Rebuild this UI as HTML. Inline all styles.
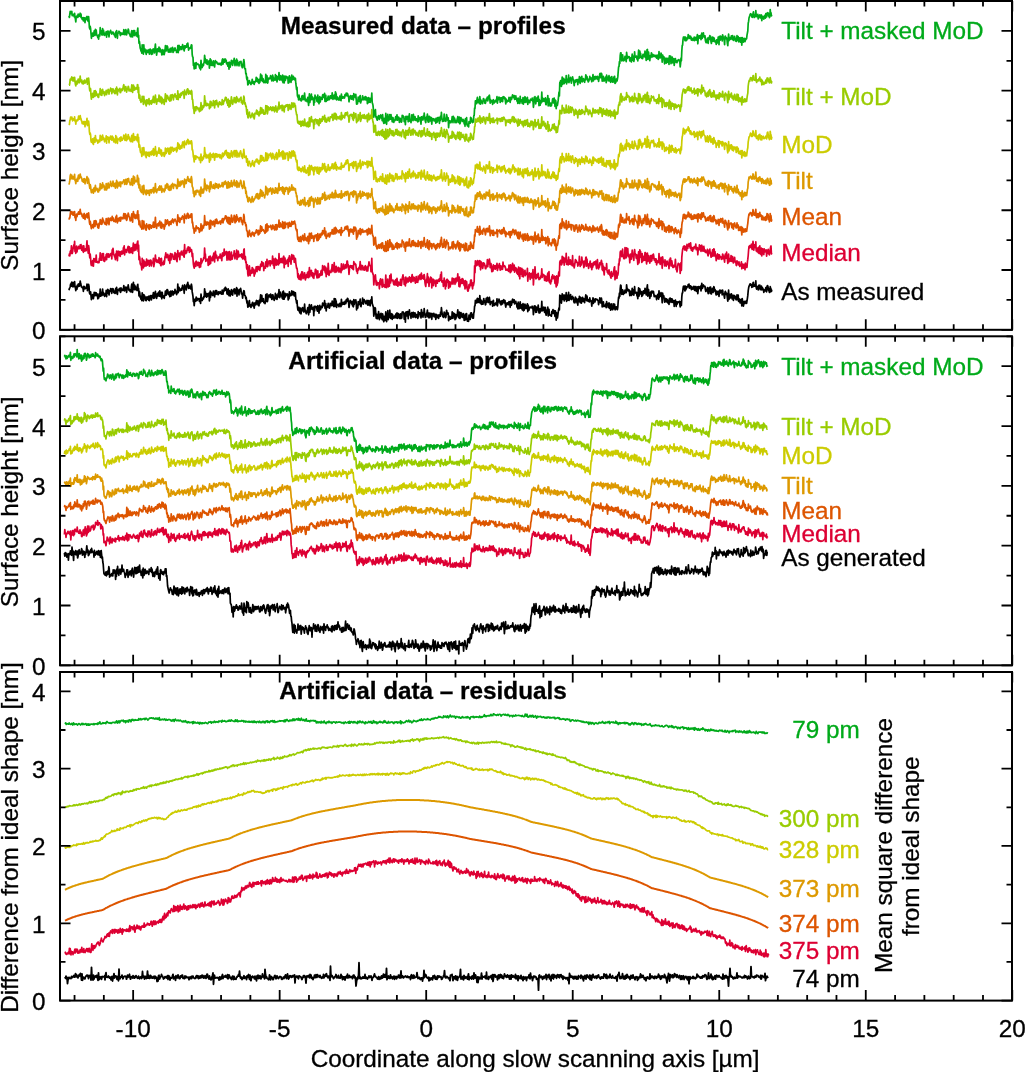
<!DOCTYPE html><html><head><meta charset="utf-8"><style>html,body{margin:0;padding:0;background:#fff;width:1025px;height:1072px;overflow:hidden}</style></head><body><svg width="1025" height="1072" viewBox="0 0 1025 1072" style="display:block;will-change:transform">
<rect width="1025" height="1072" fill="#fff"/>
<path d="M69 290.3l0.4 -1.8 0.4 -0.7 0.4 -1.1 0.4 -2.7 0.4 2.1 0.4 -3.1 0.4 -0.9 0.4 4.4 0.4 -1.4 0.4 1.8 0.4 -4.4 0.4 2.5 0.4 1 0.4 -4.5 0.4 5.5 0.4 0.9 0.4 2.7 0.4 -4 0.4 0.1 0.4 2.4 0.4 -4.1 0.4 2 0.4 -2.8 0.4 -0.3 0.4 2.2 0.4 0 0.4 -2 0.4 -3.1 0.4 2.3 0.4 1.5 0.4 2.1 0.4 -0.4 0.4 1.1 0.4 0.3 0.4 0.2 0.4 3.2 0.4 -4.9 0.4 0.9 0.4 -0.6 0.4 2.2 0.4 -0.9 0.4 0.2 0.4 -0.2 0.4 -0.7 0.4 -3.1 0.4 6.4 0.4 -4.8 0.4 3.5 0.4 -4.9 0.4 1.7 0.4 6.5 0.4 1.4 0.4 -1.8 0.4 -0.4 0.4 3.8 0.4 4 0.4 -2 0.4 0.4 0.4 -3.3 0.4 2.3 0.4 1.7 0.4 -2.8 0.4 -3.5 0.4 1.3 0.4 2 0.4 -3.1 0.4 2.9 0.4 -2.6 0.4 2.7 0.4 -0.2 0.4 -1.4 0.4 4.8 0.4 -2.3 0.4 1.5 0.4 -2.4 0.4 -2.1 0.4 2.8 0.4 -7.3 0.4 7.1 0.4 -1.7 0.4 -1.9 0.4 3.2 0.4 -2.5 0.4 -4.1 0.4 5.9 0.4 -2.7 0.4 2.5 0.4 0 0.4 1.6 0.4 -1.9 0.4 -1.2 0.4 2.2 0.4 -5.1 0.4 6.2 0.4 -5.3 0.4 1.8 0.4 -3.7 0.4 0.6 0.4 0.7 0.4 4.3 0.4 -2.6 0.4 -1.8 0.4 0.4 0.4 -2.3 0.4 2.4 0.4 -0.2 0.4 2.4 0.4 -4.6 0.4 1.8 0.4 -1.1 0.4 -0.4 0.4 3.6 0.4 -1.6 0.4 1.9 0.4 0.4 0.4 -0.9 0.4 -4.1 0.4 4.5 0.4 -5.4 0.4 3 0.4 3.9 0.4 -4.2 0.4 0 0.4 0.2 0.4 -1 0.4 -0.8 0.4 -0.1 0.4 3.4 0.4 0.6 0.4 -4.6 0.4 2.8 0.4 -0.5 0.4 0.2 0.4 -1.3 0.4 1.5 0.4 -1.4 0.4 -3.4 0.4 1.9 0.4 3.3 0.4 -1.5 0.4 -0.7 0.4 -1.7 0.4 2 0.4 3.4 0.4 -2.8 0.4 -2.4 0.4 1.6 0.4 -3.9 0.4 2.4 0.4 3.2 0.4 -1.3 0.4 1.1 0.4 1.1 0.4 -0.8 0.4 1.3 0.4 -5.6 0.4 -2.3 0.4 4.1 0.4 4.2 0.4 -4.9 0.4 -5.1 0.4 4.5 0.4 2.6 0.4 -4.4 0.4 4.9 0.4 -3.6 0.4 2.7 0.4 -1 0.4 1 0.4 1.5 0.4 -5 0.4 -1.1 0.4 6.2 0.4 -2.3 0.4 7.6 0.4 -4.5 0.4 1.6 0.4 4.3 0.4 0 0.4 1.9 0.4 -3.2 0.4 4.6 0.4 -7.8 0.4 3.8 0.4 -0.7 0.4 5 0.4 -6.4 0.4 1.8 0.4 -0.3 0.4 0.8 0.4 3.3 0.4 -0.8 0.4 1.4 0.4 -3.6 0.4 -0.1 0.4 2.2 0.4 -1.3 0.4 -1.4 0.4 3.7 0.4 -4 0.4 4.4 0.4 -3.9 0.4 0.1 0.4 -1.2 0.4 2.3 0.4 2 0.4 -3.6 0.4 -0.9 0.4 2.2 0.4 -1.8 0.4 -3.2 0.4 5.9 0.4 -3 0.4 2.5 0.4 -4.5 0.4 -2.2 0.4 4.4 0.4 -0.4 0.4 3.1 0.4 -2.4 0.4 -2.3 0.4 2.4 0.4 -3.2 0.4 1.6 0.4 -2.6 0.4 4.3 0.4 -5.4 0.4 4.7 0.4 1.1 0.4 -0.4 0.4 -3.9 0.4 6.5 0.4 -6.4 0.4 3 0.4 1.8 0.4 -1 0.4 -0.2 0.4 2.4 0.4 -2.6 0.4 -0.7 0.4 -3.9 0.4 0 0.4 4 0.4 -3.3 0.4 -2.3 0.4 0 0.4 0.7 0.4 4.2 0.4 -1.3 0.4 1.6 0.4 -2.6 0.4 4.5 0.4 -4.4 0.4 -1.1 0.4 4.9 0.4 -3.2 0.4 -1 0.4 -0.9 0.4 0.2 0.4 3.9 0.4 -0.7 0.4 -2.5 0.4 0.3 0.4 1.3 0.4 -4.1 0.4 2.6 0.4 -1 0.4 0.6 0.4 3 0.4 -1.4 0.4 -0.4 0.4 -8.7 0.4 8.6 0.4 -2.9 0.4 -2.5 0.4 1.2 0.4 2.2 0.4 0 0.4 -1.3 0.4 0 0.4 -0.9 0.4 1.7 0.4 -2.3 0.4 -2.5 0.4 2.5 0.4 0.6 0.4 0.2 0.4 4.6 0.4 -8.5 0.4 2.7 0.4 -1.4 0.4 0.3 0.4 3.6 0.4 -2.1 0.4 -3.4 0.4 -0.5 0.4 -1.6 0.4 3.3 0.4 2.8 0.4 -3.1 0.4 2 0.4 0.6 0.4 -1.1 0.4 1.9 0.4 -3.3 0.4 -1.3 0.4 2.1 0.4 5.6 0.4 2.1 0.4 2.6 0.4 5 0.4 -1.7 0.4 5.7 0.4 -4 0.4 -2.5 0.4 0.6 0.4 1.5 0.4 -4.2 0.4 1.1 0.4 2.4 0.4 -0.6 0.4 -1.2 0.4 0.4 0.4 -0.4 0.4 0 0.4 2.6 0.4 -0.8 0.4 -2.1 0.4 5 0.4 -9.2 0.4 3.9 0.4 0.8 0.4 1.6 0.4 -1.9 0.4 -0.8 0.4 1.1 0.4 -2.5 0.4 0.6 0.4 -8.1 0.4 3.6 0.4 -0.5 0.4 4.4 0.4 0.3 0.4 0.4 0.4 -3.5 0.4 2.9 0.4 -2.7 0.4 1.7 0.4 0.6 0.4 -2.9 0.4 7.8 0.4 -3.7 0.4 -6.2 0.4 6.2 0.4 -5.2 0.4 1.6 0.4 -0.6 0.4 1.2 0.4 1.2 0.4 -1.2 0.4 -3.2 0.4 3 0.4 1.1 0.4 1.6 0.4 -3.1 0.4 -3.2 0.4 1.4 0.4 2.2 0.4 -3.4 0.4 1.5 0.4 1.6 0.4 -1 0.4 1.9 0.4 -2.8 0.4 0.3 0.4 0.1 0.4 1.2 0.4 -1.9 0.4 1.7 0.4 0.3 0.4 0.1 0.4 0.5 0.4 -4 0.4 0.9 0.4 3 0.4 -3 0.4 0.4 0.4 -2.6 0.4 1.6 0.4 -2.6 0.4 -0.6 0.4 2.8 0.4 -1.7 0.4 1.6 0.4 4 0.4 -3.1 0.4 3.6 0.4 -5.6 0.4 3.9 0.4 2.8 0.4 -5.1 0.4 1.5 0.4 3.9 0.4 -1.4 0.4 -0.1 0.4 -4.7 0.4 1.7 0.4 2.4 0.4 1.3 0.4 -3 0.4 -2.2 0.4 0.4 0.4 -1.4 0.4 1 0.4 4 0.4 -2.5 0.4 -2.4 0.4 4.2 0.4 -5.7 0.4 8.6 0.4 -7.2 0.4 1.5 0.4 1.7 0.4 -0.5 0.4 3.3 0.4 -5.4 0.4 1.8 0.4 -1.6 0.4 -1.3 0.4 1.9 0.4 3.7 0.4 -0.6 0.4 0.4 0.4 4.3 0.4 -3.9 0.4 -2 0.4 -1.5 0.4 0.2 0.4 4.3 0.4 0.2 0.4 0.8 0.4 2.5 0.4 -1.4 0.4 3.4 0.4 2.4 0.4 -2.1 0.4 6.1 0.4 -1.1 0.4 -1.7 0.4 2 0.4 -5.7 0.4 4.9 0.4 -0.5 0.4 1.2 0.4 1.2 0.4 -3 0.4 -0.3 0.4 -0.8 0.4 -0.9 0.4 3.5 0.4 0.4 0.4 -2.9 0.4 4.7 0.4 -3.4 0.4 -1.8 0.4 0.6 0.4 1.3 0.4 -3.6 0.4 -0.8 0.4 3.6 0.4 -2.4 0.4 -0.6 0.4 4.1 0.4 -3.8 0.4 4.5 0.4 -5.8 0.4 3.3 0.4 -3.8 0.4 -4.6 0.4 7 0.4 -2.1 0.4 -4.4 0.4 4.9 0.4 0.8 0.4 -1.9 0.4 -0.6 0.4 4.1 0.4 -0.1 0.4 -0.7 0.4 1.7 0.4 -1.4 0.4 -7.5 0.4 3.2 0.4 3.3 0.4 -7.4 0.4 7.8 0.4 -2.1 0.4 -3 0.4 0.2 0.4 -1.8 0.4 1.2 0.4 0.3 0.4 0.9 0.4 -3.3 0.4 3.5 0.4 -2.5 0.4 4.4 0.4 -1.1 0.4 -3.5 0.4 0.2 0.4 3.8 0.4 -1.5 0.4 3 0.4 -2 0.4 -1 0.4 -4 0.4 2 0.4 3.5 0.4 -3.8 0.4 4.4 0.4 -2.1 0.4 -0.5 0.4 -3.5 0.4 3.7 0.4 -7.4 0.4 7.1 0.4 0.8 0.4 -5.3 0.4 1.6 0.4 2.2 0.4 -0.5 0.4 -0.3 0.4 3 0.4 -6.3 0.4 7.3 0.4 -8.1 0.4 3.8 0.4 4.2 0.4 -5.5 0.4 -0.3 0.4 3.7 0.4 -2.8 0.4 1.3 0.4 0 0.4 -1.7 0.4 1 0.4 -0.4 0.4 5.6 0.4 -4.2 0.4 2.8 0.4 -6.7 0.4 4.2 0.4 -2 0.4 0.2 0.4 1.2 0.4 -2.2 0.4 -2.4 0.4 2.4 0.4 1.5 0.4 -0.4 0.4 -2.7 0.4 2.6 0.4 1.6 0.4 -3.5 0.4 1.6 0.4 -1.2 0.4 6.5 0.4 0.8 0.4 3 0.4 -2.5 0.4 5.6 0.4 3.3 0.4 0.8 0.4 0.3 0.4 -3.3 0.4 3.2 0.4 2.3 0.4 -1.9 0.4 -2.7 0.4 5.7 0.4 -2.8 0.4 -2.1 0.4 0.3 0.4 -1.8 0.4 3.3 0.4 -0.1 0.4 1.3 0.4 -3 0.4 -4.8 0.4 5.8 0.4 1.9 0.4 -0.8 0.4 2.6 0.4 -1.9 0.4 0.8 0.4 -2.9 0.4 -2 0.4 2.1 0.4 5 0.4 -6.9 0.4 -3.4 0.4 8 0.4 -3.2 0.4 -3.1 0.4 0 0.4 -1.3 0.4 4.2 0.4 0.3 0.4 -1.9 0.4 2.2 0.4 -2.1 0.4 8 0.4 -9.3 0.4 4.7 0.4 -4.5 0.4 0.4 0.4 -0.5 0.4 1 0.4 -0.6 0.4 3.1 0.4 1.2 0.4 -5.5 0.4 4.5 0.4 -1.4 0.4 4.5 0.4 -5.7 0.4 -2.1 0.4 4.5 0.4 -0.3 0.4 -2.6 0.4 -0.5 0.4 1.1 0.4 0 0.4 -4.5 0.4 0.1 0.4 2.4 0.4 -0.1 0.4 0 0.4 -4.8 0.4 7.6 0.4 -2.4 0.4 -2.4 0.4 7.4 0.4 -4.8 0.4 1.3 0.4 -0.1 0.4 -1.6 0.4 -2.3 0.4 3.4 0.4 -0.3 0.4 1.7 0.4 -1.2 0.4 -3.6 0.4 0.5 0.4 0.5 0.4 1.2 0.4 -1.6 0.4 -3 0.4 1.5 0.4 3.2 0.4 -0.1 0.4 0.9 0.4 -7.9 0.4 5.5 0.4 2.2 0.4 -7.5 0.4 2.1 0.4 0.1 0.4 6.4 0.4 -3 0.4 -0.1 0.4 0.9 0.4 -0.9 0.4 1.5 0.4 0.9 0.4 -1.7 0.4 -1.6 0.4 1.9 0.4 0.4 0.4 0.8 0.4 -7.1 0.4 4.3 0.4 0.9 0.4 -0.7 0.4 -1 0.4 -0.6 0.4 1.9 0.4 0.1 0.4 -0.3 0.4 -2.6 0.4 -0.1 0.4 2.3 0.4 -3.8 0.4 2 0.4 -0.8 0.4 -2.6 0.4 0.1 0.4 1.9 0.4 1.8 0.4 5.3 0.4 -2.3 0.4 -2.9 0.4 -2 0.4 0.7 0.4 1.2 0.4 0.7 0.4 1.1 0.4 -2.7 0.4 4.5 0.4 -2.4 0.4 3.4 0.4 -7.2 0.4 4.9 0.4 -1.8 0.4 -2.4 0.4 1.1 0.4 -1.5 0.4 2.8 0.4 7.2 0.4 -3 0.4 1.4 0.4 -0.4 0.4 -6.3 0.4 3.2 0.4 -1.4 0.4 0.7 0.4 -2.7 0.4 -2.3 0.4 6.9 0.4 0.7 0.4 -3.6 0.4 -0.3 0.4 0.7 0.4 -5.4 0.4 5.4 0.4 0.5 0.4 -2.2 0.4 -2.1 0.4 1.7 0.4 0.3 0.4 -0.5 0.4 2.5 0.4 -1.1 0.4 0.4 0.4 -2.7 0.4 4 0.4 0.8 0.4 -0.1 0.4 -4.5 0.4 0.4 0.4 4.1 0.4 -2.7 0.4 3.5 0.4 -5.7 0.4 2.4 0.4 0.3 0.4 -6 0.4 6.3 0.4 1.8 0.4 1 0.4 1.4 0.4 8.9 0.4 -2.9 0.4 0.4 0.4 -6 0.4 0.6 0.4 5.2 0.4 4.8 0.4 -4.2 0.4 3.2 0.4 1.4 0.4 -1.5 0.4 -1.8 0.4 -3.8 0.4 5.2 0.4 2.8 0.4 -3 0.4 -2.5 0.4 0.2 0.4 -1 0.4 4.8 0.4 -3.8 0.4 5.4 0.4 -5.8 0.4 2.1 0.4 3.8 0.4 1.9 0.4 -5.3 0.4 0.5 0.4 3.5 0.4 -2.3 0.4 -6.3 0.4 5.4 0.4 4.5 0.4 -7.9 0.4 4.8 0.4 -8 0.4 9 0.4 -5.6 0.4 3 0.4 0.4 0.4 -7.3 0.4 5 0.4 3.4 0.4 -3.9 0.4 0 0.4 -0.9 0.4 5.7 0.4 -4.8 0.4 1.9 0.4 1 0.4 0.6 0.4 -1.7 0.4 -0.4 0.4 1.7 0.4 -1.2 0.4 -2.5 0.4 3.8 0.4 -1.4 0.4 -3.6 0.4 5.5 0.4 -1.6 0.4 0 0.4 -3 0.4 1.7 0.4 3 0.4 0 0.4 -3.2 0.4 -1.3 0.4 4.6 0.4 -1.5 0.4 0.9 0.4 -5.9 0.4 0.8 0.4 -0.9 0.4 0.7 0.4 0.1 0.4 6.4 0.4 -5.2 0.4 2.2 0.4 6 0.4 -9.9 0.4 -0.2 0.4 4 0.4 -1.3 0.4 -3.1 0.4 -0.1 0.4 7.1 0.4 -4.2 0.4 -1 0.4 -3.5 0.4 4.9 0.4 -1.3 0.4 0.2 0.4 4.6 0.4 -4.8 0.4 -0.9 0.4 0.2 0.4 2 0.4 2.6 0.4 -5.1 0.4 1.2 0.4 0.3 0.4 3.2 0.4 -4.2 0.4 3.6 0.4 1.1 0.4 -3 0.4 0.1 0.4 2.2 0.4 -0.9 0.4 2.5 0.4 -6.8 0.4 5.3 0.4 -3.4 0.4 -0.7 0.4 0.1 0.4 0.7 0.4 1 0.4 3.3 0.4 -8.3 0.4 1.9 0.4 5 0.4 -2.2 0.4 2.9 0.4 -4.5 0.4 1.6 0.4 -5.7 0.4 4.7 0.4 2.3 0.4 1.9 0.4 -0.2 0.4 -2.4 0.4 -1.9 0.4 0.2 0.4 -3.2 0.4 6.8 0.4 -0.5 0.4 -3.2 0.4 4.9 0.4 -5 0.4 4.5 0.4 -2.3 0.4 -1.9 0.4 3.2 0.4 -2.8 0.4 5.6 0.4 -5.6 0.4 1.1 0.4 0.2 0.4 0.9 0.4 -2.5 0.4 3.5 0.4 -1 0.4 -1.3 0.4 -0.3 0.4 5.2 0.4 -5.1 0.4 0.8 0.4 2.4 0.4 -0.1 0.4 -2.5 0.4 1.5 0.4 1.9 0.4 -3.5 0.4 1.5 0.4 -1.3 0.4 1.2 0.4 -4.3 0.4 2.4 0.4 -6.7 0.4 3.3 0.4 2.8 0.4 2.5 0.4 -1.8 0.4 2.9 0.4 -1.7 0.4 -3.5 0.4 2.6 0.4 -1.7 0.4 4.6 0.4 -0.4 0.4 -2.1 0.4 -4.9 0.4 1.4 0.4 1.2 0.4 1.5 0.4 -1.3 0.4 7.5 0.4 -1 0.4 -1.3 0.4 -2 0.4 1.5 0.4 1.4 0.4 -0.7 0.4 -1.4 0.4 1.2 0.4 -6.4 0.4 3.8 0.4 2.6 0.4 -5.3 0.4 0.2 0.4 1 0.4 -0.4 0.4 5.8 0.4 -5 0.4 4.1 0.4 -1.7 0.4 -2.3 0.4 0.5 0.4 -1.9 0.4 -3.4 0.4 7.1 0.4 -1.1 0.4 2 0.4 -5.8 0.4 6.3 0.4 -1.4 0.4 0.6 0.4 -5.1 0.4 3.4 0.4 -0.4 0.4 0.7 0.4 1.3 0.4 -3.9 0.4 0.2 0.4 2.5 0.4 4 0.4 -4.2 0.4 4 0.4 -5.9 0.4 2.3 0.4 2.6 0.4 -5.4 0.4 5.5 0.4 1.9 0.4 -2.5 0.4 2.1 0.4 0.6 0.4 -6.1 0.4 2 0.4 0 0.4 2.2 0.4 -6.2 0.4 0.4 0.4 -0.8 0.4 1.8 0.4 2.9 0.4 0.6 0.4 -3.8 0.4 3.9 0.4 -5.3 0.4 -1.2 0.4 -5.7 0.4 0 0.4 -5.6 0.4 0.9 0.4 -0.6 0.4 2.3 0.4 -3.6 0.4 -1 0.4 3.9 0.4 0 0.4 -0.8 0.4 -3 0.4 4.2 0.4 -7.1 0.4 4.4 0.4 3.2 0.4 -3.1 0.4 4.2 0.4 -3.1 0.4 1.3 0.4 1.7 0.4 -0.1 0.4 -3 0.4 -2.6 0.4 3.6 0.4 -1.4 0.4 2.1 0.4 2.1 0.4 -0.6 0.4 -6 0.4 3.8 0.4 -1.5 0.4 -3.3 0.4 4.2 0.4 1 0.4 -0.3 0.4 -4.1 0.4 -0.8 0.4 3 0.4 4.4 0.4 -2.7 0.4 1 0.4 -1.5 0.4 0.8 0.4 -0.6 0.4 4.4 0.4 -4.3 0.4 -1.5 0.4 5.1 0.4 -1 0.4 1 0.4 -1.5 0.4 -0.8 0.4 0.2 0.4 1.3 0.4 -1.4 0.4 -4.4 0.4 7.1 0.4 -2.8 0.4 -1.8 0.4 0.6 0.4 -2.8 0.4 1.5 0.4 0.8 0.4 2.2 0.4 -1.9 0.4 3.2 0.4 -3.9 0.4 3.5 0.4 -4 0.4 3.2 0.4 -1.9 0.4 -0.7 0.4 -1.4 0.4 1.3 0.4 2 0.4 -2.4 0.4 4.5 0.4 2 0.4 -3.9 0.4 1.8 0.4 -1 0.4 -1.1 0.4 1.4 0.4 -0.6 0.4 1 0.4 -3.2 0.4 1.9 0.4 -0.9 0.4 4.8 0.4 -5.9 0.4 3.6 0.4 0.2 0.4 -1.6 0.4 -3.1 0.4 -1.3 0.4 0.4 0.4 2.6 0.4 0.1 0.4 -2.5 0.4 4.1 0.4 -0.6 0.4 -0.4 0.4 -1.5 0.4 2.3 0.4 0 0.4 3.5 0.4 -3.1 0.4 4.7 0.4 -6.7 0.4 2.7 0.4 3.8 0.4 -0.1 0.4 0 0.4 -6.7 0.4 3.4 0.4 1.9 0.4 1 0.4 -3.2 0.4 4.9 0.4 -2.3 0.4 -4 0.4 7.3 0.4 -3.5 0.4 2.9 0.4 -5.7 0.4 -0.3 0.4 4.3 0.4 -0.4 0.4 -2.4 0.4 2.8 0.4 -2.9 0.4 -1.8 0.4 7.8 0.4 -6.5 0.4 2.8 0.4 2.3 0.4 -2.6 0.4 0.4 0.4 -0.9 0.4 0 0.4 0.5 0.4 -0.3 0.4 0.5 0.4 -1.6 0.4 2.4 0.4 -1 0.4 7 0.4 -3.4 0.4 -5.2 0.4 3.3 0.4 -3.4 0.4 2.7 0.4 3.7 0.4 -5.3 0.4 5.1 0.4 -4.5 0.4 2.4 0.4 -0.3 0.4 -4.7 0.4 3.8 0.4 4.1 0.4 -4 0.4 4 0.4 -0.9 0.4 -3.5 0.4 2.5 0.4 -1.7 0.4 -8 0.4 9.5 0.4 -0.1 0.4 -2.8 0.4 0.3 0.4 -1.2 0.4 3.1 0.4 2.2 0.4 -3.7 0.4 -1.1 0.4 6.3 0.4 1.4 0.4 -4.9 0.4 2.3 0.4 -0.3 0.4 -5.1 0.4 8.8 0.4 -1.5 0.4 -5.2 0.4 5.6 0.4 -0.2 0.4 0.7 0.4 -0.2 0.4 -0.3 0.4 1.3 0.4 -4.7 0.4 1.8 0.4 -2.5 0.4 -1.2 0.4 3.7 0.4 -0.7 0.4 -2.1 0.4 3.2 0.4 2.7 0.4 -5.5 0.4 1.8 0.4 7.5 0.4 -7.3 0.4 5.1 0.4 0 0.4 -2.5 0.4 -3 0.4 -2.9 0.4 -1.7 0.4 2.1 0.4 -14.9 0.4 2.1 0.4 -1.3 0.4 4 0.4 3.3 0.4 -3.6 0.4 -5.8 0.4 5.6 0.4 -0.9 0.4 -3.3 0.4 1 0.4 4.7 0.4 -5.8 0.4 1.8 0.4 1.7 0.4 0.8 0.4 -6.7 0.4 8.7 0.4 -6.3 0.4 2.4 0.4 2.7 0.4 -1.9 0.4 -6 0.4 8.2 0.4 -1.1 0.4 -1.8 0.4 -0.6 0.4 -2.5 0.4 4.4 0.4 0.7 0.4 -2.5 0.4 0.4 0.4 -1.1 0.4 2.4 0.4 -0.9 0.4 3.8 0.4 0.9 0.4 -0.9 0.4 1.1 0.4 -5.7 0.4 4.4 0.4 -3.2 0.4 0.4 0.4 4.2 0.4 -3.1 0.4 5.3 0.4 -4.9 0.4 -1.6 0.4 2.7 0.4 -5 0.4 3.9 0.4 2.5 0.4 -5.3 0.4 0.8 0.4 4.9 0.4 -4.6 0.4 2.9 0.4 -4 0.4 4 0.4 -2.9 0.4 3 0.4 -1 0.4 2.2 0.4 -4.2 0.4 -0.7 0.4 -2.9 0.4 2.4 0.4 3.3 0.4 -4.4 0.4 4.4 0.4 -1.3 0.4 2 0.4 0.1 0.4 -1.7 0.4 2.2 0.4 -4.1 0.4 2.7 0.4 0.3 0.4 -0.1 0.4 1.7 0.4 3.7 0.4 -5.1 0.4 -0.1 0.4 -3 0.4 5.5 0.4 -4.5 0.4 1 0.4 0.5 0.4 1.6 0.4 -2.9 0.4 -0.3 0.4 0.7 0.4 -0.2 0.4 0.6 0.4 -0.3 0.4 0.9 0.4 0.3 0.4 3.8 0.4 -2.5 0.4 -0.3 0.4 -4 0.4 0.7 0.4 4.5 0.4 -1.6 0.4 -3.3 0.4 2.7 0.4 6.2 0.4 -3.7 0.4 3.2 0.4 -4.7 0.4 4.7 0.4 0 0.4 -1 0.4 -0.4 0.4 1.2 0.4 -2.4 0.4 3.8 0.4 -6 0.4 2 0.4 1 0.4 -0.9 0.4 3.6 0.4 -0.9 0.4 -3.7 0.4 5.4 0.4 -0.8 0.4 -3.2 0.4 6 0.4 -1.2 0.4 -3.1 0.4 -2.1 0.4 4.8 0.4 1.1 0.4 -0.6 0.4 -0.8 0.4 -4.4 0.4 0.2 0.4 0.1 0.4 5.4 0.4 0.1 0.4 -1.2 0.4 -1.7 0.4 0.2 0.4 1 0.4 1.6 0.4 -2.6 0.4 -5.6 0.4 -4.2 0.4 0.9 0.4 -4.9 0.4 3.3 0.4 -7.6 0.4 -3.7 0.4 0.4 0.4 5.2 0.4 3.5 0.4 -4.4 0.4 0 0.4 1 0.4 3.6 0.4 -1.8 0.4 0 0.4 0.4 0.4 -3.1 0.4 0.7 0.4 0.7 0.4 1.3 0.4 -7.9 0.4 3.3 0.4 2.3 0.4 -1.3 0.4 1.9 0.4 0 0.4 -1.2 0.4 2.1 0.4 3.7 0.4 -4.4 0.4 2.7 0.4 1.3 0.4 0.2 0.4 -3.4 0.4 -3.6 0.4 6.1 0.4 -1.7 0.4 -2.7 0.4 5.1 0.4 -3.7 0.4 -4.8 0.4 5.1 0.4 1.1 0.4 0 0.4 0.4 0.4 -1 0.4 3.5 0.4 -0.9 0.4 3.7 0.4 -5.7 0.4 -5 0.4 8.3 0.4 -2.6 0.4 -4.8 0.4 2.3 0.4 0.4 0.4 2.6 0.4 -2.5 0.4 4.9 0.4 -3.6 0.4 2.5 0.4 -3.6 0.4 -0.9 0.4 2.7 0.4 -0.3 0.4 -0.3 0.4 -4.7 0.4 1.6 0.4 1.7 0.4 3.4 0.4 -1.9 0.4 -5.5 0.4 -2.7 0.4 11.3 0.4 -2.7 0.4 -3.8 0.4 5.2 0.4 -0.7 0.4 4.2 0.4 -4.5 0.4 -1.9 0.4 4.3 0.4 -5 0.4 -0.1 0.4 1.7 0.4 -1.5 0.4 0.3 0.4 -0.4 0.4 2.5 0.4 2.9 0.4 -0.4 0.4 -0.8 0.4 0.8 0.4 0.6 0.4 -0.4 0.4 3.1 0.4 -4.3 0.4 2.7 0.4 -3.6 0.4 3.4 0.4 1.3 0.4 -8.3 0.4 6.5 0.4 -3.9 0.4 2.6 0.4 0.1 0.4 -3.5 0.4 1.8 0.4 2.4 0.4 6 0.4 -9.6 0.4 3.1 0.4 -0.8 0.4 0.4 0.4 3.1 0.4 3.1 0.4 -3 0.4 -0.6 0.4 0.4 0.4 2.9 0.4 -3 0.4 0.8 0.4 0 0.4 3.2 0.4 -2 0.4 -0.3 0.4 3.9 0.4 -5.9 0.4 2.5 0.4 -3 0.4 1.1 0.4 3.3 0.4 -3.5 0.4 0 0.4 0.2 0.4 3.1 0.4 0.2 0.4 -1.7 0.4 -0.1 0.4 5.8 0.4 -5.2 0.4 0.4 0.4 -1.5 0.4 2 0.4 4.4 0.4 -4.6 0.4 2.3 0.4 -1.4 0.4 -1 0.4 0.5 0.4 0 0.4 0 0.4 -1 0.4 2.9 0.4 2.6 0.4 -1.4 0.4 -3.8 0.4 3.8 0.4 -8.5 0.4 -3.7 0.4 -0.4 0.4 -3.8 0.4 -2.6 0.4 1.6 0.4 -2 0.4 3.6 0.4 1.4 0.4 -4.8 0.4 3.5 0.4 -1.2 0.4 -0.4 0.4 -1.4 0.4 0.1 0.4 0 0.4 -2.3 0.4 0.6 0.4 -1 0.4 4 0.4 -2.3 0.4 2 0.4 -1.9 0.4 1 0.4 2.7 0.4 -2.7 0.4 1.6 0.4 -0.2 0.4 0.8 0.4 -1.6 0.4 -1.2 0.4 1 0.4 3.2 0.4 -4 0.4 1.4 0.4 -1.3 0.4 4.7 0.4 -1.8 0.4 -1.7 0.4 -0.8 0.4 6.7 0.4 -3.8 0.4 -3.4 0.4 0.4 0.4 0.4 0.4 1.1 0.4 -1.2 0.4 -1.2 0.4 5 0.4 -4.4 0.4 -3.2 0.4 5 0.4 -0.5 0.4 -2.4 0.4 -0.5 0.4 1.3 0.4 0.1 0.4 -0.2 0.4 0.1 0.4 3.5 0.4 1.7 0.4 -1.8 0.4 0.9 0.4 -0.7 0.4 -2.3 0.4 4 0.4 2.1 0.4 -5.5 0.4 0.4 0.4 1 0.4 -2.3 0.4 6.1 0.4 -6.3 0.4 5.7 0.4 1.2 0.4 -5 0.4 0.4 0.4 -1.1 0.4 4.2 0.4 -1.1 0.4 -4.9 0.4 1 0.4 3.3 0.4 -1.3 0.4 1.7 0.4 2.6 0.4 1.1 0.4 -3.9 0.4 2.4 0.4 -0.1 0.4 1.2 0.4 -3.1 0.4 1.1 0.4 3.9 0.4 -5.4 0.4 -0.9 0.4 2.9 0.4 -2.4 0.4 -0.2 0.4 0.3 0.4 0.8 0.4 3.3 0.4 -4.7 0.4 2.6 0.4 1.2 0.4 0.1 0.4 2.3 0.4 1.9 0.4 -5.8 0.4 -1.1 0.4 2.1 0.4 1 0.4 -1.2 0.4 1.8 0.4 3.6 0.4 2.6 0.4 -6.9 0.4 -4.1 0.4 9.1 0.4 -4.3 0.4 -0.7 0.4 3.7 0.4 -2.4 0.4 -0.1 0.4 -1.7 0.4 4 0.4 1.2 0.4 -3.7 0.4 1.4 0.4 3.7 0.4 -5 0.4 1.3 0.4 -1 0.4 0.8 0.4 2.3 0.4 -2 0.4 3.1 0.4 -0.8 0.4 -4.3 0.4 3.4 0.4 1.6 0.4 -4.8 0.4 6.5 0.4 -2.8 0.4 0.8 0.4 2.3 0.4 1.1 0.4 -0.2 0.4 -3.3 0.4 1.4 0.4 5.2 0.4 -7.4 0.4 2.3 0.4 1.6 0.4 3.6 0.4 -2.2 0.4 -2.5 0.4 0.2 0.4 1.9 0.4 -1.3 0.4 -0.6 0.4 -0.7 0.4 2.5 0.4 -2.6 0.4 -2.5 0.4 -2.9 0.4 -4.7 0.4 -2.7 0.4 -1.9 0.4 -0.2 0.4 -1.7 0.4 0.9 0.4 -1.1 0.4 0.8 0.4 -0.1 0.4 2.7 0.4 -0.6 0.4 0 0.4 -4 0.4 -0.5 0.4 4.1 0.4 -0.7 0.4 -0.4 0.4 0.8 0.4 0 0.4 -5.3 0.4 6.7 0.4 1.6 0.4 -1.3 0.4 -1.1 0.4 -0.2 0.4 3.3 0.4 -4.4 0.4 1.3 0.4 1.5 0.4 -3.2 0.4 4.6 0.4 -0.5 0.4 0.1 0.4 -3.2 0.4 4 0.4 -2.7 0.4 0.9 0.4 1.5 0.4 -0.5 0.4 3.3 0.4 -2.7 0.4 1.2 0.4 -0.5 0.4 0.4 0.4 -3.4 0.4 2.2 0.4 2.1 0.4 -5.2 0.4 -1 0.4 0.3 0.4 1.9 0.4 2.9 0.4 -1.8 0.4 3.6 0.4 0 0.4 -5.8 0.4 1.6 0.4 0.6 0.4 2.6 0.4 -1.9" fill="none" stroke="#000000" stroke-width="1.7" stroke-linejoin="round"/>
<path d="M69 256.4l0.4 -2.6 0.4 2.2 0.4 -4.2 0.4 -1.1 0.4 2.7 0.4 -7.5 0.4 3.7 0.4 3.9 0.4 -1.5 0.4 -2.8 0.4 -2.1 0.4 -2.3 0.4 3.2 0.4 -6.6 0.4 10.1 0.4 -1.1 0.4 2.9 0.4 -4.7 0.4 -2.5 0.4 5.8 0.4 -4.3 0.4 1.2 0.4 0.1 0.4 -2.5 0.4 0.7 0.4 1.4 0.4 0.1 0.4 -3.8 0.4 0.5 0.4 -0.7 0.4 4 0.4 1.6 0.4 -0.6 0.4 1.2 0.4 -4.9 0.4 6.4 0.4 -6.5 0.4 5.3 0.4 -1 0.4 0.5 0.4 -1.8 0.4 2 0.4 -0.2 0.4 -4.7 0.4 -5 0.4 8.9 0.4 -0.9 0.4 4.3 0.4 -7.5 0.4 2.6 0.4 5.9 0.4 3.6 0.4 -3.6 0.4 3.8 0.4 6 0.4 1.5 0.4 0 0.4 -1.2 0.4 -3.8 0.4 5.4 0.4 0.2 0.4 -7.5 0.4 1.5 0.4 1.6 0.4 -1.2 0.4 -2.2 0.4 3.8 0.4 -7 0.4 7.1 0.4 -0.4 0.4 -0.1 0.4 0.8 0.4 -0.9 0.4 1 0.4 0 0.4 -4.2 0.4 1.5 0.4 -7.1 0.4 5.7 0.4 1.7 0.4 -0.6 0.4 0.6 0.4 -6.7 0.4 0.9 0.4 2.7 0.4 -3.5 0.4 7.4 0.4 -1.4 0.4 1.9 0.4 -3.4 0.4 -1.1 0.4 2.7 0.4 -5.2 0.4 5.1 0.4 -5.9 0.4 2.3 0.4 0.8 0.4 -0.9 0.4 -2 0.4 3.4 0.4 -1.5 0.4 0 0.4 -0.4 0.4 -1.6 0.4 0.1 0.4 -0.8 0.4 5.8 0.4 -9 0.4 4.3 0.4 -5.8 0.4 3.6 0.4 3 0.4 -0.2 0.4 2 0.4 0.4 0.4 2.5 0.4 -5.8 0.4 4.3 0.4 -7.1 0.4 2.2 0.4 7.4 0.4 -7.4 0.4 -2.1 0.4 0.5 0.4 3.8 0.4 -4 0.4 1.7 0.4 3.3 0.4 -3.1 0.4 -1.8 0.4 2.6 0.4 -3 0.4 2.8 0.4 -1.6 0.4 1 0.4 -5.6 0.4 -0.4 0.4 -1.5 0.4 9 0.4 -3.3 0.4 -2 0.4 -0.1 0.4 0.6 0.4 2.2 0.4 -1.7 0.4 -1.7 0.4 -1.3 0.4 -1.3 0.4 3 0.4 3.4 0.4 -5.9 0.4 6 0.4 -2.2 0.4 -2.2 0.4 4.1 0.4 -1.9 0.4 -2.7 0.4 1 0.4 4.5 0.4 -6.5 0.4 -3.7 0.4 6 0.4 1.5 0.4 -3.7 0.4 -2.5 0.4 3.7 0.4 2 0.4 -5.9 0.4 2.1 0.4 2.3 0.4 -6.7 0.4 -0.9 0.4 10.3 0.4 -6.2 0.4 14.5 0.4 -3.3 0.4 1.5 0.4 5.7 0.4 1.2 0.4 -0.9 0.4 2 0.4 4 0.4 -11.6 0.4 6.4 0.4 -2.5 0.4 5.7 0.4 -7.8 0.4 6.4 0.4 -4.9 0.4 1.2 0.4 3.2 0.4 -0.4 0.4 0.2 0.4 -6.7 0.4 3.8 0.4 2.2 0.4 -0.8 0.4 -4 0.4 3 0.4 -2.4 0.4 5.3 0.4 -3.9 0.4 -2.3 0.4 2.5 0.4 -2.2 0.4 5.7 0.4 -2.6 0.4 -0.5 0.4 -0.8 0.4 0.4 0.4 -4.2 0.4 8.3 0.4 -2.4 0.4 -2.1 0.4 -1.3 0.4 -5.7 0.4 4.9 0.4 -0.5 0.4 2.2 0.4 0.7 0.4 -1 0.4 0 0.4 -1.8 0.4 2.9 0.4 -4.8 0.4 5.4 0.4 -4.3 0.4 0.2 0.4 5.9 0.4 0.8 0.4 -7.4 0.4 5.6 0.4 -0.8 0.4 -0.3 0.4 2 0.4 -1.4 0.4 -2.2 0.4 2.9 0.4 -2.9 0.4 -4.4 0.4 -0.9 0.4 -3.1 0.4 3.4 0.4 1.4 0.4 -2 0.4 -1.1 0.4 -0.1 0.4 3.4 0.4 2.7 0.4 -3.8 0.4 -0.7 0.4 7.3 0.4 -8.5 0.4 -1.2 0.4 6.4 0.4 -4.9 0.4 -1 0.4 2.3 0.4 -2.1 0.4 2.7 0.4 2.1 0.4 -1 0.4 -2.1 0.4 3.5 0.4 -7 0.4 6.1 0.4 -3.5 0.4 -1.1 0.4 6.4 0.4 1.2 0.4 -4.4 0.4 -6.7 0.4 6.1 0.4 -1.5 0.4 -0.1 0.4 -1.9 0.4 6.6 0.4 -6.3 0.4 0.8 0.4 -1.7 0.4 -1.3 0.4 3.8 0.4 -1.3 0.4 -0.5 0.4 1.8 0.4 -4.3 0.4 6.1 0.4 0.2 0.4 -12.4 0.4 8.1 0.4 -2.2 0.4 3.1 0.4 -1.8 0.4 0.9 0.4 -2.2 0.4 -2.3 0.4 2 0.4 -3.4 0.4 2.8 0.4 -0.4 0.4 3.1 0.4 -4.9 0.4 1.8 0.4 2.1 0.4 -0.2 0.4 -1.6 0.4 2 0.4 5.1 0.4 -3.2 0.4 5.6 0.4 5.1 0.4 2.5 0.4 1.5 0.4 -4.7 0.4 2.1 0.4 -3.4 0.4 4.4 0.4 -5.4 0.4 0.7 0.4 0.6 0.4 2.4 0.4 0.7 0.4 -0.7 0.4 -2.5 0.4 0.6 0.4 4.6 0.4 -0.7 0.4 -4.3 0.4 4.5 0.4 -8.4 0.4 5 0.4 -2.1 0.4 0.4 0.4 -1.6 0.4 -0.1 0.4 -1 0.4 -1.7 0.4 0.6 0.4 -10.1 0.4 6.6 0.4 -0.4 0.4 7.2 0.4 -0.6 0.4 -1.5 0.4 -0.1 0.4 0.8 0.4 -0.3 0.4 5.8 0.4 -6 0.4 -2.8 0.4 7.7 0.4 -0.4 0.4 -8 0.4 7.4 0.4 -4.3 0.4 1 0.4 -1.4 0.4 -1.5 0.4 3.5 0.4 -4.6 0.4 -0.4 0.4 -2.5 0.4 5.8 0.4 3 0.4 -8.2 0.4 -2.4 0.4 4.8 0.4 1.8 0.4 -2.7 0.4 2.5 0.4 -0.5 0.4 3.3 0.4 -3.3 0.4 0.2 0.4 -0.8 0.4 0 0.4 1.3 0.4 -3.8 0.4 2.9 0.4 0.9 0.4 -0.6 0.4 3.2 0.4 -6.9 0.4 -0.7 0.4 3.4 0.4 -1 0.4 0 0.4 -6.3 0.4 6.3 0.4 -2.9 0.4 0.4 0.4 0.9 0.4 -2.3 0.4 0.3 0.4 8.4 0.4 -5.6 0.4 3.8 0.4 -6.4 0.4 4.1 0.4 3.8 0.4 -8.4 0.4 4.6 0.4 1.9 0.4 2 0.4 -1.9 0.4 -5.9 0.4 6.4 0.4 0.5 0.4 -2 0.4 -1.4 0.4 -0.9 0.4 0.6 0.4 -4.6 0.4 4 0.4 4 0.4 -4.8 0.4 0.3 0.4 1.9 0.4 -6.2 0.4 9.4 0.4 -5.6 0.4 3.8 0.4 -6.5 0.4 2.3 0.4 3.3 0.4 -1.6 0.4 0.8 0.4 -1 0.4 -0.3 0.4 1.2 0.4 1.3 0.4 -3.2 0.4 2.9 0.4 2.1 0.4 -3.9 0.4 3.4 0.4 -8.8 0.4 -0.6 0.4 10.7 0.4 0 0.4 -3 0.4 6.1 0.4 -1 0.4 6.2 0.4 1.3 0.4 -4.5 0.4 9.3 0.4 1.9 0.4 -1.1 0.4 -6.5 0.4 -2.5 0.4 6.1 0.4 3.7 0.4 -2.4 0.4 -1.3 0.4 -2 0.4 3.1 0.4 -5.5 0.4 0.5 0.4 4.5 0.4 0.4 0.4 -3.7 0.4 6.8 0.4 -5.8 0.4 3.5 0.4 -3.3 0.4 -0.1 0.4 -3.6 0.4 0 0.4 4.9 0.4 -5.1 0.4 0.1 0.4 2.9 0.4 -3.1 0.4 2.7 0.4 -1.9 0.4 3 0.4 -2.7 0.4 -3.1 0.4 -0.7 0.4 2.5 0.4 -4.7 0.4 4.2 0.4 0 0.4 -2.9 0.4 0.2 0.4 7.6 0.4 -4.3 0.4 0.6 0.4 1.1 0.4 0 0.4 -6.2 0.4 2.5 0.4 1.7 0.4 -6.8 0.4 7.4 0.4 -0.6 0.4 -2.5 0.4 -0.4 0.4 -2.3 0.4 0 0.4 2.2 0.4 2.7 0.4 -4.9 0.4 2.7 0.4 -1.9 0.4 1.9 0.4 -0.2 0.4 -7.4 0.4 5.3 0.4 4.1 0.4 -6.2 0.4 9.1 0.4 -3.7 0.4 -0.3 0.4 -5.9 0.4 2.3 0.4 4.5 0.4 -5.5 0.4 2.1 0.4 -1.5 0.4 4.4 0.4 -3.1 0.4 3.2 0.4 -11.1 0.4 9.5 0.4 -1.2 0.4 -3.5 0.4 2.6 0.4 1.4 0.4 -1.9 0.4 -2.3 0.4 4.1 0.4 -3.8 0.4 4.2 0.4 -5.9 0.4 -0.7 0.4 11.6 0.4 -7.5 0.4 -2.1 0.4 5.1 0.4 0.7 0.4 -2.6 0.4 -0.5 0.4 2.3 0.4 -3.6 0.4 1 0.4 5.8 0.4 -8.6 0.4 3.9 0.4 -5.8 0.4 4.4 0.4 -1.6 0.4 2.5 0.4 2.9 0.4 -7.4 0.4 -2.1 0.4 4.8 0.4 -1.5 0.4 0.6 0.4 -3.1 0.4 0.6 0.4 6.3 0.4 -4.4 0.4 2.3 0.4 -1.6 0.4 4.5 0.4 2.8 0.4 2.5 0.4 -0.2 0.4 3 0.4 6.1 0.4 -3.6 0.4 5.3 0.4 -3.2 0.4 0.7 0.4 2.9 0.4 -3 0.4 -2 0.4 5.6 0.4 -5 0.4 -3.1 0.4 4.1 0.4 -3.8 0.4 6.4 0.4 -2.2 0.4 1.2 0.4 -1.7 0.4 -3.1 0.4 5.2 0.4 1.9 0.4 -4.4 0.4 -0.5 0.4 2.7 0.4 -0.2 0.4 -4.6 0.4 0.1 0.4 -1.3 0.4 5.9 0.4 -3.6 0.4 -6.4 0.4 9 0.4 -4.2 0.4 -1.7 0.4 0.3 0.4 -0.6 0.4 5.5 0.4 -0.7 0.4 -2.4 0.4 4.8 0.4 -4.3 0.4 5 0.4 -4.3 0.4 1 0.4 -2.1 0.4 -3.6 0.4 0.2 0.4 1.4 0.4 4 0.4 2.9 0.4 -1.9 0.4 -5 0.4 6.7 0.4 -2.9 0.4 2.7 0.4 -1.6 0.4 -1.9 0.4 1.7 0.4 -1 0.4 -3.4 0.4 -0.8 0.4 4.7 0.4 -0.3 0.4 -9.2 0.4 1.3 0.4 0.7 0.4 2.3 0.4 -0.2 0.4 -3.6 0.4 5.1 0.4 1.7 0.4 -5.5 0.4 9.2 0.4 -5.3 0.4 -2.3 0.4 5.2 0.4 -2.8 0.4 -8.1 0.4 6.3 0.4 5.8 0.4 -2.2 0.4 -2 0.4 0.6 0.4 -0.6 0.4 1.2 0.4 -3 0.4 -0.6 0.4 -4.3 0.4 1.7 0.4 5.4 0.4 -5.1 0.4 1.8 0.4 -5.6 0.4 5.4 0.4 4.4 0.4 -4.9 0.4 0.4 0.4 -1.7 0.4 5.6 0.4 -0.9 0.4 -0.6 0.4 -2 0.4 -1 0.4 1.6 0.4 3.2 0.4 -4.2 0.4 0.8 0.4 2.4 0.4 -2.5 0.4 3.9 0.4 -8.8 0.4 6.7 0.4 -1.8 0.4 0.6 0.4 -0.2 0.4 -5.1 0.4 4.9 0.4 0.1 0.4 -1 0.4 0.4 0.4 -3.7 0.4 1.1 0.4 1.9 0.4 0.1 0.4 -6.8 0.4 0.1 0.4 3.5 0.4 0 0.4 3.2 0.4 6.6 0.4 -4.5 0.4 -3.8 0.4 1.2 0.4 -1.7 0.4 0.7 0.4 -0.4 0.4 2.3 0.4 -2.3 0.4 3 0.4 -2.6 0.4 3.3 0.4 -7.9 0.4 2.6 0.4 -1.1 0.4 0.2 0.4 1.4 0.4 -0.4 0.4 3.8 0.4 3 0.4 -2.7 0.4 4.8 0.4 -4 0.4 0.8 0.4 -0.1 0.4 -2.7 0.4 0.8 0.4 -1.5 0.4 -5.1 0.4 8.1 0.4 0.2 0.4 -1.7 0.4 -2.8 0.4 3.2 0.4 -2.6 0.4 4.1 0.4 -1.6 0.4 -1 0.4 -0.2 0.4 3 0.4 -4 0.4 -0.5 0.4 3.3 0.4 -1.9 0.4 3.9 0.4 -3.8 0.4 0.3 0.4 3.4 0.4 -5 0.4 -0.9 0.4 -3.2 0.4 2.9 0.4 0.7 0.4 0.7 0.4 0.2 0.4 5.3 0.4 -4.9 0.4 -8.3 0.4 13.2 0.4 1.1 0.4 1.5 0.4 0.9 0.4 9.9 0.4 -4.3 0.4 -1.1 0.4 -2.6 0.4 -2.2 0.4 5.2 0.4 4.8 0.4 -3.7 0.4 4.2 0.4 -1.5 0.4 -0.8 0.4 0.6 0.4 -0.7 0.4 1.2 0.4 4.7 0.4 -6.8 0.4 -2 0.4 -1.2 0.4 1.6 0.4 4.6 0.4 -3.4 0.4 5.5 0.4 -7.8 0.4 4.3 0.4 2.8 0.4 -0.2 0.4 -1.4 0.4 0.3 0.4 2.3 0.4 -4.5 0.4 -7.8 0.4 8.7 0.4 3.8 0.4 -6.9 0.4 1.7 0.4 -3.4 0.4 7.8 0.4 -4.4 0.4 1 0.4 2.7 0.4 -10.5 0.4 4.5 0.4 2.8 0.4 -8.8 0.4 6.6 0.4 -0.9 0.4 0.9 0.4 -0.3 0.4 -0.3 0.4 2.9 0.4 1.6 0.4 -2.8 0.4 3.2 0.4 -4.2 0.4 -0.3 0.4 -0.8 0.4 5.4 0.4 -3.3 0.4 -3.4 0.4 4.1 0.4 3.7 0.4 -1.4 0.4 -2.6 0.4 0.4 0.4 1.9 0.4 0.5 0.4 -0.9 0.4 -4.7 0.4 5.8 0.4 0.1 0.4 -3.2 0.4 -3.6 0.4 -1.9 0.4 -1.7 0.4 4.3 0.4 -1.8 0.4 7 0.4 -4 0.4 0.7 0.4 4.9 0.4 -9 0.4 1.7 0.4 4.1 0.4 -1.3 0.4 -2.3 0.4 -1.2 0.4 4 0.4 -1.2 0.4 -1.5 0.4 -2.5 0.4 4 0.4 0.1 0.4 -3 0.4 4.5 0.4 -2.4 0.4 -3.4 0.4 -2.1 0.4 4.5 0.4 2.4 0.4 -3.4 0.4 -0.8 0.4 0.2 0.4 1.7 0.4 2 0.4 2.1 0.4 -3.4 0.4 -3.2 0.4 5.6 0.4 -1.7 0.4 1.3 0.4 0.5 0.4 -6.1 0.4 3.8 0.4 -1.6 0.4 0.5 0.4 -3.8 0.4 -0.4 0.4 2.7 0.4 2.1 0.4 -6.3 0.4 5.1 0.4 -2.2 0.4 2.3 0.4 -0.8 0.4 -2.2 0.4 3.7 0.4 -4.5 0.4 2.7 0.4 5.3 0.4 2.6 0.4 1.2 0.4 -5 0.4 -1.8 0.4 -1.1 0.4 -4.8 0.4 8.9 0.4 -5.7 0.4 1.8 0.4 7.7 0.4 -5.7 0.4 0.3 0.4 -1.2 0.4 -2.8 0.4 5.7 0.4 -4.8 0.4 10 0.4 -7.9 0.4 0.3 0.4 -1.1 0.4 6.4 0.4 -6.1 0.4 3.5 0.4 -0.3 0.4 -1.6 0.4 2.2 0.4 3.1 0.4 -6.3 0.4 1.3 0.4 1 0.4 0.8 0.4 -3.2 0.4 0.2 0.4 1 0.4 -2.1 0.4 2.2 0.4 -1.3 0.4 -1.7 0.4 -3.6 0.4 5.4 0.4 -8.1 0.4 9.8 0.4 0.4 0.4 -1.2 0.4 -0.1 0.4 5.5 0.4 -4 0.4 -4.3 0.4 7.1 0.4 -4.3 0.4 8 0.4 -6.4 0.4 3.8 0.4 -6.6 0.4 -0.4 0.4 0 0.4 2.8 0.4 -1.6 0.4 7.7 0.4 -1 0.4 -2.5 0.4 -3.2 0.4 5.3 0.4 -2.9 0.4 -1.3 0.4 1.3 0.4 -0.7 0.4 -5.2 0.4 5.4 0.4 0.7 0.4 -5.6 0.4 3.8 0.4 -2.1 0.4 -0.8 0.4 4.9 0.4 -5.9 0.4 4.3 0.4 -1.7 0.4 -2.8 0.4 2.7 0.4 -1.9 0.4 -5.1 0.4 7.3 0.4 -0.9 0.4 6.2 0.4 -9.5 0.4 9.8 0.4 -2.3 0.4 -1.7 0.4 -3.2 0.4 3.7 0.4 -2.3 0.4 -2.3 0.4 4.6 0.4 -4.1 0.4 2.7 0.4 1.7 0.4 2.1 0.4 -4.7 0.4 8 0.4 -8.3 0.4 2.6 0.4 4.4 0.4 -6.1 0.4 4.5 0.4 3.5 0.4 1.5 0.4 -0.1 0.4 -2.6 0.4 -3.8 0.4 3.3 0.4 -3.7 0.4 1.6 0.4 -5.3 0.4 -0.6 0.4 0.3 0.4 5.3 0.4 0.9 0.4 2.4 0.4 -5.9 0.4 2.8 0.4 -2.1 0.4 -2.5 0.4 -15.3 0.4 6.9 0.4 -11.8 0.4 4.2 0.4 -1.9 0.4 2.5 0.4 -3.2 0.4 -1.9 0.4 4.3 0.4 -2.4 0.4 -1.2 0.4 -0.2 0.4 5 0.4 -5.6 0.4 4.4 0.4 4.9 0.4 -8.1 0.4 3.4 0.4 -2.2 0.4 2.4 0.4 3.2 0.4 -1.8 0.4 -3.9 0.4 1.9 0.4 -1.4 0.4 1.3 0.4 1.3 0.4 2.7 0.4 0.1 0.4 -1.8 0.4 -1.2 0.4 -0.4 0.4 -5.8 0.4 7.3 0.4 -5 0.4 2 0.4 -2.3 0.4 -2.5 0.4 2.9 0.4 5.7 0.4 -2.4 0.4 -1.6 0.4 2.9 0.4 5.1 0.4 -5.1 0.4 4.8 0.4 -0.4 0.4 -6.1 0.4 4.3 0.4 -1.7 0.4 -1.5 0.4 1.3 0.4 1.9 0.4 -3.6 0.4 2.7 0.4 -0.4 0.4 -4.5 0.4 7.2 0.4 -1.9 0.4 -3 0.4 1.7 0.4 -0.7 0.4 -3.1 0.4 3.7 0.4 2.9 0.4 -4.3 0.4 3.9 0.4 -2.6 0.4 1.9 0.4 -3.1 0.4 3.4 0.4 -7.2 0.4 4 0.4 -0.6 0.4 1 0.4 -0.5 0.4 0.3 0.4 1.1 0.4 2.7 0.4 -0.4 0.4 0 0.4 0.3 0.4 -0.8 0.4 0.5 0.4 1 0.4 0.6 0.4 -6.3 0.4 4.7 0.4 -1.9 0.4 4.8 0.4 -7.7 0.4 7.1 0.4 -4.2 0.4 2.9 0.4 -4.4 0.4 -2.9 0.4 2.7 0.4 2.6 0.4 1.6 0.4 -5.1 0.4 6.9 0.4 -2.9 0.4 -1.7 0.4 0.4 0.4 0.5 0.4 3.2 0.4 1.8 0.4 -4 0.4 5 0.4 -2.4 0.4 -4.9 0.4 9 0.4 -4.3 0.4 7 0.4 -10.9 0.4 5.4 0.4 -2.8 0.4 3.6 0.4 -5.8 0.4 8.1 0.4 -1.1 0.4 -5.6 0.4 7.1 0.4 -3 0.4 0.3 0.4 -2 0.4 -1.8 0.4 5.4 0.4 -2.7 0.4 0.9 0.4 -0.7 0.4 0.8 0.4 -5.6 0.4 12.8 0.4 -4.7 0.4 -0.1 0.4 -0.5 0.4 -3.1 0.4 3.4 0.4 3.3 0.4 -4.9 0.4 -0.8 0.4 -0.3 0.4 4.3 0.4 -3.6 0.4 0.8 0.4 -5.4 0.4 15.3 0.4 -6.4 0.4 -2.2 0.4 -0.1 0.4 -9.3 0.4 7.3 0.4 4.6 0.4 -4.3 0.4 4 0.4 -3 0.4 -1.1 0.4 2.7 0.4 -3.8 0.4 3.9 0.4 2.4 0.4 -2 0.4 1.5 0.4 -0.9 0.4 -0.1 0.4 -2.5 0.4 -0.5 0.4 -6.2 0.4 8.4 0.4 -2.2 0.4 -0.7 0.4 1.2 0.4 -0.9 0.4 1.9 0.4 3.8 0.4 -4.5 0.4 0.3 0.4 2.5 0.4 2.4 0.4 -4.6 0.4 4.2 0.4 -5 0.4 -2.7 0.4 7.6 0.4 -2.4 0.4 -6.7 0.4 10.6 0.4 -2.3 0.4 3.2 0.4 0.8 0.4 -3.2 0.4 0.8 0.4 -4.6 0.4 -0.2 0.4 -1.7 0.4 3.7 0.4 -1 0.4 -0.4 0.4 -1.2 0.4 3.4 0.4 3.9 0.4 -6.5 0.4 3.6 0.4 6.5 0.4 -11.1 0.4 9.7 0.4 -1.8 0.4 -1.1 0.4 -5 0.4 -4.6 0.4 -1.3 0.4 4.2 0.4 -14 0.4 -0.6 0.4 -1 0.4 1.6 0.4 3 0.4 -0.6 0.4 -8 0.4 6.4 0.4 -3.4 0.4 -1.9 0.4 0.5 0.4 7.2 0.4 -6.8 0.4 2.4 0.4 1.3 0.4 0 0.4 -8.7 0.4 11.2 0.4 -4.4 0.4 0.9 0.4 2.6 0.4 1.4 0.4 -7.9 0.4 6.5 0.4 0.5 0.4 -3.2 0.4 -1 0.4 0.1 0.4 4.6 0.4 -1.4 0.4 -0.8 0.4 3.3 0.4 -10 0.4 10.2 0.4 -2.1 0.4 0.5 0.4 3.5 0.4 -2.2 0.4 -2.9 0.4 -3 0.4 2.7 0.4 -2 0.4 1.6 0.4 0.4 0.4 0 0.4 3.7 0.4 -1.2 0.4 -2 0.4 0.4 0.4 -6.9 0.4 7 0.4 3.1 0.4 -3 0.4 -1.7 0.4 3.1 0.4 -7.9 0.4 4.1 0.4 1.6 0.4 -1.5 0.4 1.8 0.4 4.6 0.4 -6.5 0.4 5.3 0.4 -4.5 0.4 0.1 0.4 -4.7 0.4 -0.1 0.4 8.9 0.4 -6.9 0.4 6 0.4 -1.7 0.4 1.2 0.4 3.7 0.4 -2.1 0.4 -2.2 0.4 -0.9 0.4 -2 0.4 3.5 0.4 2.6 0.4 -3.5 0.4 5.9 0.4 -5.6 0.4 3.2 0.4 -4.2 0.4 2.6 0.4 -2.7 0.4 -1.1 0.4 1.7 0.4 0.9 0.4 -0.5 0.4 -2.9 0.4 5.4 0.4 2.1 0.4 -2 0.4 -7 0.4 4.7 0.4 1.4 0.4 3.3 0.4 -4 0.4 2.1 0.4 -4.3 0.4 2.2 0.4 -1 0.4 -1.8 0.4 -1.9 0.4 2.2 0.4 7.3 0.4 -6.1 0.4 7 0.4 -4.5 0.4 5 0.4 3.8 0.4 -7.4 0.4 1.1 0.4 0.4 0.4 -1.1 0.4 1.6 0.4 -6 0.4 6.3 0.4 2.4 0.4 -1.2 0.4 2.9 0.4 -2.3 0.4 -1.8 0.4 2.7 0.4 2.5 0.4 -1.7 0.4 3.5 0.4 1.2 0.4 -6.6 0.4 2 0.4 2.3 0.4 0.6 0.4 -2.4 0.4 0.5 0.4 -3.9 0.4 -2.7 0.4 -1.1 0.4 13 0.4 -5.5 0.4 3.7 0.4 -6.8 0.4 6.2 0.4 0.9 0.4 -5.2 0.4 2 0.4 -2.3 0.4 -9 0.4 1.5 0.4 -6.4 0.4 2.1 0.4 -8.8 0.4 -1.2 0.4 0 0.4 1.9 0.4 3.8 0.4 -1.9 0.4 -5.6 0.4 6.9 0.4 -1.3 0.4 3.9 0.4 -0.8 0.4 0.8 0.4 -11.1 0.4 5.7 0.4 0.1 0.4 4.4 0.4 -10 0.4 3.9 0.4 3.5 0.4 -6.5 0.4 8 0.4 -2.5 0.4 1.7 0.4 0.9 0.4 6 0.4 -6.3 0.4 -2.4 0.4 5.2 0.4 -0.2 0.4 -3.7 0.4 -5.2 0.4 6.3 0.4 -2 0.4 1.4 0.4 4.5 0.4 -7.9 0.4 -2.9 0.4 3.3 0.4 1.6 0.4 0 0.4 3.6 0.4 -3.5 0.4 4.1 0.4 0.8 0.4 4.9 0.4 -6.4 0.4 -6.2 0.4 11.2 0.4 -6.3 0.4 -6.8 0.4 1.3 0.4 0.4 0.4 5.9 0.4 -1.5 0.4 6.5 0.4 -8.8 0.4 7.7 0.4 -4.9 0.4 -0.2 0.4 2.5 0.4 1.5 0.4 -2.2 0.4 -5.6 0.4 0.3 0.4 7.7 0.4 -0.1 0.4 3.6 0.4 -10.5 0.4 -0.4 0.4 8.2 0.4 -1.8 0.4 -3.8 0.4 2.8 0.4 2.2 0.4 2.4 0.4 -2.9 0.4 -4.7 0.4 5.9 0.4 -4.4 0.4 3.8 0.4 -5.7 0.4 3.2 0.4 -2.9 0.4 -1.3 0.4 2.4 0.4 3.6 0.4 -0.8 0.4 -0.4 0.4 3.3 0.4 -3.3 0.4 0.1 0.4 5.8 0.4 -4.1 0.4 1.9 0.4 -1.2 0.4 1.1 0.4 -1.2 0.4 -7.7 0.4 9.2 0.4 -1.9 0.4 3.5 0.4 -2.6 0.4 -4.4 0.4 4.3 0.4 0.3 0.4 6.3 0.4 -11.4 0.4 2.9 0.4 2.6 0.4 0.2 0.4 -0.9 0.4 4.3 0.4 -6.1 0.4 3.2 0.4 0.7 0.4 2.4 0.4 -4.2 0.4 -0.9 0.4 0.4 0.4 3.2 0.4 0 0.4 -1.7 0.4 5.6 0.4 -8.7 0.4 3.2 0.4 -4.8 0.4 -0.2 0.4 7.8 0.4 -0.5 0.4 -4.5 0.4 3 0.4 2.8 0.4 0.8 0.4 -0.1 0.4 -2 0.4 1.5 0.4 -1.1 0.4 -1 0.4 -5.4 0.4 6.2 0.4 4 0.4 -0.5 0.4 2.8 0.4 -2.4 0.4 -4.3 0.4 -1.9 0.4 0.3 0.4 0.4 0.4 0.1 0.4 2.2 0.4 7.2 0.4 -5.5 0.4 -5.4 0.4 7.7 0.4 -13 0.4 -4.3 0.4 -3.5 0.4 -1.1 0.4 -1.7 0.4 -0.4 0.4 -0.5 0.4 4.1 0.4 -0.5 0.4 0.5 0.4 -3.5 0.4 3.3 0.4 1.1 0.4 -6.4 0.4 3.6 0.4 0.4 0.4 -3.4 0.4 1.3 0.4 -2.8 0.4 1.7 0.4 0.8 0.4 2.2 0.4 -5.4 0.4 5.3 0.4 2.3 0.4 -2.7 0.4 0 0.4 3.4 0.4 -3.1 0.4 0.6 0.4 0.2 0.4 -2.2 0.4 0.8 0.4 -0.3 0.4 0.8 0.4 -3.7 0.4 5.4 0.4 0.1 0.4 -2.1 0.4 -0.1 0.4 7.3 0.4 -5.2 0.4 -0.7 0.4 1 0.4 -5.1 0.4 4.4 0.4 -3.7 0.4 2.6 0.4 3.4 0.4 -4.9 0.4 -1.4 0.4 3 0.4 1.8 0.4 1.1 0.4 -4.1 0.4 -0.7 0.4 2.5 0.4 2.7 0.4 -1.7 0.4 2.7 0.4 0 0.4 -1.3 0.4 1.5 0.4 -0.7 0.4 -2.6 0.4 5.6 0.4 0.8 0.4 -4.6 0.4 -0.1 0.4 -1.1 0.4 -0.9 0.4 4.8 0.4 -1.8 0.4 5.1 0.4 -0.3 0.4 -1.7 0.4 1 0.4 -6.3 0.4 4.7 0.4 1.3 0.4 -7.1 0.4 0.5 0.4 6.5 0.4 -4.2 0.4 5 0.4 -1.5 0.4 5.5 0.4 -4 0.4 0.6 0.4 -3.4 0.4 4.8 0.4 -4.1 0.4 2.1 0.4 2.5 0.4 -4.2 0.4 2.6 0.4 -0.2 0.4 -0.6 0.4 0.4 0.4 2.2 0.4 -1 0.4 0.5 0.4 -4.8 0.4 0.8 0.4 3.8 0.4 -2.1 0.4 2.9 0.4 2.7 0.4 -6.5 0.4 -1.6 0.4 1.7 0.4 2.4 0.4 -5.9 0.4 5.9 0.4 1 0.4 4.4 0.4 -3.5 0.4 -6 0.4 7.9 0.4 -3.2 0.4 1.1 0.4 -1.5 0.4 2.9 0.4 -5.5 0.4 0.4 0.4 5.3 0.4 -0.1 0.4 -4.8 0.4 4.9 0.4 1.6 0.4 -4 0.4 1.3 0.4 -3 0.4 3.8 0.4 1.4 0.4 -1 0.4 3.7 0.4 0.3 0.4 -4.7 0.4 1.2 0.4 1.1 0.4 -0.8 0.4 2.5 0.4 -3 0.4 3.1 0.4 1.6 0.4 -1.2 0.4 -0.3 0.4 -1.3 0.4 -1.9 0.4 7 0.4 -4.9 0.4 0.5 0.4 1.3 0.4 2.4 0.4 -3.8 0.4 0 0.4 0.7 0.4 4.8 0.4 -6.6 0.4 1.7 0.4 0 0.4 2.6 0.4 -0.3 0.4 -5.2 0.4 -2.8 0.4 -3.7 0.4 -5.5 0.4 -3.6 0.4 1.5 0.4 -2.2 0.4 1.8 0.4 -1.8 0.4 0 0.4 -1.5 0.4 3.8 0.4 1.4 0.4 -3.6 0.4 -4.4 0.4 4.3 0.4 4.4 0.4 -5.2 0.4 1.8 0.4 -0.2 0.4 1 0.4 -5.6 0.4 9 0.4 -1.9 0.4 2.7 0.4 -3.5 0.4 1.1 0.4 3.3 0.4 -5.3 0.4 6.2 0.4 -5.5 0.4 -2.1 0.4 7.9 0.4 -1.5 0.4 2.2 0.4 -6.3 0.4 7.7 0.4 -5.2 0.4 -1.9 0.4 1.6 0.4 3.4 0.4 0.7 0.4 -5.6 0.4 2.8 0.4 0.2 0.4 -0.6 0.4 -1.2 0.4 -0.2 0.4 6.2 0.4 -3.7 0.4 -2 0.4 0.9 0.4 -1.9 0.4 4.6 0.4 -3 0.4 4 0.4 -3.3 0.4 -2.1 0.4 -2.6 0.4 -1 0.4 7.9 0.4 -1" fill="none" stroke="#dd0033" stroke-width="1.7" stroke-linejoin="round"/>
<path d="M69 219.6l0.4 -1.7 0.4 0.1 0.4 -3.2 0.4 -3.2 0.4 2.4 0.4 -1 0.4 -1.4 0.4 2.6 0.4 -0.9 0.4 1.8 0.4 -2.9 0.4 3 0.4 -0.2 0.4 -3.4 0.4 6.2 0.4 -1.9 0.4 4.6 0.4 -4.6 0.4 -1.8 0.4 2.5 0.4 -1.9 0.4 -0.2 0.4 -1.7 0.4 -0.9 0.4 2.3 0.4 0 0.4 -2 0.4 -2.8 0.4 3.7 0.4 0.9 0.4 -0.7 0.4 0.7 0.4 2.6 0.4 -1 0.4 1.2 0.4 1.4 0.4 -3.8 0.4 -0.9 0.4 1.1 0.4 4.9 0.4 -4.3 0.4 2 0.4 -2 0.4 -0.5 0.4 -1.1 0.4 4.2 0.4 -2.6 0.4 2.2 0.4 -4.5 0.4 4.2 0.4 4.9 0.4 2.4 0.4 -3.1 0.4 1.8 0.4 3.5 0.4 2 0.4 -1.8 0.4 0.2 0.4 -2.4 0.4 2.6 0.4 0.6 0.4 -3.7 0.4 -3.2 0.4 0.9 0.4 4.6 0.4 -5.8 0.4 4 0.4 -3.4 0.4 3.2 0.4 -0.2 0.4 0.6 0.4 2.8 0.4 -3.6 0.4 4.2 0.4 -1.8 0.4 -3.5 0.4 1.3 0.4 -4.7 0.4 3.2 0.4 1.2 0.4 -3.6 0.4 4.1 0.4 -1.5 0.4 -4.9 0.4 3.6 0.4 -1.5 0.4 1.8 0.4 0.4 0.4 1.6 0.4 -1 0.4 0.6 0.4 0.8 0.4 -5.7 0.4 6.4 0.4 -5.3 0.4 3.4 0.4 -3.8 0.4 -1.3 0.4 1 0.4 5.7 0.4 -4.1 0.4 -0.8 0.4 -1.7 0.4 0 0.4 2.3 0.4 -0.9 0.4 1 0.4 -4.1 0.4 3.4 0.4 -1.6 0.4 -0.1 0.4 3.2 0.4 -1.2 0.4 1.1 0.4 -0.6 0.4 1.4 0.4 -5.2 0.4 4.5 0.4 -6 0.4 3.9 0.4 3.8 0.4 -3.8 0.4 -0.6 0.4 2.3 0.4 -2.7 0.4 2.3 0.4 -2.8 0.4 3.5 0.4 -0.2 0.4 -3.8 0.4 1.4 0.4 -0.3 0.4 0.4 0.4 -1.1 0.4 1.2 0.4 -2.4 0.4 -2.8 0.4 0.2 0.4 4.1 0.4 0.8 0.4 -4.8 0.4 0.8 0.4 1.5 0.4 4.2 0.4 -1 0.4 -3.7 0.4 -0.5 0.4 -2 0.4 1.1 0.4 2.5 0.4 0 0.4 2 0.4 2 0.4 -0.7 0.4 0.3 0.4 -4.1 0.4 -2.5 0.4 4.2 0.4 4.1 0.4 -6.5 0.4 -4 0.4 4.2 0.4 1.2 0.4 -2.7 0.4 4.2 0.4 -3.4 0.4 3.2 0.4 -3 0.4 -0.4 0.4 3.1 0.4 -5.7 0.4 -1.5 0.4 8.8 0.4 -5 0.4 10 0.4 -3.6 0.4 0.1 0.4 4.7 0.4 1.2 0.4 -0.3 0.4 -0.3 0.4 2.8 0.4 -8.7 0.4 4 0.4 1.3 0.4 3 0.4 -7.8 0.4 4.8 0.4 -1.1 0.4 1 0.4 3.4 0.4 -0.7 0.4 1.8 0.4 -6.3 0.4 1.6 0.4 1.4 0.4 -0.9 0.4 -0.1 0.4 2.7 0.4 -4.1 0.4 4.9 0.4 -3.7 0.4 -0.9 0.4 0.8 0.4 1.3 0.4 1.3 0.4 -2.7 0.4 0.2 0.4 1.2 0.4 -1.2 0.4 -3.5 0.4 5.2 0.4 -3.1 0.4 2.9 0.4 -4.3 0.4 -5.5 0.4 7.3 0.4 1 0.4 2.6 0.4 -3.8 0.4 -0.4 0.4 1.5 0.4 -2 0.4 2.2 0.4 -3.1 0.4 1.3 0.4 -2.8 0.4 2.7 0.4 3.6 0.4 0.3 0.4 -5.5 0.4 5.9 0.4 -4.4 0.4 2.6 0.4 0.1 0.4 -1.9 0.4 0.8 0.4 3.7 0.4 -2.4 0.4 -0.3 0.4 -6.6 0.4 2.1 0.4 2.6 0.4 -1.4 0.4 -2.5 0.4 -0.8 0.4 1.1 0.4 3.1 0.4 0.4 0.4 1.2 0.4 -3.8 0.4 2.4 0.4 -2.3 0.4 -0.5 0.4 2.9 0.4 -3.3 0.4 -0.6 0.4 -0.3 0.4 -1.1 0.4 3.3 0.4 0.6 0.4 -2.8 0.4 0 0.4 0.8 0.4 -1.8 0.4 1.2 0.4 0.8 0.4 -0.1 0.4 2.5 0.4 1.8 0.4 -3.9 0.4 -6.6 0.4 6.5 0.4 -1.3 0.4 -2.3 0.4 1.4 0.4 3.3 0.4 -2.6 0.4 -0.3 0.4 -1.4 0.4 0.7 0.4 0.5 0.4 -2.7 0.4 -0.6 0.4 1 0.4 -0.2 0.4 0.7 0.4 5.5 0.4 -9 0.4 4.4 0.4 -2.6 0.4 0.5 0.4 2 0.4 0.3 0.4 -3.7 0.4 -1.4 0.4 -0.2 0.4 1.3 0.4 3.5 0.4 -3 0.4 2.4 0.4 0 0.4 -0.5 0.4 0.3 0.4 -3.2 0.4 -0.1 0.4 -0.2 0.4 9.2 0.4 -1 0.4 3.8 0.4 2.8 0.4 -0.1 0.4 4.6 0.4 -3 0.4 -2.1 0.4 0 0.4 3 0.4 -5.1 0.4 1.6 0.4 0.7 0.4 -0.6 0.4 0 0.4 1.3 0.4 -0.9 0.4 1.5 0.4 3 0.4 -3 0.4 -0.9 0.4 2.4 0.4 -7.2 0.4 4.9 0.4 2 0.4 -1.3 0.4 -1 0.4 -3 0.4 2.6 0.4 -2.4 0.4 -0.1 0.4 -9.8 0.4 6.9 0.4 -1.4 0.4 3.6 0.4 0.3 0.4 -0.5 0.4 -2.5 0.4 2.3 0.4 -2.3 0.4 2.4 0.4 -0.6 0.4 -1.3 0.4 6.6 0.4 -2.2 0.4 -6.7 0.4 7.8 0.4 -7.5 0.4 2.5 0.4 -0.5 0.4 -0.6 0.4 3 0.4 -0.9 0.4 -3.1 0.4 2.2 0.4 0.7 0.4 2.6 0.4 -3.9 0.4 -2.9 0.4 1.9 0.4 1.9 0.4 -4.3 0.4 1 0.4 2.8 0.4 0.6 0.4 -0.1 0.4 -0.1 0.4 -1.5 0.4 -0.1 0.4 0 0.4 -0.8 0.4 3.2 0.4 -2.4 0.4 0.7 0.4 -1.9 0.4 -1.5 0.4 -0.5 0.4 4.2 0.4 -2.1 0.4 -0.4 0.4 -2 0.4 0.7 0.4 -0.8 0.4 -2.4 0.4 0.8 0.4 -0.5 0.4 3 0.4 2.5 0.4 -3.9 0.4 5.3 0.4 -5.6 0.4 5 0.4 1.5 0.4 -6.2 0.4 1.8 0.4 4.9 0.4 -1.8 0.4 -1.1 0.4 -6.3 0.4 2.5 0.4 3.4 0.4 1.1 0.4 -1.4 0.4 -2.8 0.4 0.3 0.4 -3 0.4 1.6 0.4 5.9 0.4 -4.2 0.4 -2.3 0.4 5.3 0.4 -6.8 0.4 5.4 0.4 -3.3 0.4 2 0.4 1 0.4 -0.4 0.4 2.4 0.4 -2.8 0.4 -1.3 0.4 1.6 0.4 -1.9 0.4 0 0.4 4.3 0.4 0 0.4 0.3 0.4 2.6 0.4 -4.7 0.4 -0.5 0.4 -5.1 0.4 2 0.4 6.4 0.4 -0.3 0.4 0 0.4 3.4 0.4 -1.2 0.4 5.5 0.4 0.8 0.4 0.2 0.4 5.2 0.4 0.3 0.4 -3.3 0.4 0.2 0.4 -3.3 0.4 4.5 0.4 0.4 0.4 0.7 0.4 0.6 0.4 -3.1 0.4 0.5 0.4 -1.4 0.4 -0.3 0.4 2.7 0.4 0.1 0.4 -2 0.4 3.1 0.4 -2.3 0.4 -0.6 0.4 -1 0.4 1 0.4 -2.8 0.4 -0.6 0.4 2.3 0.4 -1.2 0.4 1.2 0.4 2.8 0.4 -4.6 0.4 4.1 0.4 -2 0.4 0.9 0.4 -3.2 0.4 -4.2 0.4 5.5 0.4 -0.2 0.4 -4.4 0.4 3.1 0.4 0.3 0.4 0 0.4 -0.5 0.4 1.4 0.4 -0.2 0.4 1.3 0.4 1.1 0.4 -2.2 0.4 -6.3 0.4 3.5 0.4 3.5 0.4 -7.9 0.4 6.9 0.4 -0.2 0.4 -4.8 0.4 1.3 0.4 0.1 0.4 -0.4 0.4 -0.5 0.4 0.5 0.4 -1.4 0.4 1.4 0.4 2 0.4 0.7 0.4 -2.2 0.4 -2.2 0.4 0.2 0.4 3 0.4 -1.7 0.4 1.9 0.4 1.4 0.4 -1.8 0.4 -3.2 0.4 -0.1 0.4 5.2 0.4 -5.4 0.4 4.9 0.4 -3.5 0.4 1.1 0.4 -2.2 0.4 1.6 0.4 -6.4 0.4 5.8 0.4 1.3 0.4 -4.3 0.4 2.2 0.4 1.3 0.4 -0.4 0.4 -2 0.4 3.5 0.4 -5.8 0.4 6.8 0.4 -5.8 0.4 1.7 0.4 4.1 0.4 -4.2 0.4 -2.3 0.4 5.7 0.4 -3.2 0.4 -0.3 0.4 -0.2 0.4 -0.8 0.4 0.9 0.4 -1 0.4 4.8 0.4 -3.1 0.4 1.7 0.4 -4.2 0.4 3.8 0.4 -2.6 0.4 0.6 0.4 2.2 0.4 -2.6 0.4 -2.3 0.4 3.1 0.4 -0.6 0.4 0.2 0.4 -2.3 0.4 1.3 0.4 0.6 0.4 -2.5 0.4 2.4 0.4 0.6 0.4 4.4 0.4 0.5 0.4 1.6 0.4 -1.1 0.4 6.6 0.4 3.1 0.4 -1 0.4 2.8 0.4 -3.8 0.4 4 0.4 -1.4 0.4 0.7 0.4 -3.9 0.4 5 0.4 -1.3 0.4 -1.9 0.4 0.5 0.4 -3.7 0.4 4 0.4 0.1 0.4 1.2 0.4 -3.3 0.4 -3.5 0.4 4.1 0.4 1.9 0.4 -1.9 0.4 1.8 0.4 -0.2 0.4 1.4 0.4 -3.2 0.4 -1.3 0.4 2.4 0.4 4.9 0.4 -5.8 0.4 -4.5 0.4 7.5 0.4 -4.3 0.4 -2.9 0.4 0.7 0.4 -1.3 0.4 5.3 0.4 -2 0.4 -0.4 0.4 1.5 0.4 -1.5 0.4 5.5 0.4 -5.1 0.4 1.7 0.4 -2.7 0.4 -0.1 0.4 0.7 0.4 -1.2 0.4 2.7 0.4 3.1 0.4 -0.4 0.4 -6.6 0.4 6.9 0.4 -3.9 0.4 2.6 0.4 -3.2 0.4 -1.8 0.4 3.3 0.4 -0.5 0.4 -2.2 0.4 -1.6 0.4 1.7 0.4 -0.2 0.4 -4.1 0.4 0.5 0.4 1 0.4 1.6 0.4 -1.8 0.4 -4 0.4 7.9 0.4 -3.2 0.4 -1.2 0.4 7 0.4 -1.3 0.4 -1.4 0.4 0.5 0.4 -0.6 0.4 -2.3 0.4 1.6 0.4 0.8 0.4 1.3 0.4 -0.8 0.4 -3.5 0.4 1.9 0.4 -1.8 0.4 0.8 0.4 -0.9 0.4 -3.1 0.4 0.4 0.4 4.2 0.4 -0.4 0.4 -1.1 0.4 -4.7 0.4 3.5 0.4 2.5 0.4 -6.7 0.4 2.4 0.4 -1.4 0.4 4.6 0.4 -2.3 0.4 -0.4 0.4 1 0.4 -0.5 0.4 1.1 0.4 0.8 0.4 -0.3 0.4 -2.4 0.4 2.9 0.4 -0.3 0.4 2.9 0.4 -7.8 0.4 4.2 0.4 0.7 0.4 -1.5 0.4 -0.1 0.4 -0.2 0.4 -0.1 0.4 -0.3 0.4 -1.1 0.4 -2 0.4 0.6 0.4 1.1 0.4 -2.5 0.4 1.8 0.4 1.2 0.4 -3.4 0.4 0.8 0.4 4.3 0.4 -1.2 0.4 6.2 0.4 -2.5 0.4 -3.8 0.4 -0.6 0.4 -0.1 0.4 2.9 0.4 -0.8 0.4 -1.8 0.4 0.1 0.4 3 0.4 -1.2 0.4 2.8 0.4 -7 0.4 4.2 0.4 -1.2 0.4 -2.9 0.4 2 0.4 -1.2 0.4 3.5 0.4 7.7 0.4 -4 0.4 1.8 0.4 -1.5 0.4 -5.1 0.4 3.4 0.4 -1 0.4 0.8 0.4 -2.9 0.4 -2.2 0.4 6.1 0.4 -1.3 0.4 -1.1 0.4 -2.7 0.4 2.4 0.4 -2.5 0.4 2.9 0.4 -1.3 0.4 0.9 0.4 -0.7 0.4 -0.1 0.4 0.8 0.4 -1.2 0.4 0.6 0.4 -0.3 0.4 1 0.4 -2.5 0.4 5.4 0.4 -0.4 0.4 -0.7 0.4 -5.5 0.4 2.4 0.4 2.5 0.4 -4 0.4 4.7 0.4 -4.3 0.4 3.2 0.4 -1.1 0.4 -6.4 0.4 7.3 0.4 2.6 0.4 0.8 0.4 1.1 0.4 8 0.4 -1.8 0.4 0.6 0.4 -5.8 0.4 -0.8 0.4 4.9 0.4 4.5 0.4 -1.4 0.4 3.7 0.4 -1.4 0.4 -1.1 0.4 0.4 0.4 -2.3 0.4 3.6 0.4 0 0.4 -2.4 0.4 -1.2 0.4 -0.4 0.4 0.4 0.4 3.9 0.4 -5.4 0.4 4.2 0.4 -4.5 0.4 4.4 0.4 0.5 0.4 2.7 0.4 -4.5 0.4 1.8 0.4 3.6 0.4 -3.9 0.4 -5.9 0.4 4.9 0.4 4.9 0.4 -8 0.4 6 0.4 -8.8 0.4 10 0.4 -6.3 0.4 3.5 0.4 -0.7 0.4 -7.4 0.4 3.5 0.4 3.6 0.4 -4.1 0.4 2.3 0.4 -1.3 0.4 5.8 0.4 -4 0.4 -0.4 0.4 2.8 0.4 1.4 0.4 -1.3 0.4 -0.7 0.4 -0.3 0.4 -1.6 0.4 -1.6 0.4 3.6 0.4 -3.6 0.4 -1.2 0.4 6.3 0.4 -2.2 0.4 -2.8 0.4 0.1 0.4 0.7 0.4 3.1 0.4 -1.5 0.4 -2.2 0.4 1 0.4 1.1 0.4 0.6 0.4 -0.3 0.4 -6.3 0.4 1.8 0.4 0 0.4 -0.1 0.4 1.2 0.4 4.5 0.4 -3.2 0.4 2.1 0.4 4.7 0.4 -8.2 0.4 -0.8 0.4 4.2 0.4 -2 0.4 -0.9 0.4 -1.2 0.4 3.6 0.4 -3.6 0.4 0.9 0.4 -4.2 0.4 6.9 0.4 -1.2 0.4 1.2 0.4 0.9 0.4 -1.7 0.4 -3 0.4 -1.2 0.4 3.6 0.4 1.2 0.4 -5.1 0.4 3.9 0.4 -0.4 0.4 1.6 0.4 -3.2 0.4 2.6 0.4 1.5 0.4 -2.7 0.4 -0.4 0.4 2.6 0.4 -0.5 0.4 0.8 0.4 -5.7 0.4 5.8 0.4 -2.5 0.4 -1.1 0.4 -0.6 0.4 -0.4 0.4 3.3 0.4 3.2 0.4 -7 0.4 0.8 0.4 2.9 0.4 -0.2 0.4 1.7 0.4 -5.6 0.4 3.3 0.4 -6.6 0.4 5.5 0.4 2.2 0.4 0.9 0.4 1 0.4 -3.6 0.4 -0.2 0.4 -1.1 0.4 -2.5 0.4 8.3 0.4 -1.2 0.4 -4.9 0.4 7.6 0.4 -8.7 0.4 5.1 0.4 -2.6 0.4 0 0.4 3.5 0.4 -3 0.4 4.8 0.4 -4.7 0.4 1.9 0.4 -1.3 0.4 1.3 0.4 -2.2 0.4 2.9 0.4 1.1 0.4 -1.9 0.4 -0.3 0.4 4.2 0.4 -4.5 0.4 -0.6 0.4 3.6 0.4 -2.6 0.4 -2.1 0.4 2.7 0.4 -0.3 0.4 -1.9 0.4 4 0.4 -4.6 0.4 3.1 0.4 -6.3 0.4 4.1 0.4 -6.9 0.4 5.1 0.4 2.8 0.4 2 0.4 -3.2 0.4 3 0.4 -3 0.4 -4.8 0.4 6.5 0.4 -4.1 0.4 6.3 0.4 -1.5 0.4 -2 0.4 -4.5 0.4 1.7 0.4 1.7 0.4 0.4 0.4 -1.1 0.4 7.3 0.4 -1.8 0.4 -0.4 0.4 -0.7 0.4 1.1 0.4 0.4 0.4 -0.6 0.4 -1.3 0.4 0.3 0.4 -4.8 0.4 2.7 0.4 4.1 0.4 -7.5 0.4 4.3 0.4 -1.6 0.4 0.1 0.4 3.2 0.4 -2.4 0.4 3.7 0.4 -1.7 0.4 -3 0.4 1.2 0.4 -2.9 0.4 -1.4 0.4 6.2 0.4 0 0.4 1.9 0.4 -6.3 0.4 8.2 0.4 -0.5 0.4 -1.5 0.4 -5.2 0.4 3 0.4 -2 0.4 1.3 0.4 1.2 0.4 -1.5 0.4 -1.4 0.4 1.4 0.4 4 0.4 -4.2 0.4 5.3 0.4 -7.7 0.4 3.3 0.4 3.5 0.4 -6.3 0.4 6.2 0.4 0.7 0.4 0.3 0.4 -0.6 0.4 0 0.4 -4.8 0.4 2.5 0.4 -2.3 0.4 3.6 0.4 -7.3 0.4 2.1 0.4 -0.2 0.4 1.8 0.4 2.5 0.4 -0.9 0.4 -1.7 0.4 2.9 0.4 -6.3 0.4 0 0.4 -7.4 0.4 1.3 0.4 -6.5 0.4 1.8 0.4 -0.6 0.4 0.8 0.4 -2.2 0.4 -2.8 0.4 5.6 0.4 -0.1 0.4 -2.8 0.4 -0.3 0.4 6 0.4 -8.7 0.4 3.7 0.4 4.2 0.4 -2.9 0.4 1.1 0.4 -0.1 0.4 -1.9 0.4 3.7 0.4 -3.9 0.4 -1 0.4 -0.9 0.4 2.6 0.4 -0.8 0.4 2.3 0.4 2.5 0.4 -1.8 0.4 -4.5 0.4 2.9 0.4 -1.7 0.4 -1.5 0.4 3.6 0.4 -0.4 0.4 0.1 0.4 -3 0.4 -2.7 0.4 4.8 0.4 5.1 0.4 -4.9 0.4 -0.6 0.4 0.6 0.4 2.3 0.4 -2.5 0.4 4.5 0.4 -3.1 0.4 -1.8 0.4 5.1 0.4 -3.2 0.4 1.1 0.4 -0.9 0.4 0.1 0.4 1 0.4 -0.9 0.4 -0.5 0.4 -2.6 0.4 7.5 0.4 -5.7 0.4 -0.5 0.4 0.4 0.4 -0.6 0.4 -0.7 0.4 1.9 0.4 1.1 0.4 -0.9 0.4 1.9 0.4 -3.9 0.4 4 0.4 -4.4 0.4 3.9 0.4 -2.9 0.4 0 0.4 -3 0.4 1.3 0.4 4.5 0.4 -2.5 0.4 3.9 0.4 1.8 0.4 -4.5 0.4 2.1 0.4 -0.2 0.4 -0.1 0.4 -0.3 0.4 -0.6 0.4 1.7 0.4 -3.2 0.4 2.1 0.4 -0.3 0.4 4.3 0.4 -6 0.4 2.5 0.4 0.9 0.4 -0.8 0.4 -3.1 0.4 -0.5 0.4 -1.3 0.4 3.2 0.4 0.1 0.4 -2.2 0.4 4.3 0.4 -0.8 0.4 -0.6 0.4 -3.2 0.4 2.8 0.4 -0.7 0.4 3.6 0.4 -2.3 0.4 4.7 0.4 -6 0.4 0.8 0.4 6 0.4 -0.8 0.4 -0.6 0.4 -5.4 0.4 3.5 0.4 0.2 0.4 0.7 0.4 -1.1 0.4 3.5 0.4 -1.7 0.4 -3.3 0.4 7.1 0.4 -4.8 0.4 3.4 0.4 -4.7 0.4 -1.1 0.4 4.9 0.4 1.4 0.4 -4.7 0.4 2.9 0.4 -3.1 0.4 -1.6 0.4 7.1 0.4 -5.4 0.4 3.6 0.4 1.1 0.4 -2.9 0.4 2.4 0.4 -0.8 0.4 -1.5 0.4 -0.9 0.4 1.6 0.4 1.9 0.4 -3.2 0.4 0.9 0.4 0.5 0.4 6.1 0.4 -3.2 0.4 -5.1 0.4 2.8 0.4 -6.5 0.4 4.8 0.4 4.8 0.4 -4.2 0.4 2.3 0.4 -4.1 0.4 3.2 0.4 0.4 0.4 -5.4 0.4 2.6 0.4 6.2 0.4 -5.1 0.4 3.7 0.4 0.8 0.4 -4 0.4 2.3 0.4 -1.6 0.4 -9.4 0.4 9.6 0.4 1.3 0.4 -3.8 0.4 2 0.4 -0.9 0.4 2.4 0.4 -0.1 0.4 -2.1 0.4 -0.4 0.4 6.3 0.4 -1.1 0.4 -4.6 0.4 3.7 0.4 -1.3 0.4 -4 0.4 9.3 0.4 -5.7 0.4 -1.6 0.4 5.4 0.4 -1.1 0.4 0.5 0.4 -0.2 0.4 1.6 0.4 1 0.4 -3 0.4 0.1 0.4 -3.5 0.4 1.4 0.4 2.3 0.4 -0.1 0.4 -4.1 0.4 5.9 0.4 0.8 0.4 -5.3 0.4 2.6 0.4 7.4 0.4 -6.1 0.4 0.6 0.4 0.7 0.4 -1.8 0.4 -3.5 0.4 -2.5 0.4 -2.1 0.4 2.7 0.4 -13.5 0.4 1.7 0.4 -3 0.4 5.1 0.4 0 0.4 -1.3 0.4 -8.3 0.4 6.9 0.4 -1.2 0.4 -2.5 0.4 0.3 0.4 5.4 0.4 -4 0.4 2.6 0.4 1.4 0.4 -0.6 0.4 -6.5 0.4 9 0.4 -4.3 0.4 0 0.4 2.4 0.4 -0.5 0.4 -5.8 0.4 5.7 0.4 -0.4 0.4 -2 0.4 -0.2 0.4 -0.1 0.4 3.9 0.4 1.5 0.4 -5.2 0.4 0.2 0.4 0.2 0.4 0.1 0.4 0.2 0.4 3.4 0.4 2.3 0.4 -0.1 0.4 -1.6 0.4 -4.2 0.4 3.8 0.4 -3.4 0.4 -0.7 0.4 3.1 0.4 -0.2 0.4 4.3 0.4 -4.7 0.4 -0.2 0.4 2.7 0.4 -4.8 0.4 3.7 0.4 2.8 0.4 -3.6 0.4 -0.9 0.4 2 0.4 -4.4 0.4 3.4 0.4 -2.3 0.4 2.4 0.4 -2.2 0.4 3.8 0.4 -1.8 0.4 2.1 0.4 -2.1 0.4 1.2 0.4 -4.9 0.4 3.2 0.4 2.4 0.4 -2.8 0.4 1.9 0.4 -1.6 0.4 3.4 0.4 0 0.4 -2.7 0.4 1.7 0.4 -3.3 0.4 1.4 0.4 1.3 0.4 1.2 0.4 -1.4 0.4 3.3 0.4 -4.8 0.4 1.3 0.4 -3.1 0.4 5.3 0.4 -4.2 0.4 1.5 0.4 0.5 0.4 2.1 0.4 -2.3 0.4 -0.4 0.4 0.3 0.4 0.4 0.4 0.9 0.4 -2.7 0.4 3 0.4 -0.9 0.4 3 0.4 -2.9 0.4 -0.4 0.4 -1.5 0.4 -1 0.4 4.5 0.4 -4 0.4 -2.3 0.4 2.2 0.4 6.8 0.4 -1.7 0.4 2.9 0.4 -4.3 0.4 3.8 0.4 0.7 0.4 -0.8 0.4 -2.7 0.4 1.2 0.4 -2.5 0.4 5.1 0.4 -5.6 0.4 0.5 0.4 2.6 0.4 -0.8 0.4 4.2 0.4 -2.8 0.4 -1.1 0.4 5 0.4 -1.7 0.4 -3.3 0.4 5.8 0.4 0.2 0.4 -4.6 0.4 -1.1 0.4 3.7 0.4 0.3 0.4 1.9 0.4 0.4 0.4 -3.4 0.4 -3.5 0.4 0.7 0.4 6.6 0.4 -1.1 0.4 -0.3 0.4 -4.5 0.4 1 0.4 1 0.4 1.6 0.4 -3.2 0.4 -3.2 0.4 -5.7 0.4 2.6 0.4 -4.2 0.4 2.1 0.4 -7.2 0.4 -3.9 0.4 0.6 0.4 3.7 0.4 3.6 0.4 -3.2 0.4 -1.5 0.4 2.5 0.4 2.6 0.4 0.2 0.4 -0.9 0.4 0.9 0.4 -3.7 0.4 0.6 0.4 0.7 0.4 2.4 0.4 -9.2 0.4 4.7 0.4 0.4 0.4 0.8 0.4 0.6 0.4 -1.4 0.4 -2.2 0.4 3.5 0.4 4.1 0.4 -3.6 0.4 0.6 0.4 0.5 0.4 0.1 0.4 -2 0.4 -1 0.4 4.9 0.4 0.5 0.4 -5 0.4 5.7 0.4 -3.9 0.4 -5.6 0.4 5.4 0.4 -1.3 0.4 1.2 0.4 0.5 0.4 0.1 0.4 1.6 0.4 1 0.4 4.1 0.4 -6.8 0.4 -5.7 0.4 9.9 0.4 -5.3 0.4 -3.9 0.4 3 0.4 -0.6 0.4 4.7 0.4 -2.4 0.4 4.9 0.4 -4.4 0.4 2.3 0.4 -3.7 0.4 -1.4 0.4 5 0.4 -3.8 0.4 0.8 0.4 -5.6 0.4 3.3 0.4 2 0.4 4.3 0.4 -1.1 0.4 -7.1 0.4 -2 0.4 10.1 0.4 -2.9 0.4 -2.5 0.4 4.3 0.4 -0.2 0.4 3.9 0.4 -4.4 0.4 -2.3 0.4 4 0.4 -5.6 0.4 1.4 0.4 -0.3 0.4 0.8 0.4 -0.7 0.4 0.6 0.4 1.7 0.4 0.9 0.4 -0.4 0.4 -0.5 0.4 0.8 0.4 1 0.4 0.5 0.4 1.9 0.4 -4.1 0.4 2 0.4 -2 0.4 4.6 0.4 1.4 0.4 -9.6 0.4 7.8 0.4 -3.7 0.4 1.4 0.4 1 0.4 -4.4 0.4 1.6 0.4 2.1 0.4 5.1 0.4 -8 0.4 2.4 0.4 0.2 0.4 -0.3 0.4 2.5 0.4 4.8 0.4 -2.8 0.4 0.1 0.4 -1.4 0.4 5.1 0.4 -4.6 0.4 1.2 0.4 -1.7 0.4 3.4 0.4 -2.2 0.4 -2.8 0.4 7 0.4 -7 0.4 3.4 0.4 -2 0.4 0.2 0.4 4.8 0.4 -2.6 0.4 -2.6 0.4 0.9 0.4 2.8 0.4 -0.4 0.4 -0.4 0.4 -0.3 0.4 4.4 0.4 -3.6 0.4 -1.2 0.4 -1 0.4 3 0.4 1.3 0.4 -2.4 0.4 3.8 0.4 -1.9 0.4 0.6 0.4 -0.3 0.4 -1.8 0.4 2 0.4 0.7 0.4 -0.2 0.4 4.8 0.4 -3.2 0.4 -5.6 0.4 4.5 0.4 -8 0.4 -3.1 0.4 -0.9 0.4 -3.8 0.4 -2.7 0.4 0.7 0.4 -1.1 0.4 4.1 0.4 0 0.4 -3.4 0.4 3.9 0.4 -2.2 0.4 0.7 0.4 -2.3 0.4 0.2 0.4 1.3 0.4 -4.6 0.4 3.8 0.4 -2.6 0.4 3.7 0.4 -1.9 0.4 2.7 0.4 -2.3 0.4 -1.3 0.4 5.4 0.4 -4 0.4 0.7 0.4 1.8 0.4 1.3 0.4 -1.9 0.4 -1.2 0.4 -1.5 0.4 3.7 0.4 -1.8 0.4 0.3 0.4 -1.9 0.4 3.3 0.4 -0.9 0.4 -1.8 0.4 -1.4 0.4 7.8 0.4 -5.3 0.4 -2.8 0.4 2.6 0.4 -0.3 0.4 1.9 0.4 -2.9 0.4 -0.8 0.4 5 0.4 -4.8 0.4 -1.7 0.4 4.5 0.4 -1.9 0.4 -0.9 0.4 -1.7 0.4 2.3 0.4 1.7 0.4 0.4 0.4 -0.8 0.4 2.5 0.4 2 0.4 -1.5 0.4 0.9 0.4 -1.7 0.4 -1.2 0.4 2.6 0.4 0.4 0.4 -3.5 0.4 0.2 0.4 0.2 0.4 -1.5 0.4 4.9 0.4 -5.2 0.4 5.6 0.4 0.3 0.4 -2.9 0.4 0.8 0.4 -2.3 0.4 4.8 0.4 -1.9 0.4 -4.5 0.4 1.2 0.4 3.4 0.4 -0.3 0.4 1.5 0.4 -1.5 0.4 4 0.4 -3 0.4 1.8 0.4 0.6 0.4 0.2 0.4 -4 0.4 0.8 0.4 5.3 0.4 -5.2 0.4 -0.6 0.4 2.5 0.4 -3.7 0.4 0.4 0.4 0.6 0.4 1.8 0.4 1.6 0.4 -4.5 0.4 2.9 0.4 1.9 0.4 -0.7 0.4 1.9 0.4 2.7 0.4 -6.8 0.4 0 0.4 1.1 0.4 1 0.4 1.5 0.4 1.3 0.4 2.9 0.4 1.8 0.4 -6.6 0.4 -2.7 0.4 7.3 0.4 -3.1 0.4 -0.8 0.4 -0.7 0.4 0.3 0.4 -0.7 0.4 0.4 0.4 4.2 0.4 0.4 0.4 -3.9 0.4 0.8 0.4 4.3 0.4 -5 0.4 -0.5 0.4 -0.6 0.4 1.6 0.4 2.3 0.4 -1.1 0.4 2.2 0.4 -0.2 0.4 -5 0.4 4.7 0.4 -0.5 0.4 -2 0.4 5.5 0.4 -1.3 0.4 -2.2 0.4 2.9 0.4 0.4 0.4 -1.9 0.4 -1.8 0.4 2.4 0.4 6 0.4 -7.6 0.4 1.9 0.4 -0.7 0.4 3.6 0.4 -1 0.4 -0.8 0.4 -1.2 0.4 2.7 0.4 -3 0.4 1.5 0.4 -0.1 0.4 1 0.4 -2.4 0.4 -3 0.4 -2.6 0.4 -4.1 0.4 -2.8 0.4 -2.4 0.4 1 0.4 -1.3 0.4 -1.1 0.4 -0.1 0.4 0.4 0.4 0.4 0.4 2.7 0.4 -0.3 0.4 -2.1 0.4 -3.9 0.4 1 0.4 3.5 0.4 1 0.4 -1.5 0.4 -0.7 0.4 2.3 0.4 -6 0.4 6.8 0.4 1.5 0.4 -1.6 0.4 -1.1 0.4 -1.4 0.4 4.2 0.4 -3.5 0.4 -0.5 0.4 3 0.4 -4.4 0.4 3.8 0.4 0 0.4 -1.1 0.4 0.4 0.4 4.3 0.4 -3.7 0.4 0.1 0.4 3.6 0.4 -1.6 0.4 1.8 0.4 -2.6 0.4 2.1 0.4 -0.7 0.4 1.7 0.4 -3.9 0.4 1.6 0.4 1.7 0.4 -6.1 0.4 1.5 0.4 -1.2 0.4 1 0.4 4.7 0.4 -1.5 0.4 3.7 0.4 -1.7 0.4 -6.7 0.4 3.4 0.4 -1.2 0.4 5.4 0.4 -1.8" fill="none" stroke="#dd5500" stroke-width="1.7" stroke-linejoin="round"/>
<path d="M69 184.6l0.4 -1.9 0.4 -2.3 0.4 -4.7 0.4 -1.3 0.4 4.6 0.4 -3.2 0.4 -0.6 0.4 3 0.4 0.3 0.4 0.7 0.4 -2.5 0.4 1.6 0.4 0.4 0.4 -4.4 0.4 6.2 0.4 0.4 0.4 2.7 0.4 -3.1 0.4 -1.2 0.4 1.9 0.4 -3.2 0.4 3.3 0.4 -5 0.4 -1.2 0.4 3.6 0.4 -0.1 0.4 -1.4 0.4 -3.2 0.4 2.3 0.4 0.5 0.4 0.9 0.4 0.8 0.4 2.7 0.4 -1.3 0.4 1.5 0.4 0.8 0.4 -3.4 0.4 0.7 0.4 -0.8 0.4 5.1 0.4 -2.5 0.4 -1.8 0.4 0.5 0.4 -0.9 0.4 -2.4 0.4 6.6 0.4 -5.4 0.4 4.1 0.4 -3 0.4 3.6 0.4 3.1 0.4 2.6 0.4 -3.8 0.4 1.7 0.4 4.2 0.4 2.2 0.4 -1.6 0.4 0.8 0.4 -2.3 0.4 2.1 0.4 1.6 0.4 -5.2 0.4 0.4 0.4 -1.1 0.4 4.3 0.4 -6.3 0.4 3.9 0.4 -0.9 0.4 1.7 0.4 -1.6 0.4 0.7 0.4 2.9 0.4 -2.4 0.4 2.4 0.4 -2.8 0.4 -1.3 0.4 2.3 0.4 -6.6 0.4 5.1 0.4 -0.1 0.4 -3.5 0.4 3.3 0.4 -1.4 0.4 -4.2 0.4 4.1 0.4 -1.9 0.4 0 0.4 1.5 0.4 3.3 0.4 -1.6 0.4 -1.4 0.4 3.1 0.4 -6.4 0.4 6.5 0.4 -5 0.4 3.3 0.4 -4.1 0.4 -1.2 0.4 1.2 0.4 3.7 0.4 -1.2 0.4 -1.5 0.4 -0.1 0.4 -3.8 0.4 4.2 0.4 -1.6 0.4 2.6 0.4 -3.1 0.4 0.8 0.4 -3.2 0.4 3.5 0.4 1.9 0.4 -3.1 0.4 3.1 0.4 -0.7 0.4 2.5 0.4 -5.3 0.4 3.4 0.4 -5.9 0.4 3.5 0.4 4.1 0.4 -6 0.4 1.8 0.4 2.2 0.4 -1.5 0.4 -0.2 0.4 -2.2 0.4 3.7 0.4 0.9 0.4 -4.8 0.4 0.6 0.4 0.5 0.4 0.6 0.4 -1.3 0.4 -0.6 0.4 -0.4 0.4 -1.4 0.4 0.1 0.4 4.5 0.4 -0.5 0.4 -2.8 0.4 -1.9 0.4 1.9 0.4 3.1 0.4 -0.6 0.4 -4.8 0.4 1.1 0.4 -1.3 0.4 -0.2 0.4 3.7 0.4 0 0.4 0.4 0.4 2.2 0.4 -2 0.4 1.8 0.4 -5 0.4 -0.9 0.4 2.9 0.4 3.8 0.4 -5.4 0.4 -4 0.4 5.4 0.4 2.3 0.4 -6.7 0.4 4.7 0.4 -1.3 0.4 1.4 0.4 -0.3 0.4 -1.1 0.4 1.3 0.4 -6.3 0.4 2.2 0.4 7.1 0.4 -6.3 0.4 9.5 0.4 -2.2 0.4 -1 0.4 5.8 0.4 0.1 0.4 1.2 0.4 -1.7 0.4 2.6 0.4 -6.5 0.4 4.4 0.4 -0.6 0.4 4.5 0.4 -9.2 0.4 5.3 0.4 -0.8 0.4 1.6 0.4 2 0.4 0.2 0.4 1.2 0.4 -4.8 0.4 0.7 0.4 2.7 0.4 -2 0.4 -1 0.4 3 0.4 -2.5 0.4 4.4 0.4 -5.3 0.4 0.2 0.4 -0.2 0.4 1.8 0.4 1.1 0.4 -3.3 0.4 1.7 0.4 0.1 0.4 -1.8 0.4 -1.9 0.4 5.3 0.4 -4 0.4 2.7 0.4 -3.5 0.4 -4.6 0.4 6.5 0.4 1 0.4 1.5 0.4 -2.7 0.4 -0.8 0.4 1.3 0.4 -1.7 0.4 0.1 0.4 -1.9 0.4 3.2 0.4 -4.3 0.4 2.8 0.4 1.3 0.4 0.2 0.4 -3.9 0.4 6.1 0.4 -4 0.4 1.5 0.4 0.9 0.4 -0.4 0.4 -1.3 0.4 3 0.4 -2.8 0.4 1.2 0.4 -5.4 0.4 0.9 0.4 2.2 0.4 -1.4 0.4 -3 0.4 0.7 0.4 -0.1 0.4 5 0.4 -1.1 0.4 2 0.4 -3.9 0.4 4.1 0.4 -4.2 0.4 -0.2 0.4 3.9 0.4 -5 0.4 0.7 0.4 -1.1 0.4 -1 0.4 3.6 0.4 1.3 0.4 -3 0.4 -1.1 0.4 1 0.4 -0.7 0.4 0.3 0.4 1.1 0.4 -0.7 0.4 3 0.4 0.3 0.4 -0.9 0.4 -8.7 0.4 7.4 0.4 -2.2 0.4 -2.7 0.4 2.7 0.4 2 0.4 -0.4 0.4 -0.5 0.4 -4.1 0.4 2 0.4 1.2 0.4 -2.9 0.4 -0.7 0.4 1.1 0.4 0.1 0.4 1.7 0.4 3.6 0.4 -8.3 0.4 4.9 0.4 -3.4 0.4 -0.4 0.4 3.3 0.4 -2.8 0.4 -0.9 0.4 -1.3 0.4 -1.8 0.4 2.8 0.4 1.8 0.4 -2 0.4 2.4 0.4 -1.6 0.4 -0.5 0.4 2.8 0.4 -3.8 0.4 -1.8 0.4 2.7 0.4 7 0.4 0.7 0.4 1.1 0.4 5.3 0.4 -1.8 0.4 5 0.4 -2.8 0.4 -2.8 0.4 0.3 0.4 3.2 0.4 -4.1 0.4 -0.1 0.4 1 0.4 0.4 0.4 -1.5 0.4 1.2 0.4 0.4 0.4 -0.2 0.4 3.3 0.4 -2.8 0.4 -2.3 0.4 6.6 0.4 -9.5 0.4 4.8 0.4 0.2 0.4 1 0.4 -1.9 0.4 -2.1 0.4 3.8 0.4 -1.9 0.4 -2.2 0.4 -9.5 0.4 4.3 0.4 1.7 0.4 3.8 0.4 0.9 0.4 0.6 0.4 -5.4 0.4 2 0.4 -1 0.4 2.2 0.4 -0.5 0.4 -1.6 0.4 5.6 0.4 -3.5 0.4 -6.3 0.4 6.9 0.4 -7 0.4 4.9 0.4 -0.4 0.4 0.1 0.4 0.5 0.4 1.3 0.4 -3.8 0.4 3.1 0.4 -0.9 0.4 2 0.4 -1.8 0.4 -3.6 0.4 1.6 0.4 2.4 0.4 -3.4 0.4 0.3 0.4 1.4 0.4 1.6 0.4 1.1 0.4 -3.3 0.4 -0.9 0.4 0.4 0.4 2.4 0.4 -1.3 0.4 1.1 0.4 -0.4 0.4 -0.5 0.4 -0.4 0.4 -2.7 0.4 0.6 0.4 3.6 0.4 -2.5 0.4 -0.9 0.4 -1.4 0.4 2.4 0.4 -1.1 0.4 -2.3 0.4 2.6 0.4 -1.2 0.4 2.4 0.4 3.2 0.4 -5 0.4 4.9 0.4 -6.5 0.4 4.1 0.4 2 0.4 -4.7 0.4 0.2 0.4 3.9 0.4 -0.9 0.4 -1 0.4 -4.6 0.4 4.2 0.4 1.9 0.4 -1.8 0.4 0.2 0.4 -2.7 0.4 1.3 0.4 -3.6 0.4 3.2 0.4 2.6 0.4 -1.9 0.4 -1.4 0.4 3.1 0.4 -4.7 0.4 6.5 0.4 -5.5 0.4 2 0.4 1.7 0.4 -2.3 0.4 3.9 0.4 -3.2 0.4 -1 0.4 -0.2 0.4 -2.5 0.4 1.1 0.4 4 0.4 1.1 0.4 -0.2 0.4 2.2 0.4 -2.8 0.4 -0.7 0.4 -4 0.4 2.3 0.4 4.8 0.4 -0.3 0.4 -0.3 0.4 5.9 0.4 -2.4 0.4 4.6 0.4 2 0.4 -1.3 0.4 4.9 0.4 0.6 0.4 -3.4 0.4 2.3 0.4 -3.1 0.4 1.4 0.4 1.4 0.4 0.9 0.4 1.2 0.4 -3.2 0.4 -0.2 0.4 -2.5 0.4 2.5 0.4 2.7 0.4 -0.8 0.4 -1.8 0.4 0.7 0.4 -1.1 0.4 -0.4 0.4 -2.1 0.4 0.6 0.4 -2.4 0.4 -0.7 0.4 4.2 0.4 -4.4 0.4 2.4 0.4 3 0.4 -4 0.4 3.8 0.4 -5.1 0.4 4.3 0.4 -4.3 0.4 -4 0.4 6.2 0.4 -1.2 0.4 -3.8 0.4 5.4 0.4 -1.2 0.4 -2.8 0.4 1.6 0.4 1.2 0.4 0.5 0.4 2.3 0.4 -2.9 0.4 0 0.4 -8.6 0.4 4.8 0.4 2.1 0.4 -5.3 0.4 6.9 0.4 -0.4 0.4 -3.9 0.4 0.7 0.4 -2.4 0.4 2.7 0.4 -1.3 0.4 -1.3 0.4 -1 0.4 2.8 0.4 -0.4 0.4 3.7 0.4 -2.1 0.4 -3.7 0.4 0.6 0.4 3.6 0.4 -2.2 0.4 2.5 0.4 0.4 0.4 -0.6 0.4 -4.7 0.4 -0.1 0.4 4.5 0.4 -3.4 0.4 4 0.4 -2.8 0.4 3.2 0.4 -5.6 0.4 1.8 0.4 -6.1 0.4 7.1 0.4 -0.3 0.4 -2.3 0.4 0 0.4 -0.1 0.4 1.8 0.4 -2.1 0.4 3.9 0.4 -4.5 0.4 6.2 0.4 -5.5 0.4 2.3 0.4 4.5 0.4 -6.1 0.4 0.3 0.4 2.7 0.4 -3.4 0.4 -0.5 0.4 1.7 0.4 -0.3 0.4 -0.7 0.4 0.8 0.4 5.3 0.4 -4.1 0.4 2.1 0.4 -5 0.4 4.2 0.4 -2.8 0.4 0.5 0.4 1.1 0.4 -1.9 0.4 -3.4 0.4 4.1 0.4 0.2 0.4 1 0.4 -2.8 0.4 1.2 0.4 0.7 0.4 -0.8 0.4 1.8 0.4 -1.6 0.4 4.5 0.4 -0.2 0.4 4 0.4 -1.1 0.4 6 0.4 1.7 0.4 -2.3 0.4 1.3 0.4 -0.7 0.4 1.9 0.4 1.4 0.4 -2.6 0.4 -2.2 0.4 4.4 0.4 -0.2 0.4 -4.1 0.4 2.2 0.4 -3 0.4 2.1 0.4 0.4 0.4 2.4 0.4 -2.6 0.4 -4.3 0.4 4.2 0.4 3.9 0.4 -3.1 0.4 1.7 0.4 -0.4 0.4 -1 0.4 0.9 0.4 -3.4 0.4 2 0.4 4 0.4 -5.5 0.4 -2.8 0.4 7.3 0.4 -4 0.4 -3.9 0.4 1.8 0.4 -2.8 0.4 4.2 0.4 0 0.4 -2.1 0.4 -0.2 0.4 1.4 0.4 7.4 0.4 -6.7 0.4 2 0.4 -2.9 0.4 -1.6 0.4 2.8 0.4 -1 0.4 -0.1 0.4 4.4 0.4 -0.5 0.4 -6.1 0.4 5.3 0.4 -2.5 0.4 3.5 0.4 -3.9 0.4 -1.9 0.4 5.6 0.4 -4.1 0.4 -1.1 0.4 -1 0.4 1.4 0.4 0.3 0.4 -5.3 0.4 2 0.4 -0.1 0.4 2.2 0.4 -2.8 0.4 -2.9 0.4 8.2 0.4 -4.4 0.4 -0.9 0.4 4.4 0.4 -0.2 0.4 -1 0.4 0 0.4 -1.1 0.4 -1.9 0.4 2.1 0.4 -0.8 0.4 2.4 0.4 -1.7 0.4 -3 0.4 1.2 0.4 0.3 0.4 1.6 0.4 -3.1 0.4 -2.1 0.4 3 0.4 2.6 0.4 -0.5 0.4 -0.1 0.4 -3.9 0.4 1.6 0.4 3 0.4 -7.6 0.4 2.7 0.4 0 0.4 3.8 0.4 -1.8 0.4 -0.3 0.4 2.4 0.4 -2.8 0.4 3.1 0.4 -0.2 0.4 -2.4 0.4 -1.1 0.4 1.9 0.4 0.8 0.4 1.8 0.4 -7.4 0.4 5.7 0.4 0.9 0.4 -1 0.4 -1.3 0.4 -1.5 0.4 2 0.4 -0.6 0.4 0.9 0.4 -4 0.4 1.4 0.4 0.2 0.4 -2.1 0.4 3.9 0.4 -1.6 0.4 -2.3 0.4 -0.2 0.4 2.4 0.4 0.4 0.4 6.5 0.4 -2 0.4 -3.6 0.4 -1.3 0.4 -1.2 0.4 0.8 0.4 0.5 0.4 0.7 0.4 -2.7 0.4 3.1 0.4 1.8 0.4 0.2 0.4 -6.1 0.4 4 0.4 -0.6 0.4 -2.9 0.4 2.2 0.4 -1.7 0.4 3.1 0.4 8 0.4 -5 0.4 2.1 0.4 -2.4 0.4 -3.8 0.4 2.9 0.4 -2.3 0.4 1.5 0.4 -3.4 0.4 -1.4 0.4 7.4 0.4 -1.1 0.4 -1.6 0.4 -2 0.4 2.3 0.4 -4.4 0.4 4.2 0.4 -0.2 0.4 -1.2 0.4 -1.8 0.4 1.3 0.4 1.1 0.4 -0.5 0.4 1.1 0.4 -1.9 0.4 -0.3 0.4 -0.4 0.4 5.5 0.4 0.1 0.4 -1 0.4 -4.7 0.4 1.5 0.4 1.5 0.4 -1 0.4 2.4 0.4 -3.6 0.4 0.9 0.4 0.2 0.4 -6.2 0.4 7.2 0.4 2 0.4 1.1 0.4 1.8 0.4 8 0.4 -1.8 0.4 1.4 0.4 -5.6 0.4 -1 0.4 6.2 0.4 3.8 0.4 -3.3 0.4 3.2 0.4 1.6 0.4 -2.4 0.4 0.8 0.4 -2.9 0.4 2.5 0.4 1 0.4 -3.8 0.4 0.1 0.4 -0.5 0.4 1.6 0.4 1.2 0.4 -2.9 0.4 3.5 0.4 -5.3 0.4 4.3 0.4 2.2 0.4 -0.1 0.4 -3.1 0.4 1.7 0.4 3.7 0.4 -3.6 0.4 -6.9 0.4 6.2 0.4 3.5 0.4 -5.7 0.4 4.8 0.4 -7.2 0.4 7.4 0.4 -5.7 0.4 4.2 0.4 -1.5 0.4 -6.7 0.4 4.4 0.4 2.8 0.4 -5.2 0.4 4.9 0.4 -4.3 0.4 4.7 0.4 -1.3 0.4 -1.4 0.4 2.8 0.4 1.5 0.4 -2.4 0.4 0.2 0.4 -0.1 0.4 -1.5 0.4 -3 0.4 3.7 0.4 -2.6 0.4 -3.4 0.4 6.5 0.4 0.1 0.4 -2.9 0.4 0.1 0.4 2.3 0.4 0.8 0.4 0 0.4 -3.5 0.4 1.6 0.4 1.6 0.4 0.2 0.4 1 0.4 -7.2 0.4 0.4 0.4 1.2 0.4 1.4 0.4 -1.2 0.4 4.4 0.4 -3.1 0.4 1.7 0.4 4.8 0.4 -9.5 0.4 0.6 0.4 5 0.4 -2.7 0.4 -0.1 0.4 -1.4 0.4 6.5 0.4 -5.3 0.4 -0.5 0.4 -4.5 0.4 6.5 0.4 -1.8 0.4 1.7 0.4 1.4 0.4 -3.3 0.4 -2.3 0.4 0.8 0.4 2.8 0.4 1 0.4 -4.7 0.4 2.5 0.4 0 0.4 2.4 0.4 -3.3 0.4 2.7 0.4 0.6 0.4 -2.2 0.4 -0.2 0.4 1.8 0.4 0.9 0.4 2.1 0.4 -6.2 0.4 4.1 0.4 -2.2 0.4 -1.4 0.4 1.5 0.4 -0.7 0.4 2.3 0.4 3.3 0.4 -9.4 0.4 4.2 0.4 2.7 0.4 -3.3 0.4 3.8 0.4 -5.9 0.4 3.5 0.4 -6 0.4 5.7 0.4 1.5 0.4 0.5 0.4 0.8 0.4 -3.3 0.4 -1.9 0.4 1.5 0.4 -3.1 0.4 6.8 0.4 -0.9 0.4 -2.4 0.4 6.2 0.4 -6.5 0.4 5.2 0.4 -3.4 0.4 -0.5 0.4 3.5 0.4 -3.1 0.4 5.6 0.4 -5.1 0.4 0.1 0.4 -1.6 0.4 2.3 0.4 -2.5 0.4 3.2 0.4 0.4 0.4 -1.2 0.4 -1.3 0.4 5.2 0.4 -4 0.4 -0.6 0.4 2.8 0.4 -1.4 0.4 -3 0.4 2.3 0.4 -0.1 0.4 -1.9 0.4 3.2 0.4 -3.6 0.4 2.4 0.4 -3.9 0.4 2.5 0.4 -7.1 0.4 5.4 0.4 1.7 0.4 3.8 0.4 -2.6 0.4 1.8 0.4 -1.6 0.4 -4.7 0.4 6.1 0.4 -3.8 0.4 4.5 0.4 -1.7 0.4 -0.8 0.4 -5.7 0.4 2.8 0.4 1.5 0.4 2.4 0.4 -2.4 0.4 8.4 0.4 -2.6 0.4 -1.4 0.4 -1 0.4 1 0.4 -1.2 0.4 0.1 0.4 0.2 0.4 2.1 0.4 -7.9 0.4 4.5 0.4 1.6 0.4 -5.5 0.4 3.2 0.4 -0.5 0.4 -0.9 0.4 5 0.4 -3.1 0.4 2.7 0.4 -0.7 0.4 -0.5 0.4 -0.3 0.4 -1.9 0.4 -3.4 0.4 7.6 0.4 -2.4 0.4 1.3 0.4 -5.1 0.4 5.8 0.4 0.4 0.4 -1.9 0.4 -4.4 0.4 2.9 0.4 -0.3 0.4 0.2 0.4 1.6 0.4 -2.5 0.4 2.7 0.4 0.5 0.4 3.1 0.4 -2.7 0.4 3.4 0.4 -6.9 0.4 2.2 0.4 4 0.4 -7.8 0.4 7.6 0.4 1.8 0.4 -0.5 0.4 -0.5 0.4 1.1 0.4 -4.7 0.4 0.4 0.4 -0.4 0.4 3.2 0.4 -8.1 0.4 1.6 0.4 -1.3 0.4 3.3 0.4 2.4 0.4 -0.2 0.4 -2.2 0.4 2.1 0.4 -5.3 0.4 0.2 0.4 -5.9 0.4 -0.3 0.4 -6.4 0.4 1.5 0.4 -0.9 0.4 3.8 0.4 -5.8 0.4 -0.8 0.4 4 0.4 -0.8 0.4 -0.7 0.4 -2.4 0.4 3.2 0.4 -4.5 0.4 1.9 0.4 5.3 0.4 -4.7 0.4 1.3 0.4 0.4 0.4 0.4 0.4 3.3 0.4 -2.5 0.4 -2.3 0.4 -0.5 0.4 -0.2 0.4 1.9 0.4 2.7 0.4 -0.1 0.4 -2.1 0.4 -4.3 0.4 3.5 0.4 -0.7 0.4 -2.6 0.4 1.9 0.4 1.7 0.4 0.2 0.4 -3.2 0.4 -2.7 0.4 6.2 0.4 4.1 0.4 -3.5 0.4 -1.1 0.4 -1.2 0.4 1.8 0.4 -0.4 0.4 3.7 0.4 -6 0.4 0.9 0.4 4.9 0.4 -0.9 0.4 -0.6 0.4 -0.3 0.4 -2.3 0.4 1.5 0.4 -0.7 0.4 0.3 0.4 -3.7 0.4 8.2 0.4 -4.1 0.4 -0.9 0.4 0.7 0.4 -2.1 0.4 -0.2 0.4 1.1 0.4 2.4 0.4 -2.4 0.4 2 0.4 -2.8 0.4 4.5 0.4 -4.9 0.4 3 0.4 -3.7 0.4 1.8 0.4 -2.4 0.4 0.4 0.4 4.1 0.4 -2.9 0.4 3.4 0.4 2.6 0.4 -3 0.4 1.6 0.4 -0.6 0.4 -0.1 0.4 -1.2 0.4 0.2 0.4 0.9 0.4 -3.1 0.4 1.6 0.4 1.1 0.4 2.9 0.4 -5 0.4 2 0.4 0.3 0.4 -1.2 0.4 -3.3 0.4 -1.2 0.4 0.7 0.4 1.6 0.4 1.9 0.4 -2.5 0.4 5.5 0.4 -1.3 0.4 -1.5 0.4 -1.9 0.4 3.5 0.4 -0.2 0.4 2.8 0.4 -3.4 0.4 5 0.4 -6.6 0.4 2.2 0.4 4.6 0.4 -1.8 0.4 1.7 0.4 -6 0.4 3.4 0.4 1.2 0.4 -0.8 0.4 -2.4 0.4 4.5 0.4 -1.6 0.4 -3.4 0.4 7.6 0.4 -5.7 0.4 2.4 0.4 -4.3 0.4 -0.3 0.4 4.5 0.4 0 0.4 -1.8 0.4 1.4 0.4 -3.6 0.4 -0.6 0.4 4.9 0.4 -3.7 0.4 3.7 0.4 0 0.4 -0.2 0.4 0.8 0.4 -2.3 0.4 -0.5 0.4 -1.2 0.4 3.6 0.4 -0.5 0.4 -1.6 0.4 2.3 0.4 -0.1 0.4 6.7 0.4 -4.6 0.4 -4.5 0.4 2.9 0.4 -3.4 0.4 1.7 0.4 4.6 0.4 -4.7 0.4 2.9 0.4 -3.4 0.4 2.4 0.4 -1.1 0.4 -4.2 0.4 3.3 0.4 6.1 0.4 -4.2 0.4 2.7 0.4 0.4 0.4 -3 0.4 2.2 0.4 -1.3 0.4 -8.6 0.4 8.7 0.4 0.4 0.4 -2.9 0.4 1.1 0.4 -1.8 0.4 3.2 0.4 1.3 0.4 -2.7 0.4 -1.9 0.4 6.2 0.4 -0.7 0.4 -3 0.4 1 0.4 -0.2 0.4 -5.5 0.4 12.2 0.4 -6.6 0.4 -1.7 0.4 5 0.4 0 0.4 0.9 0.4 -1.5 0.4 -0.8 0.4 2.1 0.4 -2.5 0.4 -0.4 0.4 -2.6 0.4 -1.6 0.4 4 0.4 -0.5 0.4 -3.2 0.4 3.7 0.4 3.1 0.4 -5.1 0.4 3.3 0.4 3.3 0.4 -3.9 0.4 4.3 0.4 -0.4 0.4 -2.6 0.4 -2 0.4 -2.6 0.4 -4.3 0.4 4.1 0.4 -11.7 0.4 -0.1 0.4 -2 0.4 3.7 0.4 1 0.4 -2.1 0.4 -6 0.4 6.9 0.4 -3 0.4 -1.6 0.4 -0.4 0.4 5 0.4 -3 0.4 1.4 0.4 -0.2 0.4 2 0.4 -8.1 0.4 9.6 0.4 -6 0.4 2.4 0.4 1.1 0.4 -1.9 0.4 -2.5 0.4 5.4 0.4 -1.6 0.4 -2.2 0.4 0.4 0.4 -1.9 0.4 6.1 0.4 -0.3 0.4 -2.9 0.4 0.6 0.4 -2.5 0.4 2.7 0.4 0.1 0.4 1.5 0.4 3.6 0.4 -2 0.4 0.9 0.4 -5.2 0.4 4 0.4 -3.4 0.4 0.3 0.4 2.7 0.4 -2.8 0.4 4.7 0.4 -4.3 0.4 0.6 0.4 3 0.4 -4.5 0.4 3.4 0.4 1.7 0.4 -4.3 0.4 -0.8 0.4 4 0.4 -4.5 0.4 3.5 0.4 -2.3 0.4 2.4 0.4 -2.9 0.4 3.5 0.4 -2 0.4 2.8 0.4 -3.9 0.4 2 0.4 -4.5 0.4 1.2 0.4 4.5 0.4 -4 0.4 4.2 0.4 -2.6 0.4 3.3 0.4 -0.5 0.4 -1.7 0.4 0.9 0.4 -3.2 0.4 2 0.4 0.6 0.4 1.1 0.4 -0.2 0.4 4.2 0.4 -5.1 0.4 -0.5 0.4 -2.7 0.4 6 0.4 -5.3 0.4 2.3 0.4 -0.7 0.4 3.1 0.4 -3.2 0.4 0.4 0.4 -0.2 0.4 1.6 0.4 0.7 0.4 -1.9 0.4 2.3 0.4 -0.7 0.4 3.1 0.4 -1.8 0.4 -2.2 0.4 -2 0.4 0.2 0.4 2.9 0.4 -2.7 0.4 -0.1 0.4 -0.6 0.4 8.1 0.4 -2 0.4 2.6 0.4 -6.1 0.4 4.8 0.4 2.6 0.4 -3 0.4 0.2 0.4 0.8 0.4 -4.1 0.4 5.9 0.4 -5.9 0.4 1.6 0.4 2.5 0.4 -3.7 0.4 5.6 0.4 -1.8 0.4 -3.7 0.4 5.3 0.4 -2.4 0.4 -0.4 0.4 3.9 0.4 -0.7 0.4 -3.9 0.4 -0.1 0.4 3.1 0.4 2.4 0.4 -1.7 0.4 1 0.4 -2.9 0.4 -3.1 0.4 -0.2 0.4 7.3 0.4 -0.7 0.4 -0.7 0.4 -2.8 0.4 -0.4 0.4 2.3 0.4 0.4 0.4 -1.7 0.4 -4.5 0.4 -2.6 0.4 0.2 0.4 -4.2 0.4 0.4 0.4 -5.8 0.4 -2.8 0.4 0.4 0.4 4.4 0.4 2 0.4 -3.1 0.4 -0.9 0.4 2.6 0.4 3.7 0.4 -1.4 0.4 -1.2 0.4 1 0.4 -2.4 0.4 -1.3 0.4 0.6 0.4 2.6 0.4 -8.2 0.4 3.2 0.4 1.9 0.4 -1.1 0.4 1.8 0.4 -0.9 0.4 0.2 0.4 1.1 0.4 3.2 0.4 -4.1 0.4 1.6 0.4 1 0.4 1.1 0.4 -2.2 0.4 -5 0.4 7.1 0.4 0.4 0.4 -4.2 0.4 3.8 0.4 -2 0.4 -5.3 0.4 4 0.4 1.7 0.4 -1 0.4 1.6 0.4 -3.1 0.4 5.1 0.4 -1.4 0.4 2.9 0.4 -4 0.4 -5.9 0.4 7.6 0.4 -2.3 0.4 -5.2 0.4 1.3 0.4 0 0.4 3.3 0.4 0.6 0.4 2 0.4 -2.7 0.4 3.1 0.4 -2.7 0.4 -1.3 0.4 2.4 0.4 -0.8 0.4 2 0.4 -7.3 0.4 2.2 0.4 2.7 0.4 3.3 0.4 -3 0.4 -3.3 0.4 -3.3 0.4 10.2 0.4 -3.7 0.4 -3.6 0.4 5.7 0.4 1 0.4 3.6 0.4 -3.7 0.4 -2 0.4 3.7 0.4 -5.6 0.4 -0.4 0.4 -0.3 0.4 0.6 0.4 0.4 0.4 -0.2 0.4 0.2 0.4 2.3 0.4 -1.2 0.4 -0.3 0.4 -0.1 0.4 2.6 0.4 -0.4 0.4 2.2 0.4 -2.1 0.4 -1.2 0.4 -1.1 0.4 4.7 0.4 -0.1 0.4 -8.3 0.4 7.5 0.4 -3.2 0.4 3.1 0.4 -1.4 0.4 -1.8 0.4 -1.2 0.4 3.8 0.4 6.4 0.4 -7.1 0.4 -1 0.4 2.4 0.4 -0.3 0.4 2.6 0.4 2.8 0.4 -2.4 0.4 1.2 0.4 -1.3 0.4 5.3 0.4 -5.8 0.4 1.9 0.4 -2.5 0.4 3.7 0.4 -1.9 0.4 -1.7 0.4 7.3 0.4 -8.6 0.4 4.7 0.4 -2.6 0.4 -1.5 0.4 6.1 0.4 -3.9 0.4 0.6 0.4 -0.3 0.4 2.6 0.4 -0.2 0.4 -0.6 0.4 -1.6 0.4 3.7 0.4 -1.4 0.4 -0.1 0.4 -2.9 0.4 1.2 0.4 3.4 0.4 -2.6 0.4 3.5 0.4 -2.1 0.4 -0.7 0.4 0.5 0.4 -1.4 0.4 -0.6 0.4 2.3 0.4 1.4 0.4 3.7 0.4 -1.2 0.4 -6.2 0.4 4.1 0.4 -8.1 0.4 -4.1 0.4 -0.7 0.4 -3.2 0.4 -1.2 0.4 -1 0.4 -0.2 0.4 3.5 0.4 -0.2 0.4 -2.9 0.4 1.7 0.4 0.2 0.4 -0.1 0.4 -1.1 0.4 -0.8 0.4 0 0.4 -2.2 0.4 1.6 0.4 -1.7 0.4 4.3 0.4 -0.6 0.4 2.1 0.4 -2.3 0.4 -1.7 0.4 3.1 0.4 -2.3 0.4 1.6 0.4 2 0.4 -1.3 0.4 -1.8 0.4 -0.1 0.4 -1.5 0.4 3.8 0.4 -1.7 0.4 0.1 0.4 -0.2 0.4 3.2 0.4 -2.5 0.4 0 0.4 -3.2 0.4 7.9 0.4 -4.7 0.4 -1.9 0.4 0.6 0.4 -0.3 0.4 1.8 0.4 -1.7 0.4 -0.6 0.4 3.1 0.4 -2.9 0.4 -2.1 0.4 4.2 0.4 -2.1 0.4 -0.1 0.4 -2 0.4 2.6 0.4 -0.4 0.4 1.1 0.4 1.5 0.4 2.6 0.4 0.8 0.4 -1.7 0.4 2 0.4 -1.9 0.4 -1.9 0.4 2.7 0.4 2 0.4 -5.7 0.4 1.3 0.4 -0.2 0.4 -0.5 0.4 3.1 0.4 -2.1 0.4 3 0.4 3 0.4 -5 0.4 -1.5 0.4 0.6 0.4 3.8 0.4 -2.7 0.4 -3 0.4 1.2 0.4 4.5 0.4 -3.5 0.4 1.2 0.4 1 0.4 2.9 0.4 -1.4 0.4 1.6 0.4 -0.6 0.4 -0.4 0.4 -2.2 0.4 1 0.4 3.3 0.4 -4.1 0.4 -0.9 0.4 2 0.4 -2 0.4 -1.1 0.4 2.4 0.4 0.1 0.4 3.2 0.4 -5.1 0.4 1.9 0.4 2.6 0.4 -3.8 0.4 4.2 0.4 3.3 0.4 -8.4 0.4 2.1 0.4 1.6 0.4 -1.4 0.4 1.4 0.4 1.2 0.4 4 0.4 2.4 0.4 -6.5 0.4 -3.5 0.4 6.2 0.4 -2.1 0.4 -2.5 0.4 2.8 0.4 -0.9 0.4 -0.1 0.4 -1.4 0.4 3.2 0.4 1.2 0.4 -2.2 0.4 0.6 0.4 3.5 0.4 -4.3 0.4 -0.4 0.4 -1.7 0.4 1.2 0.4 3.8 0.4 -2.3 0.4 3.5 0.4 -1 0.4 -6.5 0.4 6.5 0.4 0.7 0.4 -3.2 0.4 4.5 0.4 -1.2 0.4 -0.4 0.4 0.7 0.4 2.9 0.4 -1.8 0.4 -1.3 0.4 -0.1 0.4 7 0.4 -8.7 0.4 2.5 0.4 0.5 0.4 2.9 0.4 -1.3 0.4 -1 0.4 -2.2 0.4 3.6 0.4 -3.2 0.4 0.1 0.4 1.2 0.4 1.5 0.4 -2.3 0.4 -3.8 0.4 -1.2 0.4 -6.3 0.4 -1.9 0.4 -2.8 0.4 1.6 0.4 -1.3 0.4 -0.7 0.4 -0.6 0.4 0.2 0.4 1.6 0.4 1 0.4 -0.3 0.4 0.1 0.4 -4.9 0.4 0.7 0.4 3.7 0.4 0.7 0.4 -1.1 0.4 -1.2 0.4 1.4 0.4 -6 0.4 6.3 0.4 2.8 0.4 -1.9 0.4 -0.8 0.4 -0.2 0.4 3.7 0.4 -4.3 0.4 0.7 0.4 1.2 0.4 -2.8 0.4 4.2 0.4 -1.2 0.4 -1.1 0.4 0.5 0.4 4.1 0.4 -4.7 0.4 0.9 0.4 2.4 0.4 -1.7 0.4 3.1 0.4 -2.4 0.4 2.2 0.4 -0.7 0.4 1.3 0.4 -3.5 0.4 3.7 0.4 0 0.4 -3.8 0.4 -1.8 0.4 0.3 0.4 2.4 0.4 2.3 0.4 -1.6 0.4 3.5 0.4 0.1 0.4 -7 0.4 3.5 0.4 -1.6 0.4 3.8 0.4 0.5" fill="none" stroke="#dd9900" stroke-width="1.7" stroke-linejoin="round"/>
<path d="M69 123.6l0.4 0.8 0.4 -3.7 0.4 -0.9 0.4 -2.7 0.4 1.8 0.4 0.1 0.4 -2 0.4 2 0.4 1.8 0.4 -1.4 0.4 -0.6 0.4 0.9 0.4 0.5 0.4 -3.4 0.4 4.4 0.4 -0.9 0.4 3.9 0.4 -3.8 0.4 0 0.4 0.5 0.4 -1.3 0.4 0.9 0.4 -1.5 0.4 -2.8 0.4 2.8 0.4 0.2 0.4 -1.3 0.4 -2.3 0.4 2.6 0.4 0.6 0.4 1.9 0.4 0.4 0.4 2.5 0.4 -1.6 0.4 1.1 0.4 0.9 0.4 -2.4 0.4 -0.1 0.4 0 0.4 5.3 0.4 -4.6 0.4 1.9 0.4 -2.2 0.4 -0.9 0.4 -2.7 0.4 7.3 0.4 -2.6 0.4 2.2 0.4 -4.2 0.4 3.6 0.4 7 0.4 2.7 0.4 -1.3 0.4 1.9 0.4 6.1 0.4 1.1 0.4 -0.7 0.4 1.2 0.4 -3.7 0.4 4.8 0.4 0.7 0.4 -4.3 0.4 -2.2 0.4 1.5 0.4 2.8 0.4 -6.7 0.4 4.8 0.4 -1.2 0.4 1.8 0.4 0.2 0.4 -0.9 0.4 2.9 0.4 -1.5 0.4 0.7 0.4 -2.2 0.4 -0.2 0.4 1.7 0.4 -6.2 0.4 4.6 0.4 -0.1 0.4 -3.2 0.4 3.8 0.4 -2.8 0.4 -2.7 0.4 4.1 0.4 -1.8 0.4 0.9 0.4 2.1 0.4 1.5 0.4 -2.7 0.4 0.4 0.4 1 0.4 -4.6 0.4 7.2 0.4 -6.3 0.4 2.4 0.4 -2.3 0.4 0.6 0.4 0.1 0.4 5.2 0.4 -4 0.4 -1.5 0.4 0.7 0.4 -2 0.4 3.3 0.4 -2.2 0.4 3 0.4 -4 0.4 3.9 0.4 -2.8 0.4 1.1 0.4 3.6 0.4 -2.8 0.4 0.9 0.4 0.4 0.4 2.5 0.4 -7.3 0.4 6.2 0.4 -5 0.4 2.8 0.4 3.7 0.4 -4.1 0.4 0 0.4 0.1 0.4 0.3 0.4 -1.4 0.4 -0.3 0.4 3.4 0.4 0.1 0.4 -4.6 0.4 2.1 0.4 1.2 0.4 0.1 0.4 -1.7 0.4 0.4 0.4 -1.6 0.4 -2.1 0.4 0.6 0.4 3.1 0.4 1.5 0.4 -3.9 0.4 -2.3 0.4 2.8 0.4 3.6 0.4 -1.7 0.4 -2.5 0.4 2.7 0.4 -4.6 0.4 1.5 0.4 0.9 0.4 1 0.4 1.9 0.4 1.1 0.4 -0.9 0.4 1.7 0.4 -4.8 0.4 -1.5 0.4 3.5 0.4 3.1 0.4 -5.9 0.4 -2.5 0.4 3.1 0.4 3.7 0.4 -3.6 0.4 3.1 0.4 -3 0.4 0.3 0.4 -0.2 0.4 0 0.4 3.7 0.4 -6.1 0.4 -0.3 0.4 7.8 0.4 -4.8 0.4 9.9 0.4 -2.6 0.4 1.1 0.4 4.9 0.4 1.9 0.4 0.2 0.4 -0.2 0.4 3.9 0.4 -8.6 0.4 5 0.4 -0.9 0.4 3 0.4 -7.3 0.4 4.8 0.4 -0.9 0.4 0.7 0.4 3.7 0.4 -1 0.4 2.7 0.4 -5.6 0.4 2 0.4 1.3 0.4 -1.2 0.4 -1.7 0.4 3.5 0.4 -3.2 0.4 3.7 0.4 -3.5 0.4 -0.9 0.4 0.2 0.4 1.6 0.4 1.1 0.4 -3.9 0.4 0.4 0.4 3 0.4 -3.9 0.4 -1.9 0.4 6.8 0.4 -3.8 0.4 3 0.4 -3.2 0.4 -4.7 0.4 5.8 0.4 -1.1 0.4 4.8 0.4 -1.4 0.4 -1.9 0.4 0.2 0.4 -2.1 0.4 0.7 0.4 -3.8 0.4 5.6 0.4 -4.5 0.4 1.6 0.4 2.2 0.4 2 0.4 -4.7 0.4 6 0.4 -3.3 0.4 0.9 0.4 0.8 0.4 -1.9 0.4 0.5 0.4 3.3 0.4 -1.1 0.4 -0.9 0.4 -6.4 0.4 1.5 0.4 3.8 0.4 -3.1 0.4 -1.4 0.4 1.1 0.4 -1.9 0.4 3.9 0.4 0.4 0.4 1.7 0.4 -5.6 0.4 5.8 0.4 -5.4 0.4 -1.4 0.4 5.2 0.4 -5 0.4 -0.2 0.4 -0.1 0.4 0.6 0.4 3.1 0.4 0.2 0.4 -0.8 0.4 -2 0.4 1.7 0.4 -0.9 0.4 0.4 0.4 -0.3 0.4 -1.7 0.4 4.2 0.4 -1.2 0.4 -0.8 0.4 -7 0.4 5.5 0.4 -2.5 0.4 -1.6 0.4 1.6 0.4 3.4 0.4 -0.4 0.4 -1.9 0.4 -0.9 0.4 -0.6 0.4 2.8 0.4 -2.6 0.4 -3.3 0.4 -0.5 0.4 1.9 0.4 1.4 0.4 2.5 0.4 -6.5 0.4 3.2 0.4 -0.3 0.4 -0.4 0.4 1 0.4 -0.6 0.4 -3.4 0.4 0.8 0.4 -2 0.4 0.6 0.4 3.9 0.4 -2.8 0.4 2.6 0.4 -0.7 0.4 -1.7 0.4 2.3 0.4 -1.6 0.4 -1.2 0.4 1.8 0.4 7.3 0.4 -0.1 0.4 2.7 0.4 4.5 0.4 0.9 0.4 3.9 0.4 -3.5 0.4 -2.6 0.4 0.6 0.4 2.9 0.4 -3 0.4 0.3 0.4 0.4 0.4 0 0.4 0.7 0.4 0.3 0.4 -0.4 0.4 0.1 0.4 2.4 0.4 -0.5 0.4 -2.5 0.4 5.6 0.4 -8.4 0.4 5.2 0.4 0.2 0.4 0.9 0.4 -1.4 0.4 -2.2 0.4 1.9 0.4 -3.1 0.4 1.1 0.4 -9.2 0.4 5.5 0.4 -0.1 0.4 3.1 0.4 1.9 0.4 -0.2 0.4 -2.9 0.4 1.9 0.4 -0.2 0.4 1.2 0.4 -0.5 0.4 -2.9 0.4 7.7 0.4 -3.4 0.4 -5.5 0.4 6.7 0.4 -5.4 0.4 1.8 0.4 -0.3 0.4 -1.6 0.4 2.9 0.4 -0.9 0.4 -3.1 0.4 3.5 0.4 0.4 0.4 2.9 0.4 -4.9 0.4 -1.5 0.4 3.2 0.4 0.1 0.4 -3.2 0.4 0.4 0.4 2.7 0.4 -1.2 0.4 0.6 0.4 -1.6 0.4 -0.2 0.4 2.1 0.4 1 0.4 -2.8 0.4 2.3 0.4 0.7 0.4 1 0.4 -1.3 0.4 -3.3 0.4 -1.1 0.4 3.6 0.4 -0.6 0.4 -1.7 0.4 -1.4 0.4 1.9 0.4 -3.4 0.4 -0.7 0.4 2.2 0.4 -2.6 0.4 4.1 0.4 1.3 0.4 -3.1 0.4 4.7 0.4 -4.6 0.4 2.6 0.4 2.8 0.4 -4.8 0.4 0 0.4 4.5 0.4 -1.9 0.4 -0.6 0.4 -4.5 0.4 3.5 0.4 1.6 0.4 1 0.4 -1.9 0.4 -3.3 0.4 1.9 0.4 -3.2 0.4 0.5 0.4 5.7 0.4 -2.5 0.4 -3.5 0.4 4.3 0.4 -4.3 0.4 6.4 0.4 -5.1 0.4 2.7 0.4 -0.5 0.4 0 0.4 2.6 0.4 -3.6 0.4 0.1 0.4 -1.3 0.4 -1.2 0.4 2 0.4 3.9 0.4 -1.2 0.4 -0.3 0.4 3.1 0.4 -4.6 0.4 -0.3 0.4 -4 0.4 3.9 0.4 4.2 0.4 -0.7 0.4 -0.1 0.4 1 0.4 -1.6 0.4 6 0.4 -0.5 0.4 -2.7 0.4 6.3 0.4 0.6 0.4 -4.1 0.4 1.7 0.4 -2.1 0.4 2.2 0.4 0 0.4 3.1 0.4 -0.8 0.4 -1.1 0.4 -0.9 0.4 -1.5 0.4 -1.6 0.4 4 0.4 0.7 0.4 -2.1 0.4 3 0.4 -3.2 0.4 -1.8 0.4 0.7 0.4 -0.2 0.4 -2.4 0.4 -0.2 0.4 2.7 0.4 -2.6 0.4 1.4 0.4 2.5 0.4 -1.6 0.4 2.5 0.4 -3.5 0.4 1.9 0.4 -2 0.4 -4.8 0.4 5.8 0.4 -3.4 0.4 -2.5 0.4 4.8 0.4 -0.3 0.4 -2.7 0.4 0.2 0.4 3.4 0.4 0.1 0.4 -0.2 0.4 -0.1 0.4 -0.4 0.4 -7.5 0.4 3.9 0.4 3.8 0.4 -7.3 0.4 7.1 0.4 -1.5 0.4 -3.9 0.4 2.9 0.4 -3.8 0.4 0.8 0.4 -0.1 0.4 0.5 0.4 -2.2 0.4 3.7 0.4 -1.5 0.4 3.5 0.4 -1.6 0.4 -3.9 0.4 0.7 0.4 3.9 0.4 -1.1 0.4 1.3 0.4 1.4 0.4 -2.2 0.4 -3 0.4 1.3 0.4 1.9 0.4 -5 0.4 7 0.4 -3.6 0.4 2 0.4 -4.1 0.4 2.1 0.4 -6.1 0.4 4.9 0.4 1.9 0.4 -3.1 0.4 -0.7 0.4 2 0.4 0.2 0.4 -3.2 0.4 5.1 0.4 -5.9 0.4 8.2 0.4 -7.8 0.4 1.9 0.4 5.5 0.4 -5.4 0.4 -0.3 0.4 5.5 0.4 -3.9 0.4 -0.7 0.4 0.3 0.4 -1.5 0.4 0.5 0.4 0.8 0.4 6.4 0.4 -4.8 0.4 2.3 0.4 -6.2 0.4 3.6 0.4 -2.8 0.4 1.6 0.4 4 0.4 -4.8 0.4 -2.2 0.4 3.6 0.4 0.4 0.4 1.1 0.4 -5.5 0.4 4.9 0.4 -0.4 0.4 -3.1 0.4 4.5 0.4 -1.7 0.4 4.3 0.4 0.7 0.4 2 0.4 -1.6 0.4 7.8 0.4 1.5 0.4 -0.7 0.4 1.4 0.4 -3.4 0.4 1 0.4 2.3 0.4 0.1 0.4 -1.9 0.4 3.2 0.4 0 0.4 -3.1 0.4 1.9 0.4 -3.3 0.4 3.4 0.4 -2.1 0.4 3.5 0.4 -2.9 0.4 -3.3 0.4 3.5 0.4 3.1 0.4 -2.6 0.4 3.3 0.4 -0.3 0.4 -0.2 0.4 -1.6 0.4 -3.1 0.4 3.4 0.4 4 0.4 -6.8 0.4 -3.1 0.4 9.3 0.4 -4.6 0.4 -3.4 0.4 0.3 0.4 -1.5 0.4 4.1 0.4 -0.2 0.4 -2.1 0.4 3.5 0.4 -2 0.4 6 0.4 -7.3 0.4 3.6 0.4 -4 0.4 0.5 0.4 1.3 0.4 -1.6 0.4 2.2 0.4 2.5 0.4 1.2 0.4 -6.2 0.4 4.8 0.4 -1.5 0.4 3.8 0.4 -6 0.4 -0.6 0.4 4.4 0.4 -0.6 0.4 -2.6 0.4 -1.1 0.4 0.6 0.4 1.5 0.4 -6 0.4 2 0.4 3 0.4 -1.1 0.4 -0.7 0.4 -3.2 0.4 7.2 0.4 -3.6 0.4 -0.7 0.4 5.5 0.4 -0.9 0.4 -1.5 0.4 0.5 0.4 -1.2 0.4 -4.5 0.4 4.5 0.4 0.9 0.4 -0.5 0.4 1 0.4 -3.2 0.4 1.4 0.4 0 0.4 -0.2 0.4 -1.8 0.4 -2.7 0.4 2.4 0.4 1.8 0.4 0.8 0.4 -1 0.4 -4.4 0.4 3.4 0.4 1.7 0.4 -6.2 0.4 3.5 0.4 -1.4 0.4 5.7 0.4 -2.2 0.4 -1.3 0.4 0.7 0.4 0.1 0.4 0.6 0.4 0.9 0.4 -1.3 0.4 -0.5 0.4 -0.2 0.4 2.1 0.4 0.2 0.4 -6.3 0.4 4.7 0.4 -0.3 0.4 -1.1 0.4 -0.7 0.4 0.6 0.4 0.9 0.4 -0.9 0.4 -1.9 0.4 -0.4 0.4 -1.2 0.4 1.7 0.4 -3.9 0.4 2.9 0.4 -2.2 0.4 -1.4 0.4 0.3 0.4 3.4 0.4 0.7 0.4 6.4 0.4 -3.6 0.4 -2.9 0.4 1.1 0.4 -1.4 0.4 0.1 0.4 1.3 0.4 -0.7 0.4 -1.9 0.4 4.2 0.4 -1 0.4 2.7 0.4 -7 0.4 4.6 0.4 -3.2 0.4 -0.4 0.4 3.1 0.4 -4 0.4 3.9 0.4 6 0.4 -3.6 0.4 0.9 0.4 -0.5 0.4 -5 0.4 3.3 0.4 -1.1 0.4 0.4 0.4 -3 0.4 -2.7 0.4 8.6 0.4 -1.3 0.4 -3 0.4 -0.5 0.4 -0.3 0.4 -2.2 0.4 3.8 0.4 -1.9 0.4 0.8 0.4 -1.9 0.4 0.2 0.4 0.8 0.4 -0.2 0.4 1.3 0.4 -1.9 0.4 0.2 0.4 -1.6 0.4 6.6 0.4 -0.6 0.4 -1.1 0.4 -4.6 0.4 1.2 0.4 2.3 0.4 -3.3 0.4 4.2 0.4 -2.6 0.4 2.9 0.4 -3 0.4 -5.4 0.4 6.9 0.4 1.9 0.4 0.6 0.4 3.7 0.4 8.7 0.4 -2.7 0.4 -0.5 0.4 -3.9 0.4 -1.1 0.4 5.6 0.4 4.5 0.4 -3.5 0.4 2.9 0.4 1 0.4 -1.9 0.4 -0.1 0.4 -0.9 0.4 1.3 0.4 1.1 0.4 -2.7 0.4 -1.9 0.4 -0.3 0.4 2 0.4 1.5 0.4 -3.2 0.4 4.7 0.4 -7.6 0.4 4.9 0.4 2.2 0.4 0.8 0.4 -3.3 0.4 2.3 0.4 2.7 0.4 -3.2 0.4 -5.1 0.4 4.7 0.4 4.4 0.4 -6.4 0.4 3.8 0.4 -6.7 0.4 6.8 0.4 -3.9 0.4 3.8 0.4 0.1 0.4 -8.3 0.4 4.2 0.4 0.6 0.4 -2.9 0.4 2.3 0.4 -2.4 0.4 5.8 0.4 -4.3 0.4 -1 0.4 3.9 0.4 1.7 0.4 -2 0.4 -1.1 0.4 0.8 0.4 -3.8 0.4 -1.7 0.4 4.3 0.4 -2 0.4 -1.8 0.4 5.6 0.4 -1.7 0.4 0.3 0.4 -1.5 0.4 -0.1 0.4 2.4 0.4 -0.6 0.4 -1.9 0.4 -0.2 0.4 2.2 0.4 -0.5 0.4 0.9 0.4 -8.1 0.4 2.5 0.4 0.6 0.4 -0.3 0.4 1.2 0.4 3.5 0.4 -3.5 0.4 2.4 0.4 4.6 0.4 -9 0.4 0.8 0.4 4.7 0.4 -3.2 0.4 -0.2 0.4 -3.3 0.4 6.5 0.4 -4.4 0.4 -0.4 0.4 -4.3 0.4 7.5 0.4 -2.5 0.4 1.8 0.4 2.2 0.4 -3.2 0.4 -1.3 0.4 -0.5 0.4 1.7 0.4 2.2 0.4 -5.7 0.4 3.8 0.4 -1.5 0.4 2.4 0.4 -2.6 0.4 2.3 0.4 2.7 0.4 -3.3 0.4 0.1 0.4 1 0.4 1.5 0.4 0.3 0.4 -5.3 0.4 4.5 0.4 -3.5 0.4 -1 0.4 1.7 0.4 -1.9 0.4 2.8 0.4 4 0.4 -8.8 0.4 1.2 0.4 4.4 0.4 -0.4 0.4 1.5 0.4 -3.8 0.4 1.5 0.4 -4.8 0.4 5.4 0.4 3.6 0.4 -0.2 0.4 1.3 0.4 -4.3 0.4 -0.5 0.4 -0.1 0.4 -3.3 0.4 6.8 0.4 -0.5 0.4 -2.7 0.4 4.6 0.4 -5.2 0.4 4.3 0.4 -3.7 0.4 2.1 0.4 2.7 0.4 -4.6 0.4 5.2 0.4 -3.6 0.4 -0.7 0.4 0.1 0.4 1.4 0.4 -3 0.4 3.9 0.4 -0.2 0.4 -1.4 0.4 1 0.4 2.2 0.4 -3.3 0.4 0.1 0.4 2.5 0.4 -1.9 0.4 -1.5 0.4 2.7 0.4 -0.7 0.4 -1.9 0.4 2.1 0.4 -2.7 0.4 0.9 0.4 -2.7 0.4 3.8 0.4 -8.2 0.4 4.8 0.4 3.1 0.4 3.3 0.4 -3.4 0.4 1.6 0.4 -0.7 0.4 -5.7 0.4 6.2 0.4 -2.7 0.4 4.8 0.4 -1.9 0.4 -0.7 0.4 -5.3 0.4 2.1 0.4 1.6 0.4 1 0.4 -1.8 0.4 9.1 0.4 -3.2 0.4 -0.3 0.4 -2.3 0.4 1.7 0.4 1.1 0.4 -2.2 0.4 -1.7 0.4 2.8 0.4 -6.3 0.4 3.6 0.4 3.3 0.4 -5.5 0.4 1.7 0.4 0.3 0.4 -0.9 0.4 6.3 0.4 -3.7 0.4 3.2 0.4 -1.4 0.4 -1.2 0.4 0.3 0.4 -1.6 0.4 -3 0.4 7.5 0.4 -2.1 0.4 2.5 0.4 -7.2 0.4 8.3 0.4 -0.7 0.4 -1.4 0.4 -5.3 0.4 3.7 0.4 -0.6 0.4 0.1 0.4 0.9 0.4 -3.2 0.4 2.9 0.4 -0.1 0.4 4.1 0.4 -4.9 0.4 4.8 0.4 -6.5 0.4 1.6 0.4 3.9 0.4 -7.4 0.4 9.8 0.4 0.6 0.4 -1.4 0.4 -0.9 0.4 2.8 0.4 -6.8 0.4 2.1 0.4 1.3 0.4 1.3 0.4 -8.1 0.4 0.5 0.4 0.9 0.4 1.7 0.4 3.8 0.4 -1.2 0.4 -2.1 0.4 1.8 0.4 -4.7 0.4 -0.7 0.4 -5.3 0.4 0.8 0.4 -8.2 0.4 2.5 0.4 0.3 0.4 -0.4 0.4 -3.4 0.4 0.8 0.4 3.9 0.4 -1.5 0.4 -1.3 0.4 -1.3 0.4 4.6 0.4 -7.3 0.4 5.1 0.4 2.8 0.4 -1.1 0.4 -0.8 0.4 0.6 0.4 0 0.4 2.4 0.4 -1.5 0.4 -1.8 0.4 -1.5 0.4 1.8 0.4 0.4 0.4 2.9 0.4 1.8 0.4 -3.2 0.4 -5 0.4 1.9 0.4 0.3 0.4 -1.7 0.4 3.6 0.4 -2.1 0.4 1.2 0.4 -2.9 0.4 -3.5 0.4 6.1 0.4 4.5 0.4 -4.2 0.4 0 0.4 -1 0.4 1.4 0.4 -0.7 0.4 5.3 0.4 -4.4 0.4 -0.9 0.4 3.6 0.4 -1.5 0.4 -0.4 0.4 0.5 0.4 -0.2 0.4 0.3 0.4 -1.4 0.4 0.4 0.4 -3.9 0.4 7.3 0.4 -5.6 0.4 -0.3 0.4 1.7 0.4 -1.7 0.4 -0.5 0.4 2.4 0.4 1.3 0.4 -0.9 0.4 3 0.4 -4.6 0.4 4 0.4 -4.7 0.4 3 0.4 -1.6 0.4 0.4 0.4 -1.8 0.4 -1 0.4 5.2 0.4 -2.7 0.4 2.8 0.4 2.3 0.4 -2.3 0.4 0.3 0.4 -0.4 0.4 -0.9 0.4 1.1 0.4 -1.7 0.4 3 0.4 -4 0.4 1.7 0.4 1.5 0.4 2.3 0.4 -4.6 0.4 3.5 0.4 -1.4 0.4 -0.6 0.4 -1.7 0.4 -2.6 0.4 -1.5 0.4 3.4 0.4 0.7 0.4 -1.9 0.4 5.1 0.4 -1.2 0.4 -2.3 0.4 0 0.4 2.3 0.4 -0.3 0.4 -0.1 0.4 -0.7 0.4 4.9 0.4 -6.8 0.4 1.9 0.4 4.7 0.4 -1.9 0.4 2 0.4 -6 0.4 4 0.4 0.9 0.4 -0.1 0.4 -1.3 0.4 3.9 0.4 -2.7 0.4 -4 0.4 8.4 0.4 -4.9 0.4 0.1 0.4 0 0.4 -4.2 0.4 4.6 0.4 -0.5 0.4 -3.5 0.4 4.2 0.4 -4 0.4 -1.5 0.4 7.7 0.4 -5.1 0.4 4 0.4 0.5 0.4 -1.9 0.4 2.4 0.4 -2.1 0.4 -1.6 0.4 0.2 0.4 2.2 0.4 -1.1 0.4 -3.5 0.4 3 0.4 1.3 0.4 6 0.4 -4.7 0.4 -3.5 0.4 3.9 0.4 -7.7 0.4 4.4 0.4 4.2 0.4 -4.1 0.4 3.4 0.4 -4.2 0.4 1.2 0.4 0.7 0.4 -5 0.4 3.7 0.4 6.5 0.4 -7.3 0.4 4.9 0.4 0.2 0.4 -3.6 0.4 2.7 0.4 -1.7 0.4 -9.3 0.4 8.5 0.4 2.3 0.4 -3.7 0.4 0.4 0.4 -1 0.4 2.3 0.4 2 0.4 -2.3 0.4 -1.3 0.4 5.5 0.4 0.6 0.4 -3.4 0.4 1.1 0.4 -1.2 0.4 -5.2 0.4 8.6 0.4 -2.7 0.4 -3.2 0.4 4.9 0.4 -0.6 0.4 2 0.4 -1.7 0.4 0 0.4 1.8 0.4 -4.2 0.4 1.7 0.4 -1.9 0.4 -2.2 0.4 5.3 0.4 0.2 0.4 -4.7 0.4 3.4 0.4 2 0.4 -2.8 0.4 0.5 0.4 4.7 0.4 -4.9 0.4 2.9 0.4 0.6 0.4 -1 0.4 -4.5 0.4 -2.5 0.4 -2.8 0.4 3 0.4 -10.8 0.4 -2.1 0.4 -1.5 0.4 3.4 0.4 2.7 0.4 -3.7 0.4 -6 0.4 6.2 0.4 -1 0.4 -1.6 0.4 0.5 0.4 4.4 0.4 -2.7 0.4 -0.2 0.4 0.5 0.4 1.2 0.4 -6.9 0.4 7.3 0.4 -4.6 0.4 1.2 0.4 2.6 0.4 -2 0.4 -4.6 0.4 7.3 0.4 -0.9 0.4 -3.1 0.4 0.6 0.4 -1.5 0.4 4.7 0.4 1.7 0.4 -3.9 0.4 -0.6 0.4 -2.1 0.4 3.6 0.4 -0.1 0.4 0.7 0.4 3.5 0.4 -1.5 0.4 0.3 0.4 -4.4 0.4 3.5 0.4 -1 0.4 -1.5 0.4 2.2 0.4 0 0.4 5.2 0.4 -5.4 0.4 -1.3 0.4 2.6 0.4 -3 0.4 1.9 0.4 3.3 0.4 -4.9 0.4 0.3 0.4 2 0.4 -4.6 0.4 5.1 0.4 -3.6 0.4 1.5 0.4 -1.3 0.4 3.2 0.4 -2.5 0.4 4.1 0.4 -4.9 0.4 0.9 0.4 -3.6 0.4 0.9 0.4 4.6 0.4 -4.2 0.4 2.7 0.4 0.4 0.4 1.4 0.4 1.2 0.4 -1.9 0.4 1.5 0.4 -3.7 0.4 1.3 0.4 1.6 0.4 0.5 0.4 -0.8 0.4 3.8 0.4 -5.4 0.4 1.3 0.4 -4.3 0.4 6.3 0.4 -5.6 0.4 2.5 0.4 -0.2 0.4 0.7 0.4 -1.7 0.4 0.9 0.4 0.9 0.4 -0.6 0.4 1.8 0.4 -2.2 0.4 2.2 0.4 -3.5 0.4 4.7 0.4 -0.4 0.4 -3.1 0.4 -1.3 0.4 0 0.4 3.7 0.4 -2.2 0.4 -2.8 0.4 3.1 0.4 5 0.4 -4.5 0.4 4 0.4 -6.2 0.4 6 0.4 1.7 0.4 -1.6 0.4 -1.6 0.4 2.6 0.4 -2.7 0.4 4 0.4 -6.2 0.4 0.5 0.4 2.1 0.4 -2.4 0.4 3.8 0.4 -2.3 0.4 -1.9 0.4 4.3 0.4 1.3 0.4 -5.4 0.4 8.2 0.4 -1.5 0.4 -3 0.4 -0.8 0.4 1.6 0.4 1.8 0.4 -1.7 0.4 2.5 0.4 -3.8 0.4 -4.1 0.4 2.4 0.4 7.4 0.4 -2.7 0.4 0.7 0.4 -4.1 0.4 2.2 0.4 -0.9 0.4 1 0.4 -2.4 0.4 -4.6 0.4 -4.2 0.4 2 0.4 -3.6 0.4 -0.2 0.4 -8 0.4 -0.8 0.4 -0.8 0.4 4.4 0.4 3.2 0.4 -4.4 0.4 -1 0.4 2.6 0.4 2.9 0.4 -0.9 0.4 -1.7 0.4 0 0.4 -2.6 0.4 -1.6 0.4 1.9 0.4 3.7 0.4 -9.9 0.4 4.8 0.4 0.4 0.4 1 0.4 0.4 0.4 -3.3 0.4 0.2 0.4 2.8 0.4 3.2 0.4 -4.7 0.4 1.1 0.4 1.3 0.4 0.4 0.4 -1.2 0.4 -5 0.4 6.9 0.4 -0.7 0.4 -2.3 0.4 3.4 0.4 -2.9 0.4 -4.6 0.4 2.4 0.4 -0.1 0.4 2.6 0.4 0.1 0.4 0 0.4 2.7 0.4 -1.5 0.4 2.2 0.4 -3.8 0.4 -5.7 0.4 7.9 0.4 -4.1 0.4 -4.5 0.4 3.2 0.4 -1.3 0.4 4.2 0.4 -2.1 0.4 4.7 0.4 -4.5 0.4 2.6 0.4 -2.8 0.4 -0.1 0.4 0.9 0.4 0 0.4 -1.1 0.4 -4.5 0.4 2.2 0.4 2 0.4 4.6 0.4 -3.6 0.4 -4.4 0.4 -3 0.4 10.9 0.4 -3.4 0.4 -3.9 0.4 6.6 0.4 -1.9 0.4 3.6 0.4 -3.3 0.4 -2.6 0.4 0.5 0.4 -2.2 0.4 1.1 0.4 -0.8 0.4 1.2 0.4 0.7 0.4 -2.6 0.4 1.8 0.4 4.6 0.4 -2 0.4 -1 0.4 1.2 0.4 0.7 0.4 0 0.4 1.4 0.4 -2.2 0.4 -0.7 0.4 -1.2 0.4 3.9 0.4 0.1 0.4 -8.2 0.4 8.6 0.4 -5 0.4 3.4 0.4 -0.9 0.4 -2.8 0.4 0.7 0.4 2 0.4 4.7 0.4 -7.3 0.4 2.5 0.4 0.2 0.4 -0.7 0.4 3.4 0.4 3.9 0.4 -3.7 0.4 0.1 0.4 0.2 0.4 2.8 0.4 -3.5 0.4 0.9 0.4 0.3 0.4 0.9 0.4 0.5 0.4 -2.1 0.4 5.8 0.4 -8.5 0.4 5.7 0.4 -2.3 0.4 -2.1 0.4 5.8 0.4 -3.9 0.4 -2.9 0.4 0.7 0.4 4.3 0.4 -0.1 0.4 -1.3 0.4 0.9 0.4 2.4 0.4 -1.5 0.4 -0.5 0.4 -2.4 0.4 3.2 0.4 2 0.4 -3.6 0.4 2.1 0.4 -1.6 0.4 0.2 0.4 0 0.4 -0.4 0.4 -0.8 0.4 0.6 0.4 1.9 0.4 2.3 0.4 -1.6 0.4 -5.2 0.4 3.1 0.4 -8.7 0.4 -4.5 0.4 -1.2 0.4 -4.3 0.4 -2.9 0.4 1 0.4 0.3 0.4 4.3 0.4 -1.6 0.4 -2.4 0.4 2.5 0.4 -1.8 0.4 -0.1 0.4 -1.4 0.4 0.6 0.4 0.1 0.4 -3.1 0.4 4 0.4 -2.7 0.4 2.6 0.4 0 0.4 3.3 0.4 -3.1 0.4 1 0.4 2.7 0.4 -1.3 0.4 0.9 0.4 -0.9 0.4 1.3 0.4 -1.6 0.4 -1.3 0.4 0 0.4 5.6 0.4 -4.1 0.4 0.1 0.4 0.2 0.4 2.8 0.4 -1.4 0.4 -2.7 0.4 0 0.4 7.4 0.4 -6.3 0.4 -0.6 0.4 0.9 0.4 -2.2 0.4 4.1 0.4 -1.4 0.4 -2 0.4 5.8 0.4 -4.6 0.4 -1.8 0.4 4.5 0.4 -2 0.4 -0.5 0.4 -2.8 0.4 3.6 0.4 0.7 0.4 0.6 0.4 0.3 0.4 4 0.4 1.7 0.4 -4 0.4 3.8 0.4 -3.6 0.4 -2 0.4 5.1 0.4 1.2 0.4 -4.9 0.4 -0.3 0.4 0.5 0.4 -1.7 0.4 5.5 0.4 -4.6 0.4 5.8 0.4 -0.5 0.4 -2.8 0.4 -0.2 0.4 0.1 0.4 5.2 0.4 -3.4 0.4 -3.3 0.4 1.9 0.4 3.6 0.4 -2.3 0.4 2.1 0.4 -0.3 0.4 4.9 0.4 -3.9 0.4 1.3 0.4 -1.6 0.4 1.6 0.4 -4.2 0.4 2.1 0.4 4.8 0.4 -6.7 0.4 1.2 0.4 1.6 0.4 -1.7 0.4 -0.2 0.4 1.2 0.4 1.8 0.4 1.3 0.4 -4.4 0.4 1.5 0.4 0.8 0.4 -0.7 0.4 2.9 0.4 3.2 0.4 -6 0.4 -0.3 0.4 0.4 0.4 0.2 0.4 1.5 0.4 1 0.4 4.5 0.4 2.2 0.4 -5.4 0.4 -5.7 0.4 9.3 0.4 -3.4 0.4 -2.2 0.4 3.3 0.4 -1.9 0.4 -2 0.4 0.1 0.4 4.1 0.4 1 0.4 -3.6 0.4 1.9 0.4 2.5 0.4 -3.7 0.4 0 0.4 0.7 0.4 -0.6 0.4 2.3 0.4 -2 0.4 5 0.4 -0.6 0.4 -5 0.4 4.4 0.4 -0.1 0.4 -2.8 0.4 5 0.4 -2 0.4 -0.1 0.4 2.6 0.4 -0.9 0.4 1.2 0.4 -3.5 0.4 1 0.4 6.2 0.4 -7.2 0.4 1.5 0.4 0 0.4 3.5 0.4 -0.9 0.4 -1.7 0.4 -1.4 0.4 4.8 0.4 -3.7 0.4 0.7 0.4 1 0.4 1.3 0.4 -3.2 0.4 -3.1 0.4 -1.8 0.4 -5.9 0.4 -2.2 0.4 -2.5 0.4 -0.4 0.4 -0.6 0.4 -1.8 0.4 -1.3 0.4 1.3 0.4 -0.4 0.4 2.6 0.4 -0.1 0.4 -1.5 0.4 -4 0.4 1.2 0.4 2.4 0.4 1.1 0.4 -0.6 0.4 -0.6 0.4 2.1 0.4 -5.9 0.4 6.4 0.4 1.4 0.4 -0.7 0.4 -0.7 0.4 -1 0.4 3.8 0.4 -3.2 0.4 -1.8 0.4 1.6 0.4 -2.1 0.4 4.8 0.4 0.6 0.4 -2.4 0.4 -1.5 0.4 4.2 0.4 -3.5 0.4 0.4 0.4 1 0.4 -1.6 0.4 2.3 0.4 -0.4 0.4 0.1 0.4 -0.4 0.4 -0.4 0.4 -1.3 0.4 0.6 0.4 2.1 0.4 -3.9 0.4 -2.6 0.4 -0.3 0.4 2.8 0.4 3.1 0.4 -1.7 0.4 3.4 0.4 -0.8 0.4 -7.5 0.4 2.6 0.4 1.1 0.4 4 0.4 -2.6" fill="none" stroke="#cccc00" stroke-width="1.7" stroke-linejoin="round"/>
<path d="M69 85.2l0.4 0 0.4 -1.9 0.4 -4.1 0.4 -0.2 0.4 1.2 0.4 -2.4 0.4 -0.8 0.4 2.3 0.4 0 0.4 1.7 0.4 -3.3 0.4 2.1 0.4 1.1 0.4 -3.5 0.4 4.3 0.4 2.6 0.4 1.6 0.4 -4.2 0.4 -0.6 0.4 3 0.4 -2.3 0.4 -0.9 0.4 -1.8 0.4 0.5 0.4 3.3 0.4 -0.4 0.4 -2.5 0.4 -3.8 0.4 4.7 0.4 -0.8 0.4 2 0.4 -1.9 0.4 3.5 0.4 -2.1 0.4 0.5 0.4 1.7 0.4 -2.9 0.4 0.5 0.4 -1.3 0.4 3.1 0.4 -0.7 0.4 -0.7 0.4 0 0.4 -2.1 0.4 -1.3 0.4 5.9 0.4 -4.7 0.4 2.4 0.4 -3.9 0.4 3.6 0.4 6.1 0.4 3 0.4 -2.4 0.4 0.4 0.4 6.9 0.4 3.4 0.4 -3.3 0.4 1.3 0.4 -3.8 0.4 3.5 0.4 0.5 0.4 -3 0.4 -3.4 0.4 3.4 0.4 2 0.4 -5.6 0.4 3.8 0.4 -2.6 0.4 3.3 0.4 0.2 0.4 -1.2 0.4 2.7 0.4 -1.5 0.4 2.1 0.4 -3.4 0.4 -0.8 0.4 0.2 0.4 -4.8 0.4 5.7 0.4 0.7 0.4 -4.8 0.4 5 0.4 -4.4 0.4 -1.6 0.4 4 0.4 -2 0.4 0.4 0.4 1.8 0.4 2.2 0.4 -2.4 0.4 -1.4 0.4 2 0.4 -3.6 0.4 4.4 0.4 -3.6 0.4 1.6 0.4 -2.2 0.4 -1.1 0.4 0.7 0.4 4 0.4 -3.2 0.4 -0.8 0.4 0.8 0.4 -2.7 0.4 1.4 0.4 -0.6 0.4 4.7 0.4 -4.9 0.4 3.2 0.4 -1.9 0.4 -1 0.4 2.7 0.4 -1 0.4 2.5 0.4 0.4 0.4 -1.7 0.4 -3.4 0.4 4.2 0.4 -5.6 0.4 4.2 0.4 3.6 0.4 -5.9 0.4 0.8 0.4 1 0.4 -1.2 0.4 -0.6 0.4 -0.8 0.4 4.3 0.4 -0.1 0.4 -2.6 0.4 -0.7 0.4 1.4 0.4 -0.1 0.4 -2.2 0.4 0.5 0.4 -3 0.4 -1.1 0.4 2.7 0.4 3.4 0.4 -0.4 0.4 -1.8 0.4 -2.1 0.4 3.1 0.4 2.6 0.4 -2 0.4 -1.7 0.4 -0.7 0.4 -1.4 0.4 0.4 0.4 4.2 0.4 -2 0.4 0.4 0.4 1.1 0.4 -0.4 0.4 1.2 0.4 -2.9 0.4 -3.6 0.4 3 0.4 4.7 0.4 -4.6 0.4 -2.9 0.4 1.5 0.4 3.6 0.4 -2.9 0.4 2.5 0.4 -1.1 0.4 0.2 0.4 -0.9 0.4 0.5 0.4 0.8 0.4 -4.5 0.4 0.1 0.4 7.9 0.4 -5.4 0.4 10.9 0.4 -2.5 0.4 -0.5 0.4 5.3 0.4 -0.9 0.4 2.7 0.4 -1.6 0.4 0.5 0.4 -4.8 0.4 4.1 0.4 -0.2 0.4 4.1 0.4 -8 0.4 4.2 0.4 -0.7 0.4 1.2 0.4 2.8 0.4 0.3 0.4 1.7 0.4 -6 0.4 2.2 0.4 1.6 0.4 -1.8 0.4 -2.2 0.4 3.7 0.4 -4.9 0.4 6.2 0.4 -3 0.4 0.5 0.4 -1.4 0.4 2 0.4 1.3 0.4 -3.5 0.4 -0.6 0.4 2.7 0.4 -3.9 0.4 -2.4 0.4 5.9 0.4 -2.4 0.4 2.8 0.4 -3.3 0.4 -4.3 0.4 4.6 0.4 -0.7 0.4 5.2 0.4 -3.3 0.4 -1.9 0.4 2.1 0.4 -1.8 0.4 1 0.4 -5.1 0.4 6.4 0.4 -5.4 0.4 1.8 0.4 2.1 0.4 2.3 0.4 -5.3 0.4 6.5 0.4 -5.5 0.4 2.3 0.4 1.9 0.4 -2.7 0.4 1 0.4 3.9 0.4 -4.1 0.4 -1.6 0.4 -5 0.4 2.8 0.4 5 0.4 -4.1 0.4 -2.2 0.4 0.8 0.4 0.2 0.4 2.7 0.4 -0.5 0.4 1.6 0.4 -2.2 0.4 3.2 0.4 -4.8 0.4 -1.2 0.4 5.6 0.4 -3.2 0.4 -2.6 0.4 1.2 0.4 -1.6 0.4 2.6 0.4 2.7 0.4 -3.7 0.4 0.3 0.4 -1 0.4 -1.5 0.4 3 0.4 -0.4 0.4 -0.8 0.4 3.5 0.4 -1 0.4 1 0.4 -8.3 0.4 8.8 0.4 -4.4 0.4 -1.3 0.4 1.8 0.4 1.5 0.4 0 0.4 -2.8 0.4 -1.5 0.4 2.3 0.4 -0.7 0.4 -2.3 0.4 0.2 0.4 -0.8 0.4 1.4 0.4 1 0.4 4.2 0.4 -8.2 0.4 4.5 0.4 -2.7 0.4 0.7 0.4 2.1 0.4 -1.4 0.4 -3.4 0.4 -0.9 0.4 -0.2 0.4 2.2 0.4 3.1 0.4 -3.5 0.4 2.6 0.4 -0.7 0.4 -0.7 0.4 2.2 0.4 -3 0.4 -0.5 0.4 1.1 0.4 7.9 0.4 -0.2 0.4 4.5 0.4 4.9 0.4 0.1 0.4 4.5 0.4 -2.9 0.4 -3.5 0.4 0.1 0.4 3.6 0.4 -3.7 0.4 -0.2 0.4 1.7 0.4 0 0.4 -0.6 0.4 1.9 0.4 -1.1 0.4 0.3 0.4 2.7 0.4 -2.7 0.4 -1.6 0.4 3.7 0.4 -8.3 0.4 5.2 0.4 2 0.4 -0.3 0.4 -1.5 0.4 -2.4 0.4 1.9 0.4 -0.8 0.4 -1 0.4 -10 0.4 6 0.4 -1.3 0.4 4.7 0.4 0.6 0.4 -0.1 0.4 -2.4 0.4 2 0.4 -1.3 0.4 1.2 0.4 0.1 0.4 -1.1 0.4 4.4 0.4 -1.1 0.4 -6.1 0.4 6 0.4 -5.7 0.4 3.9 0.4 -0.6 0.4 -1.6 0.4 2.3 0.4 -1 0.4 -4 0.4 1.9 0.4 2.3 0.4 3.1 0.4 -5.7 0.4 -1.4 0.4 2.8 0.4 0.8 0.4 -4.2 0.4 2.8 0.4 1.3 0.4 -0.1 0.4 2.7 0.4 -3.7 0.4 -0.2 0.4 -1.2 0.4 2.5 0.4 -2 0.4 1.5 0.4 -0.1 0.4 1.1 0.4 -0.3 0.4 -4.9 0.4 1.3 0.4 3.5 0.4 -0.6 0.4 -2.2 0.4 -1.4 0.4 0.5 0.4 -1.7 0.4 -1.7 0.4 2.3 0.4 -2 0.4 2.8 0.4 2.5 0.4 -3.2 0.4 5.7 0.4 -6.3 0.4 2.9 0.4 5 0.4 -6.6 0.4 1.5 0.4 4.2 0.4 -3.3 0.4 -2 0.4 -4.1 0.4 2.7 0.4 3.7 0.4 1.1 0.4 -1.8 0.4 -2.4 0.4 1.1 0.4 -3.7 0.4 1 0.4 4.2 0.4 -2.8 0.4 -2 0.4 4.7 0.4 -5.9 0.4 4.6 0.4 -3.3 0.4 1.3 0.4 1.6 0.4 -0.3 0.4 1.2 0.4 -2.7 0.4 1 0.4 -0.2 0.4 -2.2 0.4 -0.5 0.4 5.4 0.4 -1.1 0.4 1 0.4 1.6 0.4 -3.6 0.4 -0.7 0.4 -3.6 0.4 1.4 0.4 6.4 0.4 -1.5 0.4 1.4 0.4 2.8 0.4 -0.5 0.4 5.1 0.4 3 0.4 -4.5 0.4 7.2 0.4 0.8 0.4 -3.8 0.4 1 0.4 -2.9 0.4 3.7 0.4 0.4 0.4 1.5 0.4 -0.5 0.4 -2 0.4 -0.3 0.4 -1.8 0.4 1 0.4 2.3 0.4 0.9 0.4 -2.9 0.4 4.6 0.4 -2.7 0.4 -3.3 0.4 0.1 0.4 0.4 0.4 -1.3 0.4 -2.1 0.4 4.1 0.4 -3.3 0.4 1.3 0.4 2.5 0.4 -1.6 0.4 2.8 0.4 -4 0.4 2.6 0.4 -2.8 0.4 -4 0.4 5.8 0.4 -2.7 0.4 -2.6 0.4 3.9 0.4 0.8 0.4 -3 0.4 0.2 0.4 4 0.4 0.1 0.4 -0.8 0.4 0.7 0.4 -0.7 0.4 -7.9 0.4 4 0.4 1.7 0.4 -5.4 0.4 8.1 0.4 -2.5 0.4 -4.5 0.4 2.4 0.4 -1.4 0.4 2 0.4 0 0.4 -0.7 0.4 -2.3 0.4 2.1 0.4 -1.3 0.4 3 0.4 -0.2 0.4 -3.3 0.4 -0.3 0.4 3.2 0.4 -2.5 0.4 2.8 0.4 1.4 0.4 -1.1 0.4 -3.8 0.4 -0.9 0.4 4.5 0.4 -2.5 0.4 4.2 0.4 -2.8 0.4 0.8 0.4 -3.8 0.4 2.2 0.4 -6.4 0.4 6.2 0.4 0.5 0.4 -2.8 0.4 1 0.4 -1.3 0.4 2.1 0.4 -2.6 0.4 5.4 0.4 -5.3 0.4 4.7 0.4 -3.8 0.4 0.1 0.4 5.6 0.4 -5.4 0.4 -0.8 0.4 1.4 0.4 -1.2 0.4 -1.2 0.4 0.4 0.4 0.8 0.4 -0.4 0.4 -0.9 0.4 5.7 0.4 -3.8 0.4 2.7 0.4 -4.8 0.4 3.4 0.4 -2.2 0.4 -0.1 0.4 3.7 0.4 -3.7 0.4 -2.8 0.4 3.6 0.4 -0.1 0.4 1.1 0.4 -4.3 0.4 3.1 0.4 0.3 0.4 -3.2 0.4 3.1 0.4 -0.8 0.4 5 0.4 1.5 0.4 2.8 0.4 -0.2 0.4 5.5 0.4 2.8 0.4 -0.7 0.4 1.1 0.4 -2.1 0.4 2.9 0.4 -0.4 0.4 -0.2 0.4 -2.3 0.4 5.1 0.4 -0.6 0.4 -4.3 0.4 3.8 0.4 -4.1 0.4 1.4 0.4 2.2 0.4 0.9 0.4 -3.2 0.4 -3.5 0.4 3.4 0.4 3.3 0.4 -1.7 0.4 1.7 0.4 -2.6 0.4 3.5 0.4 -2.8 0.4 -1.8 0.4 0.6 0.4 4.4 0.4 -4.2 0.4 -4.9 0.4 8.3 0.4 -5.2 0.4 -1.5 0.4 -0.7 0.4 -2.3 0.4 5.3 0.4 -0.4 0.4 -1.4 0.4 1.5 0.4 1.1 0.4 6 0.4 -8.7 0.4 4.4 0.4 -3.7 0.4 -1.6 0.4 0.6 0.4 0.5 0.4 -0.3 0.4 3.9 0.4 -0.1 0.4 -3.8 0.4 5 0.4 -2.3 0.4 3.1 0.4 -5.3 0.4 -1.6 0.4 4.5 0.4 -1.1 0.4 -1.2 0.4 -1.8 0.4 2.2 0.4 -0.1 0.4 -4.6 0.4 0.9 0.4 1.4 0.4 0.5 0.4 -2.3 0.4 -1.7 0.4 6.2 0.4 -1.1 0.4 -2.5 0.4 4.2 0.4 -0.2 0.4 -2.5 0.4 1.3 0.4 -1.1 0.4 -2.4 0.4 3.2 0.4 -0.9 0.4 1.7 0.4 -1.9 0.4 -2.6 0.4 0.1 0.4 0.7 0.4 -0.1 0.4 -0.2 0.4 -3 0.4 0.9 0.4 5.2 0.4 -2.3 0.4 0.5 0.4 -5.2 0.4 2.4 0.4 3.2 0.4 -5.6 0.4 1.2 0.4 -0.5 0.4 5.6 0.4 -1.8 0.4 -0.9 0.4 -0.3 0.4 0.3 0.4 1.6 0.4 0.2 0.4 0 0.4 -2.7 0.4 1.5 0.4 0.8 0.4 1.5 0.4 -7.3 0.4 5 0.4 1.2 0.4 -2.1 0.4 -1.3 0.4 0.9 0.4 0.9 0.4 -0.3 0.4 1 0.4 -3.9 0.4 -1.2 0.4 2.6 0.4 -2.3 0.4 1.5 0.4 -1.6 0.4 -0.8 0.4 2.7 0.4 1.6 0.4 -0.2 0.4 5.9 0.4 -2.5 0.4 -4.6 0.4 0.1 0.4 -0.4 0.4 -0.5 0.4 0.3 0.4 1.6 0.4 -1.7 0.4 4.4 0.4 -0.4 0.4 1.8 0.4 -7.8 0.4 5.6 0.4 -2.1 0.4 -1.7 0.4 0.3 0.4 -1 0.4 5 0.4 4.1 0.4 -2.4 0.4 0.1 0.4 0.6 0.4 -6.3 0.4 5.5 0.4 -2 0.4 -0.9 0.4 -1.5 0.4 -3.1 0.4 8.7 0.4 -1.9 0.4 -0.8 0.4 -3.2 0.4 1.8 0.4 -2.3 0.4 2.8 0.4 -0.5 0.4 0.8 0.4 -3.6 0.4 1.5 0.4 2.6 0.4 -2.5 0.4 2.3 0.4 -0.7 0.4 -0.4 0.4 -2.4 0.4 6.9 0.4 -2.1 0.4 -0.1 0.4 -6.3 0.4 3 0.4 3.4 0.4 -3.3 0.4 2.2 0.4 -3.3 0.4 1.6 0.4 1.1 0.4 -8.3 0.4 7.8 0.4 2.4 0.4 2.2 0.4 1.1 0.4 9.1 0.4 -1.9 0.4 1.3 0.4 -6.1 0.4 -0.3 0.4 5.7 0.4 4.1 0.4 -2.5 0.4 0.9 0.4 1.8 0.4 -2.6 0.4 -1.2 0.4 -0.1 0.4 2.9 0.4 1 0.4 -2.3 0.4 -1.2 0.4 -0.6 0.4 0.2 0.4 3.7 0.4 -4.7 0.4 5.6 0.4 -6.5 0.4 5.2 0.4 1.4 0.4 1 0.4 -5.5 0.4 3.3 0.4 4.3 0.4 -3 0.4 -7.2 0.4 4.6 0.4 5.1 0.4 -7.7 0.4 5.2 0.4 -6.7 0.4 7.5 0.4 -4.4 0.4 2.7 0.4 0.3 0.4 -6.9 0.4 3.6 0.4 1.2 0.4 -3.2 0.4 3.7 0.4 -3.1 0.4 4.5 0.4 -1.4 0.4 -3.1 0.4 3.7 0.4 1.3 0.4 -2.8 0.4 1.8 0.4 -1.2 0.4 -1.9 0.4 -2.3 0.4 4.6 0.4 -1.7 0.4 -3 0.4 4.9 0.4 0.8 0.4 -2 0.4 -2.1 0.4 1.6 0.4 3 0.4 -0.3 0.4 -3.1 0.4 0.3 0.4 1.7 0.4 2.4 0.4 -2.3 0.4 -3.2 0.4 -0.1 0.4 -1.3 0.4 1.1 0.4 1 0.4 5.3 0.4 -4.2 0.4 1.5 0.4 4.2 0.4 -8.3 0.4 2.6 0.4 2.2 0.4 -2.3 0.4 -2.2 0.4 0.2 0.4 4.4 0.4 -5.5 0.4 -0.6 0.4 -1.4 0.4 4.8 0.4 -2.1 0.4 4.8 0.4 -0.1 0.4 -3.4 0.4 -1.2 0.4 -1 0.4 3.8 0.4 1.6 0.4 -5.9 0.4 3.1 0.4 0 0.4 0.5 0.4 -2 0.4 2.8 0.4 1.5 0.4 -2.5 0.4 1.8 0.4 0.7 0.4 0.2 0.4 0.6 0.4 -3.3 0.4 3.8 0.4 -3 0.4 -2.6 0.4 2.5 0.4 -2 0.4 2.3 0.4 3.5 0.4 -5.5 0.4 -0.7 0.4 5.3 0.4 -3.1 0.4 1.9 0.4 -4.5 0.4 3.2 0.4 -5.7 0.4 5 0.4 2.2 0.4 -0.2 0.4 1.4 0.4 -2.7 0.4 -0.9 0.4 -0.2 0.4 -3.6 0.4 6.6 0.4 -0.2 0.4 -3.4 0.4 4.2 0.4 -4.3 0.4 4.7 0.4 -2.4 0.4 -0.9 0.4 3 0.4 -1.8 0.4 5.1 0.4 -5.9 0.4 1.3 0.4 -0.6 0.4 0.1 0.4 -1.9 0.4 5 0.4 -2.5 0.4 -1 0.4 1.9 0.4 4.6 0.4 -7.3 0.4 2.5 0.4 1.1 0.4 0.4 0.4 -3.9 0.4 2.6 0.4 -0.2 0.4 -2.2 0.4 3.3 0.4 -3.6 0.4 2.9 0.4 -5.3 0.4 2.1 0.4 -5.1 0.4 3.3 0.4 2.3 0.4 3 0.4 -1.6 0.4 1.5 0.4 -2.5 0.4 -4.3 0.4 7.6 0.4 -5.6 0.4 6.4 0.4 -2.2 0.4 -2.7 0.4 -3.2 0.4 0.9 0.4 1.8 0.4 1.9 0.4 -0.2 0.4 8 0.4 -3.1 0.4 -1.9 0.4 -0.8 0.4 1.8 0.4 -0.2 0.4 -2.3 0.4 2.1 0.4 0.4 0.4 -6.8 0.4 4 0.4 1.8 0.4 -4.8 0.4 3 0.4 -0.2 0.4 -0.4 0.4 3.6 0.4 -2.7 0.4 3.9 0.4 -1.8 0.4 -2.2 0.4 0.8 0.4 -2.8 0.4 -1.3 0.4 6.2 0.4 -2.7 0.4 2.4 0.4 -5.9 0.4 7.5 0.4 -0.1 0.4 -0.7 0.4 -6.2 0.4 4.5 0.4 -2.1 0.4 1.5 0.4 0.6 0.4 -2.9 0.4 2.2 0.4 1 0.4 1.3 0.4 -1.9 0.4 4.3 0.4 -6.9 0.4 2.5 0.4 2.1 0.4 -4.5 0.4 5.7 0.4 0 0.4 0.5 0.4 0 0.4 1.2 0.4 -4.3 0.4 0.3 0.4 1.2 0.4 1 0.4 -6.7 0.4 1.5 0.4 0.2 0.4 2.4 0.4 1.2 0.4 0.9 0.4 -2.1 0.4 1.8 0.4 -6 0.4 -0.5 0.4 -6.1 0.4 -0.4 0.4 -7 0.4 2.6 0.4 -0.7 0.4 0.9 0.4 -1.6 0.4 -2.1 0.4 3 0.4 -1.5 0.4 -0.9 0.4 -1.2 0.4 4.1 0.4 -6 0.4 2.2 0.4 5.5 0.4 -4.5 0.4 2.4 0.4 -3.4 0.4 3.3 0.4 0.9 0.4 -2 0.4 -3.4 0.4 0.4 0.4 1.3 0.4 2.1 0.4 1.2 0.4 2.1 0.4 -2.1 0.4 -4.5 0.4 1.4 0.4 0.2 0.4 -1.4 0.4 3 0.4 -0.5 0.4 0.4 0.4 -3.9 0.4 -2.8 0.4 4.2 0.4 5.4 0.4 -3.5 0.4 -0.8 0.4 1.5 0.4 1.3 0.4 -3.5 0.4 4 0.4 -2.5 0.4 -1.8 0.4 4.4 0.4 0.1 0.4 -0.9 0.4 -1.2 0.4 -0.1 0.4 -0.2 0.4 -0.8 0.4 0.8 0.4 -2 0.4 5.7 0.4 -2.8 0.4 -1.8 0.4 0.6 0.4 -1.1 0.4 0.3 0.4 -0.4 0.4 2.7 0.4 -1.6 0.4 1.7 0.4 -3.3 0.4 2.6 0.4 -3 0.4 3.4 0.4 -2.1 0.4 0.1 0.4 -2 0.4 0.6 0.4 1.8 0.4 -0.1 0.4 1.5 0.4 4.7 0.4 -5.4 0.4 2.3 0.4 -0.6 0.4 -1.7 0.4 1.5 0.4 -0.5 0.4 1 0.4 -2.7 0.4 0.4 0.4 1.2 0.4 2.3 0.4 -3.9 0.4 1.2 0.4 -0.5 0.4 1.4 0.4 -4.4 0.4 1.1 0.4 -1.8 0.4 3.5 0.4 1.8 0.4 -4.4 0.4 4.9 0.4 -0.5 0.4 -2.1 0.4 -0.6 0.4 2.1 0.4 -0.3 0.4 2.3 0.4 -1.3 0.4 4.2 0.4 -7 0.4 1.8 0.4 4.3 0.4 -1.9 0.4 0.3 0.4 -4 0.4 2.8 0.4 0.4 0.4 0 0.4 -1.2 0.4 3.3 0.4 -1.6 0.4 -1.9 0.4 5.4 0.4 -5 0.4 3.2 0.4 -4.2 0.4 -0.3 0.4 5 0.4 -0.9 0.4 -4.2 0.4 3.8 0.4 -2.9 0.4 -1.7 0.4 6.9 0.4 -3.7 0.4 3.4 0.4 -1.8 0.4 -0.8 0.4 3.2 0.4 -3.2 0.4 -0.7 0.4 -1.8 0.4 4.2 0.4 -1 0.4 -2.9 0.4 1.4 0.4 1.5 0.4 5.4 0.4 -3.3 0.4 -4.6 0.4 3.6 0.4 -5.8 0.4 3.3 0.4 3.9 0.4 -3.6 0.4 2.1 0.4 -2.7 0.4 2 0.4 -0.5 0.4 -4.6 0.4 3.9 0.4 5 0.4 -4.4 0.4 2.7 0.4 1.6 0.4 -4.3 0.4 4.1 0.4 -4.8 0.4 -6.5 0.4 9 0.4 -1 0.4 -2.4 0.4 2.6 0.4 -3.7 0.4 3.3 0.4 1.7 0.4 -2 0.4 -1 0.4 4.6 0.4 1.2 0.4 -3.6 0.4 0 0.4 0.5 0.4 -4.3 0.4 9.8 0.4 -3.1 0.4 -3.5 0.4 5 0.4 0.5 0.4 0.4 0.4 -0.4 0.4 -1 0.4 0.6 0.4 -2.1 0.4 0 0.4 -3.3 0.4 0.4 0.4 3.6 0.4 -2 0.4 -2.7 0.4 3.7 0.4 2.3 0.4 -3.3 0.4 0.4 0.4 5.7 0.4 -5.6 0.4 1.6 0.4 3.4 0.4 -3.1 0.4 -2.8 0.4 -1.4 0.4 -4.4 0.4 3.7 0.4 -13.7 0.4 2.3 0.4 -2.2 0.4 3 0.4 0.2 0.4 -0.3 0.4 -8 0.4 5.1 0.4 -0.5 0.4 -2 0.4 0.1 0.4 5.1 0.4 -3.6 0.4 0 0.4 1.1 0.4 2.2 0.4 -7.7 0.4 7.3 0.4 -2.8 0.4 0 0.4 2.8 0.4 -0.3 0.4 -6.1 0.4 7 0.4 -1.2 0.4 -2.3 0.4 -0.3 0.4 -2.4 0.4 5.5 0.4 0.1 0.4 -4.4 0.4 -0.6 0.4 1.4 0.4 0.5 0.4 0.8 0.4 1.2 0.4 3.9 0.4 -1.4 0.4 0.2 0.4 -4.7 0.4 4.3 0.4 -3.5 0.4 1.4 0.4 2.8 0.4 -2.4 0.4 5.9 0.4 -6.1 0.4 -1 0.4 3.5 0.4 -4.7 0.4 2.6 0.4 2.2 0.4 -3.3 0.4 -0.5 0.4 3.2 0.4 -4.3 0.4 3.8 0.4 -3.2 0.4 2.1 0.4 -0.8 0.4 1.1 0.4 -0.6 0.4 2.4 0.4 -3.2 0.4 0.6 0.4 -5.6 0.4 2.8 0.4 2.4 0.4 -2.1 0.4 1.5 0.4 -1 0.4 4.5 0.4 0.5 0.4 -2.5 0.4 0.6 0.4 -2.8 0.4 1.6 0.4 2 0.4 -0.7 0.4 0.8 0.4 3 0.4 -3.7 0.4 -0.1 0.4 -4.5 0.4 4.5 0.4 -2.5 0.4 -0.2 0.4 0.8 0.4 2.2 0.4 -3.4 0.4 0.9 0.4 1.5 0.4 -0.5 0.4 0.9 0.4 -2.6 0.4 1.9 0.4 -1.8 0.4 4 0.4 -2.1 0.4 -1.5 0.4 -2.8 0.4 0.8 0.4 4.1 0.4 -4.4 0.4 0.8 0.4 0.9 0.4 6.6 0.4 -5.1 0.4 2.6 0.4 -5.2 0.4 4.6 0.4 0.6 0.4 0.1 0.4 -3.5 0.4 3.5 0.4 -3.2 0.4 4.4 0.4 -6.3 0.4 0.6 0.4 1.8 0.4 -0.9 0.4 5.5 0.4 -3.7 0.4 -1.8 0.4 4.7 0.4 -1.6 0.4 -3.2 0.4 6.5 0.4 -1.5 0.4 -3.4 0.4 -0.4 0.4 2.6 0.4 1.5 0.4 -0.4 0.4 0.7 0.4 -4.1 0.4 -1.6 0.4 -0.2 0.4 8.5 0.4 -3.2 0.4 -1.4 0.4 -1.8 0.4 0.2 0.4 1.8 0.4 -0.3 0.4 -0.5 0.4 -5.2 0.4 -3.3 0.4 0.2 0.4 -2.9 0.4 2.7 0.4 -7.9 0.4 -2.2 0.4 -1.2 0.4 2.7 0.4 5.6 0.4 -5 0.4 -0.4 0.4 2.2 0.4 1.2 0.4 -0.9 0.4 1.3 0.4 -0.6 0.4 -2.4 0.4 -0.1 0.4 1.4 0.4 1 0.4 -7 0.4 3.3 0.4 1.2 0.4 -1.7 0.4 1.2 0.4 0.1 0.4 -0.4 0.4 3 0.4 2.5 0.4 -4.1 0.4 0.7 0.4 2.3 0.4 -0.4 0.4 -2.6 0.4 -1.4 0.4 5.3 0.4 -0.7 0.4 -3.1 0.4 3.6 0.4 -2.5 0.4 -5.5 0.4 4.9 0.4 -0.7 0.4 1.5 0.4 1.5 0.4 -2.4 0.4 4.8 0.4 -3.2 0.4 3.9 0.4 -3.6 0.4 -6.6 0.4 7.7 0.4 -2.3 0.4 -4.9 0.4 2.8 0.4 0.5 0.4 3.3 0.4 -0.6 0.4 2.6 0.4 -3.9 0.4 3.2 0.4 -3.5 0.4 -2.6 0.4 4.7 0.4 -2.3 0.4 0.2 0.4 -4.1 0.4 0.8 0.4 3.1 0.4 3.9 0.4 -2.2 0.4 -6.2 0.4 -1.4 0.4 10.2 0.4 -2.6 0.4 -4.1 0.4 4.6 0.4 2.2 0.4 0.9 0.4 -2.5 0.4 -2.4 0.4 2.4 0.4 -5.1 0.4 1.3 0.4 -0.1 0.4 0.5 0.4 -0.4 0.4 -0.7 0.4 1.2 0.4 3.3 0.4 -0.4 0.4 -1 0.4 1 0.4 0.6 0.4 -1.3 0.4 3.5 0.4 -3 0.4 -0.4 0.4 -1.4 0.4 4.4 0.4 0.6 0.4 -8.9 0.4 6.8 0.4 -3.4 0.4 3.1 0.4 0.2 0.4 -3.1 0.4 -0.6 0.4 3 0.4 6.7 0.4 -8.6 0.4 1.4 0.4 0.8 0.4 -0.9 0.4 3.1 0.4 3.3 0.4 -3.7 0.4 2.6 0.4 -2.4 0.4 3.7 0.4 -4.1 0.4 2.3 0.4 -1.8 0.4 2.5 0.4 -1.7 0.4 -1.8 0.4 6.6 0.4 -8.5 0.4 4.7 0.4 -2 0.4 -0.9 0.4 7.5 0.4 -5.2 0.4 -0.6 0.4 -0.5 0.4 2.9 0.4 -0.4 0.4 -0.5 0.4 -1.3 0.4 5.4 0.4 -3.2 0.4 -0.6 0.4 -1.3 0.4 0.5 0.4 3.2 0.4 -2.6 0.4 2 0.4 -1.6 0.4 0.3 0.4 0.3 0.4 -1.5 0.4 0.5 0.4 1.3 0.4 0.2 0.4 4.5 0.4 -2.5 0.4 -4.5 0.4 2.3 0.4 -7.7 0.4 -4.5 0.4 -1.3 0.4 -2.3 0.4 -1.7 0.4 0.2 0.4 0.2 0.4 1.7 0.4 1.9 0.4 -3.3 0.4 2.7 0.4 -1.5 0.4 -0.2 0.4 -1.5 0.4 -1.7 0.4 2.8 0.4 -3.8 0.4 1.7 0.4 -1.4 0.4 3.7 0.4 -1.2 0.4 1.2 0.4 -0.4 0.4 -2.4 0.4 3.7 0.4 -1 0.4 2.5 0.4 -0.7 0.4 0 0.4 -1.4 0.4 -0.9 0.4 -1.6 0.4 5.8 0.4 -2.8 0.4 -0.3 0.4 -0.7 0.4 3 0.4 -0.9 0.4 -3 0.4 -0.7 0.4 7.1 0.4 -3.9 0.4 -2.9 0.4 2.4 0.4 -1.8 0.4 2.2 0.4 -1.4 0.4 -0.9 0.4 4.2 0.4 -3.7 0.4 -4.9 0.4 7.1 0.4 -1.8 0.4 -0.3 0.4 -2.5 0.4 3.3 0.4 -0.5 0.4 0.1 0.4 1.7 0.4 3.4 0.4 -0.4 0.4 -1.1 0.4 2.8 0.4 -3.9 0.4 -0.8 0.4 2.8 0.4 1.2 0.4 -4.6 0.4 -1.1 0.4 0.8 0.4 -1.8 0.4 6 0.4 -3.7 0.4 4.7 0.4 0.5 0.4 -3.1 0.4 0.6 0.4 -1.8 0.4 4.1 0.4 -1 0.4 -5.3 0.4 1.7 0.4 4.4 0.4 -1.9 0.4 2.7 0.4 -1.4 0.4 3.8 0.4 -4.8 0.4 2.5 0.4 0.5 0.4 0 0.4 -3.5 0.4 0.6 0.4 3.7 0.4 -6 0.4 0.5 0.4 3.6 0.4 -3.1 0.4 0.9 0.4 0.3 0.4 1.3 0.4 0.6 0.4 -5.6 0.4 3.6 0.4 1.5 0.4 -1.4 0.4 2.8 0.4 2.4 0.4 -6 0.4 -1.2 0.4 2.2 0.4 -1.1 0.4 0.1 0.4 2.2 0.4 3 0.4 3.1 0.4 -6.4 0.4 -4.9 0.4 8.1 0.4 -3.6 0.4 -1.3 0.4 2.5 0.4 -2.6 0.4 0.1 0.4 -1.4 0.4 3.8 0.4 1.5 0.4 -2.3 0.4 -0.1 0.4 4 0.4 -3.5 0.4 0.8 0.4 -2.9 0.4 0.9 0.4 4.7 0.4 -1.8 0.4 2 0.4 -0.8 0.4 -5.4 0.4 4.1 0.4 2.2 0.4 -5.6 0.4 7.1 0.4 -2.9 0.4 -0.9 0.4 2.3 0.4 0.8 0.4 0.4 0.4 -3.5 0.4 0.6 0.4 6.3 0.4 -8.4 0.4 3.3 0.4 0.3 0.4 2 0.4 -0.6 0.4 -1.7 0.4 -0.9 0.4 3 0.4 -2.5 0.4 0.1 0.4 -0.3 0.4 2.2 0.4 -3.5 0.4 -2.8 0.4 -1.9 0.4 -7.2 0.4 -2.9 0.4 -2 0.4 -1 0.4 1.1 0.4 -2.9 0.4 -0.7 0.4 0.7 0.4 -0.3 0.4 1.9 0.4 0.9 0.4 -1.3 0.4 -3.7 0.4 -0.2 0.4 3.1 0.4 1.4 0.4 -0.5 0.4 0.3 0.4 0.5 0.4 -6.8 0.4 6.3 0.4 2.5 0.4 -1.3 0.4 -1.3 0.4 0.6 0.4 0.4 0.4 -1.1 0.4 -1.2 0.4 0.8 0.4 -2.2 0.4 3.8 0.4 0.5 0.4 0.2 0.4 -2.3 0.4 5.7 0.4 -4.6 0.4 1.5 0.4 2.2 0.4 -1.7 0.4 2.1 0.4 -1.9 0.4 0.9 0.4 -1.4 0.4 1.2 0.4 -3.1 0.4 2.3 0.4 0.4 0.4 -4.7 0.4 0.2 0.4 -0.4 0.4 2.1 0.4 1.6 0.4 -2 0.4 3.3 0.4 -1 0.4 -4.4 0.4 1.9 0.4 1.3 0.4 2.2 0.4 -1.9" fill="none" stroke="#99cc00" stroke-width="1.7" stroke-linejoin="round"/>
<path d="M69 15.9l0.4 1.6 0.4 -3.3 0.4 -2.9 0.4 1.3 0.4 0.9 0.4 -1.7 0.4 -0.4 0.4 4.3 0.4 -1.3 0.4 0.4 0.4 -0.3 0.4 1.2 0.4 0.9 0.4 -3.3 0.4 4.1 0.4 1.4 0.4 3.2 0.4 -5.2 0.4 -0.3 0.4 0.3 0.4 -1.5 0.4 2.2 0.4 -3.3 0.4 0.9 0.4 1.2 0.4 -0.7 0.4 -0.8 0.4 -1.6 0.4 3.8 0.4 -2.8 0.4 3.6 0.4 -0.2 0.4 1.7 0.4 -1.5 0.4 0.2 0.4 2.8 0.4 -3.1 0.4 0.9 0.4 -0.7 0.4 4.8 0.4 -4.5 0.4 -0.3 0.4 1.1 0.4 -2 0.4 -0.6 0.4 4.1 0.4 -2.3 0.4 3.2 0.4 -4.7 0.4 4.1 0.4 6.8 0.4 1.3 0.4 -2.6 0.4 2.4 0.4 4.6 0.4 5 0.4 -3.1 0.4 1 0.4 -3 0.4 2.9 0.4 0 0.4 -2.5 0.4 -2.7 0.4 2.4 0.4 2.2 0.4 -6.1 0.4 4.9 0.4 -4.3 0.4 4.4 0.4 1.1 0.4 0.6 0.4 1.5 0.4 -2.2 0.4 3.8 0.4 -4.3 0.4 -0.6 0.4 1.6 0.4 -8.2 0.4 5.2 0.4 0.5 0.4 -2.4 0.4 3.9 0.4 -2.3 0.4 -4 0.4 6.4 0.4 -5 0.4 2.1 0.4 1.6 0.4 1.7 0.4 -0.8 0.4 -1.6 0.4 1.6 0.4 -3.1 0.4 5.7 0.4 -4.6 0.4 1.7 0.4 -3.3 0.4 0.2 0.4 1.6 0.4 4.1 0.4 -3.5 0.4 -1.6 0.4 0 0.4 -1.5 0.4 2.6 0.4 -0.7 0.4 2 0.4 -2 0.4 0.6 0.4 -0.6 0.4 0.3 0.4 1.8 0.4 -0.4 0.4 1.9 0.4 0.1 0.4 1.5 0.4 -5.6 0.4 3.6 0.4 -4.8 0.4 3.1 0.4 4.6 0.4 -5.3 0.4 0.3 0.4 -1 0.4 -1.1 0.4 0.8 0.4 0.3 0.4 2.5 0.4 0.7 0.4 -2.7 0.4 1.4 0.4 0 0.4 0.1 0.4 -1.3 0.4 0.7 0.4 0.6 0.4 -4.8 0.4 1.3 0.4 3.7 0.4 0.2 0.4 -3.3 0.4 -1.7 0.4 2.8 0.4 2.3 0.4 -1.7 0.4 -2.3 0.4 1.6 0.4 -3.2 0.4 0.9 0.4 3.5 0.4 0.2 0.4 0.6 0.4 1.7 0.4 -1.3 0.4 2.1 0.4 -4.7 0.4 -1.5 0.4 3 0.4 3.3 0.4 -4.6 0.4 -1.9 0.4 0.7 0.4 4.1 0.4 -4.7 0.4 5 0.4 -2.8 0.4 1.1 0.4 0.2 0.4 -1.4 0.4 3.7 0.4 -5.5 0.4 -2.9 0.4 9.5 0.4 -2.2 0.4 8 0.4 -1.9 0.4 3 0.4 3.8 0.4 0.8 0.4 2 0.4 -1.2 0.4 3.3 0.4 -8.2 0.4 6.6 0.4 -1.2 0.4 3.8 0.4 -9.3 0.4 6.3 0.4 -2.3 0.4 0.4 0.4 3.3 0.4 -0.1 0.4 1.9 0.4 -4 0.4 -0.2 0.4 2.4 0.4 -1.1 0.4 -1.1 0.4 2.2 0.4 -2.8 0.4 4.4 0.4 -2.5 0.4 -2.5 0.4 1.2 0.4 1.3 0.4 2.9 0.4 -4.3 0.4 1.2 0.4 2.6 0.4 -4.8 0.4 -0.3 0.4 2.4 0.4 -0.8 0.4 2.3 0.4 -5 0.4 -3.8 0.4 6.1 0.4 -0.5 0.4 5.5 0.4 -3 0.4 -3.2 0.4 2.4 0.4 -2.3 0.4 2.3 0.4 -4.2 0.4 4.5 0.4 -3.4 0.4 0.9 0.4 2.9 0.4 -0.3 0.4 -1.1 0.4 4.4 0.4 -5.3 0.4 2.4 0.4 2.2 0.4 -2.7 0.4 -1.6 0.4 4.6 0.4 -2.1 0.4 -1.6 0.4 -5.2 0.4 3.9 0.4 1.3 0.4 -1.5 0.4 -3.5 0.4 0.4 0.4 1.7 0.4 3.9 0.4 -0.7 0.4 1 0.4 -2.7 0.4 2.3 0.4 -3.3 0.4 -0.2 0.4 3.9 0.4 -3.7 0.4 -0.1 0.4 -0.6 0.4 -0.5 0.4 5.1 0.4 -0.4 0.4 -3 0.4 0.5 0.4 0.9 0.4 -2.5 0.4 1.4 0.4 0.8 0.4 -0.1 0.4 2.5 0.4 -0.7 0.4 -0.1 0.4 -6 0.4 6.9 0.4 -3.3 0.4 -4 0.4 1 0.4 3.6 0.4 -0.9 0.4 -2.2 0.4 0.9 0.4 -0.8 0.4 2.6 0.4 -2.3 0.4 -2.5 0.4 1.5 0.4 0.2 0.4 2.8 0.4 1.7 0.4 -5.1 0.4 2.6 0.4 -2.5 0.4 0.5 0.4 -0.2 0.4 1 0.4 -3.3 0.4 1.4 0.4 -2.2 0.4 3.2 0.4 3.8 0.4 -2.6 0.4 1 0.4 0.2 0.4 -0.4 0.4 -0.2 0.4 -1.6 0.4 -1.7 0.4 0.4 0.4 9.3 0.4 2.3 0.4 0.5 0.4 8.2 0.4 -2.2 0.4 5.6 0.4 -2.1 0.4 -3.6 0.4 0.7 0.4 4.5 0.4 -5.8 0.4 0.8 0.4 1 0.4 0.1 0.4 -0.4 0.4 0 0.4 0.4 0.4 0.8 0.4 2 0.4 1 0.4 -3.2 0.4 4.7 0.4 -9.5 0.4 4.9 0.4 2.5 0.4 -0.4 0.4 -1.8 0.4 -1.3 0.4 1.5 0.4 -2.5 0.4 -0.7 0.4 -7.1 0.4 2.5 0.4 1.3 0.4 3.5 0.4 0.6 0.4 0.4 0.4 -3.8 0.4 4.6 0.4 -1.9 0.4 0.1 0.4 -1 0.4 -0.9 0.4 7.3 0.4 -3.1 0.4 -6.1 0.4 6.3 0.4 -5.4 0.4 3 0.4 2.5 0.4 -2.9 0.4 3 0.4 -3.4 0.4 -1.1 0.4 3.3 0.4 1.8 0.4 0.9 0.4 -3.9 0.4 -2.5 0.4 2.2 0.4 -0.2 0.4 -0.7 0.4 0.6 0.4 1.5 0.4 -0.7 0.4 0.8 0.4 -0.4 0.4 0.8 0.4 -1 0.4 0.1 0.4 0.1 0.4 1.1 0.4 -1.7 0.4 2 0.4 -2 0.4 -3 0.4 -1 0.4 5.2 0.4 -2.5 0.4 -0.4 0.4 -2.2 0.4 3.1 0.4 -2.4 0.4 -0.7 0.4 0.9 0.4 0.4 0.4 3.4 0.4 -0.3 0.4 -0.4 0.4 3.1 0.4 -3.7 0.4 0.8 0.4 5.8 0.4 -7 0.4 0.6 0.4 4.5 0.4 -2.8 0.4 -0.9 0.4 -3.2 0.4 0.9 0.4 2.5 0.4 1.7 0.4 -2 0.4 -3 0.4 0.9 0.4 -3 0.4 3 0.4 4.3 0.4 -3 0.4 -1.9 0.4 3.5 0.4 -5.1 0.4 6.5 0.4 -5.2 0.4 3.7 0.4 -1.4 0.4 0.2 0.4 3 0.4 -3.7 0.4 -0.5 0.4 0.8 0.4 -1 0.4 -0.1 0.4 4.5 0.4 -1.9 0.4 3.7 0.4 -0.1 0.4 -3.3 0.4 -1.5 0.4 -3.3 0.4 2.3 0.4 5.8 0.4 1.5 0.4 -0.5 0.4 5.3 0.4 -0.5 0.4 4.6 0.4 1.9 0.4 -2.5 0.4 7.5 0.4 -0.4 0.4 -3.1 0.4 -0.3 0.4 -0.5 0.4 2.4 0.4 -0.5 0.4 1.4 0.4 0.7 0.4 -2.5 0.4 0.8 0.4 -3.6 0.4 1.6 0.4 2.5 0.4 -1.2 0.4 -0.4 0.4 2.6 0.4 -2.2 0.4 -0.7 0.4 0.4 0.4 -0.7 0.4 -3.8 0.4 0.2 0.4 3.7 0.4 -2.6 0.4 0.9 0.4 2.7 0.4 -1.8 0.4 2.8 0.4 -3.9 0.4 3 0.4 -3.2 0.4 -5 0.4 6.1 0.4 -1.9 0.4 -3 0.4 4.8 0.4 1.3 0.4 -3 0.4 1.1 0.4 3.1 0.4 -1.7 0.4 1 0.4 0.5 0.4 0.1 0.4 -8.2 0.4 4.4 0.4 3.3 0.4 -6.3 0.4 7.3 0.4 -0.3 0.4 -4.1 0.4 -0.6 0.4 0.1 0.4 0.2 0.4 0.5 0.4 -0.9 0.4 -2.4 0.4 1.1 0.4 0.6 0.4 3.6 0.4 -0.8 0.4 -4.9 0.4 1.4 0.4 4.4 0.4 -3 0.4 1.9 0.4 0.1 0.4 0.1 0.4 -5.4 0.4 3.9 0.4 1.2 0.4 -4 0.4 6.2 0.4 -3.6 0.4 1.2 0.4 -3.1 0.4 1.7 0.4 -5.7 0.4 6.4 0.4 1.2 0.4 -4.5 0.4 1.4 0.4 1.5 0.4 1.2 0.4 -3.5 0.4 4.6 0.4 -5.8 0.4 7.6 0.4 -5.8 0.4 -0.6 0.4 6.8 0.4 -4 0.4 -2.9 0.4 4.3 0.4 -2.1 0.4 -2 0.4 0.8 0.4 0.8 0.4 -0.9 0.4 0 0.4 6.1 0.4 -4.3 0.4 3.9 0.4 -6.9 0.4 5.2 0.4 -3.7 0.4 1.4 0.4 3.6 0.4 -4 0.4 -3.3 0.4 4.8 0.4 -1.4 0.4 1.1 0.4 -3.2 0.4 2.3 0.4 0.7 0.4 -1.2 0.4 2 0.4 -1.8 0.4 4.9 0.4 3.3 0.4 3.2 0.4 -2.3 0.4 8.1 0.4 1.5 0.4 -1 0.4 3.8 0.4 -4.6 0.4 4.3 0.4 0.1 0.4 0.3 0.4 -1.4 0.4 2.3 0.4 0.1 0.4 -4.8 0.4 3.1 0.4 -3.5 0.4 3.9 0.4 -1.2 0.4 1 0.4 -2.5 0.4 -3.7 0.4 4.8 0.4 2.8 0.4 -1.8 0.4 1 0.4 0.2 0.4 1.4 0.4 -1.1 0.4 -3.2 0.4 3.8 0.4 4.3 0.4 -6.1 0.4 -5.4 0.4 8.6 0.4 -2.2 0.4 -1.7 0.4 -2.1 0.4 -2.4 0.4 5.5 0.4 -0.1 0.4 -2.4 0.4 1.6 0.4 -0.6 0.4 7.1 0.4 -6.6 0.4 3.9 0.4 -7.3 0.4 2 0.4 -0.3 0.4 0.3 0.4 1.6 0.4 2.6 0.4 -0.5 0.4 -5.9 0.4 7.5 0.4 -4.6 0.4 5.9 0.4 -4.7 0.4 -2.6 0.4 5.5 0.4 -2 0.4 -2.3 0.4 -0.2 0.4 -0.1 0.4 1.9 0.4 -4.2 0.4 -0.5 0.4 2.7 0.4 -0.4 0.4 -0.5 0.4 -3.1 0.4 8.2 0.4 -5.1 0.4 -1.1 0.4 6.1 0.4 -2.3 0.4 -0.3 0.4 1.5 0.4 -2.4 0.4 -1.8 0.4 1.7 0.4 2 0.4 -0.2 0.4 -1.4 0.4 -2.3 0.4 -0.1 0.4 1.4 0.4 1.3 0.4 -0.7 0.4 -4.9 0.4 2.9 0.4 3.5 0.4 -1.6 0.4 0 0.4 -2.6 0.4 2.5 0.4 1.3 0.4 -7.1 0.4 1.4 0.4 0.9 0.4 5.8 0.4 -3.2 0.4 0.7 0.4 1.9 0.4 -1.3 0.4 0.7 0.4 1.5 0.4 -1.2 0.4 -2.8 0.4 3.4 0.4 0.4 0.4 0.7 0.4 -6.6 0.4 4.2 0.4 -0.7 0.4 0.5 0.4 -1.6 0.4 0.8 0.4 0.7 0.4 0.1 0.4 -0.3 0.4 -3.1 0.4 0.2 0.4 0.8 0.4 -2.6 0.4 2.6 0.4 -0.3 0.4 -2 0.4 0.9 0.4 2.2 0.4 -0.4 0.4 5.7 0.4 -2.7 0.4 -1.9 0.4 -0.2 0.4 -1.4 0.4 1.8 0.4 1.8 0.4 -0.8 0.4 -2.6 0.4 3.2 0.4 0.4 0.4 0.4 0.4 -6.2 0.4 3.4 0.4 -0.2 0.4 -1.7 0.4 2.5 0.4 -3.3 0.4 5 0.4 4.9 0.4 -3 0.4 2.6 0.4 -1.9 0.4 -4.8 0.4 3.6 0.4 -1.4 0.4 2 0.4 -4.6 0.4 -1.2 0.4 7.4 0.4 -1.3 0.4 -1.7 0.4 -0.5 0.4 0 0.4 -3.5 0.4 4.1 0.4 -1.3 0.4 0.5 0.4 -1.8 0.4 2.2 0.4 -0.1 0.4 -3 0.4 3.4 0.4 -2.7 0.4 2.2 0.4 -1.6 0.4 5.8 0.4 -0.9 0.4 -0.1 0.4 -4.9 0.4 1.4 0.4 3.1 0.4 -3.8 0.4 3.9 0.4 -3.6 0.4 2 0.4 -0.9 0.4 -6.8 0.4 9.6 0.4 1 0.4 1.8 0.4 3.9 0.4 7.9 0.4 -3 0.4 0.2 0.4 -3.1 0.4 -1.7 0.4 6.7 0.4 1.5 0.4 -1 0.4 3 0.4 0.4 0.4 -2.8 0.4 -0.5 0.4 -1.3 0.4 1.3 0.4 2.5 0.4 -1.8 0.4 -1.6 0.4 -1 0.4 0.4 0.4 2.8 0.4 -2.5 0.4 4.9 0.4 -6 0.4 4.3 0.4 2.6 0.4 1.9 0.4 -5 0.4 1.4 0.4 3 0.4 -2.6 0.4 -6.8 0.4 5.4 0.4 5.5 0.4 -7.6 0.4 3.2 0.4 -5.5 0.4 6.4 0.4 -4.3 0.4 3.4 0.4 -0.2 0.4 -5.2 0.4 2.7 0.4 1.9 0.4 -4.6 0.4 4.4 0.4 -1.8 0.4 4.7 0.4 -3.5 0.4 -0.6 0.4 3.2 0.4 1.5 0.4 -2.2 0.4 -0.3 0.4 0.6 0.4 -2.7 0.4 -1.2 0.4 3.3 0.4 -2.4 0.4 -2.6 0.4 5.3 0.4 -0.6 0.4 -0.9 0.4 -1.7 0.4 1.1 0.4 4.2 0.4 -1.6 0.4 -2.4 0.4 1.3 0.4 2 0.4 0.5 0.4 -0.9 0.4 -5.9 0.4 0.9 0.4 -0.5 0.4 1.4 0.4 -0.4 0.4 4.9 0.4 -2.7 0.4 1.2 0.4 4.5 0.4 -8 0.4 -0.3 0.4 3 0.4 -1.8 0.4 -0.2 0.4 -1 0.4 5.5 0.4 -4.9 0.4 1.9 0.4 -4.9 0.4 7.3 0.4 -1.2 0.4 0.5 0.4 2.2 0.4 -3.7 0.4 -4.1 0.4 2.6 0.4 1.4 0.4 1.7 0.4 -6.3 0.4 3.8 0.4 -0.5 0.4 2.3 0.4 -3.2 0.4 3.7 0.4 -0.3 0.4 -1.4 0.4 0.1 0.4 2 0.4 -1.4 0.4 2.4 0.4 -5.9 0.4 5.4 0.4 -3.4 0.4 -0.3 0.4 0.4 0.4 -0.3 0.4 2.8 0.4 3.7 0.4 -7.4 0.4 0 0.4 3.2 0.4 -1.5 0.4 1.4 0.4 -4.1 0.4 2.7 0.4 -5.4 0.4 3.4 0.4 3 0.4 2.2 0.4 0.8 0.4 -4.8 0.4 -0.9 0.4 0.3 0.4 -3 0.4 6.5 0.4 1.5 0.4 -5.6 0.4 5.5 0.4 -5.6 0.4 3.2 0.4 -2.5 0.4 0.7 0.4 3.6 0.4 -3.8 0.4 6.5 0.4 -5.6 0.4 0.5 0.4 -0.4 0.4 1.3 0.4 -0.9 0.4 2 0.4 -1.4 0.4 -0.4 0.4 -0.3 0.4 4.3 0.4 -5 0.4 0.8 0.4 3.2 0.4 -1.2 0.4 -3.3 0.4 2.9 0.4 -0.7 0.4 -2.5 0.4 5.9 0.4 -2.7 0.4 0 0.4 -4.5 0.4 2.9 0.4 -6.6 0.4 4.9 0.4 2.1 0.4 2.1 0.4 -1.7 0.4 1.3 0.4 -1.8 0.4 -5.3 0.4 6.8 0.4 -2.6 0.4 2.5 0.4 0.7 0.4 -1.7 0.4 -5.1 0.4 1.8 0.4 2.5 0.4 1.3 0.4 -2.3 0.4 9.8 0.4 -4.8 0.4 -0.6 0.4 -1.6 0.4 2 0.4 -0.7 0.4 0.5 0.4 -1.4 0.4 -1.1 0.4 -3.4 0.4 3.1 0.4 3 0.4 -6.3 0.4 2.3 0.4 0 0.4 -0.6 0.4 4.6 0.4 -2.5 0.4 0.9 0.4 1.5 0.4 -2.3 0.4 -0.1 0.4 -1.4 0.4 -2.1 0.4 5.8 0.4 -1.9 0.4 0.9 0.4 -4.4 0.4 6.7 0.4 -0.7 0.4 -1.8 0.4 -3.8 0.4 3.2 0.4 -1.5 0.4 1.2 0.4 1 0.4 -2 0.4 0.8 0.4 0.1 0.4 3.5 0.4 -3.5 0.4 6 0.4 -7.5 0.4 3.2 0.4 1.9 0.4 -6.4 0.4 6.6 0.4 1.7 0.4 -1.6 0.4 0.3 0.4 2.4 0.4 -5.2 0.4 1.6 0.4 -1.4 0.4 1.3 0.4 -5.9 0.4 0.7 0.4 0.2 0.4 2.3 0.4 1.8 0.4 0.3 0.4 -2 0.4 1.3 0.4 -6 0.4 -0.5 0.4 -7.3 0.4 0.2 0.4 -7.4 0.4 0.3 0.4 -0.5 0.4 3 0.4 -4.3 0.4 -2 0.4 5 0.4 -1.4 0.4 -1.5 0.4 0 0.4 4.1 0.4 -6.9 0.4 3.1 0.4 4.4 0.4 -4 0.4 2.1 0.4 -0.9 0.4 0.4 0.4 1.8 0.4 -2 0.4 -3.1 0.4 0.4 0.4 1.3 0.4 0.1 0.4 3 0.4 0.1 0.4 -1.7 0.4 -2.5 0.4 0.9 0.4 -1.8 0.4 -1.2 0.4 3.7 0.4 -2.4 0.4 0.1 0.4 -2.8 0.4 -0.6 0.4 4 0.4 4 0.4 -3.4 0.4 2.3 0.4 -1.2 0.4 0.1 0.4 0.5 0.4 3 0.4 -4.1 0.4 -0.6 0.4 3.2 0.4 0.1 0.4 -1.2 0.4 -0.8 0.4 -0.5 0.4 1.3 0.4 -1.8 0.4 -0.1 0.4 -3.2 0.4 6.5 0.4 -3.5 0.4 0.3 0.4 -1.6 0.4 -1.3 0.4 0.6 0.4 0.1 0.4 4.6 0.4 -4.2 0.4 3.1 0.4 -3.5 0.4 2.9 0.4 -3.2 0.4 4.1 0.4 -4.7 0.4 0.6 0.4 -0.8 0.4 0.7 0.4 1.5 0.4 -1.2 0.4 3.1 0.4 3.1 0.4 -4.8 0.4 2.8 0.4 0 0.4 -1.4 0.4 0 0.4 0.5 0.4 0.1 0.4 -3.7 0.4 1.5 0.4 -0.4 0.4 4 0.4 -5.2 0.4 2.5 0.4 -0.2 0.4 -1.1 0.4 -2.1 0.4 -1.6 0.4 0.8 0.4 0.6 0.4 1.5 0.4 -2.2 0.4 4 0.4 -0.4 0.4 -2 0.4 -1.2 0.4 3.2 0.4 -0.8 0.4 2.9 0.4 -2.3 0.4 4.6 0.4 -5.4 0.4 1.1 0.4 3.8 0.4 -1.2 0.4 1.7 0.4 -7.1 0.4 4.6 0.4 0.7 0.4 0.1 0.4 -2 0.4 3.5 0.4 -0.9 0.4 -4.9 0.4 6.7 0.4 -4.4 0.4 2.5 0.4 -4.5 0.4 -1.1 0.4 3.9 0.4 1.8 0.4 -4 0.4 3.3 0.4 -2.5 0.4 -1.8 0.4 7.1 0.4 -4.7 0.4 2.6 0.4 -0.3 0.4 -1.2 0.4 1.8 0.4 -2.8 0.4 -0.7 0.4 0.8 0.4 -0.2 0.4 0.6 0.4 -2.3 0.4 3.1 0.4 -0.8 0.4 6.9 0.4 -2.9 0.4 -7.1 0.4 4.4 0.4 -5 0.4 3.6 0.4 3.5 0.4 -5.1 0.4 2.8 0.4 -3.8 0.4 3.4 0.4 -0.8 0.4 -4.2 0.4 4 0.4 5.5 0.4 -5.9 0.4 4.7 0.4 0.8 0.4 -4.4 0.4 2.3 0.4 -2.2 0.4 -8.7 0.4 9.3 0.4 0.1 0.4 -3.2 0.4 0.3 0.4 0.1 0.4 2.7 0.4 -0.4 0.4 -1.3 0.4 -2 0.4 6.7 0.4 0.2 0.4 -5.3 0.4 2.7 0.4 -0.7 0.4 -5.9 0.4 10.5 0.4 -3.5 0.4 -3.8 0.4 6.1 0.4 -1.6 0.4 3 0.4 -3 0.4 1.9 0.4 0.7 0.4 -2.7 0.4 -0.8 0.4 -3.2 0.4 -0.4 0.4 4.3 0.4 -2.3 0.4 -2.5 0.4 3.7 0.4 4.5 0.4 -6.2 0.4 0.5 0.4 7.9 0.4 -5.5 0.4 1.6 0.4 0.7 0.4 -2.6 0.4 -2.6 0.4 -4 0.4 -4.1 0.4 3.9 0.4 -13.6 0.4 0.2 0.4 -2 0.4 3.6 0.4 2.2 0.4 -4.4 0.4 -4.9 0.4 7.2 0.4 -4.2 0.4 -1.3 0.4 -0.5 0.4 5.3 0.4 -4.1 0.4 0.4 0.4 0.9 0.4 1.5 0.4 -6.7 0.4 8.3 0.4 -4.8 0.4 1 0.4 1.7 0.4 0 0.4 -6.6 0.4 7.5 0.4 -2.5 0.4 -1.1 0.4 -0.5 0.4 -1.2 0.4 3.6 0.4 2.1 0.4 -3.4 0.4 -0.2 0.4 -2.7 0.4 2.3 0.4 0.4 0.4 2.6 0.4 3.5 0.4 -3.7 0.4 0.7 0.4 -2.5 0.4 1.8 0.4 -2 0.4 -0.2 0.4 1.2 0.4 -1.3 0.4 5.1 0.4 -4.3 0.4 -1.1 0.4 2.6 0.4 -5.4 0.4 4.2 0.4 2.6 0.4 -5.6 0.4 1.4 0.4 2.4 0.4 -5.1 0.4 5.5 0.4 -3 0.4 1.9 0.4 -2.1 0.4 2.3 0.4 -0.3 0.4 1.6 0.4 -3.3 0.4 0.9 0.4 -5.1 0.4 1.6 0.4 2.6 0.4 -2.3 0.4 3.4 0.4 -1.1 0.4 3 0.4 -0.5 0.4 -2.5 0.4 1 0.4 -3.7 0.4 2.3 0.4 -0.8 0.4 1.3 0.4 0.8 0.4 1.8 0.4 -3.9 0.4 -0.3 0.4 -2.9 0.4 6.3 0.4 -4 0.4 -0.3 0.4 0.1 0.4 2.7 0.4 -2.2 0.4 -0.7 0.4 0.6 0.4 0.4 0.4 1.5 0.4 -2.7 0.4 3.1 0.4 -2.2 0.4 4.1 0.4 -2.8 0.4 -1.5 0.4 -3.2 0.4 -0.4 0.4 4.3 0.4 -3.3 0.4 -1 0.4 1 0.4 6.8 0.4 -2.9 0.4 2.6 0.4 -4.6 0.4 2.8 0.4 1.9 0.4 -1.3 0.4 -1.5 0.4 1.9 0.4 -3.2 0.4 5.7 0.4 -7.4 0.4 1.7 0.4 1.5 0.4 -1.2 0.4 3.7 0.4 -2.6 0.4 -2.8 0.4 4.8 0.4 0.7 0.4 -3.7 0.4 5 0.4 -0.5 0.4 -3.7 0.4 -1.6 0.4 3.6 0.4 2.1 0.4 -0.1 0.4 -0.4 0.4 -4.2 0.4 -0.9 0.4 -0.3 0.4 7.1 0.4 -0.5 0.4 -0.4 0.4 -3.5 0.4 0 0.4 2 0.4 -1.8 0.4 -2.3 0.4 -5.1 0.4 -4.9 0.4 -0.3 0.4 -4.9 0.4 1.8 0.4 -8 0.4 -2.7 0.4 0.1 0.4 6 0.4 2 0.4 -4.7 0.4 -1.3 0.4 3.4 0.4 2.2 0.4 0.3 0.4 -0.5 0.4 -0.6 0.4 -3.3 0.4 1.6 0.4 -0.2 0.4 3.8 0.4 -9.3 0.4 3.1 0.4 3 0.4 -1.9 0.4 1 0.4 -0.7 0.4 -0.2 0.4 0.5 0.4 3.7 0.4 -3 0.4 0.3 0.4 3 0.4 0.8 0.4 -4 0.4 -3.7 0.4 5.9 0.4 0.2 0.4 -3.9 0.4 5.1 0.4 -2.2 0.4 -7.4 0.4 5.2 0.4 -0.4 0.4 0.3 0.4 -0.7 0.4 -0.2 0.4 3 0.4 -0.9 0.4 2.7 0.4 -4.9 0.4 -5.8 0.4 8.1 0.4 -0.9 0.4 -6.4 0.4 2.7 0.4 -0.2 0.4 4.1 0.4 -1.1 0.4 1.8 0.4 -2.3 0.4 2.7 0.4 -4.4 0.4 0.1 0.4 2.2 0.4 0.1 0.4 0.1 0.4 -5.7 0.4 2.2 0.4 2.6 0.4 4.4 0.4 -3.1 0.4 -7.5 0.4 -0.2 0.4 9.9 0.4 -3.7 0.4 -3.5 0.4 5 0.4 1.3 0.4 2.1 0.4 -4.2 0.4 -1 0.4 1.9 0.4 -4.5 0.4 1.9 0.4 -0.5 0.4 2.6 0.4 -2.3 0.4 0.6 0.4 0.2 0.4 1.2 0.4 0 0.4 -1.3 0.4 0.2 0.4 1.6 0.4 -0.3 0.4 1.4 0.4 -3 0.4 0.7 0.4 -0.5 0.4 4.1 0.4 -0.8 0.4 -7 0.4 5.7 0.4 -2.6 0.4 3.1 0.4 -0.4 0.4 -4.4 0.4 1.3 0.4 1.5 0.4 6.4 0.4 -7.2 0.4 0.8 0.4 0.7 0.4 0 0.4 3.8 0.4 3.5 0.4 -5.6 0.4 2.7 0.4 -2.4 0.4 4.7 0.4 -4.9 0.4 0.9 0.4 -0.8 0.4 3.9 0.4 -2.7 0.4 -1.6 0.4 6.4 0.4 -8.6 0.4 3.8 0.4 -0.6 0.4 -2.9 0.4 7.6 0.4 -5.6 0.4 1.3 0.4 -2.3 0.4 5.7 0.4 -1.5 0.4 0.5 0.4 -3.1 0.4 6.7 0.4 -2.9 0.4 -1 0.4 -3 0.4 3.1 0.4 0.5 0.4 -1.1 0.4 1.7 0.4 -2.3 0.4 0 0.4 -0.1 0.4 -0.7 0.4 0 0.4 2 0.4 -0.2 0.4 5.6 0.4 -3.6 0.4 -5.3 0.4 2.7 0.4 -9.9 0.4 -5.3 0.4 -0.5 0.4 -5.5 0.4 -2.4 0.4 0.1 0.4 -0.3 0.4 1.9 0.4 1.7 0.4 -3.5 0.4 3.6 0.4 -1.3 0.4 1 0.4 -1.9 0.4 -1.1 0.4 1.4 0.4 -4.2 0.4 3.2 0.4 -2.1 0.4 2.3 0.4 0.4 0.4 -0.9 0.4 -1.3 0.4 1.7 0.4 2.3 0.4 -2 0.4 0.4 0.4 0.9 0.4 0.9 0.4 -0.6 0.4 -1.4 0.4 -1.4 0.4 3.6 0.4 -1.2 0.4 -0.2 0.4 -1.9 0.4 2.8 0.4 -0.3 0.4 -2.7 0.4 -2.6 0.4 9.3 0.4 -4.8 0.4 -1.8 0.4 -1.4 0.4 0.1 0.4 2.3 0.4 -1 0.4 -1.8 0.4 4.2 0.4 -3.1 0.4 -3.3 0.4 5.3 0.4 -2.8 0.4 0.2 0.4 -3 0.4 3.8 0.4 -1 0.4 1.9 0.4 -1.8 0.4 4.8 0.4 1.5 0.4 0.6 0.4 -0.2 0.4 -2.9 0.4 -1.5 0.4 3.5 0.4 1.7 0.4 -4.8 0.4 -1.1 0.4 0.7 0.4 -2.4 0.4 3.9 0.4 -3.3 0.4 5.6 0.4 1.6 0.4 -5 0.4 -0.3 0.4 -1.2 0.4 4.4 0.4 -2.4 0.4 -1.3 0.4 0.7 0.4 3.3 0.4 -1 0.4 1.2 0.4 -0.8 0.4 3.3 0.4 -4.5 0.4 3.3 0.4 -1.3 0.4 -0.6 0.4 -4.1 0.4 1.6 0.4 5.8 0.4 -8.3 0.4 1 0.4 2.8 0.4 -4.1 0.4 0.9 0.4 2.1 0.4 -1.1 0.4 3.1 0.4 -6.2 0.4 1.5 0.4 2.1 0.4 -0.3 0.4 2.3 0.4 4.2 0.4 -8 0.4 -0.5 0.4 1.8 0.4 0.8 0.4 -0.8 0.4 1.9 0.4 3.8 0.4 2.1 0.4 -6.8 0.4 -4.8 0.4 6.6 0.4 -2.1 0.4 -0.9 0.4 1.7 0.4 -1.6 0.4 -0.3 0.4 -1.7 0.4 3.1 0.4 0.4 0.4 -3.8 0.4 2.9 0.4 2 0.4 -2.6 0.4 1.1 0.4 -2.5 0.4 2.7 0.4 1.8 0.4 -2.4 0.4 3 0.4 -0.7 0.4 -5.3 0.4 4.6 0.4 -1.6 0.4 -1.8 0.4 5.1 0.4 -2.4 0.4 -1.6 0.4 2.5 0.4 1.6 0.4 0.3 0.4 -4.5 0.4 0.8 0.4 6.7 0.4 -7.7 0.4 0.6 0.4 1.3 0.4 2.7 0.4 -3.5 0.4 0 0.4 -0.2 0.4 3.3 0.4 -2.4 0.4 0.4 0.4 -1.3 0.4 0.2 0.4 -3.4 0.4 -2.2 0.4 -2.2 0.4 -7.6 0.4 -1.8 0.4 -3.4 0.4 -1.3 0.4 -1.1 0.4 -1.4 0.4 -0.5 0.4 0.2 0.4 1 0.4 1.9 0.4 0.6 0.4 -1.1 0.4 -2.6 0.4 -1.8 0.4 3.6 0.4 2 0.4 -1.8 0.4 -0.7 0.4 1.6 0.4 -6.1 0.4 4.9 0.4 1.2 0.4 0.1 0.4 -0.9 0.4 -1.5 0.4 4.6 0.4 -2.8 0.4 0.7 0.4 -0.9 0.4 -1.1 0.4 3.2 0.4 -0.8 0.4 -1.2 0.4 -1 0.4 5.7 0.4 -4.2 0.4 -0.2 0.4 0.5 0.4 -0.3 0.4 2.6 0.4 -2.5 0.4 0.2 0.4 -1.6 0.4 3 0.4 -4.6 0.4 2.5 0.4 0.8 0.4 -3.3 0.4 -0.9 0.4 0.7 0.4 -0.4 0.4 3.2 0.4 -2.1 0.4 3.6 0.4 -1 0.4 -7.2 0.4 4.4 0.4 -1.1 0.4 3.1 0.4 -1" fill="none" stroke="#00aa1a" stroke-width="1.7" stroke-linejoin="round"/>
<path d="M64.4 552.8l0.4 3.4 0.4 -3.7 0.4 2.9 0.4 -2.4 0.4 1.7 0.4 2.4 0.4 -0.6 0.4 -0.8 0.4 -2.1 0.4 6.5 0.4 -4.9 0.4 -0.3 0.4 -1.7 0.4 1.2 0.4 -3.5 0.4 2.6 0.4 0.2 0.4 1.6 0.4 -8.2 0.4 4.4 0.4 -0.9 0.4 4.5 0.4 5.4 0.4 -8.7 0.4 0.7 0.4 1.3 0.4 0.4 0.4 -3.7 0.4 4.4 0.4 -1.7 0.4 0 0.4 -2.1 0.4 6.8 0.4 -1.2 0.4 -3.3 0.4 -2.7 0.4 -1 0.4 3.4 0.4 0.9 0.4 -1.4 0.4 0.3 0.4 -1.1 0.4 -3.1 0.4 1.1 0.4 5.3 0.4 -0.2 0.4 -3.1 0.4 -0.6 0.4 2.7 0.4 -2 0.4 5.5 0.4 -3.7 0.4 0.8 0.4 -1.9 0.4 -2.8 0.4 -3.9 0.4 3.9 0.4 2.8 0.4 -2.5 0.4 5.6 0.4 -0.7 0.4 -0.9 0.4 -1.8 0.4 -1.4 0.4 1.7 0.4 -2.9 0.4 2.9 0.4 -4.3 0.4 2.4 0.4 0.7 0.4 0.7 0.4 0.5 0.4 -0.8 0.4 5.3 0.4 -6.7 0.4 4.1 0.4 0.6 0.4 -0.8 0.4 -1.5 0.4 -0.5 0.4 -0.8 0.4 2.7 0.4 -1.8 0.4 2.4 0.4 -4.1 0.4 3.5 0.4 -0.4 0.4 1.4 0.4 -4.2 0.4 6.4 0.4 -5.9 0.4 -0.9 0.4 3.8 0.4 4.1 0.4 -1.4 0.4 4.9 0.4 2.1 0.4 5.4 0.4 4.5 0.4 -0.4 0.4 1.1 0.4 0.4 0.4 -2 0.4 -1.3 0.4 4 0.4 -1.7 0.4 0.6 0.4 -3.5 0.4 2.9 0.4 -2.3 0.4 -5.1 0.4 1.7 0.4 8.7 0.4 -2.1 0.4 -0.2 0.4 1.1 0.4 -0.1 0.4 -2.3 0.4 0.3 0.4 0.4 0.4 1.8 0.4 -6.1 0.4 2.5 0.4 0.7 0.4 -3 0.4 -0.1 0.4 1.8 0.4 7.6 0.4 -6.4 0.4 3.4 0.4 -7.4 0.4 4.8 0.4 -7.4 0.4 4.9 0.4 -1.5 0.4 5.5 0.4 -4.4 0.4 1.1 0.4 -2.8 0.4 0.9 0.4 4 0.4 -3.4 0.4 1.3 0.4 -7 0.4 5.3 0.4 1 0.4 -0.1 0.4 -1.9 0.4 2.2 0.4 0.9 0.4 1.8 0.4 3.1 0.4 -3.2 0.4 1.1 0.4 -1.2 0.4 -4.1 0.4 0.6 0.4 -0.5 0.4 7.3 0.4 -2.3 0.4 -2.2 0.4 2.1 0.4 -3.5 0.4 1.2 0.4 1.3 0.4 -3.1 0.4 5 0.4 -4.4 0.4 -2 0.4 -1.2 0.4 3 0.4 3.4 0.4 2.5 0.4 -3.8 0.4 -1.5 0.4 -4.5 0.4 1.2 0.4 4.2 0.4 1.1 0.4 -6.1 0.4 2.5 0.4 2.9 0.4 -0.6 0.4 -5.7 0.4 5.5 0.4 -4 0.4 -1.7 0.4 -1.6 0.4 7.2 0.4 -1.4 0.4 1.1 0.4 3.5 0.4 -2.9 0.4 3 0.4 -5.8 0.4 8.3 0.4 -9.9 0.4 1.6 0.4 5.6 0.4 -0.9 0.4 -0.4 0.4 -4.6 0.4 3 0.4 -1.3 0.4 2.3 0.4 -1.4 0.4 -0.9 0.4 1.1 0.4 0.4 0.4 0.9 0.4 0.9 0.4 -5.2 0.4 1.7 0.4 0.5 0.4 -1.4 0.4 0.9 0.4 -3.2 0.4 4.8 0.4 -3.5 0.4 2.7 0.4 4.6 0.4 -2.9 0.4 -0.6 0.4 -0.3 0.4 4.1 0.4 -1 0.4 -3.7 0.4 -0.5 0.4 1.1 0.4 -3.2 0.4 5 0.4 -4.3 0.4 -3.1 0.4 5.9 0.4 1 0.4 4.5 0.4 -2.5 0.4 -2.1 0.4 6.4 0.4 -9.6 0.4 -0.8 0.4 3.5 0.4 -1.8 0.4 0.2 0.4 2.6 0.4 -1.8 0.4 2.1 0.4 0.2 0.4 -3.1 0.4 -0.2 0.4 1.6 0.4 -4.2 0.4 0 0.4 0.1 0.4 7.5 0.4 -0.9 0.4 4.5 0.4 6 0.4 1.9 0.4 1.8 0.4 1.9 0.4 1.4 0.4 -2.4 0.4 -1 0.4 -1.8 0.4 1.1 0.4 1 0.4 -0.3 0.4 2.4 0.4 2.3 0.4 0.1 0.4 0.2 0.4 -4.8 0.4 -3.7 0.4 1.5 0.4 0.6 0.4 5.5 0.4 -2.4 0.4 -3.2 0.4 0.4 0.4 6.4 0.4 -2.8 0.4 -4.2 0.4 3.9 0.4 4.1 0.4 -1.9 0.4 -0.8 0.4 -4 0.4 2.1 0.4 1.9 0.4 -4.4 0.4 2.9 0.4 2.4 0.4 -7.3 0.4 2.1 0.4 4.2 0.4 -5.5 0.4 0.1 0.4 3.5 0.4 -1.8 0.4 4.4 0.4 -3.7 0.4 -1.4 0.4 1.5 0.4 -2.1 0.4 3.8 0.4 -4.6 0.4 3.3 0.4 -1.1 0.4 0.2 0.4 -0.4 0.4 1.3 0.4 4.8 0.4 -3.6 0.4 -2.8 0.4 -2.5 0.4 1.6 0.4 2.1 0.4 3.8 0.4 -6.6 0.4 8.6 0.4 -1 0.4 0.1 0.4 -4.2 0.4 -0.8 0.4 2.3 0.4 -0.3 0.4 -2.1 0.4 4.6 0.4 -5.2 0.4 1.8 0.4 3.9 0.4 -2.1 0.4 1.7 0.4 0.1 0.4 -2.3 0.4 3.9 0.4 -3.7 0.4 0.2 0.4 1.3 0.4 -1.1 0.4 -1.9 0.4 2 0.4 -2.6 0.4 4.8 0.4 -4.2 0.4 -0.4 0.4 -1.3 0.4 4.1 0.4 -0.1 0.4 -1.4 0.4 -2.6 0.4 1.9 0.4 0.1 0.4 -3 0.4 1.4 0.4 -2.2 0.4 3 0.4 1.5 0.4 1.8 0.4 -4.9 0.4 2.1 0.4 -1.1 0.4 1.2 0.4 -2.7 0.4 -1.5 0.4 4 0.4 -3.2 0.4 6.4 0.4 -1.3 0.4 -0.5 0.4 -0.3 0.4 -2.3 0.4 -2.6 0.4 4.5 0.4 -5.9 0.4 4.4 0.4 3.3 0.4 -0.8 0.4 -1.7 0.4 4.6 0.4 -1.4 0.4 -5.1 0.4 8 0.4 -6.7 0.4 -4.1 0.4 7.1 0.4 -1.9 0.4 0.1 0.4 1.1 0.4 -1.9 0.4 1.6 0.4 -0.3 0.4 1.2 0.4 -3.5 0.4 0.8 0.4 -0.9 0.4 3.9 0.4 -1.8 0.4 -2.7 0.4 -1.1 0.4 1.1 0.4 3.2 0.4 0.1 0.4 -2.2 0.4 -1.4 0.4 0.9 0.4 -1.7 0.4 5.6 0.4 -5.7 0.4 -0.4 0.4 5 0.4 1.9 0.4 -1.3 0.4 9.9 0.4 0.7 0.4 0.8 0.4 2.1 0.4 5.6 0.4 -2.3 0.4 -2.5 0.4 9.5 0.4 -10.3 0.4 3.8 0.4 0.7 0.4 -0.8 0.4 -3.9 0.4 1.8 0.4 -1.9 0.4 -1.6 0.4 3.4 0.4 -1.7 0.4 0.2 0.4 3.4 0.4 -0.1 0.4 -1.6 0.4 -0.2 0.4 -2.3 0.4 3.1 0.4 0 0.4 -1.1 0.4 1 0.4 -5.8 0.4 4.1 0.4 4.9 0.4 0.9 0.4 -3.4 0.4 5.5 0.4 -11.9 0.4 1.9 0.4 2.5 0.4 3.6 0.4 0.5 0.4 -4.2 0.4 5.1 0.4 -11.1 0.4 6.2 0.4 -2.4 0.4 -2.8 0.4 1.7 0.4 3.9 0.4 4 0.4 -4 0.4 0.7 0.4 -1.2 0.4 5.2 0.4 -2.7 0.4 3 0.4 -3.3 0.4 -0.2 0.4 -5.1 0.4 4.5 0.4 2.7 0.4 -5.4 0.4 3.6 0.4 -0.5 0.4 -0.2 0.4 -2.7 0.4 3 0.4 -1.2 0.4 -1.6 0.4 0.1 0.4 2.2 0.4 -1.2 0.4 -1.6 0.4 1.2 0.4 1.8 0.4 2.8 0.4 -0.1 0.4 -0.9 0.4 -4.3 0.4 1.5 0.4 -0.6 0.4 3.1 0.4 -3 0.4 -1.9 0.4 2.8 0.4 -3.8 0.4 0.8 0.4 1.7 0.4 2.5 0.4 2.5 0.4 1 0.4 -2.3 0.4 -1.9 0.4 -1.1 0.4 -2.8 0.4 0.6 0.4 -1.2 0.4 6.5 0.4 -5.6 0.4 3.8 0.4 6.4 0.4 -2.9 0.4 -3.7 0.4 -3.1 0.4 2.5 0.4 -2.9 0.4 1.8 0.4 -2.9 0.4 1.1 0.4 4.4 0.4 -0.4 0.4 -3.8 0.4 -1.2 0.4 3.2 0.4 3.9 0.4 -4.4 0.4 -0.4 0.4 0.4 0.4 -1.1 0.4 -2.5 0.4 5.8 0.4 3.1 0.4 -0.8 0.4 -3.1 0.4 -0.6 0.4 -1.7 0.4 0.6 0.4 0.4 0.4 1.2 0.4 1.1 0.4 -4.8 0.4 5 0.4 -2.6 0.4 -0.7 0.4 -1 0.4 2.5 0.4 0.9 0.4 -0.9 0.4 -0.5 0.4 -0.2 0.4 5.4 0.4 -2.7 0.4 -2.3 0.4 -3.1 0.4 3 0.4 -4.7 0.4 2 0.4 -0.3 0.4 2.5 0.4 2.9 0.4 3.2 0.4 -2.6 0.4 -0.4 0.4 6 0.4 0 0.4 4.5 0.4 2.6 0.4 5 0.4 4 0.4 -1.7 0.4 -0.6 0.4 -5.7 0.4 8.8 0.4 -4.6 0.4 -2.9 0.4 5.6 0.4 -0.4 0.4 0.1 0.4 2.1 0.4 -3.7 0.4 0.9 0.4 -6.3 0.4 6 0.4 -2.5 0.4 2.5 0.4 -3.7 0.4 -0.7 0.4 1.9 0.4 -1.8 0.4 8.5 0.4 -3.9 0.4 -2.5 0.4 -0.8 0.4 2.4 0.4 -1.8 0.4 1.2 0.4 1.8 0.4 2.5 0.4 -4.1 0.4 -1 0.4 -2.2 0.4 3.2 0.4 -1.4 0.4 0.9 0.4 4.3 0.4 -1.3 0.4 3 0.4 -2.9 0.4 -2.5 0.4 -3.6 0.4 4.8 0.4 -0.8 0.4 0.3 0.4 -2.4 0.4 4 0.4 -3.6 0.4 9.4 0.4 -8.3 0.4 0.5 0.4 -0.9 0.4 -4.6 0.4 3.7 0.4 -1.7 0.4 2.1 0.4 3.2 0.4 -6.2 0.4 3.3 0.4 -1.2 0.4 4.4 0.4 -4.9 0.4 0.8 0.4 -2.9 0.4 1.1 0.4 4.9 0.4 -0.9 0.4 2.2 0.4 0.5 0.4 -5 0.4 -0.8 0.4 1.2 0.4 -0.1 0.4 2.4 0.4 -0.2 0.4 -3.1 0.4 2.6 0.4 3.9 0.4 -9.4 0.4 2.8 0.4 2.7 0.4 -2.3 0.4 3.4 0.4 -3.7 0.4 0 0.4 0.5 0.4 -2.3 0.4 2.9 0.4 -1.1 0.4 2.5 0.4 1.2 0.4 -1.4 0.4 -0.6 0.4 1.2 0.4 0.5 0.4 -0.1 0.4 1 0.4 -4.6 0.4 5.5 0.4 -5.6 0.4 -0.5 0.4 1.2 0.4 3 0.4 -0.7 0.4 1.2 0.4 -4.9 0.4 1.5 0.4 -0.3 0.4 2.3 0.4 -4.1 0.4 4.3 0.4 -0.3 0.4 -2.1 0.4 -5.1 0.4 5.2 0.4 -2.1 0.4 0.8 0.4 0.5 0.4 3.6 0.4 -0.7 0.4 -0.2 0.4 0.5 0.4 2.8 0.4 -4.7 0.4 4 0.4 0.3 0.4 -4.5 0.4 2.6 0.4 1 0.4 -1.9 0.4 1.5 0.4 -4.8 0.4 -4.6 0.4 9.4 0.4 -5 0.4 -0.4 0.4 -0.9 0.4 -0.3 0.4 4 0.4 1.2 0.4 -2.4 0.4 -1.4 0.4 3.8 0.4 -1.8 0.4 3.3 0.4 -0.1 0.4 -2.3 0.4 3.1 0.4 0.8 0.4 0.5 0.4 -0.4 0.4 2.8 0.4 -1.4 0.4 -4.8 0.4 1 0.4 2.3 0.4 2.3 0.4 4.3 0.4 1.6 0.4 4 0.4 -3.1 0.4 0 0.4 -1.1 0.4 -1.4 0.4 1.5 0.4 2.9 0.4 1.2 0.4 0.3 0.4 3.1 0.4 -6.9 0.4 3 0.4 -3.4 0.4 2.6 0.4 5.7 0.4 2.7 0.4 -6.6 0.4 -3.1 0.4 3.7 0.4 2 0.4 0.3 0.4 -1.4 0.4 -0.9 0.4 -0.7 0.4 0.9 0.4 3.8 0.4 -2.8 0.4 -0.6 0.4 1.3 0.4 -2.1 0.4 1.5 0.4 1.2 0.4 -1.4 0.4 -7.5 0.4 3.9 0.4 -1.8 0.4 6.9 0.4 -0.1 0.4 0.6 0.4 -1.6 0.4 -2.7 0.4 -1.6 0.4 1.6 0.4 -1.3 0.4 2.2 0.4 -0.7 0.4 2.5 0.4 -3 0.4 4.9 0.4 -4.1 0.4 3 0.4 0.7 0.4 -1.8 0.4 3.7 0.4 -1.3 0.4 -0.4 0.4 -2.8 0.4 -4.6 0.4 6.8 0.4 0 0.4 0 0.4 -1 0.4 -4.7 0.4 3 0.4 -0.3 0.4 5.2 0.4 -1.1 0.4 -5.1 0.4 0.9 0.4 1.1 0.4 -2 0.4 -1.4 0.4 1.6 0.4 1.1 0.4 1.8 0.4 -1.1 0.4 0.2 0.4 0.7 0.4 -0.8 0.4 -0.9 0.4 -0.3 0.4 1.9 0.4 -1.8 0.4 -2.8 0.4 4.8 0.4 -4.4 0.4 3.5 0.4 -2.6 0.4 6.4 0.4 -5.2 0.4 -3.1 0.4 -0.3 0.4 4.9 0.4 -1 0.4 -2.1 0.4 5.9 0.4 0.2 0.4 2.4 0.4 -5.7 0.4 -2.3 0.4 1.2 0.4 0.8 0.4 -4.6 0.4 5.1 0.4 -0.4 0.4 3.1 0.4 -5.2 0.4 0.2 0.4 4.2 0.4 -1 0.4 -2 0.4 -0.8 0.4 -5.6 0.4 7 0.4 2.1 0.4 -4.5 0.4 3.5 0.4 0.5 0.4 1.7 0.4 -1.2 0.4 -1.8 0.4 -2.3 0.4 7 0.4 -3.3 0.4 -1.4 0.4 0.2 0.4 -0.3 0.4 0.6 0.4 0.1 0.4 0.5 0.4 -3.9 0.4 -2.8 0.4 7.2 0.4 -1.8 0.4 1.1 0.4 -2.1 0.4 -0.5 0.4 2.5 0.4 0.3 0.4 -3.7 0.4 -2.9 0.4 1 0.4 2.9 0.4 -0.6 0.4 4.8 0.4 -2.2 0.4 -0.1 0.4 0.9 0.4 -7.3 0.4 3.3 0.4 3.5 0.4 -2.4 0.4 0.4 0.4 3.5 0.4 -4.1 0.4 1.7 0.4 3.7 0.4 1.8 0.4 -2.1 0.4 -0.8 0.4 -3.3 0.4 1.8 0.4 -3.5 0.4 4.7 0.4 -1.5 0.4 0.5 0.4 -1.7 0.4 -4.3 0.4 1.8 0.4 4.8 0.4 -3.8 0.4 4 0.4 3.2 0.4 -2.5 0.4 -5 0.4 2.7 0.4 -2.7 0.4 0.3 0.4 4.9 0.4 -3.1 0.4 -1.4 0.4 1 0.4 0.4 0.4 1.4 0.4 -0.4 0.4 3.6 0.4 -4.4 0.4 1.1 0.4 1.9 0.4 -2 0.4 -0.5 0.4 -2.6 0.4 -3.9 0.4 3 0.4 8.7 0.4 -3.5 0.4 -3 0.4 -3.8 0.4 3.9 0.4 2.8 0.4 -0.8 0.4 3.5 0.4 -3.3 0.4 -3.2 0.4 -1.9 0.4 3.9 0.4 1.1 0.4 -2 0.4 1.6 0.4 -0.2 0.4 1.6 0.4 -2.7 0.4 -0.1 0.4 2.7 0.4 -5.5 0.4 3.2 0.4 -0.1 0.4 -2 0.4 0.6 0.4 2.2 0.4 -2 0.4 -1.9 0.4 0.8 0.4 0.2 0.4 -1.6 0.4 2.2 0.4 -0.6 0.4 2.8 0.4 1.5 0.4 1.5 0.4 -4.4 0.4 -2.7 0.4 3.5 0.4 5.7 0.4 -5.9 0.4 -3 0.4 0.9 0.4 -1.7 0.4 1.2 0.4 4.2 0.4 1.9 0.4 -2.4 0.4 -3.1 0.4 -1.1 0.4 -0.7 0.4 6.3 0.4 -4.2 0.4 -1.7 0.4 -1.1 0.4 8.7 0.4 -4.2 0.4 1.2 0.4 2.7 0.4 -3.8 0.4 1 0.4 0.1 0.4 7.2 0.4 -13 0.4 1.9 0.4 2.3 0.4 0.1 0.4 -1.5 0.4 0 0.4 1.6 0.4 -2.4 0.4 -0.4 0.4 1.6 0.4 -0.5 0.4 7.4 0.4 -7.4 0.4 -0.5 0.4 -2.7 0.4 1.8 0.4 3.3 0.4 0.8 0.4 2.7 0.4 -2.2 0.4 -0.2 0.4 -6.1 0.4 -1.7 0.4 3.4 0.4 -1.6 0.4 -2.5 0.4 4.8 0.4 -3.4 0.4 -5.5 0.4 0.9 0.4 3.6 0.4 -2.4 0.4 -8.3 0.4 2.4 0.4 3 0.4 -8 0.4 1.1 0.4 -0.1 0.4 -2.5 0.4 2.4 0.4 2.9 0.4 -2 0.4 3.6 0.4 -0.9 0.4 -3.5 0.4 -0.9 0.4 4 0.4 -0.6 0.4 -0.5 0.4 1.9 0.4 1.7 0.4 -3 0.4 -1.5 0.4 -2.3 0.4 -1.2 0.4 3.1 0.4 2.2 0.4 -2.9 0.4 3.5 0.4 3.3 0.4 -7.3 0.4 4.1 0.4 -1.9 0.4 0.2 0.4 0.3 0.4 -0.3 0.4 3.5 0.4 -3.5 0.4 -3.4 0.4 -0.2 0.4 -0.3 0.4 2.8 0.4 -2.8 0.4 7.1 0.4 -1.6 0.4 -4.8 0.4 5.4 0.4 -4.3 0.4 1.4 0.4 0.4 0.4 -4.7 0.4 3.2 0.4 3 0.4 -5.5 0.4 1.7 0.4 1 0.4 4.3 0.4 -2.3 0.4 1.7 0.4 -3 0.4 -0.7 0.4 1.2 0.4 1.3 0.4 -1.3 0.4 -1 0.4 -1 0.4 -0.5 0.4 3.8 0.4 -0.3 0.4 1.3 0.4 0.5 0.4 -1.4 0.4 -2.1 0.4 1.8 0.4 -2.3 0.4 2.7 0.4 -6.3 0.4 0.3 0.4 2.6 0.4 0.6 0.4 -2.1 0.4 -2.4 0.4 5.8 0.4 5.8 0.4 -4.6 0.4 -1.1 0.4 -6.2 0.4 7.2 0.4 -0.5 0.4 0.2 0.4 -2.1 0.4 2.1 0.4 -3.5 0.4 1.7 0.4 1.2 0.4 0.3 0.4 -0.5 0.4 -0.2 0.4 -1.8 0.4 0.9 0.4 -1 0.4 -0.1 0.4 1.3 0.4 -0.7 0.4 -3.4 0.4 4.4 0.4 -1.2 0.4 4 0.4 1.3 0.4 0.3 0.4 -3.9 0.4 -2.5 0.4 4.3 0.4 -1.8 0.4 -0.2 0.4 1.2 0.4 -3.3 0.4 -0.2 0.4 4.9 0.4 -0.3 0.4 1.1 0.4 -4.7 0.4 1.5 0.4 -3.2 0.4 3.5 0.4 3.1 0.4 -3.5 0.4 -0.5 0.4 -1.5 0.4 2.5 0.4 -2.5 0.4 2.4 0.4 -3 0.4 -1.4 0.4 5.4 0.4 4.1 0.4 -6.4 0.4 -2.4 0.4 7.4 0.4 -2.5 0.4 -2.6 0.4 -0.5 0.4 0.3 0.4 3.1 0.4 0.8 0.4 -2.3 0.4 0.6 0.4 -4.4 0.4 1.9 0.4 -7.6 0.4 -3.2 0.4 -0.8 0.4 -5 0.4 -2.1 0.4 0.3 0.4 0.9 0.4 3.9 0.4 -8.7 0.4 6.3 0.4 4.3 0.4 -8.9 0.4 5.7 0.4 -7.5 0.4 6.9 0.4 0.6 0.4 -1.7 0.4 1.3 0.4 0.9 0.4 1.6 0.4 -4.4 0.4 -2.1 0.4 -0.8 0.4 11.8 0.4 -7.5 0.4 5.2 0.4 -4.2 0.4 5 0.4 -5.9 0.4 0.7 0.4 -1.7 0.4 1.3 0.4 -2.3 0.4 -2.1 0.4 1.1 0.4 3 0.4 4.6 0.4 -0.6 0.4 -3.9 0.4 -2.4 0.4 -1 0.4 2.9 0.4 2.9 0.4 -2.6 0.4 -1.2 0.4 1.7 0.4 0.3 0.4 3.5 0.4 -8.2 0.4 3.9 0.4 -2 0.4 3.7 0.4 -0.8 0.4 -3.9 0.4 2.8 0.4 -2.1 0.4 2.8 0.4 -5.5 0.4 3 0.4 2 0.4 1.7 0.4 -5.2 0.4 5.1 0.4 -2.8 0.4 1.2 0.4 0.3 0.4 -0.3 0.4 -0.1 0.4 -0.8 0.4 1.8 0.4 -2.9 0.4 3.2 0.4 -1 0.4 -1.3 0.4 3.7 0.4 0.3 0.4 -3 0.4 3.5 0.4 -3 0.4 0 0.4 -2.5 0.4 -2.8 0.4 5.7 0.4 -0.4 0.4 -1.9 0.4 4.2 0.4 -6.6 0.4 2.2 0.4 -4.9 0.4 6.1 0.4 0.8 0.4 -3.4 0.4 -0.3 0.4 3.4 0.4 1.8 0.4 -0.1 0.4 -2.2 0.4 1.9 0.4 -2.2 0.4 1.5 0.4 -0.1 0.4 -3.1 0.4 4.7 0.4 -3.7 0.4 -0.3 0.4 3.6 0.4 -2.5 0.4 -4 0.4 0.8 0.4 5.6 0.4 0.3 0.4 -5.3 0.4 4.7 0.4 1.4 0.4 -6.7 0.4 4.5 0.4 0.4 0.4 -0.4 0.4 1.1 0.4 -3.5 0.4 -4 0.4 5.9 0.4 -0.7 0.4 1.6 0.4 3.1 0.4 2.9 0.4 -8.2 0.4 4.5 0.4 -5.5 0.4 4.9 0.4 -6.7 0.4 0.7 0.4 -1.6 0.4 4.5 0.4 -1.4 0.4 2.3 0.4 1.3 0.4 0.3 0.4 -0.1 0.4 -3.1 0.4 -0.2 0.4 1 0.4 1.8 0.4 -2.2 0.4 2.4 0.4 0.5 0.4 4.8 0.4 -6 0.4 -1.5 0.4 -2.4 0.4 -1.2 0.4 -1.2 0.4 -8.6 0.4 2 0.4 -7.5 0.4 5.5 0.4 -6.1 0.4 1.5 0.4 -0.5 0.4 3.8 0.4 -5.6 0.4 3 0.4 -3.2 0.4 0.4 0.4 -3.3 0.4 3.9 0.4 -2.8 0.4 1.4 0.4 -1.8 0.4 3.6 0.4 -1.1 0.4 -1.1 0.4 3.2 0.4 0 0.4 -1.6 0.4 6.6 0.4 -6 0.4 3.6 0.4 -6 0.4 3.3 0.4 -0.5 0.4 -1.1 0.4 1.6 0.4 -2.1 0.4 0.6 0.4 5.1 0.4 -2.4 0.4 4.3 0.4 -1.3 0.4 -3.2 0.4 -2.1 0.4 -4.5 0.4 5 0.4 0.1 0.4 1.4 0.4 -1.8 0.4 4.1 0.4 -3.6 0.4 3.2 0.4 0.7 0.4 -2.3 0.4 -2 0.4 -1.5 0.4 -1.1 0.4 4.9 0.4 -1 0.4 0.9 0.4 0.8 0.4 -0.7 0.4 -0.1 0.4 -2.3 0.4 4.6 0.4 -4.3 0.4 1.1 0.4 -1.9 0.4 -4.5 0.4 7.1 0.4 -2.8 0.4 2.5 0.4 -2.6 0.4 0.3 0.4 1.5 0.4 8.3 0.4 -1.5 0.4 -1.8 0.4 -4.7 0.4 4.1 0.4 -4.5 0.4 1.7 0.4 1.8 0.4 0.1 0.4 -7.1 0.4 3.4 0.4 -2.4 0.4 -7 0.4 8.6 0.4 5.1 0.4 -4.6 0.4 4.2 0.4 -2.4 0.4 0.8 0.4 -1.4 0.4 1.8 0.4 -5 0.4 2.6 0.4 1.6 0.4 1.8 0.4 -2.5 0.4 1.3 0.4 -1 0.4 -3.5 0.4 0.8 0.4 0.7 0.4 -0.4 0.4 3.1 0.4 -1.7 0.4 -1.2 0.4 3.5 0.4 0.4 0.4 -8.4 0.4 9.6 0.4 -5.1 0.4 -0.6 0.4 0.8 0.4 0.3 0.4 1.6 0.4 2.8 0.4 1.2 0.4 -3.1 0.4 -1.3 0.4 -1.1 0.4 -7 0.4 7.6 0.4 -0.5 0.4 -3 0.4 3.7 0.4 2.8 0.4 0.6 0.4 -0.5 0.4 -1.3 0.4 1.1 0.4 -1.8 0.4 0.8 0.4 -1 0.4 -0.9 0.4 1.2 0.4 -6.7 0.4 4.4 0.4 3.6 0.4 -3.8 0.4 -1.3 0.4 1.8 0.4 4.7 0.4 -7.4 0.4 6.1 0.4 -3 0.4 -1.5 0.4 -1.6 0.4 -1 0.4 -4.8 0.4 4.7 0.4 -5 0.4 -8.8 0.4 -0.7 0.4 -1.8 0.4 0.7 0.4 -3.4 0.4 3.7 0.4 1.2 0.4 -3.1 0.4 -2.7 0.4 1.4 0.4 1.8 0.4 -0.3 0.4 -3.2 0.4 1.7 0.4 4.1 0.4 -0.1 0.4 -4.4 0.4 -2.3 0.4 8.4 0.4 -6.8 0.4 7 0.4 -0.5 0.4 -2.1 0.4 -4.4 0.4 5.6 0.4 0 0.4 -0.2 0.4 -3.6 0.4 2.2 0.4 2.6 0.4 -0.2 0.4 -0.8 0.4 -1.9 0.4 1.6 0.4 -4.1 0.4 2.3 0.4 -1.3 0.4 4.9 0.4 -2.6 0.4 1.1 0.4 -3.4 0.4 1.6 0.4 -0.1 0.4 -0.9 0.4 1.6 0.4 1.4 0.4 -3.7 0.4 2.4 0.4 0.7 0.4 1.3 0.4 -8.1 0.4 3 0.4 2.2 0.4 -1.5 0.4 0.8 0.4 2.6 0.4 -5.5 0.4 6.5 0.4 0.5 0.4 -7.2 0.4 2.2 0.4 5.3 0.4 -3.6 0.4 -2.3 0.4 -1.1 0.4 4.2 0.4 -3.2 0.4 2.5 0.4 -3.4 0.4 2.9 0.4 3.2 0.4 -1.7 0.4 -0.5 0.4 1.2 0.4 -2.3 0.4 3.4 0.4 -3.7 0.4 0.1 0.4 0.5 0.4 1.5 0.4 -0.2 0.4 -0.1 0.4 1.1 0.4 -2.3 0.4 0.3 0.4 -1.8 0.4 -2.9 0.4 6.7 0.4 0 0.4 -3.5 0.4 -0.6 0.4 0.6 0.4 -5.3 0.4 6.1 0.4 -0.6 0.4 2.8 0.4 0.6 0.4 -0.5 0.4 -2.2 0.4 1.3 0.4 -3.8 0.4 2.2 0.4 -0.6 0.4 0 0.4 -0.7 0.4 4.5 0.4 -2.1 0.4 -0.5 0.4 -1 0.4 -4.3 0.4 3.4 0.4 1.9 0.4 1.1 0.4 -2.7 0.4 2 0.4 -2.3 0.4 0.3 0.4 4.2 0.4 -1.8 0.4 0 0.4 -2.5 0.4 2.7 0.4 -2.8 0.4 0.6 0.4 -0.3 0.4 1.4 0.4 -3.2 0.4 1.5 0.4 1.5 0.4 3.7 0.4 -2.8 0.4 3.1 0.4 -2 0.4 -0.9 0.4 0.2 0.4 0.7 0.4 3.7 0.4 -3.9 0.4 0.1 0.4 -6.6 0.4 1.8 0.4 3.8 0.4 -0.6 0.4 4.2 0.4 -7.3 0.4 5.5 0.4 -8 0.4 -3.9 0.4 0.6 0.4 -4.7 0.4 0 0.4 -2.3 0.4 -3.4 0.4 4.1 0.4 -2.1 0.4 0 0.4 -1.2 0.4 1.4 0.4 -0.5 0.4 -6.4 0.4 6.2 0.4 -2.9 0.4 8.4 0.4 -5.9 0.4 1 0.4 -2 0.4 0.9 0.4 2.5 0.4 -0.1 0.4 -4 0.4 -1.7 0.4 2.9 0.4 -0.1 0.4 -1 0.4 1 0.4 1 0.4 -0.5 0.4 -0.8 0.4 3.4 0.4 -1.5 0.4 0.3 0.4 -3 0.4 3.4 0.4 -1.9 0.4 1.9 0.4 -0.3 0.4 2.6 0.4 -2.8 0.4 -2.6 0.4 -0.8 0.4 2 0.4 2.2 0.4 -5.1 0.4 3.3 0.4 -0.3 0.4 -1.9 0.4 -0.1 0.4 0.8 0.4 0.5 0.4 0.8 0.4 -1.6 0.4 2.7 0.4 -1.5 0.4 2.3 0.4 -2.3 0.4 -2 0.4 -1.4 0.4 3.3 0.4 -0.2 0.4 -1.5 0.4 0.4 0.4 2.3 0.4 1.2 0.4 -2.1 0.4 -3.8 0.4 0.3 0.4 1.6 0.4 -2.2 0.4 5 0.4 0.8 0.4 2 0.4 0.6 0.4 -2.1 0.4 -0.3 0.4 -5.1 0.4 5.2 0.4 -1.9 0.4 1.2 0.4 0.7 0.4 1.5 0.4 -8.6 0.4 6.1 0.4 -5.2 0.4 4.3 0.4 -0.2 0.4 -4 0.4 0.1 0.4 -2.2 0.4 3.2 0.4 1.5 0.4 -1.2 0.4 4.7 0.4 0.9 0.4 -2.1 0.4 1.3 0.4 -0.5 0.4 0.3 0.4 2.1 0.4 -6.5 0.4 4.7 0.4 -2.5 0.4 3.2 0.4 -0.1 0.4 -4.5 0.4 1.8 0.4 -0.2 0.4 2.6 0.4 -2.7 0.4 -0.2 0.4 -0.2 0.4 -5 0.4 2.2 0.4 4.9 0.4 -3 0.4 0.5 0.4 0.6 0.4 1.6 0.4 -0.7 0.4 -4.1 0.4 -0.5 0.4 1.7 0.4 -1.1 0.4 -2.1 0.4 2.1 0.4 0.3 0.4 1.5 0.4 -4.4 0.4 5.4 0.4 -3.1 0.4 1 0.4 8.5 0.4 -3.9 0.4 1.1 0.4 -2.1 0.4 0.4 0.4 -3.3 0.4 4.3 0.4 -4.6 0.4 5.2 0.4 -3.2 0.4 0.4" fill="none" stroke="#000000" stroke-width="1.7" stroke-linejoin="round"/>
<path d="M64.4 534.5l0.4 -4.9 0.4 3.5 0.4 -0.3 0.4 4.7 0.4 -3.1 0.4 -0.5 0.4 -0.2 0.4 -1.3 0.4 -1.1 0.4 2 0.4 -0.9 0.4 -0.3 0.4 1.7 0.4 0.8 0.4 -3.6 0.4 9 0.4 -5.4 0.4 -2.2 0.4 2.5 0.4 -4.3 0.4 4.4 0.4 -1.4 0.4 2.1 0.4 -5.4 0.4 4.1 0.4 -4.9 0.4 -0.3 0.4 1.5 0.4 0.2 0.4 0.7 0.4 0 0.4 -4.6 0.4 3.8 0.4 0.9 0.4 0.3 0.4 1.2 0.4 -2.2 0.4 2.4 0.4 -3.6 0.4 3.3 0.4 -1.5 0.4 0.9 0.4 4 0.4 0.1 0.4 -1.9 0.4 -0.2 0.4 -4.5 0.4 0.5 0.4 5 0.4 -6.4 0.4 4 0.4 -6.2 0.4 6.9 0.4 -4.9 0.4 7 0.4 -1.2 0.4 -1.1 0.4 -7.5 0.4 3.7 0.4 2.7 0.4 -6.5 0.4 3.1 0.4 0.4 0.4 1.6 0.4 -0.6 0.4 -1.3 0.4 -2.8 0.4 -0.3 0.4 1.2 0.4 0.1 0.4 0 0.4 -2.3 0.4 4.7 0.4 -0.4 0.4 -1.2 0.4 -0.3 0.4 -2.4 0.4 -3.1 0.4 1.8 0.4 -1.3 0.4 -0.1 0.4 2 0.4 -4.1 0.4 4.6 0.4 -2.7 0.4 -0.1 0.4 1.2 0.4 -0.8 0.4 1.5 0.4 -0.1 0.4 4.6 0.4 -4.2 0.4 1.1 0.4 2.6 0.4 -1.9 0.4 1.6 0.4 7 0.4 -1.3 0.4 8.8 0.4 -0.1 0.4 -0.1 0.4 -1 0.4 2.5 0.4 1.8 0.4 -3.5 0.4 -1 0.4 -4 0.4 0.6 0.4 1.3 0.4 1.8 0.4 -0.2 0.4 -1.3 0.4 4.4 0.4 -6.5 0.4 -0.2 0.4 3.3 0.4 2 0.4 0.1 0.4 0.4 0.4 -4.2 0.4 0.8 0.4 0 0.4 -0.1 0.4 1.7 0.4 0.2 0.4 -1.2 0.4 -1.9 0.4 3.7 0.4 -3 0.4 0.3 0.4 -0.6 0.4 -0.2 0.4 0.8 0.4 -2.1 0.4 -1.4 0.4 3.1 0.4 2.1 0.4 -3 0.4 1.7 0.4 -1.8 0.4 0.8 0.4 -0.8 0.4 1 0.4 1 0.4 -2.2 0.4 -1.1 0.4 0.5 0.4 2.6 0.4 -2 0.4 2.8 0.4 -2.9 0.4 -0.4 0.4 -1.6 0.4 2.9 0.4 1 0.4 -6.3 0.4 1.9 0.4 6 0.4 -6.1 0.4 -0.2 0.4 5.1 0.4 -4.4 0.4 1.1 0.4 -1.6 0.4 1 0.4 0.6 0.4 1.3 0.4 -1.3 0.4 1.5 0.4 -0.3 0.4 -1.7 0.4 -0.5 0.4 -1.1 0.4 1.4 0.4 0.1 0.4 1.6 0.4 0.1 0.4 0.7 0.4 -1.1 0.4 -1.5 0.4 2.4 0.4 -1.6 0.4 -1.4 0.4 2.4 0.4 4.2 0.4 -2.5 0.4 -1 0.4 -5.2 0.4 2.2 0.4 -2 0.4 2.7 0.4 -4.5 0.4 3.4 0.4 2 0.4 -2.4 0.4 3 0.4 -3.1 0.4 -3.8 0.4 2.1 0.4 -2.6 0.4 2.5 0.4 2.2 0.4 -1.7 0.4 2.7 0.4 -0.3 0.4 0.8 0.4 -2.9 0.4 3.7 0.4 -6 0.4 3.8 0.4 -1.2 0.4 -2.6 0.4 3 0.4 -0.8 0.4 3.7 0.4 -0.2 0.4 -4.3 0.4 -2.9 0.4 5.3 0.4 -0.8 0.4 0.2 0.4 1 0.4 0.3 0.4 -3.8 0.4 2.6 0.4 -1.2 0.4 -2.4 0.4 2.9 0.4 -1.2 0.4 2.6 0.4 -1.5 0.4 -3.6 0.4 -1.5 0.4 3.8 0.4 -0.3 0.4 -1.4 0.4 -0.3 0.4 2.1 0.4 -3.3 0.4 0.4 0.4 1.2 0.4 0.8 0.4 -1 0.4 -2.6 0.4 1.2 0.4 3.7 0.4 -5.2 0.4 7.4 0.4 -4.1 0.4 -0.3 0.4 4 0.4 -5.2 0.4 1.2 0.4 -1 0.4 3.5 0.4 3.5 0.4 -2.2 0.4 3.3 0.4 -0.5 0.4 -2.8 0.4 8.2 0.4 -5 0.4 0 0.4 -0.3 0.4 -0.9 0.4 4.5 0.4 -7.4 0.4 2.8 0.4 -1.7 0.4 1.5 0.4 2.4 0.4 -3.5 0.4 0.6 0.4 -1.4 0.4 2.7 0.4 3.5 0.4 -1.9 0.4 3 0.4 -3.4 0.4 1.5 0.4 -1.3 0.4 -2.9 0.4 0.2 0.4 2.5 0.4 -0.7 0.4 -0.4 0.4 -3.3 0.4 5.7 0.4 -2.6 0.4 0.6 0.4 -0.1 0.4 -1.6 0.4 0.3 0.4 0.8 0.4 0.7 0.4 -0.2 0.4 0.1 0.4 -2.7 0.4 1.3 0.4 2.2 0.4 -4.4 0.4 4.9 0.4 -0.6 0.4 -0.5 0.4 -1.5 0.4 -0.6 0.4 -0.6 0.4 2.3 0.4 -3.8 0.4 5 0.4 1.5 0.4 -4 0.4 4.6 0.4 -0.3 0.4 -4.9 0.4 -0.3 0.4 -2.3 0.4 -1.4 0.4 2.9 0.4 0.1 0.4 2.1 0.4 2.8 0.4 -0.7 0.4 -0.9 0.4 -1.7 0.4 5 0.4 -4.8 0.4 3.8 0.4 -2.4 0.4 -1.6 0.4 -0.1 0.4 1 0.4 -6.3 0.4 5.5 0.4 1.1 0.4 1.3 0.4 0.2 0.4 -4.4 0.4 1.8 0.4 0.4 0.4 -2 0.4 1.7 0.4 4.1 0.4 -4.5 0.4 -0.5 0.4 -2.7 0.4 3.1 0.4 -3.7 0.4 4 0.4 -4.1 0.4 3.3 0.4 -2.7 0.4 3 0.4 0.1 0.4 -0.1 0.4 -0.2 0.4 -1.8 0.4 0.6 0.4 3.7 0.4 -5.3 0.4 0.9 0.4 -1.1 0.4 0 0.4 3.4 0.4 -3.1 0.4 -0.1 0.4 2.6 0.4 0.7 0.4 0.1 0.4 1.2 0.4 -4.1 0.4 1.2 0.4 -2.1 0.4 0.2 0.4 2.2 0.4 -5.7 0.4 5.9 0.4 -2.3 0.4 3.2 0.4 -4.4 0.4 0.2 0.4 -0.9 0.4 3.2 0.4 2.1 0.4 -2.8 0.4 -3.6 0.4 -0.2 0.4 1.9 0.4 -0.1 0.4 3 0.4 -3.6 0.4 3.7 0.4 -2.3 0.4 -2.9 0.4 3.9 0.4 -0.1 0.4 -3.5 0.4 3.3 0.4 1.6 0.4 -2.4 0.4 -1.5 0.4 2.7 0.4 2 0.4 -2.1 0.4 -0.2 0.4 -3.1 0.4 2 0.4 0.1 0.4 0.5 0.4 0.5 0.4 0.8 0.4 -0.8 0.4 2.6 0.4 6.1 0.4 -0.4 0.4 1.3 0.4 9 0.4 0.8 0.4 -3.3 0.4 1 0.4 0.1 0.4 2.6 0.4 -0.7 0.4 -1 0.4 -0.6 0.4 -3.8 0.4 0.4 0.4 4.7 0.4 -4.4 0.4 -1.6 0.4 5.6 0.4 -2.7 0.4 4.3 0.4 -2.9 0.4 -2.5 0.4 -0.5 0.4 -0.6 0.4 3.9 0.4 -4.3 0.4 2.5 0.4 -5.4 0.4 4.7 0.4 -6.9 0.4 6.2 0.4 5.4 0.4 -2.3 0.4 -2.1 0.4 0.2 0.4 -2.4 0.4 1 0.4 -1.6 0.4 -1.3 0.4 0.7 0.4 0.1 0.4 5.4 0.4 -4.1 0.4 0.8 0.4 -1.7 0.4 0.4 0.4 4.9 0.4 -6.9 0.4 1 0.4 -2.7 0.4 1.9 0.4 2.1 0.4 2 0.4 -3.5 0.4 0.9 0.4 1 0.4 -1.5 0.4 1.3 0.4 -1.6 0.4 -1.4 0.4 0.2 0.4 0.9 0.4 -1.4 0.4 3.4 0.4 -3.8 0.4 4.7 0.4 -1.5 0.4 2.5 0.4 -5 0.4 2.4 0.4 -3.3 0.4 4 0.4 -1.5 0.4 1.4 0.4 -3 0.4 -2.8 0.4 1.7 0.4 -1.7 0.4 -2.3 0.4 4.1 0.4 -0.4 0.4 2.8 0.4 -3.2 0.4 -0.4 0.4 2.9 0.4 -2.1 0.4 -4.1 0.4 2.6 0.4 -0.7 0.4 4.7 0.4 -7.2 0.4 1.7 0.4 -4.6 0.4 4.3 0.4 4.5 0.4 -0.8 0.4 -2.9 0.4 0.8 0.4 -0.3 0.4 -0.8 0.4 3.4 0.4 0.1 0.4 -3.2 0.4 1.3 0.4 -2.6 0.4 -3.1 0.4 8 0.4 -4.7 0.4 2.7 0.4 -1.6 0.4 0.4 0.4 1.3 0.4 0.2 0.4 -2.2 0.4 -1 0.4 0.5 0.4 2.3 0.4 -3 0.4 2.7 0.4 -4.2 0.4 0.4 0.4 1.4 0.4 -2.1 0.4 1.5 0.4 -3.6 0.4 -0.4 0.4 1.7 0.4 5.5 0.4 -3.1 0.4 -2.8 0.4 -1.4 0.4 -1.6 0.4 1.9 0.4 1.8 0.4 -0.3 0.4 -3.3 0.4 3 0.4 -0.1 0.4 -0.2 0.4 -1.3 0.4 -1.4 0.4 1.8 0.4 2.6 0.4 -5.4 0.4 3.4 0.4 -2.7 0.4 1.9 0.4 0.2 0.4 1.9 0.4 -3 0.4 1.1 0.4 1 0.4 2.9 0.4 7.9 0.4 3 0.4 5.9 0.4 0.3 0.4 4.2 0.4 -0.8 0.4 -3.8 0.4 1.3 0.4 2.5 0.4 -1.2 0.4 -5.7 0.4 4 0.4 2.9 0.4 -4.8 0.4 -4.9 0.4 5.8 0.4 -1.9 0.4 0.4 0.4 3.4 0.4 -3.6 0.4 0.9 0.4 -0.8 0.4 -2 0.4 0.5 0.4 1.6 0.4 2.3 0.4 -0.4 0.4 2 0.4 -6.4 0.4 1.7 0.4 2.1 0.4 0.4 0.4 0 0.4 -2.6 0.4 1.2 0.4 3.3 0.4 0.9 0.4 0.9 0.4 -5.7 0.4 1.9 0.4 -1.8 0.4 -1.3 0.4 1.5 0.4 -1.2 0.4 -0.4 0.4 0.1 0.4 -1.9 0.4 -0.8 0.4 -0.2 0.4 0.7 0.4 -2 0.4 1.2 0.4 1.2 0.4 1.8 0.4 -1.4 0.4 2.5 0.4 -3 0.4 0.5 0.4 4.4 0.4 -3.9 0.4 4.1 0.4 -2.1 0.4 -3.1 0.4 2.3 0.4 -5.6 0.4 3.8 0.4 -2.6 0.4 0 0.4 4.6 0.4 -3.8 0.4 1.7 0.4 0.9 0.4 -2.8 0.4 1.2 0.4 -1.4 0.4 -3.4 0.4 0.9 0.4 2 0.4 4.9 0.4 -0.7 0.4 -4.3 0.4 -0.2 0.4 0.5 0.4 5.2 0.4 -4 0.4 0.7 0.4 -1.1 0.4 -0.8 0.4 -1.8 0.4 5.5 0.4 -3.8 0.4 3.9 0.4 -0.2 0.4 -3.4 0.4 0.3 0.4 -0.5 0.4 -1.5 0.4 -0.6 0.4 1.4 0.4 1.1 0.4 -1.2 0.4 1.9 0.4 -2.5 0.4 3.8 0.4 -0.4 0.4 -1.1 0.4 0.7 0.4 -1.7 0.4 -2.7 0.4 3.4 0.4 -0.1 0.4 0.1 0.4 -5 0.4 5.3 0.4 0.1 0.4 3.4 0.4 -7.3 0.4 3.8 0.4 -1.2 0.4 1.1 0.4 -4.5 0.4 0.4 0.4 0.5 0.4 4.7 0.4 2.4 0.4 -2.9 0.4 -1.4 0.4 0.2 0.4 0.5 0.4 -4.3 0.4 2.8 0.4 1 0.4 -2.2 0.4 -1 0.4 2.3 0.4 0.6 0.4 -3 0.4 -1.9 0.4 4.2 0.4 4.4 0.4 1.2 0.4 -3.3 0.4 -2.2 0.4 1.5 0.4 -1.5 0.4 -0.5 0.4 3.6 0.4 -4.9 0.4 3.2 0.4 -1.2 0.4 -6.1 0.4 6.3 0.4 -3.8 0.4 0.7 0.4 3.8 0.4 1.3 0.4 2.5 0.4 1.8 0.4 -1.2 0.4 1.5 0.4 1.3 0.4 -1.6 0.4 -1 0.4 8.9 0.4 0.3 0.4 4.6 0.4 -0.8 0.4 -4.2 0.4 -1 0.4 0.9 0.4 3.4 0.4 -6.8 0.4 4.4 0.4 -1.9 0.4 1.4 0.4 1.3 0.4 -3.8 0.4 4.4 0.4 0.2 0.4 -4.4 0.4 6.8 0.4 -3.4 0.4 -1.5 0.4 3.6 0.4 -2.3 0.4 -1 0.4 -2.5 0.4 0.3 0.4 4.6 0.4 -1 0.4 -1.7 0.4 2.1 0.4 -4.2 0.4 2.3 0.4 1 0.4 -4.4 0.4 0.2 0.4 1.8 0.4 0.4 0.4 0.3 0.4 1.4 0.4 0.7 0.4 0.4 0.4 2.3 0.4 -4.8 0.4 -0.4 0.4 1.3 0.4 3 0.4 -1.1 0.4 -1.1 0.4 3.1 0.4 -1.9 0.4 -4.9 0.4 4 0.4 0.9 0.4 -3.4 0.4 -1.5 0.4 4.5 0.4 -2.1 0.4 3.4 0.4 -1.6 0.4 -3 0.4 3.1 0.4 -4.8 0.4 2.6 0.4 -2.6 0.4 4 0.4 -2.7 0.4 5.5 0.4 -0.9 0.4 -0.8 0.4 -0.8 0.4 -2.9 0.4 1.1 0.4 -3.5 0.4 0.9 0.4 2.9 0.4 -5.7 0.4 7.6 0.4 1.6 0.4 -5.6 0.4 6.7 0.4 -2.2 0.4 0 0.4 0.1 0.4 -1.8 0.4 -0.9 0.4 3.1 0.4 -3.3 0.4 -0.8 0.4 -1.4 0.4 2.1 0.4 -0.9 0.4 -1.8 0.4 1.8 0.4 1 0.4 3.5 0.4 -0.3 0.4 -4.5 0.4 0.9 0.4 -2.3 0.4 -0.9 0.4 4.2 0.4 0.3 0.4 -1.8 0.4 0.5 0.4 -1.4 0.4 2.1 0.4 -0.8 0.4 -4.6 0.4 5.3 0.4 -3.4 0.4 1.6 0.4 -2.7 0.4 0.7 0.4 -1.5 0.4 6.6 0.4 -1 0.4 -0.3 0.4 -4 0.4 4.7 0.4 -2.7 0.4 -5 0.4 7.7 0.4 -1.9 0.4 -1.5 0.4 3.1 0.4 -5.3 0.4 5.2 0.4 -2.3 0.4 1.2 0.4 -1.4 0.4 -2.5 0.4 2.5 0.4 -1.3 0.4 -0.6 0.4 0.7 0.4 1.5 0.4 0 0.4 -0.8 0.4 2.1 0.4 -2.4 0.4 3.5 0.4 -0.9 0.4 -1.4 0.4 2.1 0.4 -3.9 0.4 0.8 0.4 0.8 0.4 -1.5 0.4 -2.5 0.4 1.2 0.4 2.6 0.4 -2 0.4 1.7 0.4 0.7 0.4 1.3 0.4 1.2 0.4 -2.4 0.4 0.3 0.4 1.2 0.4 1.3 0.4 3 0.4 -6.5 0.4 2.7 0.4 -2.8 0.4 1.3 0.4 3.7 0.4 -3.3 0.4 2.1 0.4 0.3 0.4 -1.3 0.4 -1.9 0.4 0.3 0.4 2.9 0.4 -1.3 0.4 3.2 0.4 1.7 0.4 -8.4 0.4 2 0.4 -2.8 0.4 2.6 0.4 0.9 0.4 2.4 0.4 -1.9 0.4 1.9 0.4 -1 0.4 -2.6 0.4 1.6 0.4 0.3 0.4 2 0.4 -4.8 0.4 1.4 0.4 0.5 0.4 3.9 0.4 -2.9 0.4 0.1 0.4 3.1 0.4 -1.1 0.4 -1 0.4 0.2 0.4 -0.5 0.4 -1.5 0.4 4.4 0.4 -5.8 0.4 0.6 0.4 3.6 0.4 -2.6 0.4 2.2 0.4 -3.9 0.4 1.3 0.4 2.7 0.4 1.4 0.4 0.2 0.4 -5.8 0.4 2.2 0.4 1.7 0.4 0.5 0.4 -1.2 0.4 -0.4 0.4 1.4 0.4 3.3 0.4 -1.5 0.4 -1.5 0.4 2.8 0.4 -5.1 0.4 3.3 0.4 1.3 0.4 -2.4 0.4 -1.2 0.4 5.2 0.4 -3 0.4 2.2 0.4 -2.1 0.4 0.4 0.4 -0.7 0.4 0.2 0.4 -5.5 0.4 9.2 0.4 -1.3 0.4 -1.3 0.4 2.2 0.4 -1.9 0.4 2.2 0.4 -3.8 0.4 3.5 0.4 0.4 0.4 -1 0.4 0.7 0.4 -3.9 0.4 0.9 0.4 3.4 0.4 -0.9 0.4 -3.8 0.4 2.9 0.4 0.3 0.4 -1.6 0.4 2 0.4 -2.4 0.4 2.5 0.4 0.7 0.4 -3.6 0.4 1 0.4 2.5 0.4 -5.9 0.4 4.3 0.4 2.2 0.4 -3.3 0.4 -0.1 0.4 -0.1 0.4 2.3 0.4 -8.6 0.4 5.9 0.4 2.9 0.4 -0.2 0.4 -1.8 0.4 0.7 0.4 1.4 0.4 -3.2 0.4 2 0.4 3.2 0.4 -4.1 0.4 -0.2 0.4 0.1 0.4 0.7 0.4 1.5 0.4 -3.7 0.4 3.6 0.4 -1.7 0.4 -4.9 0.4 -7 0.4 0.1 0.4 -4.6 0.4 2.5 0.4 0.8 0.4 -2.2 0.4 2.1 0.4 -1 0.4 -6.3 0.4 -0.1 0.4 6.5 0.4 -1.4 0.4 -0.2 0.4 -2.8 0.4 1.3 0.4 -1.6 0.4 4 0.4 -2.5 0.4 0.7 0.4 1.6 0.4 -4.4 0.4 2.8 0.4 0.2 0.4 1 0.4 1.8 0.4 -1 0.4 -0.5 0.4 2.2 0.4 -1.9 0.4 0.2 0.4 -3.4 0.4 1.8 0.4 2.3 0.4 1.3 0.4 -3.1 0.4 1.7 0.4 -0.6 0.4 -2.5 0.4 2.4 0.4 0.4 0.4 -2.2 0.4 1.7 0.4 1 0.4 -0.7 0.4 -2.1 0.4 0.8 0.4 -3.3 0.4 4.9 0.4 -0.1 0.4 -2.6 0.4 -1.1 0.4 -0.2 0.4 3.6 0.4 -0.3 0.4 0.6 0.4 -4.5 0.4 2 0.4 -0.1 0.4 3.8 0.4 -2.2 0.4 2.1 0.4 -2 0.4 0.4 0.4 0.5 0.4 6 0.4 -4.4 0.4 0.6 0.4 -0.4 0.4 2.5 0.4 -0.2 0.4 -6.2 0.4 1.4 0.4 1.9 0.4 -1.5 0.4 1.1 0.4 1.6 0.4 -0.7 0.4 -3.3 0.4 3.7 0.4 3.1 0.4 -4.9 0.4 4.1 0.4 -4.3 0.4 -0.4 0.4 2.5 0.4 -3.8 0.4 4.9 0.4 -3.9 0.4 -0.8 0.4 2.6 0.4 0.3 0.4 -0.5 0.4 -0.8 0.4 -1.7 0.4 2.7 0.4 0.5 0.4 -2 0.4 3.6 0.4 -2.1 0.4 1.4 0.4 -3 0.4 0.3 0.4 2.9 0.4 0.6 0.4 0 0.4 1.9 0.4 -0.4 0.4 -2.9 0.4 -4.4 0.4 -0.2 0.4 4.3 0.4 0.5 0.4 0.1 0.4 0.2 0.4 0.8 0.4 0.5 0.4 -0.3 0.4 -1.9 0.4 -1.8 0.4 3.4 0.4 -0.1 0.4 5 0.4 -4.6 0.4 -4.6 0.4 4.8 0.4 -1.7 0.4 1.5 0.4 0.2 0.4 -1.4 0.4 0.2 0.4 2.1 0.4 2.6 0.4 -1.3 0.4 1.1 0.4 -0.2 0.4 -4.7 0.4 1.3 0.4 -0.8 0.4 2.8 0.4 0.3 0.4 -2.2 0.4 -0.1 0.4 -4.7 0.4 5.4 0.4 -0.6 0.4 2.6 0.4 -2.5 0.4 -0.5 0.4 -1 0.4 -5.1 0.4 -2.3 0.4 -6.6 0.4 -1 0.4 -3.4 0.4 -0.7 0.4 1.4 0.4 -3.2 0.4 3.2 0.4 0.7 0.4 0.8 0.4 -3.5 0.4 2.3 0.4 -0.7 0.4 2.2 0.4 -0.1 0.4 -0.8 0.4 -0.3 0.4 -1.2 0.4 -1.7 0.4 2.4 0.4 -0.3 0.4 0.6 0.4 3.2 0.4 -3 0.4 3.2 0.4 -0.9 0.4 1.7 0.4 -4.1 0.4 1.6 0.4 2.2 0.4 -0.3 0.4 -4.5 0.4 4.1 0.4 -2.7 0.4 -3.2 0.4 3.3 0.4 -1 0.4 1.5 0.4 0.3 0.4 -1.2 0.4 -1.3 0.4 6.4 0.4 -6 0.4 -0.3 0.4 0.2 0.4 4.8 0.4 -1.5 0.4 -1.2 0.4 3 0.4 -1.4 0.4 -2.6 0.4 1.6 0.4 0.8 0.4 -2.6 0.4 -1.1 0.4 3.3 0.4 1.9 0.4 0 0.4 -6.4 0.4 4.9 0.4 -1 0.4 -1.3 0.4 0.6 0.4 0.2 0.4 2 0.4 3 0.4 -6.7 0.4 2.8 0.4 -2.5 0.4 3.3 0.4 0.1 0.4 0.1 0.4 0.5 0.4 -2.9 0.4 4.4 0.4 -4.2 0.4 1.9 0.4 -0.4 0.4 0.5 0.4 0.4 0.4 -1.1 0.4 0.6 0.4 0.2 0.4 -1 0.4 -2.2 0.4 2.8 0.4 -0.1 0.4 2.9 0.4 -2.7 0.4 5.2 0.4 -3.4 0.4 2.1 0.4 -0.2 0.4 0.6 0.4 -0.7 0.4 1.7 0.4 -1 0.4 2.1 0.4 -2.1 0.4 -0.8 0.4 -6.4 0.4 8.5 0.4 -1.2 0.4 1.7 0.4 0.9 0.4 -3.2 0.4 2.5 0.4 1.1 0.4 -4.3 0.4 4.9 0.4 -2.9 0.4 1.2 0.4 0 0.4 0.4 0.4 -0.3 0.4 0 0.4 -0.2 0.4 -2.4 0.4 4.5 0.4 -2.6 0.4 2.4 0.4 -1.8 0.4 0.2 0.4 0 0.4 3.1 0.4 -2.8 0.4 6.3 0.4 -4.3 0.4 -1.1 0.4 -0.4 0.4 0.7 0.4 0.2 0.4 2.9 0.4 -1.5 0.4 1.5 0.4 3.1 0.4 -1.4 0.4 0.8 0.4 -2.3 0.4 -0.8 0.4 2.5 0.4 -0.6 0.4 -5.6 0.4 3.5 0.4 4.8 0.4 -4 0.4 2.5 0.4 3.9 0.4 -3.3 0.4 -7.1 0.4 -5.7 0.4 -1.1 0.4 -1.8 0.4 -3.1 0.4 -3.3 0.4 2.2 0.4 -3 0.4 0.5 0.4 0 0.4 -2.1 0.4 0.1 0.4 1.4 0.4 3.2 0.4 -2.2 0.4 -1.5 0.4 3.4 0.4 -1.2 0.4 1.1 0.4 -2.9 0.4 1.3 0.4 -0.1 0.4 1.4 0.4 -1.3 0.4 -2.4 0.4 0 0.4 1 0.4 3.3 0.4 -4.2 0.4 3.6 0.4 0.8 0.4 -3.7 0.4 2 0.4 -1.5 0.4 2 0.4 -1.7 0.4 3.4 0.4 -2.4 0.4 0.9 0.4 -1 0.4 -1.8 0.4 5.2 0.4 3 0.4 -5.8 0.4 1.4 0.4 0.8 0.4 0.5 0.4 -0.7 0.4 1.4 0.4 -0.6 0.4 1.5 0.4 -1.6 0.4 -5 0.4 3.1 0.4 -1.3 0.4 5.2 0.4 -4.6 0.4 1.5 0.4 0.6 0.4 -0.3 0.4 -1.6 0.4 -0.8 0.4 3.4 0.4 -2 0.4 -1.6 0.4 -1 0.4 6.4 0.4 -2.2 0.4 -4.5 0.4 5 0.4 2.1 0.4 -0.8 0.4 -0.3 0.4 -1 0.4 3.1 0.4 -1.6 0.4 2.4 0.4 -5.5 0.4 3.2 0.4 3.3 0.4 -1.5 0.4 -2.7 0.4 3.1 0.4 0.7 0.4 -3.4 0.4 0.9 0.4 -2.4 0.4 -0.8 0.4 4.1 0.4 -0.4 0.4 -1 0.4 0.3 0.4 0.6 0.4 -3.2 0.4 6.5 0.4 1 0.4 -2.4 0.4 1 0.4 0.6 0.4 -0.8 0.4 -0.9 0.4 5.2 0.4 -3.8 0.4 -2.3 0.4 0.1 0.4 0.8 0.4 -1.9 0.4 3.3 0.4 0.3 0.4 -6.4 0.4 3.1 0.4 3.5 0.4 -6.4 0.4 2 0.4 3.8 0.4 -3 0.4 1.5 0.4 2.1 0.4 -4.8 0.4 1.9 0.4 -0.7 0.4 -0.2 0.4 3.3 0.4 0.4 0.4 -0.7 0.4 0.1 0.4 3.3 0.4 -1.3 0.4 1.2 0.4 0.2 0.4 0 0.4 -0.3 0.4 -5.3 0.4 3.7 0.4 -3.4 0.4 -0.4 0.4 2.5 0.4 1 0.4 2.8 0.4 -1.6 0.4 1.1 0.4 -0.4 0.4 -2.2 0.4 4.2 0.4 -1.9 0.4 0 0.4 2.1 0.4 -1.5 0.4 -1.2 0.4 -2.7 0.4 -1.8 0.4 -3.6 0.4 -5.6 0.4 -2.2 0.4 -0.3 0.4 1.5 0.4 -1.5 0.4 1.5 0.4 3.2 0.4 -0.4 0.4 -1.8 0.4 -1.2 0.4 -1 0.4 -1.2 0.4 0 0.4 -1.6 0.4 0.3 0.4 3.6 0.4 -0.9 0.4 2.1 0.4 2.2 0.4 -4.5 0.4 2.6 0.4 -4.1 0.4 1.9 0.4 4.2 0.4 -4.6 0.4 0.2 0.4 2.1 0.4 3 0.4 -6 0.4 2.6 0.4 0.1 0.4 0.4 0.4 -0.6 0.4 -0.7 0.4 3.7 0.4 -4.2 0.4 3.8 0.4 -0.3 0.4 -0.2 0.4 -0.9 0.4 3.5 0.4 0.2 0.4 -4 0.4 7.8 0.4 -4.9 0.4 -3.5 0.4 0.6 0.4 0.4 0.4 -0.4 0.4 -2 0.4 1.3 0.4 4.4 0.4 -4.5 0.4 2.4 0.4 -2.4 0.4 3.3 0.4 -8.6 0.4 9.6 0.4 -3.4 0.4 -1.4 0.4 1.2 0.4 1.9 0.4 -2.4 0.4 1.9 0.4 -2.2 0.4 3.8 0.4 -0.6 0.4 0 0.4 3.5 0.4 -4.3 0.4 2 0.4 -1.6 0.4 -0.5 0.4 -2.3 0.4 3 0.4 -2.1 0.4 2 0.4 2.3 0.4 0.2 0.4 -1.4 0.4 2.1 0.4 -2.3 0.4 5.1 0.4 -5.6 0.4 1.2 0.4 -3.1 0.4 3.4 0.4 2.3 0.4 -3 0.4 -2.2 0.4 0.1 0.4 5.1 0.4 -4.2 0.4 6 0.4 -3.7 0.4 -0.8 0.4 1.3 0.4 3.1 0.4 -5.8 0.4 1.1 0.4 0.8 0.4 -2.3 0.4 4.4 0.4 0.6 0.4 1.8 0.4 -0.2 0.4 -0.9 0.4 -1.6 0.4 0.8 0.4 3.5 0.4 -3 0.4 0.4 0.4 -0.2 0.4 0.4 0.4 -3.2 0.4 1.5 0.4 -0.7 0.4 2.6 0.4 -1.4 0.4 -1.2 0.4 -0.6 0.4 -0.4 0.4 4.8 0.4 -3.1 0.4 0.8 0.4 6.1 0.4 -6.7 0.4 0.5 0.4 -1.9 0.4 -0.8 0.4 5.7 0.4 -1.5 0.4 -0.1 0.4 -2 0.4 0.9 0.4 2.5 0.4 -1.3 0.4 -0.4 0.4 -0.4 0.4 1 0.4 3.6 0.4 -1.2 0.4 -6.3 0.4 3.9 0.4 -1.6 0.4 -0.5 0.4 -4.3 0.4 -4.4 0.4 -5.2 0.4 -0.7 0.4 -0.2 0.4 1.4 0.4 3 0.4 -2 0.4 -2.5 0.4 2.8 0.4 -5.6 0.4 5.1 0.4 -0.3 0.4 -0.7 0.4 2.4 0.4 0.6 0.4 -1.8 0.4 -0.1 0.4 0.7 0.4 -0.4 0.4 2.2 0.4 -2.3 0.4 -2.6 0.4 1.3 0.4 2.3 0.4 1.2 0.4 -4.6 0.4 0 0.4 5.2 0.4 -1.4 0.4 2.5 0.4 -4.3 0.4 -0.2 0.4 0.5 0.4 3.5 0.4 -5.3 0.4 1.9 0.4 3.4 0.4 -4 0.4 3.9 0.4 -1.3 0.4 -3.7 0.4 4.2 0.4 1 0.4 -0.2 0.4 4.3 0.4 -4.6 0.4 0.7 0.4 0.5 0.4 -2.7 0.4 -1 0.4 3.6 0.4 -1.1 0.4 3.9 0.4 -1.2 0.4 -3.5 0.4 -1.3 0.4 3.2 0.4 -1.4 0.4 -1.8 0.4 1 0.4 5.5 0.4 -3.3 0.4 0.2 0.4 -0.9 0.4 0.1 0.4 2.5 0.4 -0.6 0.4 1 0.4 -0.8 0.4 2 0.4 2.5 0.4 -8.4 0.4 4.2 0.4 1.7 0.4 -1 0.4 2.4 0.4 0.1 0.4 -0.6 0.4 -1.4 0.4 -1.8 0.4 0.6 0.4 -1 0.4 -1 0.4 1.3 0.4 -1 0.4 3.4 0.4 0.5 0.4 -0.2 0.4 3.4 0.4 -1.9 0.4 0.7 0.4 -1.1 0.4 3 0.4 -0.6 0.4 1.2 0.4 -7.5 0.4 2 0.4 2.9 0.4 -1.2 0.4 -2.2 0.4 1.5 0.4 -0.2 0.4 2.9 0.4 -0.3 0.4 2.4 0.4 -2.4 0.4 -0.7 0.4 -0.9 0.4 1.7 0.4 -1.7 0.4 -0.2 0.4 6 0.4 -7.8 0.4 0.5 0.4 6 0.4 -3.1 0.4 0.9 0.4 -4 0.4 0.6 0.4 1.1 0.4 -2.6 0.4 1.9 0.4 3 0.4 -1.3 0.4 3.6 0.4 -1.9 0.4 0.3 0.4 1.2 0.4 -3 0.4 3.2 0.4 -3.9 0.4 7.3 0.4 -5.4 0.4 -1.5 0.4 2.5 0.4 -0.3 0.4 1.1 0.4 0.3 0.4 0.4 0.4 0.2 0.4 -2.9 0.4 4 0.4 -1.3 0.4 0.9" fill="none" stroke="#dd0033" stroke-width="1.7" stroke-linejoin="round"/>
<path d="M64.4 507l0.4 -1.4 0.4 1.4 0.4 0.8 0.4 2.5 0.4 -3.6 0.4 1 0.4 0.2 0.4 -0.4 0.4 -0.7 0.4 -0.9 0.4 0 0.4 -1.8 0.4 2.3 0.4 -1.6 0.4 -2.3 0.4 6.9 0.4 -1.9 0.4 -0.6 0.4 1.4 0.4 -0.9 0.4 1.5 0.4 -2.7 0.4 2 0.4 -3.7 0.4 2.5 0.4 -5.1 0.4 2.1 0.4 2.3 0.4 -1.5 0.4 -1.4 0.4 3.3 0.4 -6.8 0.4 4.9 0.4 2.2 0.4 -2.3 0.4 2 0.4 -2.3 0.4 1.5 0.4 -0.8 0.4 3.7 0.4 -3.1 0.4 -0.1 0.4 5.2 0.4 -2.7 0.4 -1.5 0.4 2 0.4 -4.8 0.4 2.8 0.4 -0.5 0.4 -4.7 0.4 2.5 0.4 -2.8 0.4 3.8 0.4 -0.9 0.4 5.2 0.4 -1.7 0.4 -4 0.4 -1.8 0.4 1.6 0.4 0.2 0.4 -2.4 0.4 4.6 0.4 -1.2 0.4 -0.7 0.4 -1.5 0.4 1 0.4 -2 0.4 1.4 0.4 -0.9 0.4 2 0.4 -3.3 0.4 -0.3 0.4 3.9 0.4 -1.3 0.4 -0.9 0.4 2.3 0.4 -2.5 0.4 -3.4 0.4 3.5 0.4 -1.6 0.4 1 0.4 1.8 0.4 -3 0.4 1.8 0.4 -1.5 0.4 1.2 0.4 -0.4 0.4 0.3 0.4 -1.1 0.4 1.4 0.4 2.5 0.4 -0.5 0.4 -1.4 0.4 0.8 0.4 1.7 0.4 1.8 0.4 6 0.4 -1.4 0.4 7.3 0.4 1.8 0.4 -0.3 0.4 1.6 0.4 0.8 0.4 1 0.4 -2.7 0.4 0.1 0.4 -1.9 0.4 -1 0.4 -1.2 0.4 1.6 0.4 -0.6 0.4 1.6 0.4 2.9 0.4 -5.1 0.4 -0.1 0.4 2.4 0.4 -2.1 0.4 3.6 0.4 0.1 0.4 -5.4 0.4 0.6 0.4 2.1 0.4 0.1 0.4 2.6 0.4 -1.5 0.4 -0.4 0.4 -3 0.4 4.1 0.4 -4.9 0.4 3.7 0.4 -3.8 0.4 0.2 0.4 1.3 0.4 -3.3 0.4 0 0.4 1.6 0.4 2.7 0.4 -2.6 0.4 0 0.4 1.2 0.4 -1.1 0.4 -0.4 0.4 1.1 0.4 0.8 0.4 -2 0.4 0.1 0.4 1.5 0.4 2.3 0.4 -3.1 0.4 0 0.4 -0.3 0.4 1 0.4 -1.3 0.4 2.1 0.4 -0.6 0.4 -9.1 0.4 5.7 0.4 3.3 0.4 -7.3 0.4 5 0.4 1 0.4 -2 0.4 2.4 0.4 -4.5 0.4 2 0.4 1.4 0.4 1.2 0.4 -3.1 0.4 3.2 0.4 -0.6 0.4 -2.8 0.4 0.6 0.4 1.1 0.4 -0.4 0.4 -1.7 0.4 1.2 0.4 0.6 0.4 -0.8 0.4 2.6 0.4 -3.6 0.4 0.6 0.4 0 0.4 1 0.4 -0.2 0.4 2.7 0.4 -1.9 0.4 -3.8 0.4 -1.9 0.4 2.4 0.4 -1.1 0.4 1.1 0.4 -0.9 0.4 1.2 0.4 0.8 0.4 -1.7 0.4 1.5 0.4 -2.4 0.4 -3.5 0.4 3.3 0.4 0.2 0.4 -1.6 0.4 2 0.4 -2 0.4 4.3 0.4 -1.6 0.4 1.1 0.4 0.7 0.4 1 0.4 -5 0.4 3 0.4 -1.1 0.4 -4.1 0.4 3.9 0.4 -0.7 0.4 2.1 0.4 1 0.4 -2.4 0.4 -3.3 0.4 3.7 0.4 -0.5 0.4 -0.8 0.4 2.4 0.4 0.3 0.4 -3.6 0.4 2.5 0.4 -1.9 0.4 -1.5 0.4 -0.3 0.4 0.9 0.4 1 0.4 0.3 0.4 -3.2 0.4 -1.1 0.4 3.7 0.4 -1.8 0.4 0.2 0.4 -3.2 0.4 3.4 0.4 -1.7 0.4 -0.6 0.4 3.5 0.4 -2.2 0.4 -0.9 0.4 -3 0.4 1.2 0.4 3.6 0.4 -4 0.4 4.2 0.4 -1.5 0.4 -0.3 0.4 3.6 0.4 -4.7 0.4 1.1 0.4 0.1 0.4 3.9 0.4 4.7 0.4 -1.2 0.4 4.6 0.4 -0.2 0.4 -1.7 0.4 6.7 0.4 -4.7 0.4 3.1 0.4 -2.1 0.4 0 0.4 2.8 0.4 -7.4 0.4 3.5 0.4 -0.1 0.4 0.7 0.4 2.8 0.4 -4.3 0.4 -0.5 0.4 0.6 0.4 2.3 0.4 0 0.4 0.8 0.4 1.1 0.4 -2.6 0.4 2.4 0.4 -2.1 0.4 -3 0.4 -1.1 0.4 2.1 0.4 0.8 0.4 -0.1 0.4 -3.2 0.4 4.2 0.4 -3.5 0.4 1.4 0.4 2.8 0.4 -3.2 0.4 2.2 0.4 -3.6 0.4 0.8 0.4 3.1 0.4 0.7 0.4 -2.7 0.4 0.4 0.4 0.4 0.4 -2.6 0.4 3.2 0.4 -1.3 0.4 3.3 0.4 -3 0.4 -0.7 0.4 -1.2 0.4 1.3 0.4 -2.9 0.4 4.1 0.4 2.5 0.4 -4.8 0.4 3.3 0.4 0.2 0.4 -4.4 0.4 0 0.4 -0.1 0.4 -1.9 0.4 -0.5 0.4 2.7 0.4 0.4 0.4 5.3 0.4 -2.8 0.4 -1.5 0.4 -2.4 0.4 5.2 0.4 -3.5 0.4 2.3 0.4 -1.2 0.4 -2.8 0.4 -1.1 0.4 1.5 0.4 -0.8 0.4 1.8 0.4 2.3 0.4 -0.6 0.4 2.1 0.4 -4.1 0.4 1.5 0.4 -3.1 0.4 0.8 0.4 3.8 0.4 0.3 0.4 -3 0.4 -2.2 0.4 -2.3 0.4 2.6 0.4 -1.2 0.4 0.4 0.4 -0.5 0.4 1.9 0.4 0.1 0.4 -0.1 0.4 -0.6 0.4 0.6 0.4 1.7 0.4 -1.7 0.4 0.8 0.4 1 0.4 -0.1 0.4 -3.5 0.4 -0.4 0.4 -2.1 0.4 3.1 0.4 -2.4 0.4 1.9 0.4 1.3 0.4 -1.4 0.4 1.9 0.4 1.1 0.4 -1.8 0.4 0.3 0.4 -3.2 0.4 -1.6 0.4 1.6 0.4 -1.5 0.4 2.9 0.4 -0.9 0.4 2.3 0.4 -5.1 0.4 3.2 0.4 -1.4 0.4 0.9 0.4 0.3 0.4 -1.6 0.4 -0.8 0.4 -0.7 0.4 1.9 0.4 0.2 0.4 0.9 0.4 -1.4 0.4 -0.1 0.4 -1.7 0.4 -1.5 0.4 3.9 0.4 0.2 0.4 -1.9 0.4 1.8 0.4 0.3 0.4 -1.2 0.4 -0.2 0.4 -0.6 0.4 3.4 0.4 -0.7 0.4 0.1 0.4 -2.8 0.4 3.9 0.4 -3.5 0.4 -0.1 0.4 0.5 0.4 1.5 0.4 -2.7 0.4 4.6 0.4 5 0.4 -2.9 0.4 3.1 0.4 6.6 0.4 1.5 0.4 -0.8 0.4 0.2 0.4 -0.3 0.4 1.2 0.4 0.7 0.4 -3.8 0.4 0.8 0.4 -1.2 0.4 -1.9 0.4 2.4 0.4 -3.3 0.4 -0.8 0.4 5.2 0.4 -3.3 0.4 6.3 0.4 -2.8 0.4 -1.1 0.4 -0.2 0.4 -2.8 0.4 2.3 0.4 -2.8 0.4 2.9 0.4 -5.5 0.4 2.9 0.4 -3.6 0.4 5.1 0.4 2.8 0.4 -1.5 0.4 -1.7 0.4 -0.8 0.4 0.6 0.4 1.2 0.4 -3.1 0.4 -2.9 0.4 4.3 0.4 0.8 0.4 2.7 0.4 -3.5 0.4 0.4 0.4 -0.6 0.4 -0.5 0.4 1.9 0.4 -4.4 0.4 0.9 0.4 0.5 0.4 0.3 0.4 1.4 0.4 0.8 0.4 -1.8 0.4 -0.2 0.4 0.3 0.4 -1.5 0.4 -0.2 0.4 -0.3 0.4 -1.2 0.4 0.6 0.4 0.3 0.4 0 0.4 1.8 0.4 -1.1 0.4 2.3 0.4 -1.1 0.4 1 0.4 -1.5 0.4 -1.5 0.4 -1.4 0.4 4.4 0.4 -2.1 0.4 -0.3 0.4 1 0.4 -2.5 0.4 0 0.4 -1 0.4 -1.7 0.4 3.2 0.4 -1.7 0.4 3.6 0.4 -3.3 0.4 -0.1 0.4 2.4 0.4 -0.6 0.4 -2.4 0.4 2.1 0.4 -2.9 0.4 5.1 0.4 -4.7 0.4 0.3 0.4 -2.2 0.4 3.2 0.4 4.6 0.4 -3.4 0.4 0.2 0.4 -0.7 0.4 -0.1 0.4 -0.5 0.4 4.1 0.4 -1 0.4 -2.9 0.4 1.8 0.4 -4.5 0.4 -1.5 0.4 4.2 0.4 -0.6 0.4 -0.1 0.4 -0.3 0.4 -0.3 0.4 0.1 0.4 0.1 0.4 0.4 0.4 0.1 0.4 -2 0.4 4 0.4 -4 0.4 3.6 0.4 -2.3 0.4 -1.8 0.4 3.4 0.4 -3.6 0.4 -0.4 0.4 -0.3 0.4 -1.3 0.4 2.2 0.4 3.2 0.4 -1.4 0.4 -2.9 0.4 0.7 0.4 -3.2 0.4 3.4 0.4 1.6 0.4 -1.8 0.4 -1.7 0.4 1.7 0.4 -1.8 0.4 1.4 0.4 -1 0.4 -1.6 0.4 2.5 0.4 1.5 0.4 -3.1 0.4 1.1 0.4 -0.5 0.4 1.9 0.4 -1.9 0.4 2.5 0.4 -1.5 0.4 -2.8 0.4 4.4 0.4 4.3 0.4 4.8 0.4 2.2 0.4 6.5 0.4 -1.2 0.4 4.5 0.4 -0.2 0.4 -3.3 0.4 1.9 0.4 0.8 0.4 -1.2 0.4 -3.6 0.4 3.2 0.4 1.6 0.4 -4.8 0.4 -2.3 0.4 4.9 0.4 -2.4 0.4 2.1 0.4 1 0.4 -3.2 0.4 1.3 0.4 -2.2 0.4 -1.2 0.4 2.6 0.4 -1.8 0.4 5 0.4 -2.6 0.4 1.5 0.4 -4.6 0.4 2 0.4 0.3 0.4 -0.9 0.4 0.4 0.4 -2 0.4 2 0.4 3.3 0.4 2.6 0.4 -0.2 0.4 -4.9 0.4 -2.8 0.4 1.6 0.4 -0.2 0.4 2.3 0.4 -3.3 0.4 -0.2 0.4 3.2 0.4 -5.5 0.4 -0.3 0.4 0.6 0.4 -0.3 0.4 -1.5 0.4 0.7 0.4 -0.3 0.4 1.2 0.4 -0.2 0.4 2.4 0.4 -1.5 0.4 0.5 0.4 2 0.4 -1.9 0.4 2.5 0.4 0 0.4 -1.2 0.4 1.5 0.4 -5.2 0.4 1.5 0.4 -2.8 0.4 0.4 0.4 3.8 0.4 -0.4 0.4 0.3 0.4 -1 0.4 0.1 0.4 -3.3 0.4 0.8 0.4 -1.8 0.4 1.3 0.4 1.8 0.4 1.7 0.4 -0.3 0.4 -3.7 0.4 0.9 0.4 -1.2 0.4 4.6 0.4 -2.2 0.4 0 0.4 -1.3 0.4 -0.2 0.4 -2.9 0.4 6.1 0.4 -0.6 0.4 0.4 0.4 0.2 0.4 -3 0.4 1 0.4 -2.3 0.4 -1.3 0.4 -0.1 0.4 1.5 0.4 1.9 0.4 0.4 0.4 -2.2 0.4 1.7 0.4 0.6 0.4 0.5 0.4 -1.6 0.4 1.1 0.4 -3.8 0.4 2.6 0.4 -0.8 0.4 -0.1 0.4 3 0.4 -3.3 0.4 1.8 0.4 -0.3 0.4 1.6 0.4 -2.4 0.4 0.7 0.4 -0.6 0.4 0 0.4 -2.9 0.4 1.6 0.4 -0.9 0.4 2.9 0.4 0.1 0.4 0.2 0.4 -1.9 0.4 2 0.4 -0.8 0.4 -3.7 0.4 3 0.4 0.8 0.4 -2.2 0.4 -0.2 0.4 1.7 0.4 -0.6 0.4 1.7 0.4 -2.9 0.4 1.8 0.4 5.5 0.4 0.2 0.4 -6.4 0.4 -0.4 0.4 0.2 0.4 -0.5 0.4 0.7 0.4 1 0.4 -1 0.4 -0.2 0.4 -0.3 0.4 -3 0.4 1 0.4 -0.2 0.4 2.5 0.4 1 0.4 0.3 0.4 3.3 0.4 3.5 0.4 0.6 0.4 -1.7 0.4 1.3 0.4 -0.4 0.4 1.6 0.4 7 0.4 1.6 0.4 1.4 0.4 -1 0.4 -4.7 0.4 1.3 0.4 -1.3 0.4 3.1 0.4 -5.2 0.4 5 0.4 -2.2 0.4 0.9 0.4 1.8 0.4 -4.7 0.4 5.3 0.4 1 0.4 -4.4 0.4 5.2 0.4 -3.8 0.4 0.1 0.4 2.7 0.4 -2.7 0.4 0.8 0.4 -1.6 0.4 -1.3 0.4 4.7 0.4 -0.6 0.4 -3.6 0.4 3.5 0.4 -3.2 0.4 0.6 0.4 0.8 0.4 -2.8 0.4 0.9 0.4 -0.3 0.4 3.6 0.4 -1.8 0.4 0.2 0.4 1.7 0.4 -1.3 0.4 2.9 0.4 -3.5 0.4 0.5 0.4 0.3 0.4 -0.1 0.4 0.4 0.4 0.6 0.4 2.7 0.4 -4.1 0.4 -1.1 0.4 0.4 0.4 -1.1 0.4 0.6 0.4 -0.2 0.4 -0.4 0.4 1.9 0.4 1.2 0.4 -0.6 0.4 -2 0.4 -0.6 0.4 -1.1 0.4 1.4 0.4 -1.6 0.4 2.8 0.4 -2.5 0.4 5.2 0.4 -0.4 0.4 -0.2 0.4 -2 0.4 -0.4 0.4 0.5 0.4 -3.1 0.4 0.2 0.4 2.1 0.4 -2.5 0.4 5.7 0.4 -0.5 0.4 -4 0.4 3.6 0.4 0.4 0.4 -2 0.4 -0.4 0.4 1.5 0.4 -2.6 0.4 2.1 0.4 -2.3 0.4 0 0.4 0 0.4 -1 0.4 0.3 0.4 -1.8 0.4 2.7 0.4 -0.1 0.4 4 0.4 0.4 0.4 -5.2 0.4 2.4 0.4 -2.4 0.4 -1.2 0.4 3.7 0.4 -0.1 0.4 -2.1 0.4 -1.7 0.4 1.7 0.4 1.3 0.4 1.5 0.4 -4.4 0.4 3.6 0.4 -4.3 0.4 2.2 0.4 0.3 0.4 -0.9 0.4 -3.3 0.4 4.3 0.4 -0.2 0.4 -2.2 0.4 -1 0.4 2.4 0.4 -1.1 0.4 -2.2 0.4 4.2 0.4 0.7 0.4 -1.6 0.4 0.3 0.4 -2.9 0.4 4.9 0.4 -0.1 0.4 -2.2 0.4 -1.4 0.4 -0.5 0.4 1.6 0.4 -2 0.4 1.5 0.4 -1.4 0.4 3.8 0.4 0 0.4 -1.3 0.4 0.9 0.4 -3.6 0.4 4.9 0.4 -1.3 0.4 -2.9 0.4 3.1 0.4 -2.4 0.4 -1.1 0.4 4.3 0.4 -1.6 0.4 -4.8 0.4 2.6 0.4 -0.2 0.4 2.6 0.4 0.6 0.4 -1.3 0.4 1.2 0.4 1.8 0.4 -2.9 0.4 -0.6 0.4 0.6 0.4 3 0.4 0.6 0.4 -3.3 0.4 2.2 0.4 -1.4 0.4 -0.4 0.4 2.4 0.4 -1.6 0.4 1.6 0.4 -0.4 0.4 0 0.4 -2 0.4 -0.1 0.4 -0.6 0.4 1.3 0.4 0.9 0.4 1.8 0.4 -6.4 0.4 3.1 0.4 -2.2 0.4 1.2 0.4 -0.6 0.4 1.2 0.4 0.1 0.4 -0.9 0.4 4 0.4 -5.8 0.4 1.3 0.4 0.4 0.4 2 0.4 -2.7 0.4 1.5 0.4 -0.7 0.4 3.7 0.4 -2.1 0.4 0.5 0.4 -0.6 0.4 4.4 0.4 -2.5 0.4 -0.8 0.4 -0.3 0.4 0.4 0.4 0.7 0.4 -2.3 0.4 -0.9 0.4 1.2 0.4 -0.9 0.4 2.3 0.4 -0.3 0.4 -1.3 0.4 1.9 0.4 2.6 0.4 -1.3 0.4 -2.6 0.4 -0.2 0.4 -0.1 0.4 1.9 0.4 0.8 0.4 -0.6 0.4 -0.2 0.4 2.6 0.4 -1.3 0.4 -1.8 0.4 1 0.4 -3.9 0.4 5 0.4 0.5 0.4 -2.9 0.4 -0.5 0.4 3 0.4 -3 0.4 0.2 0.4 2.4 0.4 -0.9 0.4 -0.2 0.4 -2.2 0.4 -3.1 0.4 4.5 0.4 0.9 0.4 -0.7 0.4 1.2 0.4 -0.5 0.4 2.7 0.4 -2.5 0.4 2 0.4 -1.7 0.4 2.4 0.4 -0.6 0.4 -1.8 0.4 1.6 0.4 0 0.4 -0.2 0.4 -3.6 0.4 2 0.4 2 0.4 -1.5 0.4 0.6 0.4 -1.3 0.4 -0.7 0.4 4.2 0.4 -3.8 0.4 -1.3 0.4 1.2 0.4 -2.6 0.4 3.7 0.4 0.6 0.4 -0.8 0.4 -1.6 0.4 2 0.4 -0.4 0.4 -5.6 0.4 3.7 0.4 4.2 0.4 -2.6 0.4 -0.6 0.4 -0.4 0.4 3.6 0.4 -4.3 0.4 1.1 0.4 2.4 0.4 -2.2 0.4 1.1 0.4 -2.5 0.4 -0.5 0.4 3.3 0.4 -1.2 0.4 1.4 0.4 -2.4 0.4 -2 0.4 -4 0.4 -5.2 0.4 -2.5 0.4 0.8 0.4 -1.2 0.4 0.4 0.4 -0.2 0.4 0.4 0.4 -5.1 0.4 -0.3 0.4 4.3 0.4 -0.1 0.4 1.3 0.4 -3.3 0.4 1.8 0.4 -0.3 0.4 0.1 0.4 3.3 0.4 -2.5 0.4 1.1 0.4 -2.6 0.4 0.3 0.4 1.2 0.4 2.3 0.4 1.1 0.4 -2.7 0.4 1.2 0.4 -1 0.4 -0.8 0.4 2.2 0.4 -3 0.4 -0.3 0.4 2 0.4 3 0.4 -3.8 0.4 2.9 0.4 -1.1 0.4 -3.1 0.4 2.9 0.4 0.5 0.4 -1.3 0.4 1.2 0.4 1.1 0.4 -2.7 0.4 -0.1 0.4 2.4 0.4 -4.4 0.4 3.8 0.4 -1.4 0.4 -1.2 0.4 0.1 0.4 -0.8 0.4 0.6 0.4 0.2 0.4 0.7 0.4 -1.1 0.4 1.1 0.4 1.2 0.4 0.6 0.4 -2 0.4 4 0.4 -4.7 0.4 2.7 0.4 0.8 0.4 1.8 0.4 -2.4 0.4 0.8 0.4 -0.4 0.4 0.4 0.4 0.2 0.4 -4 0.4 1.2 0.4 2.1 0.4 -0.5 0.4 0.5 0.4 0 0.4 -0.3 0.4 -1.4 0.4 3.1 0.4 -0.6 0.4 -0.6 0.4 2.6 0.4 -2.1 0.4 -1.3 0.4 3.7 0.4 -1.6 0.4 -0.4 0.4 -0.6 0.4 -0.3 0.4 0.8 0.4 1.8 0.4 -2.2 0.4 -0.3 0.4 -1.1 0.4 1 0.4 2.4 0.4 -3.2 0.4 1.3 0.4 -1.2 0.4 0.6 0.4 -1.3 0.4 0.2 0.4 2.4 0.4 -1.7 0.4 2.8 0.4 1.6 0.4 -2 0.4 2 0.4 -6.3 0.4 -0.1 0.4 2 0.4 2.5 0.4 -1.8 0.4 0.6 0.4 2.9 0.4 0.3 0.4 -0.6 0.4 -1.4 0.4 -4.1 0.4 5.5 0.4 -0.5 0.4 4.1 0.4 -3.8 0.4 -2.9 0.4 2.1 0.4 0.4 0.4 1.6 0.4 -0.3 0.4 -0.4 0.4 -1.7 0.4 3.7 0.4 0.5 0.4 -0.8 0.4 1.1 0.4 -0.8 0.4 -3.1 0.4 0.3 0.4 0.5 0.4 1.2 0.4 1.3 0.4 -2.5 0.4 2 0.4 -4.8 0.4 4.6 0.4 0.1 0.4 1.4 0.4 -2 0.4 -1 0.4 -1.9 0.4 -4.3 0.4 -1.4 0.4 -3.6 0.4 -2.9 0.4 -0.9 0.4 -1.4 0.4 1.3 0.4 -3 0.4 0.9 0.4 2.4 0.4 -0.2 0.4 -1.8 0.4 0.5 0.4 0.7 0.4 1.7 0.4 -1.1 0.4 0.9 0.4 -1.8 0.4 -2.1 0.4 -1.8 0.4 4 0.4 -0.7 0.4 0.6 0.4 3 0.4 -2.6 0.4 4.3 0.4 -1.7 0.4 0.9 0.4 -4.1 0.4 3.7 0.4 0.3 0.4 1.4 0.4 -6.4 0.4 2.2 0.4 0 0.4 -2.5 0.4 4.4 0.4 -1.8 0.4 1.7 0.4 -0.7 0.4 0.4 0.4 -3.1 0.4 5.6 0.4 -6.3 0.4 0.2 0.4 0.7 0.4 2.6 0.4 0.9 0.4 0.4 0.4 2.3 0.4 -0.4 0.4 -3.6 0.4 1.3 0.4 -0.6 0.4 1.1 0.4 -2 0.4 2.2 0.4 -2 0.4 2.9 0.4 -3.3 0.4 2.4 0.4 1 0.4 -3.1 0.4 0.5 0.4 1.2 0.4 0.6 0.4 3.7 0.4 -5.8 0.4 3.3 0.4 -2.3 0.4 2.5 0.4 -2.5 0.4 -0.1 0.4 1.7 0.4 -2.9 0.4 2.2 0.4 -2.5 0.4 1.9 0.4 0.7 0.4 -0.5 0.4 2.2 0.4 -2.5 0.4 2 0.4 -0.7 0.4 -1.2 0.4 -1.7 0.4 2.7 0.4 0.5 0.4 0.2 0.4 -1.7 0.4 2 0.4 0.6 0.4 2.2 0.4 -0.7 0.4 -0.8 0.4 2.9 0.4 -0.7 0.4 -2.3 0.4 0.3 0.4 -0.3 0.4 1.5 0.4 -4.8 0.4 5 0.4 -1.6 0.4 -0.3 0.4 2.2 0.4 -2.4 0.4 2.4 0.4 -1.3 0.4 -0.4 0.4 2.3 0.4 -2.2 0.4 1.5 0.4 0.1 0.4 -0.2 0.4 -0.7 0.4 -1.2 0.4 1.4 0.4 -1.5 0.4 3 0.4 -1 0.4 0.4 0.4 -2.5 0.4 0.6 0.4 2.2 0.4 -1.6 0.4 -0.6 0.4 5.5 0.4 -2.3 0.4 -0.1 0.4 -1.4 0.4 2.5 0.4 0.6 0.4 -0.7 0.4 -0.9 0.4 2.6 0.4 1.5 0.4 -2.5 0.4 0.9 0.4 -0.7 0.4 -2.3 0.4 2.3 0.4 0.7 0.4 -4.7 0.4 3.8 0.4 2.4 0.4 -1.4 0.4 2.1 0.4 0.8 0.4 -3.6 0.4 -6.2 0.4 -4.1 0.4 1.4 0.4 -6.5 0.4 -2.9 0.4 -1.4 0.4 4.8 0.4 -6.6 0.4 2.3 0.4 0 0.4 -0.4 0.4 0.8 0.4 -0.7 0.4 2.7 0.4 -0.1 0.4 -2.7 0.4 2.3 0.4 -1.7 0.4 2.2 0.4 -2.9 0.4 1.6 0.4 0.6 0.4 1.8 0.4 -1 0.4 -2.8 0.4 -2 0.4 4 0.4 1.3 0.4 -1.9 0.4 0.5 0.4 4.2 0.4 -4.5 0.4 1.2 0.4 0.4 0.4 -0.5 0.4 -0.6 0.4 1.9 0.4 -2.5 0.4 1.3 0.4 -0.2 0.4 -3.6 0.4 6.4 0.4 3.6 0.4 -8.5 0.4 2.9 0.4 2 0.4 -1 0.4 -2.5 0.4 2.4 0.4 -0.5 0.4 1.5 0.4 -1.7 0.4 -2 0.4 2.5 0.4 -1.4 0.4 3.3 0.4 -3 0.4 3.4 0.4 -0.4 0.4 -0.5 0.4 -0.9 0.4 -2.2 0.4 2.8 0.4 -1.7 0.4 -0.6 0.4 -0.3 0.4 4.1 0.4 -2.5 0.4 -2.2 0.4 1.9 0.4 3.4 0.4 0.2 0.4 0 0.4 -2 0.4 4.3 0.4 -2.4 0.4 1.5 0.4 -4.5 0.4 5.2 0.4 0.1 0.4 0.9 0.4 -3 0.4 0.3 0.4 3.9 0.4 -6.6 0.4 2 0.4 -0.3 0.4 -2.2 0.4 3 0.4 1 0.4 -0.9 0.4 2.3 0.4 0.4 0.4 -4.3 0.4 4.4 0.4 2.3 0.4 -3.1 0.4 0.5 0.4 0.5 0.4 0.9 0.4 -0.9 0.4 2.8 0.4 -2.4 0.4 -1.5 0.4 -0.3 0.4 1.2 0.4 -0.8 0.4 3.2 0.4 -0.3 0.4 -5.7 0.4 4.5 0.4 0.7 0.4 -2.9 0.4 1.4 0.4 1 0.4 -2.6 0.4 3.7 0.4 0.9 0.4 -1.9 0.4 1.1 0.4 -3.4 0.4 1.7 0.4 2.7 0.4 0.2 0.4 0.4 0.4 -0.5 0.4 0.9 0.4 0.7 0.4 0 0.4 1.7 0.4 -2.5 0.4 0.8 0.4 -2.6 0.4 1.9 0.4 -4.2 0.4 1.1 0.4 1.4 0.4 2.4 0.4 3.3 0.4 -2.1 0.4 0.1 0.4 0.7 0.4 -1 0.4 1.5 0.4 -0.2 0.4 -3.3 0.4 3.4 0.4 -1.7 0.4 -1.9 0.4 0 0.4 -5 0.4 -4.3 0.4 -1.4 0.4 -5.4 0.4 -0.5 0.4 1.7 0.4 -0.2 0.4 0.2 0.4 -0.4 0.4 0.8 0.4 -0.5 0.4 -0.4 0.4 -1.5 0.4 0.2 0.4 0.5 0.4 -1.6 0.4 1 0.4 3.4 0.4 -1 0.4 0.1 0.4 3.3 0.4 -4.1 0.4 2.3 0.4 -2.4 0.4 1.7 0.4 0.7 0.4 -3.1 0.4 -0.9 0.4 1.7 0.4 2.7 0.4 -1.6 0.4 0.9 0.4 -0.4 0.4 -0.5 0.4 -1.5 0.4 -0.5 0.4 1.6 0.4 -0.5 0.4 1.6 0.4 -0.3 0.4 1.3 0.4 -2.1 0.4 3.2 0.4 0.9 0.4 -3 0.4 6.6 0.4 -3.3 0.4 -2.6 0.4 -2.5 0.4 0.9 0.4 -0.3 0.4 -0.6 0.4 0.5 0.4 1.6 0.4 -0.9 0.4 0.4 0.4 -0.2 0.4 1.3 0.4 -4.2 0.4 5.9 0.4 -3.1 0.4 0.9 0.4 -2.1 0.4 4 0.4 -1.9 0.4 -0.7 0.4 -2.1 0.4 3.2 0.4 -0.5 0.4 -1.1 0.4 6.5 0.4 -5.7 0.4 2.9 0.4 -1.8 0.4 -1.6 0.4 0.5 0.4 2 0.4 -3.4 0.4 2.2 0.4 -0.2 0.4 0.2 0.4 0.6 0.4 4.6 0.4 -1.3 0.4 1.4 0.4 -4 0.4 0.3 0.4 -1.1 0.4 1.5 0.4 3 0.4 -2.1 0.4 -3.8 0.4 3.2 0.4 1 0.4 0.1 0.4 3.7 0.4 -4.2 0.4 0.5 0.4 -0.3 0.4 2.2 0.4 -5.7 0.4 0.7 0.4 1.5 0.4 -1.2 0.4 3 0.4 2.4 0.4 0.9 0.4 0 0.4 0.7 0.4 -0.3 0.4 -1.5 0.4 3.5 0.4 -1.3 0.4 -2.8 0.4 -1.5 0.4 1.8 0.4 0.4 0.4 -0.2 0.4 -0.8 0.4 1.3 0.4 0.4 0.4 -1.4 0.4 -0.2 0.4 -1.3 0.4 4.5 0.4 -2.6 0.4 2.4 0.4 1.5 0.4 -3.1 0.4 0 0.4 -1.4 0.4 -0.4 0.4 3.7 0.4 -1.8 0.4 1.5 0.4 -0.1 0.4 -3.2 0.4 4.3 0.4 -1.3 0.4 -1.7 0.4 4.3 0.4 -1.5 0.4 1.2 0.4 0.6 0.4 -4.3 0.4 4.9 0.4 -3.5 0.4 -1.7 0.4 -2.8 0.4 -3.6 0.4 -4.3 0.4 -2 0.4 -0.9 0.4 2.4 0.4 -0.2 0.4 -1.6 0.4 0.1 0.4 2.5 0.4 -4.3 0.4 1.8 0.4 1.8 0.4 -1 0.4 2.8 0.4 -2 0.4 3.6 0.4 -2.4 0.4 -0.7 0.4 1 0.4 1.8 0.4 -3.6 0.4 -0.2 0.4 -0.3 0.4 0.6 0.4 0.7 0.4 -2.2 0.4 0.7 0.4 3.8 0.4 -0.3 0.4 0.3 0.4 -2.6 0.4 -1.2 0.4 -0.9 0.4 5.4 0.4 -4.9 0.4 3.2 0.4 1.7 0.4 -3.7 0.4 1.2 0.4 -0.4 0.4 -2.4 0.4 1.3 0.4 2.9 0.4 -1.6 0.4 2.8 0.4 -0.6 0.4 -1.5 0.4 -1.4 0.4 -2.1 0.4 0.3 0.4 3.8 0.4 -0.8 0.4 0.8 0.4 -0.8 0.4 -1.2 0.4 -0.1 0.4 2.4 0.4 -1.3 0.4 -0.1 0.4 1.5 0.4 1.5 0.4 -2.1 0.4 -0.2 0.4 -1.7 0.4 2 0.4 1.1 0.4 0.7 0.4 0.1 0.4 -1 0.4 1 0.4 0.2 0.4 -2.8 0.4 2.7 0.4 -0.2 0.4 1.7 0.4 1.1 0.4 -1.2 0.4 1.1 0.4 -1.4 0.4 -1.7 0.4 2 0.4 -4.3 0.4 -2.3 0.4 2.2 0.4 0.2 0.4 3.5 0.4 1.1 0.4 -2.8 0.4 3.9 0.4 -0.6 0.4 2.5 0.4 -2.6 0.4 2.2 0.4 0.5 0.4 -0.1 0.4 -6.4 0.4 3.1 0.4 1 0.4 -1.7 0.4 1.4 0.4 -1.7 0.4 2 0.4 3.3 0.4 -1.6 0.4 2.4 0.4 -0.7 0.4 -0.7 0.4 -0.2 0.4 1 0.4 -2.5 0.4 1.8 0.4 2.9 0.4 -3.5 0.4 -2.4 0.4 6.3 0.4 -4.4 0.4 0.5 0.4 -4.4 0.4 2 0.4 0.9 0.4 0 0.4 -0.7 0.4 2 0.4 -1.7 0.4 5.7 0.4 -2 0.4 -0.8 0.4 -2.5 0.4 3.7 0.4 1.1 0.4 -3.1 0.4 3.8 0.4 -3.4 0.4 -2.5 0.4 4 0.4 -1.6 0.4 0.2 0.4 0.9 0.4 -1.2 0.4 2.4 0.4 -0.8 0.4 2.2 0.4 -1.5 0.4 2.6" fill="none" stroke="#dd5500" stroke-width="1.7" stroke-linejoin="round"/>
<path d="M64.4 483.2l0.4 -1 0.4 1.3 0.4 -0.2 0.4 1.9 0.4 -3.3 0.4 2.5 0.4 -0.8 0.4 -0.6 0.4 -0.8 0.4 2.1 0.4 -1.7 0.4 -1.5 0.4 2.2 0.4 -2.2 0.4 -2.9 0.4 8.2 0.4 -2.4 0.4 -1.2 0.4 1.4 0.4 -1.2 0.4 0.9 0.4 -1.5 0.4 1.8 0.4 -5 0.4 3.6 0.4 -5.1 0.4 1.5 0.4 0.9 0.4 -0.9 0.4 -1.6 0.4 4.1 0.4 -6.9 0.4 7.3 0.4 -1.3 0.4 -1 0.4 2.7 0.4 -3.2 0.4 2.5 0.4 -2.5 0.4 5.6 0.4 -4.8 0.4 0 0.4 4.1 0.4 -1.1 0.4 -0.4 0.4 -0.1 0.4 -3.1 0.4 0.7 0.4 1.7 0.4 -6.1 0.4 4.5 0.4 -3.6 0.4 4.6 0.4 -2.8 0.4 5.2 0.4 -1.8 0.4 -3.2 0.4 -2 0.4 1.4 0.4 -0.2 0.4 -0.2 0.4 1.6 0.4 0.1 0.4 -0.4 0.4 -0.1 0.4 0.3 0.4 -1.3 0.4 0.1 0.4 0.1 0.4 1.8 0.4 -3.4 0.4 0.7 0.4 1.6 0.4 -0.6 0.4 -1.5 0.4 2.8 0.4 -0.2 0.4 -5.1 0.4 3.6 0.4 -2.2 0.4 0.6 0.4 0.9 0.4 -2.3 0.4 2.3 0.4 -0.6 0.4 0.1 0.4 0 0.4 1 0.4 -0.9 0.4 1.7 0.4 1.8 0.4 0.9 0.4 -3.1 0.4 2.1 0.4 0.1 0.4 1.9 0.4 7.7 0.4 -3.6 0.4 8.6 0.4 1.7 0.4 -0.1 0.4 1.5 0.4 -0.3 0.4 0.7 0.4 -1.9 0.4 -1.1 0.4 -1.8 0.4 -1.5 0.4 -1.3 0.4 3.2 0.4 -2.3 0.4 3.3 0.4 2.1 0.4 -4.4 0.4 -0.1 0.4 1.9 0.4 -0.4 0.4 2.7 0.4 -1.2 0.4 -5.5 0.4 0.8 0.4 2.3 0.4 -0.8 0.4 2.7 0.4 -0.4 0.4 -1.7 0.4 -3.7 0.4 4.4 0.4 -4.6 0.4 4.4 0.4 -3.5 0.4 -0.2 0.4 0.8 0.4 -1 0.4 -1.1 0.4 2.5 0.4 0.7 0.4 -0.5 0.4 -0.4 0.4 0.7 0.4 -0.7 0.4 -0.5 0.4 0 0.4 1.2 0.4 -1.5 0.4 -1.2 0.4 1.7 0.4 2.9 0.4 -2.1 0.4 0.3 0.4 -0.6 0.4 0.1 0.4 -1.7 0.4 2.9 0.4 -0.2 0.4 -7 0.4 2.5 0.4 5.4 0.4 -5.9 0.4 0.6 0.4 1.5 0.4 -1.1 0.4 2.7 0.4 -5 0.4 1.9 0.4 2.5 0.4 -0.8 0.4 -0.6 0.4 2.6 0.4 -1.4 0.4 -2.2 0.4 -1.2 0.4 2.7 0.4 -1.3 0.4 -1.8 0.4 3.1 0.4 -0.6 0.4 0 0.4 1.5 0.4 -3.4 0.4 1.1 0.4 -1.6 0.4 3.5 0.4 0.3 0.4 1.7 0.4 -0.9 0.4 -3 0.4 -1.3 0.4 1.1 0.4 -1.3 0.4 1.2 0.4 -3.1 0.4 1.8 0.4 0.5 0.4 -0.3 0.4 0.2 0.4 -0.8 0.4 -4.7 0.4 3.9 0.4 -1.5 0.4 -1.4 0.4 4.2 0.4 -1.9 0.4 2.6 0.4 -2 0.4 1.4 0.4 0.2 0.4 0.8 0.4 -4.3 0.4 5.2 0.4 -2.8 0.4 -3 0.4 1.7 0.4 -0.9 0.4 2.7 0.4 0.7 0.4 -1.7 0.4 -3.3 0.4 4.4 0.4 -1 0.4 0.3 0.4 0.2 0.4 0.5 0.4 -2.9 0.4 2.4 0.4 -0.9 0.4 -1.6 0.4 0.2 0.4 0.8 0.4 0.1 0.4 0 0.4 -3.4 0.4 -1.7 0.4 3.2 0.4 0.2 0.4 -1 0.4 -1.8 0.4 2.8 0.4 -1.8 0.4 0.7 0.4 2.6 0.4 -1.9 0.4 -2.8 0.4 0 0.4 -0.8 0.4 3.9 0.4 -3.2 0.4 4.5 0.4 -1.6 0.4 1.1 0.4 0.2 0.4 -1.4 0.4 -0.1 0.4 -0.1 0.4 4.1 0.4 3.5 0.4 -1.5 0.4 3.3 0.4 1.2 0.4 -3.3 0.4 7.8 0.4 -3.8 0.4 0.8 0.4 0.2 0.4 -0.4 0.4 2.4 0.4 -6.3 0.4 1.6 0.4 0.1 0.4 1.1 0.4 1.7 0.4 -2.5 0.4 -0.7 0.4 0.6 0.4 1.2 0.4 2 0.4 0.3 0.4 -0.1 0.4 -2.3 0.4 1.6 0.4 -1.3 0.4 -1.7 0.4 -0.7 0.4 2.4 0.4 -0.7 0.4 -1.6 0.4 -1.6 0.4 5.2 0.4 -2.9 0.4 0.3 0.4 0.7 0.4 -0.3 0.4 0.5 0.4 -2.6 0.4 0.6 0.4 2.8 0.4 1.3 0.4 -4.3 0.4 0.7 0.4 1.5 0.4 -2.9 0.4 3.3 0.4 -1.7 0.4 2.3 0.4 -1.5 0.4 -1.2 0.4 -1.5 0.4 2.6 0.4 -3.2 0.4 3.2 0.4 3.3 0.4 -5.1 0.4 3 0.4 0.6 0.4 -5.8 0.4 1.6 0.4 -1.6 0.4 -0.6 0.4 -1.5 0.4 5.4 0.4 -2.2 0.4 4.9 0.4 -1.1 0.4 -0.9 0.4 -1.7 0.4 5.3 0.4 -5.8 0.4 4.3 0.4 -2.2 0.4 -3 0.4 0.1 0.4 -1.4 0.4 -2.3 0.4 4.1 0.4 2.4 0.4 -1 0.4 0.7 0.4 -1.6 0.4 -0.7 0.4 -1.1 0.4 0.4 0.4 0.7 0.4 3.4 0.4 -2.9 0.4 -0.5 0.4 -4 0.4 3.9 0.4 -1.7 0.4 0.1 0.4 -1.3 0.4 2.6 0.4 -2 0.4 0.9 0.4 0.3 0.4 0.7 0.4 2.3 0.4 -1.3 0.4 0.3 0.4 1.3 0.4 -2.6 0.4 -0.1 0.4 -2.3 0.4 -2.5 0.4 3.5 0.4 -1 0.4 1.8 0.4 0.3 0.4 -2.8 0.4 3.3 0.4 2.3 0.4 -5 0.4 0.6 0.4 -3 0.4 -0.6 0.4 1.4 0.4 -0.5 0.4 2.7 0.4 -2.5 0.4 2.7 0.4 -3.3 0.4 2.7 0.4 -1.2 0.4 -0.4 0.4 0.9 0.4 -1.5 0.4 -1 0.4 -0.6 0.4 0.2 0.4 0.3 0.4 2 0.4 -0.8 0.4 -1.3 0.4 1.3 0.4 -0.7 0.4 1 0.4 -0.3 0.4 -2 0.4 2.5 0.4 0.6 0.4 -1.8 0.4 -0.2 0.4 0.9 0.4 3 0.4 -0.5 0.4 -1.2 0.4 -2.9 0.4 2.3 0.4 -0.6 0.4 0.1 0.4 -1.1 0.4 1.8 0.4 -1.1 0.4 3.4 0.4 4.5 0.4 -3.7 0.4 3 0.4 6.9 0.4 1.5 0.4 -2.4 0.4 1.4 0.4 -1.1 0.4 1 0.4 2.2 0.4 -2.9 0.4 1.5 0.4 -2.7 0.4 -1.5 0.4 2.9 0.4 -4.6 0.4 1.1 0.4 4.8 0.4 -4 0.4 4.5 0.4 -0.3 0.4 -2.5 0.4 -0.1 0.4 -3.6 0.4 2.2 0.4 -2.3 0.4 4.3 0.4 -6.4 0.4 3.4 0.4 -3.7 0.4 4.8 0.4 3.5 0.4 -2.8 0.4 -0.3 0.4 0.1 0.4 0.3 0.4 0.9 0.4 -3.2 0.4 -2 0.4 4.2 0.4 -0.9 0.4 4.7 0.4 -4.2 0.4 -1.5 0.4 0.6 0.4 0.8 0.4 2.5 0.4 -6.6 0.4 2.1 0.4 -1.7 0.4 1.1 0.4 1.5 0.4 1.5 0.4 -3.5 0.4 2 0.4 1.4 0.4 -2.1 0.4 -1 0.4 -0.4 0.4 0.2 0.4 1.4 0.4 -0.6 0.4 -1 0.4 1.8 0.4 -0.2 0.4 3.1 0.4 -1.5 0.4 -1.1 0.4 -1 0.4 0.8 0.4 -2.4 0.4 3.2 0.4 -0.6 0.4 -0.6 0.4 -1 0.4 0 0.4 0 0.4 -1.3 0.4 -2.1 0.4 2.8 0.4 -0.4 0.4 3.4 0.4 -1.8 0.4 -0.4 0.4 1.7 0.4 -2.2 0.4 -2 0.4 2.8 0.4 -2.9 0.4 3.2 0.4 -3.9 0.4 -0.1 0.4 -1.4 0.4 3 0.4 4 0.4 -3.1 0.4 -0.6 0.4 0.4 0.4 -0.2 0.4 0.2 0.4 4.2 0.4 -0.4 0.4 -3.1 0.4 1 0.4 -4.5 0.4 -2.6 0.4 6.3 0.4 -0.7 0.4 -1.6 0.4 -0.6 0.4 0.9 0.4 -0.3 0.4 0.1 0.4 -0.3 0.4 2.1 0.4 -1.9 0.4 3.5 0.4 -3.3 0.4 1.3 0.4 -2.3 0.4 -1.4 0.4 2.6 0.4 -2.8 0.4 1.1 0.4 -1.9 0.4 -0.4 0.4 2.3 0.4 2.6 0.4 -1.9 0.4 -3.6 0.4 0.2 0.4 -2.2 0.4 3.6 0.4 1.6 0.4 -1.8 0.4 -0.1 0.4 -0.1 0.4 -1.7 0.4 1.2 0.4 0 0.4 -1.1 0.4 2.6 0.4 0.9 0.4 -4.3 0.4 2.7 0.4 -2.3 0.4 2.4 0.4 -1.1 0.4 2.6 0.4 -2 0.4 -1.6 0.4 1.9 0.4 4 0.4 5.3 0.4 1.8 0.4 5.1 0.4 0.6 0.4 3.1 0.4 0.1 0.4 -3 0.4 1.5 0.4 0.3 0.4 -0.5 0.4 -3.1 0.4 2.7 0.4 2.8 0.4 -5.1 0.4 -3.1 0.4 4.7 0.4 -1.6 0.4 1.1 0.4 1 0.4 -4 0.4 1.7 0.4 -0.7 0.4 -0.5 0.4 1.5 0.4 -0.7 0.4 3.4 0.4 -1 0.4 1.1 0.4 -5.9 0.4 2.6 0.4 1.9 0.4 -1.6 0.4 -0.1 0.4 -2.9 0.4 1.1 0.4 5.4 0.4 1.9 0.4 0.6 0.4 -5.3 0.4 -1.8 0.4 -0.3 0.4 -0.3 0.4 3.5 0.4 -4 0.4 -0.1 0.4 2.9 0.4 -5.2 0.4 1.3 0.4 1.4 0.4 -2.9 0.4 -1 0.4 1.6 0.4 0.7 0.4 0.8 0.4 -0.3 0.4 1.5 0.4 -0.9 0.4 0.6 0.4 2.9 0.4 -3.3 0.4 3.3 0.4 -1.5 0.4 -1.7 0.4 0.2 0.4 -2.7 0.4 1.8 0.4 -4 0.4 1.1 0.4 3 0.4 -0.6 0.4 0.7 0.4 -1.7 0.4 0.7 0.4 -2.2 0.4 0.2 0.4 -3.1 0.4 2 0.4 1.9 0.4 4 0.4 -1.8 0.4 -3.8 0.4 0.4 0.4 0.1 0.4 2.2 0.4 -1.1 0.4 0 0.4 0.7 0.4 -0.7 0.4 -2.4 0.4 4 0.4 -2.2 0.4 2.6 0.4 0.5 0.4 -1.9 0.4 -1 0.4 -1.5 0.4 -2.3 0.4 1.4 0.4 3.2 0.4 0.6 0.4 -0.6 0.4 -1.3 0.4 0.1 0.4 2.4 0.4 0.8 0.4 -2.1 0.4 1 0.4 -3.8 0.4 1.3 0.4 -0.9 0.4 1 0.4 3.3 0.4 -5.4 0.4 3.7 0.4 0 0.4 0.5 0.4 -2.1 0.4 0.6 0.4 0.2 0.4 -1.4 0.4 -1.7 0.4 1.3 0.4 -0.6 0.4 3.1 0.4 0.2 0.4 0.6 0.4 -2 0.4 0 0.4 0.8 0.4 -5.9 0.4 4.2 0.4 1.6 0.4 -1 0.4 -1.7 0.4 1.3 0.4 -0.5 0.4 0.7 0.4 -3.1 0.4 3.8 0.4 4 0.4 0 0.4 -4.4 0.4 -0.6 0.4 -0.8 0.4 -1.2 0.4 2.9 0.4 1.1 0.4 -3.2 0.4 1.8 0.4 0 0.4 -3.6 0.4 1.8 0.4 -1.2 0.4 0.7 0.4 2.3 0.4 1.7 0.4 3 0.4 2 0.4 2.3 0.4 -1.7 0.4 1.7 0.4 -0.9 0.4 1.3 0.4 7.7 0.4 1.6 0.4 -0.4 0.4 -0.7 0.4 -2.3 0.4 -0.9 0.4 -0.7 0.4 3.8 0.4 -5.6 0.4 4.2 0.4 -2.8 0.4 2.5 0.4 1.6 0.4 -4.8 0.4 6.7 0.4 -1.3 0.4 -4.3 0.4 6.5 0.4 -4.7 0.4 0.2 0.4 2.1 0.4 -3.1 0.4 0.9 0.4 -1.8 0.4 0.4 0.4 3.9 0.4 -1.7 0.4 -1.6 0.4 1.9 0.4 -2.5 0.4 2.1 0.4 -1.4 0.4 -2.1 0.4 0.5 0.4 -0.3 0.4 3.4 0.4 -0.8 0.4 -0.7 0.4 3.1 0.4 -2.6 0.4 2.5 0.4 -3 0.4 -0.3 0.4 0.1 0.4 2.5 0.4 -1.6 0.4 1.4 0.4 1.3 0.4 -2.4 0.4 -2.6 0.4 2.7 0.4 -2.8 0.4 0 0.4 -0.6 0.4 1.9 0.4 0.8 0.4 2.1 0.4 -2.2 0.4 -2.3 0.4 1.6 0.4 -1 0.4 0.3 0.4 -1 0.4 1.8 0.4 -1.5 0.4 5.7 0.4 0.1 0.4 0 0.4 -4.1 0.4 -0.7 0.4 0.8 0.4 -2.9 0.4 -1.5 0.4 5 0.4 -4 0.4 5.7 0.4 -0.7 0.4 -3.2 0.4 4.3 0.4 -0.1 0.4 -2.9 0.4 0.3 0.4 -0.4 0.4 -0.7 0.4 2.7 0.4 -0.9 0.4 -1 0.4 -0.8 0.4 -1.9 0.4 1.1 0.4 -1.6 0.4 1.8 0.4 0.1 0.4 3.2 0.4 -1.1 0.4 -3.3 0.4 0.3 0.4 0.2 0.4 -1.9 0.4 3.9 0.4 -0.8 0.4 -1.4 0.4 -1.5 0.4 0.6 0.4 0.9 0.4 2.4 0.4 -4.6 0.4 4.5 0.4 -5.6 0.4 3 0.4 -2.2 0.4 3 0.4 -4.4 0.4 5.3 0.4 -0.8 0.4 -2.9 0.4 0 0.4 2.1 0.4 -2 0.4 -1.4 0.4 3 0.4 0 0.4 -0.4 0.4 0.8 0.4 -4.2 0.4 5.5 0.4 0.4 0.4 -2.5 0.4 -1.5 0.4 -1 0.4 2.7 0.4 -1.3 0.4 0 0.4 -0.8 0.4 1 0.4 2.5 0.4 -1.4 0.4 0.9 0.4 -3.9 0.4 7 0.4 -3.9 0.4 -1.7 0.4 4.9 0.4 -5.3 0.4 0.1 0.4 2.8 0.4 -0.7 0.4 -2.2 0.4 2 0.4 -1.8 0.4 3 0.4 0.6 0.4 -1 0.4 0.3 0.4 2.2 0.4 -0.4 0.4 -2.7 0.4 -0.3 0.4 3.3 0.4 -0.1 0.4 -3.5 0.4 2.7 0.4 -3 0.4 1.1 0.4 3.3 0.4 -2 0.4 0.1 0.4 0.3 0.4 0.6 0.4 -1.3 0.4 -0.3 0.4 -0.2 0.4 -0.2 0.4 3.9 0.4 -0.3 0.4 -6 0.4 3.5 0.4 -3.4 0.4 1.6 0.4 -1.1 0.4 1.8 0.4 0.4 0.4 -0.8 0.4 2.9 0.4 -4.5 0.4 -0.6 0.4 1 0.4 0.8 0.4 -1.3 0.4 1.1 0.4 0.4 0.4 1.5 0.4 -2.3 0.4 1.7 0.4 1 0.4 2.1 0.4 -2.6 0.4 0 0.4 -1.5 0.4 1.4 0.4 1.6 0.4 -3.5 0.4 -0.8 0.4 1.9 0.4 -0.4 0.4 0.7 0.4 0.6 0.4 -0.9 0.4 0.9 0.4 3.5 0.4 -0.5 0.4 -3.6 0.4 0.3 0.4 0.9 0.4 -0.5 0.4 2.3 0.4 -1.7 0.4 0.6 0.4 1.8 0.4 -0.1 0.4 -1.1 0.4 -0.8 0.4 -3.9 0.4 5.7 0.4 1.5 0.4 -3.5 0.4 -0.3 0.4 3.1 0.4 -4.6 0.4 1.9 0.4 1.6 0.4 -1.5 0.4 1.4 0.4 -2.6 0.4 -1.7 0.4 3.2 0.4 -0.7 0.4 0.7 0.4 1 0.4 -1.2 0.4 2.9 0.4 -3.4 0.4 1.8 0.4 0.2 0.4 1 0.4 -0.6 0.4 -0.5 0.4 -0.3 0.4 1.2 0.4 -1.5 0.4 -1.5 0.4 2.2 0.4 1.5 0.4 -2 0.4 -0.1 0.4 -1.7 0.4 0.3 0.4 4.5 0.4 -4 0.4 -0.8 0.4 0.5 0.4 -2.3 0.4 3.4 0.4 1.4 0.4 -1.7 0.4 -1.2 0.4 1.2 0.4 0.5 0.4 -5.5 0.4 2.9 0.4 5.5 0.4 -4.3 0.4 0 0.4 1.3 0.4 3.1 0.4 -4.9 0.4 2.9 0.4 0.6 0.4 -1.4 0.4 0.3 0.4 -2.2 0.4 0.7 0.4 2.9 0.4 -3.6 0.4 3.6 0.4 -4.8 0.4 -0.5 0.4 -5.5 0.4 -4.2 0.4 -1.9 0.4 -0.1 0.4 0.7 0.4 -0.8 0.4 -0.1 0.4 0.2 0.4 -4.4 0.4 -0.8 0.4 5.5 0.4 -1.3 0.4 1.5 0.4 -2.2 0.4 1 0.4 -1.3 0.4 1.7 0.4 1.1 0.4 -1.7 0.4 1 0.4 -0.8 0.4 -1.1 0.4 2.2 0.4 -0.2 0.4 1 0.4 -1.6 0.4 2.6 0.4 -1.5 0.4 -2.5 0.4 3 0.4 -2.1 0.4 -0.7 0.4 2.3 0.4 1.4 0.4 -1.8 0.4 2.3 0.4 -1.1 0.4 -2.3 0.4 1.8 0.4 0.9 0.4 -1.5 0.4 -0.3 0.4 2.4 0.4 -0.9 0.4 -1.7 0.4 0.4 0.4 -2.6 0.4 3.7 0.4 0.8 0.4 -3.5 0.4 -0.1 0.4 -0.1 0.4 1 0.4 -0.5 0.4 1.9 0.4 -0.9 0.4 -0.3 0.4 1.1 0.4 0.2 0.4 -0.9 0.4 1.6 0.4 -2.1 0.4 1.2 0.4 0.8 0.4 2.9 0.4 -2.5 0.4 -0.5 0.4 2.3 0.4 0 0.4 -1 0.4 -3.4 0.4 1.3 0.4 0.6 0.4 -0.1 0.4 2.2 0.4 -2.3 0.4 1.3 0.4 -1.8 0.4 3.1 0.4 -1.1 0.4 -0.8 0.4 2.1 0.4 -2.3 0.4 -0.3 0.4 1.9 0.4 -0.8 0.4 0.7 0.4 0.2 0.4 -1 0.4 0.7 0.4 1.4 0.4 -1.1 0.4 -2.3 0.4 0.2 0.4 2 0.4 1.2 0.4 -3.1 0.4 1.9 0.4 -2.3 0.4 0.3 0.4 -0.7 0.4 -0.3 0.4 3.4 0.4 -1.6 0.4 1.9 0.4 1.9 0.4 -2.4 0.4 3.5 0.4 -5.3 0.4 -1.6 0.4 2.9 0.4 0.3 0.4 0 0.4 -1.3 0.4 3.6 0.4 -0.1 0.4 -1.4 0.4 -0.2 0.4 -1.6 0.4 2.5 0.4 -0.4 0.4 4.9 0.4 -5.6 0.4 -1.8 0.4 2.7 0.4 -0.4 0.4 2.1 0.4 -2.1 0.4 0.2 0.4 -0.3 0.4 2.7 0.4 1.4 0.4 -0.7 0.4 0.8 0.4 -2 0.4 -2.9 0.4 0.7 0.4 0.9 0.4 0.7 0.4 2.9 0.4 -3.3 0.4 0.9 0.4 -3.7 0.4 6.6 0.4 -2.5 0.4 1.5 0.4 -0.8 0.4 0.1 0.4 -2.1 0.4 -5.1 0.4 -1.7 0.4 -4 0.4 -3.2 0.4 0.9 0.4 -1.4 0.4 1.5 0.4 -2.9 0.4 0.5 0.4 1.1 0.4 1.5 0.4 -2.5 0.4 1.3 0.4 0.5 0.4 1.6 0.4 -1.1 0.4 0.3 0.4 -1.5 0.4 -2 0.4 -1.8 0.4 4.1 0.4 0.6 0.4 0 0.4 1.9 0.4 -2.7 0.4 4.5 0.4 -0.9 0.4 -1.4 0.4 -1.4 0.4 2.8 0.4 0 0.4 0.9 0.4 -5.3 0.4 2 0.4 -0.3 0.4 -2.6 0.4 3.1 0.4 0 0.4 1.3 0.4 -1.9 0.4 -0.5 0.4 -0.9 0.4 5.4 0.4 -7.1 0.4 0.2 0.4 -0.1 0.4 3.3 0.4 1.9 0.4 -0.1 0.4 2.8 0.4 -0.7 0.4 -4.2 0.4 2.1 0.4 -0.3 0.4 0.1 0.4 -0.8 0.4 2.9 0.4 -1.6 0.4 0.6 0.4 -3.1 0.4 3.9 0.4 0.6 0.4 -3.8 0.4 0.3 0.4 0.8 0.4 1.9 0.4 1.8 0.4 -4.9 0.4 3 0.4 -2 0.4 3.2 0.4 -1.7 0.4 -0.4 0.4 1 0.4 -2.1 0.4 1.6 0.4 -1.7 0.4 0.2 0.4 2.1 0.4 -2 0.4 3.4 0.4 -2 0.4 -0.2 0.4 -0.6 0.4 -1.2 0.4 -0.1 0.4 1.5 0.4 0.7 0.4 -0.3 0.4 -0.7 0.4 2.3 0.4 -1.4 0.4 2.4 0.4 0.6 0.4 0.3 0.4 1.6 0.4 -2 0.4 -0.1 0.4 -0.1 0.4 0.8 0.4 0.4 0.4 -5.4 0.4 5.3 0.4 -0.3 0.4 -0.2 0.4 1.2 0.4 -2.4 0.4 3.8 0.4 -1.2 0.4 -1.7 0.4 4 0.4 -2.6 0.4 2.2 0.4 -2.1 0.4 1.9 0.4 -1.7 0.4 -2 0.4 1.9 0.4 -1.1 0.4 3.1 0.4 -1.6 0.4 0.6 0.4 -3.3 0.4 0.1 0.4 1.4 0.4 1.2 0.4 -1.4 0.4 3.9 0.4 -1.2 0.4 -0.9 0.4 -0.8 0.4 0.7 0.4 1.4 0.4 1.9 0.4 -3 0.4 2.5 0.4 2.3 0.4 -2.1 0.4 0.1 0.4 -0.3 0.4 -2.2 0.4 3 0.4 -1 0.4 -2.5 0.4 1.9 0.4 2.7 0.4 -2.3 0.4 2.9 0.4 1.1 0.4 -4.2 0.4 -6.1 0.4 -3.2 0.4 0.4 0.4 -7.8 0.4 0 0.4 -1.5 0.4 3.4 0.4 -3 0.4 -0.2 0.4 2.2 0.4 -0.7 0.4 0.2 0.4 0.1 0.4 0.7 0.4 0.3 0.4 -2.2 0.4 2 0.4 -2.3 0.4 1.7 0.4 -1.3 0.4 0.3 0.4 0.4 0.4 1.7 0.4 -0.1 0.4 -2.5 0.4 -0.9 0.4 2 0.4 2.5 0.4 -2.8 0.4 -0.2 0.4 4.7 0.4 -3.9 0.4 -1.3 0.4 1.2 0.4 2.3 0.4 -1.5 0.4 -0.5 0.4 -1.1 0.4 1.7 0.4 -0.4 0.4 -1.4 0.4 3.4 0.4 2.4 0.4 -6 0.4 2.5 0.4 2.2 0.4 -1.1 0.4 -2.1 0.4 2 0.4 0 0.4 2 0.4 -3.1 0.4 -2.6 0.4 3.2 0.4 -1 0.4 2.6 0.4 -3.8 0.4 3.1 0.4 0.2 0.4 -1.2 0.4 0.2 0.4 -3.3 0.4 4.4 0.4 -1.4 0.4 -0.8 0.4 -0.2 0.4 2.8 0.4 -1.2 0.4 -1.9 0.4 1.5 0.4 2 0.4 1.8 0.4 1.1 0.4 -3.9 0.4 5.4 0.4 -3.6 0.4 2.1 0.4 -4 0.4 3.1 0.4 1.7 0.4 1.8 0.4 -4.9 0.4 1.7 0.4 2.5 0.4 -5.3 0.4 2.1 0.4 -1.2 0.4 -2.7 0.4 2.6 0.4 2.4 0.4 -0.2 0.4 -0.7 0.4 2.6 0.4 -6.4 0.4 5.5 0.4 2.8 0.4 -2.5 0.4 0.4 0.4 -1 0.4 0.5 0.4 -0.3 0.4 3.8 0.4 -2.1 0.4 -1.7 0.4 -0.9 0.4 1.7 0.4 -1.9 0.4 2.6 0.4 0.2 0.4 -5.3 0.4 5.7 0.4 -0.6 0.4 -3.8 0.4 1 0.4 3.5 0.4 -3.8 0.4 3.4 0.4 3.1 0.4 -5.3 0.4 0.7 0.4 -2.3 0.4 1.3 0.4 3 0.4 1.1 0.4 -0.2 0.4 -1.5 0.4 2.1 0.4 0.1 0.4 0.7 0.4 0.8 0.4 -1.1 0.4 -1 0.4 -3 0.4 2.4 0.4 -3.7 0.4 1.4 0.4 1.7 0.4 0.9 0.4 4.5 0.4 -2.2 0.4 -0.1 0.4 -1.2 0.4 2 0.4 0.3 0.4 -1 0.4 -3.2 0.4 3.5 0.4 -0.3 0.4 -1.6 0.4 -1.4 0.4 -5.3 0.4 -1.7 0.4 -3 0.4 -3.9 0.4 -1.7 0.4 3.1 0.4 -0.9 0.4 -0.3 0.4 2 0.4 2 0.4 -2.3 0.4 0.5 0.4 -2.9 0.4 -0.4 0.4 1.8 0.4 -1.8 0.4 -1.1 0.4 4.6 0.4 -0.1 0.4 0.6 0.4 0.3 0.4 -3.2 0.4 1.8 0.4 -2.2 0.4 1.6 0.4 3 0.4 -4.6 0.4 -0.1 0.4 2.3 0.4 0.6 0.4 -1.4 0.4 -0.5 0.4 0.5 0.4 -1.1 0.4 0.3 0.4 -2.3 0.4 5 0.4 -2.6 0.4 1.5 0.4 -0.4 0.4 1.3 0.4 -1.8 0.4 3.8 0.4 -0.4 0.4 -2.1 0.4 4.3 0.4 -2 0.4 -3.3 0.4 -1.6 0.4 2.6 0.4 -0.9 0.4 -0.9 0.4 0.5 0.4 0.1 0.4 0.7 0.4 -0.1 0.4 -1.4 0.4 3.8 0.4 -4.9 0.4 5.1 0.4 -3.3 0.4 1.7 0.4 -1.9 0.4 3.5 0.4 -2.6 0.4 -0.3 0.4 -1.2 0.4 3.2 0.4 -0.8 0.4 -1.4 0.4 5 0.4 -3.6 0.4 2.4 0.4 -0.8 0.4 -3.4 0.4 1.2 0.4 1.1 0.4 -2.6 0.4 1.8 0.4 1.6 0.4 -0.8 0.4 0.8 0.4 4.2 0.4 -2.9 0.4 3.2 0.4 -5.6 0.4 1.9 0.4 -1.9 0.4 1.8 0.4 1.7 0.4 -1.4 0.4 -2.3 0.4 2.1 0.4 0.5 0.4 0.1 0.4 3.4 0.4 -2.1 0.4 -1.3 0.4 0.7 0.4 1.1 0.4 -3.4 0.4 -0.1 0.4 0.9 0.4 -1 0.4 3.5 0.4 2.1 0.4 1.4 0.4 0 0.4 -0.6 0.4 -0.9 0.4 -2 0.4 4.4 0.4 -1.8 0.4 -1.9 0.4 -2 0.4 2.8 0.4 0.7 0.4 -2.6 0.4 1.7 0.4 0.5 0.4 -0.3 0.4 -2.5 0.4 1.2 0.4 -2.2 0.4 4.4 0.4 -1.8 0.4 1.9 0.4 1.9 0.4 -2.9 0.4 0.2 0.4 -1.1 0.4 -1.6 0.4 5.7 0.4 -2.2 0.4 0.5 0.4 -0.3 0.4 -1.3 0.4 2.8 0.4 -0.6 0.4 -0.8 0.4 1.9 0.4 -0.4 0.4 1.8 0.4 -0.9 0.4 -4.9 0.4 6.1 0.4 -2.8 0.4 -0.7 0.4 -3.7 0.4 -2.6 0.4 -5.1 0.4 -0.7 0.4 -1.9 0.4 3.9 0.4 0.3 0.4 -3 0.4 0.7 0.4 1.9 0.4 -2.6 0.4 1.2 0.4 -0.2 0.4 0.2 0.4 3.9 0.4 -2.7 0.4 1.7 0.4 -1.8 0.4 -0.1 0.4 0.5 0.4 1.3 0.4 -3.3 0.4 -0.4 0.4 -0.1 0.4 1.6 0.4 0.6 0.4 -2.6 0.4 -0.9 0.4 4.2 0.4 0.8 0.4 -0.2 0.4 -3.3 0.4 -0.5 0.4 -0.8 0.4 4.4 0.4 -6.1 0.4 4.4 0.4 1.1 0.4 -2.7 0.4 0.6 0.4 -0.3 0.4 -2.9 0.4 3 0.4 2.3 0.4 -1.6 0.4 2.5 0.4 0.6 0.4 -1.6 0.4 -0.4 0.4 -4 0.4 2.6 0.4 3.4 0.4 -1 0.4 -0.2 0.4 0 0.4 -1.3 0.4 -0.4 0.4 1.7 0.4 -1.2 0.4 -1.2 0.4 0.9 0.4 4.6 0.4 -4.7 0.4 1.5 0.4 -1 0.4 -0.3 0.4 2.5 0.4 0.4 0.4 -0.7 0.4 -0.6 0.4 0.9 0.4 -0.3 0.4 -4.1 0.4 3.8 0.4 0 0.4 0.5 0.4 2.2 0.4 0.8 0.4 -0.5 0.4 -2.7 0.4 -0.7 0.4 2.3 0.4 -3.6 0.4 -2.3 0.4 3 0.4 -0.8 0.4 3.6 0.4 -0.2 0.4 -2.1 0.4 5.1 0.4 -1.2 0.4 2.2 0.4 -2.7 0.4 1.7 0.4 1.5 0.4 0 0.4 -7.4 0.4 3.6 0.4 0.8 0.4 -0.1 0.4 -0.5 0.4 0.3 0.4 -0.1 0.4 5 0.4 -1.5 0.4 0.4 0.4 -0.8 0.4 0.2 0.4 -0.3 0.4 0.1 0.4 -3 0.4 2.7 0.4 4.6 0.4 -5.8 0.4 -3.2 0.4 7.4 0.4 -3.2 0.4 1.2 0.4 -4.6 0.4 2 0.4 0.3 0.4 -0.2 0.4 -1 0.4 3.5 0.4 -2.4 0.4 4.4 0.4 -0.6 0.4 -0.3 0.4 -2.2 0.4 1.6 0.4 0.4 0.4 -1 0.4 3.4 0.4 -2.7 0.4 -2.8 0.4 3.8 0.4 -3.5 0.4 1.3 0.4 1.5 0.4 -0.8 0.4 0.9 0.4 -0.3 0.4 2.8 0.4 -0.9 0.4 0.2" fill="none" stroke="#dd9900" stroke-width="1.7" stroke-linejoin="round"/>
<path d="M64.4 454.2l0.4 -2.8 0.4 0 0.4 -0.6 0.4 3.3 0.4 -4 0.4 2.9 0.4 -0.2 0.4 0.3 0.4 -2.2 0.4 -0.1 0.4 -0.5 0.4 -1.4 0.4 1.4 0.4 -0.5 0.4 -3.4 0.4 7.6 0.4 -1.9 0.4 -0.3 0.4 1.3 0.4 -2.5 0.4 0.8 0.4 -2.5 0.4 0.3 0.4 -1.5 0.4 2.7 0.4 -4 0.4 0.4 0.4 2.4 0.4 -1.6 0.4 0 0.4 2 0.4 -5.3 0.4 6.2 0.4 -1.1 0.4 -0.8 0.4 2.7 0.4 -3.4 0.4 2.6 0.4 -2.7 0.4 2.7 0.4 -0.3 0.4 -1.2 0.4 4 0.4 -3.4 0.4 1.9 0.4 -1.5 0.4 -2.6 0.4 -0.5 0.4 1.6 0.4 -4.6 0.4 3.8 0.4 -2.4 0.4 2.7 0.4 -1.6 0.4 5.6 0.4 -1.9 0.4 -2.5 0.4 -2.4 0.4 1.8 0.4 0 0.4 -0.5 0.4 1.6 0.4 0.3 0.4 -0.4 0.4 -1.8 0.4 0.9 0.4 -2 0.4 1.3 0.4 -1.3 0.4 1.3 0.4 -1.6 0.4 -1.5 0.4 2.9 0.4 0.8 0.4 -0.9 0.4 2.2 0.4 -1 0.4 -4.1 0.4 2.2 0.4 -0.6 0.4 0.6 0.4 2 0.4 -4.7 0.4 4 0.4 -1 0.4 -1.3 0.4 2 0.4 -0.7 0.4 0 0.4 0.4 0.4 3.6 0.4 -0.9 0.4 0.2 0.4 -0.3 0.4 0.7 0.4 2.2 0.4 6.5 0.4 -2.5 0.4 8.6 0.4 1.4 0.4 -0.2 0.4 -0.4 0.4 1.6 0.4 1.4 0.4 -3 0.4 -1.8 0.4 -1.4 0.4 -0.5 0.4 -1.4 0.4 1 0.4 0 0.4 3.2 0.4 -0.2 0.4 -1.8 0.4 -1.7 0.4 2.5 0.4 -2.3 0.4 3.3 0.4 -1.6 0.4 -3.6 0.4 1.1 0.4 1.4 0.4 -0.2 0.4 1.7 0.4 -1.3 0.4 0.1 0.4 -3.6 0.4 4.1 0.4 -5.1 0.4 4.2 0.4 -2.8 0.4 0.1 0.4 0.2 0.4 -2.5 0.4 0.4 0.4 2.2 0.4 3.1 0.4 -4.2 0.4 0.9 0.4 -0.8 0.4 -0.6 0.4 -1 0.4 1.4 0.4 0.6 0.4 0 0.4 -1.5 0.4 -0.2 0.4 3.8 0.4 -2.2 0.4 1.6 0.4 -1.3 0.4 -0.4 0.4 0.1 0.4 0.1 0.4 -0.9 0.4 -6.4 0.4 4.4 0.4 4.1 0.4 -6.6 0.4 2.9 0.4 0.8 0.4 -2 0.4 2.7 0.4 -3.4 0.4 1.4 0.4 0.9 0.4 0.3 0.4 -0.5 0.4 1 0.4 -0.5 0.4 -2.1 0.4 -0.4 0.4 -0.1 0.4 1.1 0.4 -1.2 0.4 0.4 0.4 0.6 0.4 0.7 0.4 1.5 0.4 -3.8 0.4 1.2 0.4 0 0.4 0.1 0.4 1.1 0.4 2 0.4 -0.3 0.4 -3.2 0.4 -1.4 0.4 0.9 0.4 -1.4 0.4 2.1 0.4 -4.5 0.4 3.9 0.4 -0.2 0.4 -1 0.4 1.6 0.4 -2.9 0.4 -3.6 0.4 3.2 0.4 0.8 0.4 -0.8 0.4 2.3 0.4 -3.4 0.4 4.1 0.4 -1.9 0.4 2.6 0.4 -1.6 0.4 0.1 0.4 -2.9 0.4 3.2 0.4 -2.2 0.4 -2.6 0.4 3.6 0.4 -0.9 0.4 2.7 0.4 -0.4 0.4 -1.7 0.4 -4.6 0.4 3.7 0.4 0.7 0.4 -1.7 0.4 2.1 0.4 0.4 0.4 -2.2 0.4 0.9 0.4 -2.2 0.4 -0.8 0.4 1.8 0.4 -0.5 0.4 1.6 0.4 0.5 0.4 -4.4 0.4 -0.5 0.4 1.9 0.4 1.4 0.4 -1.7 0.4 0.2 0.4 0.8 0.4 -1.6 0.4 -0.2 0.4 3.8 0.4 -0.3 0.4 -4.2 0.4 0 0.4 0.6 0.4 3.6 0.4 -4.3 0.4 4.9 0.4 -2.4 0.4 1 0.4 0.7 0.4 -2.7 0.4 0.7 0.4 -1 0.4 5.6 0.4 3.5 0.4 -0.6 0.4 3.4 0.4 1.3 0.4 -1.9 0.4 8.3 0.4 -3.8 0.4 0.9 0.4 -1.7 0.4 1.8 0.4 1.7 0.4 -7.1 0.4 2.3 0.4 -0.4 0.4 1.4 0.4 1.5 0.4 -1.5 0.4 -0.6 0.4 -2 0.4 3.2 0.4 2.2 0.4 -0.3 0.4 1.4 0.4 -3.5 0.4 1.5 0.4 -1.1 0.4 -1.4 0.4 -1.2 0.4 0.8 0.4 0.3 0.4 1.1 0.4 -1.9 0.4 4.1 0.4 -3.4 0.4 0.3 0.4 1 0.4 0.8 0.4 -0.2 0.4 -3.5 0.4 3.2 0.4 -0.2 0.4 2 0.4 -4 0.4 1.1 0.4 0.4 0.4 -2 0.4 3.1 0.4 -1.9 0.4 3.3 0.4 -2.4 0.4 -1.7 0.4 -0.1 0.4 1 0.4 -3 0.4 4.2 0.4 3.7 0.4 -5.1 0.4 2.4 0.4 1.2 0.4 -4.9 0.4 1.4 0.4 -2.7 0.4 -0.4 0.4 -0.1 0.4 4.3 0.4 -2.7 0.4 5.9 0.4 -2.7 0.4 -0.6 0.4 -1.5 0.4 5 0.4 -5.4 0.4 3.8 0.4 -1.1 0.4 -1.9 0.4 -2 0.4 0.8 0.4 -2.8 0.4 4.8 0.4 1.1 0.4 -1.4 0.4 1.6 0.4 -3.2 0.4 2.1 0.4 -3.6 0.4 1 0.4 2.7 0.4 3.2 0.4 -5.6 0.4 -0.1 0.4 -4.4 0.4 4.2 0.4 -0.3 0.4 -2 0.4 0.7 0.4 0.9 0.4 -0.6 0.4 2.6 0.4 -1.1 0.4 -0.8 0.4 3.4 0.4 -3 0.4 0.7 0.4 2.3 0.4 -3.4 0.4 -0.2 0.4 -1.6 0.4 -1.6 0.4 1.4 0.4 -1 0.4 2.1 0.4 0 0.4 -0.9 0.4 2.1 0.4 0.8 0.4 -1.8 0.4 0.3 0.4 -2.9 0.4 -0.9 0.4 1.2 0.4 -2.1 0.4 3.6 0.4 -0.9 0.4 2 0.4 -5.7 0.4 3.4 0.4 0.3 0.4 -1.2 0.4 1.4 0.4 -2 0.4 -0.6 0.4 -1.7 0.4 2.3 0.4 -0.2 0.4 2.1 0.4 -2.1 0.4 -0.4 0.4 0.2 0.4 -1.6 0.4 2.8 0.4 0.4 0.4 -2.2 0.4 0.8 0.4 2.3 0.4 -2.4 0.4 -0.7 0.4 1.6 0.4 2.6 0.4 -1.3 0.4 -0.1 0.4 -2.4 0.4 2.4 0.4 -1.2 0.4 0 0.4 -1.1 0.4 1.8 0.4 -1.9 0.4 4.4 0.4 4.7 0.4 -2.7 0.4 2.4 0.4 6.8 0.4 1.1 0.4 -1.1 0.4 1.8 0.4 -2.1 0.4 1.5 0.4 1.7 0.4 -3 0.4 -0.3 0.4 -0.8 0.4 -2.4 0.4 2.2 0.4 -3 0.4 -0.7 0.4 5.5 0.4 -3.1 0.4 5.2 0.4 -0.2 0.4 -2 0.4 -0.2 0.4 -2.8 0.4 2.4 0.4 -3.8 0.4 3.9 0.4 -4.2 0.4 2.5 0.4 -4.1 0.4 4 0.4 4.7 0.4 -2.8 0.4 -0.6 0.4 -0.7 0.4 -0.1 0.4 1.2 0.4 -1.3 0.4 -3.7 0.4 4.5 0.4 1.3 0.4 2.3 0.4 -3.4 0.4 0.1 0.4 -2.1 0.4 2.5 0.4 1.7 0.4 -5.8 0.4 0.5 0.4 -1.3 0.4 1 0.4 2.9 0.4 1.5 0.4 -3.6 0.4 0.5 0.4 1.6 0.4 -1.7 0.4 0 0.4 -0.5 0.4 -0.4 0.4 -0.8 0.4 1.1 0.4 0.2 0.4 3 0.4 -1.1 0.4 0.1 0.4 0.5 0.4 0.5 0.4 -2.9 0.4 0.9 0.4 -1.8 0.4 2.5 0.4 -0.4 0.4 -1.2 0.4 1.3 0.4 -2.8 0.4 1.7 0.4 -1.6 0.4 -1.3 0.4 1.5 0.4 -0.1 0.4 4.2 0.4 -4.3 0.4 1 0.4 0.8 0.4 -2 0.4 -2.2 0.4 2.5 0.4 -2.9 0.4 5.2 0.4 -4.7 0.4 0.3 0.4 -1.4 0.4 1.4 0.4 5.4 0.4 -2.7 0.4 -2.5 0.4 0.9 0.4 0.6 0.4 0.4 0.4 3 0.4 -0.4 0.4 -0.7 0.4 -1.1 0.4 -4.9 0.4 -1.1 0.4 6 0.4 -1 0.4 -0.7 0.4 -0.1 0.4 -0.2 0.4 0.8 0.4 -0.3 0.4 -0.5 0.4 0.4 0.4 -1.1 0.4 3.1 0.4 -5.1 0.4 3.4 0.4 -2.1 0.4 -2.5 0.4 3.7 0.4 -1.8 0.4 -0.5 0.4 -1.4 0.4 -0.2 0.4 2.2 0.4 1.7 0.4 -3.1 0.4 -1 0.4 1.8 0.4 -3.7 0.4 4.5 0.4 0.1 0.4 -0.4 0.4 -1.2 0.4 -0.6 0.4 0.1 0.4 -1.3 0.4 -0.3 0.4 -0.8 0.4 3.5 0.4 0.1 0.4 -4.8 0.4 3 0.4 -1.8 0.4 1.6 0.4 -0.5 0.4 2.1 0.4 -0.8 0.4 -3.5 0.4 3.5 0.4 2.7 0.4 4.9 0.4 3.3 0.4 5.3 0.4 -0.5 0.4 5.2 0.4 -0.7 0.4 -2.3 0.4 0.6 0.4 1.4 0.4 -0.7 0.4 -4.5 0.4 4.3 0.4 0.4 0.4 -3.8 0.4 -1.1 0.4 3.7 0.4 -2.1 0.4 2.9 0.4 1 0.4 -3.8 0.4 -0.1 0.4 -0.7 0.4 -1 0.4 1.7 0.4 0.6 0.4 1.2 0.4 -0.8 0.4 0.2 0.4 -4.8 0.4 4.8 0.4 -0.4 0.4 -0.7 0.4 1.2 0.4 -3.3 0.4 0.6 0.4 5.8 0.4 0.7 0.4 -0.3 0.4 -4.2 0.4 -2.4 0.4 2.7 0.4 -1.6 0.4 2 0.4 -1.6 0.4 -1.2 0.4 4.1 0.4 -4.3 0.4 -0.2 0.4 0.5 0.4 -1.4 0.4 -1.8 0.4 1.1 0.4 -0.3 0.4 3.9 0.4 -2.2 0.4 1.3 0.4 -0.1 0.4 -0.3 0.4 4.1 0.4 -3.3 0.4 2.1 0.4 -1 0.4 -2.5 0.4 1.2 0.4 -1.9 0.4 1.1 0.4 -2.7 0.4 1.1 0.4 1.8 0.4 0.3 0.4 0.9 0.4 -1.2 0.4 0.5 0.4 -1.5 0.4 0.2 0.4 -2.3 0.4 2.2 0.4 0.6 0.4 2.3 0.4 0 0.4 -3.3 0.4 -1.5 0.4 1.8 0.4 3.1 0.4 -1.7 0.4 -0.7 0.4 -0.7 0.4 0.1 0.4 -2.4 0.4 6.1 0.4 -2.7 0.4 -0.3 0.4 -0.2 0.4 -1.4 0.4 0.6 0.4 -1.4 0.4 -1.7 0.4 0 0.4 1.1 0.4 3.5 0.4 0.1 0.4 -1.9 0.4 0.4 0.4 1.3 0.4 0.2 0.4 -0.6 0.4 0.4 0.4 -4.2 0.4 1.4 0.4 1.6 0.4 -1.7 0.4 3.2 0.4 -5 0.4 2.7 0.4 2.6 0.4 0.2 0.4 -3.7 0.4 1.4 0.4 0.3 0.4 -0.5 0.4 -3.2 0.4 1.3 0.4 -0.2 0.4 1.7 0.4 0.6 0.4 2 0.4 -3 0.4 0.3 0.4 0.6 0.4 -4.4 0.4 4.2 0.4 -0.1 0.4 -2.7 0.4 0.5 0.4 1.3 0.4 -1.2 0.4 1.7 0.4 -1.7 0.4 2.1 0.4 3.4 0.4 1 0.4 -5 0.4 0.1 0.4 0.7 0.4 -2.9 0.4 2.2 0.4 0.1 0.4 -0.4 0.4 -0.9 0.4 0.7 0.4 -3.6 0.4 1.5 0.4 -1.3 0.4 3.1 0.4 0.6 0.4 -0.7 0.4 5.2 0.4 3.2 0.4 1.8 0.4 -1.5 0.4 0.1 0.4 1.8 0.4 1.5 0.4 6.6 0.4 1.7 0.4 1.2 0.4 -1.6 0.4 -3 0.4 1.8 0.4 -3.3 0.4 4.9 0.4 -6.6 0.4 5 0.4 -2.3 0.4 1.7 0.4 2 0.4 -4.3 0.4 5.1 0.4 -1.3 0.4 -3 0.4 5.1 0.4 -3.9 0.4 -0.3 0.4 3.7 0.4 -3.7 0.4 0.5 0.4 -0.6 0.4 -2.1 0.4 5.2 0.4 -1.6 0.4 -1.4 0.4 1 0.4 -3.1 0.4 3.3 0.4 -1.4 0.4 -2.3 0.4 1 0.4 0.2 0.4 2 0.4 0.1 0.4 0.6 0.4 2.1 0.4 -1.6 0.4 0.5 0.4 -2.4 0.4 0.6 0.4 -1.4 0.4 4.1 0.4 -1.2 0.4 -0.5 0.4 2.3 0.4 -2.9 0.4 -2.6 0.4 2.6 0.4 -1.1 0.4 -1.8 0.4 0.6 0.4 0.7 0.4 0.5 0.4 2.5 0.4 -2.4 0.4 -1.3 0.4 1.2 0.4 -1.2 0.4 1.1 0.4 -2.2 0.4 2.9 0.4 -1.5 0.4 4.5 0.4 -0.6 0.4 -1 0.4 -1.9 0.4 0 0.4 0.1 0.4 -2.7 0.4 -0.6 0.4 1.9 0.4 -1.7 0.4 4.6 0.4 0.1 0.4 -2.7 0.4 4.1 0.4 -2.1 0.4 0.3 0.4 -0.9 0.4 0.3 0.4 -2.6 0.4 2.9 0.4 -1.6 0.4 0 0.4 -1.1 0.4 -0.7 0.4 -0.2 0.4 -2 0.4 3.7 0.4 -0.9 0.4 4.5 0.4 -1.8 0.4 -4 0.4 1.7 0.4 -1 0.4 -0.3 0.4 2.5 0.4 -1 0.4 -1.3 0.4 -0.7 0.4 0.8 0.4 1.3 0.4 2.6 0.4 -5.1 0.4 2.6 0.4 -3.7 0.4 2.8 0.4 -2.2 0.4 1.8 0.4 -3 0.4 4.4 0.4 -1.9 0.4 -1.1 0.4 -2.4 0.4 3.3 0.4 0 0.4 -4 0.4 4.1 0.4 -0.5 0.4 0.2 0.4 0.9 0.4 -3.1 0.4 2.9 0.4 0.9 0.4 -1.6 0.4 -1.2 0.4 -0.6 0.4 2.3 0.4 -1.8 0.4 0.4 0.4 -2.2 0.4 2.3 0.4 0.7 0.4 -0.4 0.4 -0.2 0.4 -4.1 0.4 5.9 0.4 -0.6 0.4 -1.7 0.4 2.4 0.4 -3.2 0.4 -0.1 0.4 2.5 0.4 -0.1 0.4 -3.9 0.4 0.8 0.4 1.7 0.4 1.3 0.4 0.5 0.4 0 0.4 0.8 0.4 1.2 0.4 -1.6 0.4 -1.6 0.4 -0.4 0.4 3.7 0.4 -0.1 0.4 -2.7 0.4 1.1 0.4 -1.5 0.4 -0.6 0.4 3.2 0.4 -1.6 0.4 0.2 0.4 -0.6 0.4 0.2 0.4 -0.6 0.4 -1.2 0.4 0.2 0.4 0 0.4 1.8 0.4 2.2 0.4 -6.5 0.4 2.6 0.4 -1.1 0.4 -0.5 0.4 1.3 0.4 -1 0.4 1.8 0.4 -1.5 0.4 3.1 0.4 -5.4 0.4 2.4 0.4 -1.9 0.4 3.1 0.4 -1.7 0.4 0.7 0.4 0.5 0.4 2 0.4 -2.9 0.4 0.8 0.4 0.8 0.4 1.9 0.4 -2.6 0.4 0.9 0.4 -1.4 0.4 0.4 0.4 1.7 0.4 -3.3 0.4 -0.6 0.4 0.1 0.4 -0.6 0.4 2.1 0.4 -0.9 0.4 0.6 0.4 -0.4 0.4 3.3 0.4 0.9 0.4 -4.1 0.4 -1 0.4 0.1 0.4 3.2 0.4 0.1 0.4 -0.9 0.4 -1.5 0.4 4 0.4 -1.8 0.4 -0.9 0.4 0.6 0.4 -3.2 0.4 3.8 0.4 2.8 0.4 -5.8 0.4 0.8 0.4 2.4 0.4 -2.3 0.4 -0.3 0.4 1.2 0.4 0.7 0.4 -0.7 0.4 -3.3 0.4 -3.3 0.4 5.1 0.4 0 0.4 -0.1 0.4 1.6 0.4 0.3 0.4 1.1 0.4 -1.9 0.4 0.9 0.4 0.5 0.4 2.5 0.4 -2.6 0.4 0.1 0.4 0.7 0.4 0.7 0.4 -1.3 0.4 -2.7 0.4 0.6 0.4 3.3 0.4 -2.5 0.4 -0.9 0.4 -0.9 0.4 0.7 0.4 3.8 0.4 -4.9 0.4 0.5 0.4 -0.2 0.4 -3.4 0.4 5.1 0.4 -2.2 0.4 0.3 0.4 -0.5 0.4 2.2 0.4 -1.8 0.4 -4.3 0.4 2.1 0.4 5.9 0.4 -3.1 0.4 -0.3 0.4 -1.2 0.4 4 0.4 -3.7 0.4 2.3 0.4 1.1 0.4 -2.7 0.4 0 0.4 -1.7 0.4 0.1 0.4 1.5 0.4 -1.9 0.4 1.4 0.4 -1.9 0.4 -2.1 0.4 -6.5 0.4 -3 0.4 -2.2 0.4 0.2 0.4 0.5 0.4 -0.3 0.4 -0.7 0.4 0.6 0.4 -5.1 0.4 1.7 0.4 4.1 0.4 -0.3 0.4 -0.7 0.4 -2.3 0.4 1.1 0.4 1.5 0.4 -0.7 0.4 0.8 0.4 0.1 0.4 0.2 0.4 -2 0.4 0.6 0.4 1.8 0.4 1.4 0.4 1.1 0.4 -4.4 0.4 1.4 0.4 0.5 0.4 -2.1 0.4 2.2 0.4 -2.9 0.4 0.7 0.4 1.8 0.4 1.5 0.4 -2.6 0.4 3.4 0.4 -2 0.4 -1.9 0.4 2.2 0.4 -0.2 0.4 0.1 0.4 -1.1 0.4 3 0.4 -2.6 0.4 1 0.4 0.3 0.4 -3.4 0.4 3.2 0.4 0.2 0.4 -2.6 0.4 -1.2 0.4 -0.6 0.4 0.9 0.4 -0.6 0.4 2.3 0.4 -1.8 0.4 1.1 0.4 1.9 0.4 0.1 0.4 -1.2 0.4 2.3 0.4 -3.1 0.4 2.1 0.4 1.4 0.4 2.4 0.4 -3.8 0.4 1.3 0.4 1.7 0.4 -0.3 0.4 -0.3 0.4 -3.8 0.4 1.4 0.4 0.2 0.4 0 0.4 0.9 0.4 -0.6 0.4 -0.2 0.4 -1.4 0.4 3.3 0.4 -2 0.4 0.2 0.4 2.4 0.4 -3.7 0.4 1.3 0.4 1.1 0.4 0 0.4 0.9 0.4 -1.6 0.4 -0.3 0.4 0.5 0.4 0.1 0.4 0.7 0.4 -1.5 0.4 0 0.4 1.9 0.4 0.5 0.4 -2.8 0.4 1 0.4 0.6 0.4 0.3 0.4 -0.8 0.4 0.1 0.4 2.2 0.4 -0.9 0.4 2.5 0.4 -0.5 0.4 -1 0.4 3.4 0.4 -7 0.4 1 0.4 0.9 0.4 1.7 0.4 -1 0.4 -1.7 0.4 3.8 0.4 0.3 0.4 -1 0.4 0 0.4 -3.3 0.4 2.7 0.4 0.3 0.4 4.7 0.4 -5.7 0.4 -0.1 0.4 2 0.4 -0.1 0.4 0.7 0.4 0 0.4 1.8 0.4 -1.2 0.4 0.5 0.4 1.7 0.4 -0.2 0.4 -0.2 0.4 -1.2 0.4 -3.3 0.4 2.1 0.4 -1.2 0.4 1.8 0.4 2.4 0.4 -4.2 0.4 1.2 0.4 -3.4 0.4 4.8 0.4 -1 0.4 2.2 0.4 -2.8 0.4 -1.3 0.4 0.3 0.4 -5.9 0.4 -2.6 0.4 -3.8 0.4 -3.1 0.4 -1.7 0.4 1.9 0.4 -1.6 0.4 -1.8 0.4 0.1 0.4 3.2 0.4 1.1 0.4 -2.2 0.4 -0.7 0.4 2 0.4 0.4 0.4 0.4 0.4 -0.3 0.4 -1.6 0.4 -1.4 0.4 -2.1 0.4 5.1 0.4 -0.6 0.4 -0.3 0.4 2 0.4 -1.8 0.4 3.3 0.4 -0.5 0.4 -0.6 0.4 -2.9 0.4 1.8 0.4 0.9 0.4 1.1 0.4 -4.5 0.4 2.7 0.4 -0.6 0.4 -1.7 0.4 2.5 0.4 -2 0.4 2.9 0.4 -0.8 0.4 -1.6 0.4 -1.1 0.4 5.5 0.4 -7 0.4 1.5 0.4 0.9 0.4 2.1 0.4 0.7 0.4 1.2 0.4 1.6 0.4 -1.4 0.4 -3.1 0.4 0.9 0.4 -1.4 0.4 2.1 0.4 -2.3 0.4 2.7 0.4 -2.5 0.4 3.9 0.4 -5.6 0.4 4.5 0.4 -0.5 0.4 -2.4 0.4 -0.1 0.4 0.6 0.4 3 0.4 2 0.4 -5 0.4 1.8 0.4 -2 0.4 3.8 0.4 -1.6 0.4 -0.1 0.4 -0.1 0.4 -2 0.4 3.2 0.4 -2.2 0.4 0.3 0.4 1.6 0.4 -0.3 0.4 2.1 0.4 -3 0.4 1.1 0.4 -0.3 0.4 -0.9 0.4 -1.5 0.4 2 0.4 1.1 0.4 -0.8 0.4 0.1 0.4 1.4 0.4 0.8 0.4 2 0.4 0.3 0.4 -1.2 0.4 1.4 0.4 1.5 0.4 -4.7 0.4 1.3 0.4 -0.1 0.4 1.1 0.4 -4.7 0.4 4.6 0.4 -1.2 0.4 -0.3 0.4 2.7 0.4 -3.2 0.4 2.8 0.4 -0.7 0.4 0.1 0.4 2.8 0.4 -2.3 0.4 1.9 0.4 -0.7 0.4 0.2 0.4 -0.1 0.4 -2.3 0.4 2.2 0.4 -1.1 0.4 1.6 0.4 -0.2 0.4 0.9 0.4 -2.5 0.4 0.3 0.4 2 0.4 0.7 0.4 -3.2 0.4 4.4 0.4 -0.7 0.4 0 0.4 -1.8 0.4 1 0.4 2.3 0.4 -1.7 0.4 -1.3 0.4 2.2 0.4 4 0.4 -3 0.4 0.5 0.4 -0.8 0.4 -1.5 0.4 3.7 0.4 -1 0.4 -3.1 0.4 2.3 0.4 2.2 0.4 0 0.4 0.5 0.4 2 0.4 -4.2 0.4 -5.5 0.4 -4 0.4 0.4 0.4 -5.6 0.4 -2.8 0.4 -1.5 0.4 3.4 0.4 -5 0.4 3.2 0.4 -2 0.4 0.5 0.4 0.6 0.4 -0.1 0.4 1.1 0.4 0.8 0.4 -2.9 0.4 3.3 0.4 -3.1 0.4 2.1 0.4 -1.6 0.4 1.5 0.4 0 0.4 -0.2 0.4 0.9 0.4 -2.5 0.4 -2 0.4 4.3 0.4 1.5 0.4 -3.2 0.4 -0.4 0.4 4.5 0.4 -4.3 0.4 0.3 0.4 -0.9 0.4 2.8 0.4 -3.7 0.4 2.8 0.4 -2.4 0.4 1.3 0.4 2.3 0.4 -4.5 0.4 4.8 0.4 2.3 0.4 -5.8 0.4 1.3 0.4 3.3 0.4 -1.6 0.4 -1.7 0.4 1.7 0.4 -0.7 0.4 2.5 0.4 -3.4 0.4 -0.8 0.4 0.6 0.4 -0.4 0.4 4.2 0.4 -4.9 0.4 3.3 0.4 -0.8 0.4 -1.7 0.4 2.1 0.4 -3.5 0.4 4 0.4 -2.8 0.4 0.2 0.4 -1.5 0.4 4.1 0.4 -1.7 0.4 -2 0.4 1.8 0.4 2.8 0.4 1.3 0.4 -0.2 0.4 -3.1 0.4 4.3 0.4 -2.1 0.4 1.2 0.4 -4.9 0.4 3.3 0.4 2.2 0.4 1 0.4 -3.6 0.4 0.6 0.4 3.4 0.4 -5.1 0.4 2.9 0.4 -1.6 0.4 -2.9 0.4 4.2 0.4 0.3 0.4 -0.1 0.4 -0.6 0.4 3.2 0.4 -5.2 0.4 5 0.4 2.1 0.4 -2.2 0.4 -0.4 0.4 -0.8 0.4 0.5 0.4 -2 0.4 4.3 0.4 -0.9 0.4 -4 0.4 1.1 0.4 0.6 0.4 -1 0.4 2.5 0.4 0.9 0.4 -5.1 0.4 6.6 0.4 -1.3 0.4 -4.5 0.4 1.8 0.4 2.7 0.4 -4.3 0.4 5.4 0.4 0.8 0.4 -3.2 0.4 1.3 0.4 -2.4 0.4 -0.2 0.4 4.5 0.4 0.3 0.4 -2 0.4 -1.8 0.4 2.6 0.4 1.8 0.4 -0.3 0.4 2.7 0.4 -0.8 0.4 -3.2 0.4 0.4 0.4 0.1 0.4 -3.8 0.4 0.5 0.4 2.5 0.4 0.8 0.4 3.5 0.4 -1 0.4 -0.4 0.4 -0.1 0.4 0.3 0.4 0.3 0.4 0.8 0.4 -3.4 0.4 4.3 0.4 -2.4 0.4 -1 0.4 -0.7 0.4 -4.1 0.4 -3.8 0.4 -2.2 0.4 -4.4 0.4 -0.6 0.4 3.7 0.4 -2 0.4 1 0.4 -0.3 0.4 0.7 0.4 0.1 0.4 0.6 0.4 -2.7 0.4 -1 0.4 0.4 0.4 -1.9 0.4 0.1 0.4 4.4 0.4 -1.5 0.4 0.8 0.4 1.2 0.4 -2.8 0.4 0.7 0.4 -1.5 0.4 1.3 0.4 2 0.4 -3 0.4 -1 0.4 1.2 0.4 2.4 0.4 -1.8 0.4 -0.8 0.4 0.9 0.4 -0.6 0.4 -0.9 0.4 -0.9 0.4 2.1 0.4 -0.3 0.4 1.7 0.4 -2.2 0.4 1.6 0.4 -1.6 0.4 4.7 0.4 0.6 0.4 -3.4 0.4 4.6 0.4 -2.8 0.4 -2.6 0.4 -2.5 0.4 1.2 0.4 1.4 0.4 -0.8 0.4 -0.2 0.4 1.6 0.4 0.7 0.4 -0.7 0.4 -1.6 0.4 1.9 0.4 -4.9 0.4 7.5 0.4 -3.6 0.4 0.6 0.4 -1.2 0.4 3.8 0.4 -2.8 0.4 0.7 0.4 -2 0.4 2.4 0.4 -0.1 0.4 -1 0.4 3.2 0.4 -3.4 0.4 2.3 0.4 -2 0.4 -2.2 0.4 0.8 0.4 1.6 0.4 -1.7 0.4 1.7 0.4 1.5 0.4 -0.7 0.4 0.8 0.4 2.5 0.4 -1.2 0.4 1.4 0.4 -5 0.4 2.7 0.4 -2.1 0.4 0.5 0.4 3.9 0.4 -2.2 0.4 -1.6 0.4 1.1 0.4 2.9 0.4 -2.9 0.4 3.8 0.4 -0.8 0.4 -0.1 0.4 0 0.4 1.4 0.4 -4.6 0.4 1.7 0.4 -1.2 0.4 0.2 0.4 0.9 0.4 3.6 0.4 1.5 0.4 -0.3 0.4 -0.8 0.4 -0.2 0.4 -1.5 0.4 2.8 0.4 -0.6 0.4 -2 0.4 -2.9 0.4 3.2 0.4 0.2 0.4 -1.2 0.4 0.5 0.4 0.7 0.4 1.1 0.4 -1.3 0.4 -1.2 0.4 -0.3 0.4 3.2 0.4 -0.8 0.4 2.3 0.4 0.9 0.4 -5.4 0.4 2.1 0.4 -2.1 0.4 -1.7 0.4 5.9 0.4 -1.7 0.4 1 0.4 -1 0.4 -0.3 0.4 1.1 0.4 -1 0.4 0 0.4 2.3 0.4 -1.1 0.4 2.3 0.4 0.4 0.4 -4.7 0.4 4.7 0.4 -4 0.4 0.2 0.4 -3 0.4 -4.6 0.4 -3.9 0.4 -1 0.4 -2.1 0.4 1.9 0.4 0.5 0.4 -1 0.4 0.5 0.4 0.6 0.4 -1.9 0.4 1.7 0.4 -0.8 0.4 -1 0.4 3.5 0.4 -1.7 0.4 1.8 0.4 -1.8 0.4 -1.3 0.4 0.5 0.4 2.4 0.4 -3.8 0.4 0.6 0.4 -0.4 0.4 2.3 0.4 -0.5 0.4 -1.2 0.4 0.2 0.4 4.5 0.4 -0.7 0.4 0 0.4 -2.4 0.4 -1.2 0.4 -1.3 0.4 5.2 0.4 -5.8 0.4 3.4 0.4 1.3 0.4 -2.2 0.4 1 0.4 -1 0.4 -2.4 0.4 1.3 0.4 2.5 0.4 -1.7 0.4 2.9 0.4 -0.3 0.4 -1.1 0.4 1.3 0.4 -5.6 0.4 0.9 0.4 6.1 0.4 -0.3 0.4 0.1 0.4 -1.3 0.4 -1 0.4 -1.3 0.4 1.3 0.4 0.9 0.4 -2.5 0.4 3.8 0.4 1.7 0.4 -4.4 0.4 0.2 0.4 0.2 0.4 0.6 0.4 1.5 0.4 0.4 0.4 -0.2 0.4 -1.8 0.4 1.3 0.4 -0.9 0.4 -3 0.4 3.7 0.4 0 0.4 1.1 0.4 1.2 0.4 1.6 0.4 -1.3 0.4 -0.7 0.4 -1.6 0.4 2.3 0.4 -3.5 0.4 -2 0.4 0.8 0.4 -0.3 0.4 4.3 0.4 -0.8 0.4 -0.8 0.4 3.6 0.4 -1.5 0.4 1.9 0.4 -2 0.4 3 0.4 -0.4 0.4 0.9 0.4 -5.9 0.4 2.1 0.4 0.9 0.4 -1.2 0.4 0.7 0.4 0.8 0.4 -1 0.4 4.9 0.4 -2.9 0.4 2.7 0.4 -1.8 0.4 -0.1 0.4 -1.8 0.4 1.1 0.4 -3.1 0.4 3.9 0.4 2.1 0.4 -3.9 0.4 -3.5 0.4 6.1 0.4 -2.4 0.4 1.2 0.4 -3.7 0.4 1.4 0.4 0.6 0.4 -0.9 0.4 0.2 0.4 2.9 0.4 -1.5 0.4 4.8 0.4 -1.9 0.4 -0.6 0.4 -2.5 0.4 2.8 0.4 -0.2 0.4 -2.3 0.4 5.7 0.4 -4.5 0.4 -1.9 0.4 3.4 0.4 -3.6 0.4 2.5 0.4 0 0.4 0.1 0.4 1.4 0.4 -1.5 0.4 2.7 0.4 1 0.4 -1.2" fill="none" stroke="#cccc00" stroke-width="1.7" stroke-linejoin="round"/>
<path d="M64.4 420.6l0.4 -1.7 0.4 1.1 0.4 1.7 0.4 2.6 0.4 -4 0.4 1.6 0.4 0.1 0.4 -0.3 0.4 -1.5 0.4 0.6 0.4 -2.1 0.4 0.6 0.4 1.1 0.4 -3 0.4 -1.8 0.4 8.9 0.4 -2 0.4 -1.5 0.4 2.5 0.4 -2.6 0.4 0.4 0.4 -1.1 0.4 1.4 0.4 -4.8 0.4 3.3 0.4 -2.1 0.4 -1.4 0.4 2.7 0.4 -0.5 0.4 -1.3 0.4 1.3 0.4 -4.9 0.4 5.5 0.4 -0.6 0.4 -1.7 0.4 3.8 0.4 -3.1 0.4 2 0.4 -1.6 0.4 3.5 0.4 -3.3 0.4 -1.2 0.4 5.9 0.4 -3.4 0.4 0.4 0.4 1.7 0.4 -4 0.4 0.1 0.4 1.5 0.4 -6.8 0.4 4.5 0.4 -3.3 0.4 4.1 0.4 -1.3 0.4 4.9 0.4 -0.6 0.4 -4 0.4 -1.9 0.4 1.1 0.4 0.7 0.4 -0.6 0.4 2.4 0.4 -0.3 0.4 -1 0.4 -1.3 0.4 1.4 0.4 -2.2 0.4 1 0.4 -1.2 0.4 3.1 0.4 -1.4 0.4 -1.6 0.4 2 0.4 -1.5 0.4 0 0.4 1.6 0.4 0 0.4 -4.1 0.4 2.9 0.4 -1.5 0.4 0.5 0.4 1.5 0.4 -3.6 0.4 3.7 0.4 -0.6 0.4 -0.4 0.4 -0.2 0.4 0.3 0.4 -0.4 0.4 1.8 0.4 1.8 0.4 0.6 0.4 -2.1 0.4 2.3 0.4 -0.1 0.4 2 0.4 6.7 0.4 -2.3 0.4 6.1 0.4 4.3 0.4 -0.9 0.4 0.7 0.4 0.2 0.4 2.6 0.4 -3.7 0.4 -0.7 0.4 -1.8 0.4 -1.3 0.4 1.5 0.4 0.7 0.4 -1.4 0.4 2.7 0.4 0.9 0.4 -4.2 0.4 -0.3 0.4 2.2 0.4 -0.4 0.4 2.5 0.4 -1.9 0.4 -4.7 0.4 0.4 0.4 3.6 0.4 -0.6 0.4 3 0.4 -1.6 0.4 -0.8 0.4 -3.2 0.4 3.7 0.4 -3.7 0.4 3.9 0.4 -3.9 0.4 -0.6 0.4 1.3 0.4 0 0.4 -2.3 0.4 1.2 0.4 2.7 0.4 -1.2 0.4 0 0.4 -0.9 0.4 -0.7 0.4 0.9 0.4 -0.8 0.4 2.8 0.4 -2.1 0.4 -1 0.4 0.4 0.4 2.7 0.4 -0.7 0.4 -1.1 0.4 -0.3 0.4 -0.2 0.4 0.2 0.4 1.4 0.4 -1.4 0.4 -7.3 0.4 5.3 0.4 4.2 0.4 -7 0.4 3.4 0.4 1.3 0.4 -1.1 0.4 2 0.4 -4.3 0.4 1.1 0.4 1.9 0.4 0.1 0.4 -1.5 0.4 0.8 0.4 0.8 0.4 -2.5 0.4 0.7 0.4 1 0.4 -1.6 0.4 -1.5 0.4 2.3 0.4 0.9 0.4 -1 0.4 2.4 0.4 -3.3 0.4 -0.4 0.4 -1.4 0.4 1.9 0.4 0.6 0.4 3.3 0.4 -1.7 0.4 -4.3 0.4 -0.1 0.4 1.8 0.4 -1.9 0.4 1.6 0.4 -3.7 0.4 2.8 0.4 1 0.4 0.2 0.4 0.9 0.4 -3.7 0.4 -1.6 0.4 0.8 0.4 0.3 0.4 0 0.4 2.4 0.4 -1.8 0.4 3.3 0.4 -0.9 0.4 -0.1 0.4 0.3 0.4 0.3 0.4 -4.7 0.4 4.3 0.4 -3.3 0.4 -1.3 0.4 3.3 0.4 -0.4 0.4 2.5 0.4 -0.4 0.4 -2 0.4 -3.9 0.4 3.6 0.4 0.3 0.4 -0.1 0.4 1.2 0.4 0.5 0.4 -2 0.4 1.6 0.4 -3.1 0.4 -0.8 0.4 1 0.4 0.8 0.4 1.2 0.4 -0.4 0.4 -4.5 0.4 -1 0.4 3.7 0.4 -1.1 0.4 0.2 0.4 -1.9 0.4 2.8 0.4 -1.7 0.4 -0.8 0.4 3 0.4 0.4 0.4 -2.4 0.4 -2.4 0.4 0.8 0.4 2.4 0.4 -3.3 0.4 5.9 0.4 -2.4 0.4 -0.1 0.4 1.6 0.4 -2.8 0.4 1.5 0.4 -2.8 0.4 6.6 0.4 3.6 0.4 -1.7 0.4 4 0.4 1.5 0.4 -1 0.4 7.1 0.4 -5 0.4 2 0.4 -2.1 0.4 1.7 0.4 1.2 0.4 -7.2 0.4 3.1 0.4 -0.1 0.4 0.6 0.4 1.4 0.4 -1.6 0.4 0.5 0.4 -1.7 0.4 3.4 0.4 1.1 0.4 -0.9 0.4 0.9 0.4 -1.3 0.4 2 0.4 -1 0.4 -2.6 0.4 -1.1 0.4 3.1 0.4 -1.1 0.4 0 0.4 -2.9 0.4 5 0.4 -4.1 0.4 1.7 0.4 1 0.4 0.1 0.4 -1.2 0.4 -0.6 0.4 2.5 0.4 -0.2 0.4 0.3 0.4 -2.7 0.4 0.5 0.4 1.8 0.4 -4.2 0.4 3.8 0.4 -1.6 0.4 2.2 0.4 -2.8 0.4 0 0.4 -0.5 0.4 1.2 0.4 -2.8 0.4 2.7 0.4 3 0.4 -2.6 0.4 2.7 0.4 0.7 0.4 -5.4 0.4 0.8 0.4 -0.2 0.4 -1.8 0.4 -0.2 0.4 3.8 0.4 -0.5 0.4 5.6 0.4 -3.4 0.4 -0.6 0.4 -2 0.4 4.5 0.4 -3.5 0.4 3.4 0.4 -2.3 0.4 -0.9 0.4 -2.7 0.4 0.7 0.4 -2.3 0.4 4 0.4 3.3 0.4 -1.8 0.4 0.9 0.4 -3.7 0.4 0.1 0.4 -0.8 0.4 0.4 0.4 1.5 0.4 3.2 0.4 -4.5 0.4 -0.1 0.4 -2 0.4 2.7 0.4 -1.1 0.4 -1.1 0.4 -1 0.4 3 0.4 -0.9 0.4 1.6 0.4 -0.7 0.4 -1.3 0.4 2.6 0.4 -1.7 0.4 0.8 0.4 1.3 0.4 -0.5 0.4 -3.1 0.4 0.5 0.4 -1.3 0.4 0.8 0.4 -0.2 0.4 -0.2 0.4 1.2 0.4 -2.1 0.4 3.3 0.4 0 0.4 -1.9 0.4 0.2 0.4 -2.3 0.4 -1.6 0.4 2.4 0.4 -3.2 0.4 4.9 0.4 -0.5 0.4 1.4 0.4 -3.9 0.4 2.4 0.4 -1.1 0.4 -0.3 0.4 1 0.4 -1 0.4 -0.9 0.4 -0.2 0.4 -0.1 0.4 0.4 0.4 0.9 0.4 -0.2 0.4 -0.2 0.4 -0.6 0.4 0 0.4 -0.1 0.4 0.8 0.4 -0.4 0.4 -0.3 0.4 3.1 0.4 -4 0.4 1.7 0.4 -0.3 0.4 2.8 0.4 -0.9 0.4 -0.4 0.4 -2.7 0.4 2.5 0.4 -1.2 0.4 1 0.4 -1 0.4 0.7 0.4 0.2 0.4 1.9 0.4 5 0.4 -3.1 0.4 2.8 0.4 7.2 0.4 1.3 0.4 -1.7 0.4 1.4 0.4 -1.8 0.4 2.4 0.4 1.5 0.4 -3 0.4 2.4 0.4 -3.5 0.4 -1.3 0.4 3.3 0.4 -4.1 0.4 -0.7 0.4 5 0.4 -1.7 0.4 4.2 0.4 -1.1 0.4 -1.4 0.4 0.6 0.4 -4.4 0.4 2.1 0.4 -2.7 0.4 5.4 0.4 -7.1 0.4 3.6 0.4 -3.5 0.4 3.6 0.4 3.7 0.4 -1.3 0.4 -1.2 0.4 -1.3 0.4 1.5 0.4 1.8 0.4 -3.9 0.4 -3.8 0.4 5.5 0.4 0 0.4 2.6 0.4 -2.9 0.4 -1.3 0.4 -0.4 0.4 1 0.4 1.7 0.4 -4.5 0.4 1.3 0.4 -0.5 0.4 0 0.4 1.7 0.4 3.1 0.4 -4.4 0.4 1.1 0.4 2.5 0.4 -2.9 0.4 1.9 0.4 -1.8 0.4 -0.1 0.4 -1.7 0.4 2.2 0.4 -0.7 0.4 2.8 0.4 -2.6 0.4 2 0.4 0.4 0.4 -0.1 0.4 -1.4 0.4 -0.9 0.4 -0.5 0.4 1.9 0.4 0.1 0.4 -0.8 0.4 1.4 0.4 -2.9 0.4 -0.4 0.4 0.6 0.4 -4.3 0.4 3.9 0.4 -1 0.4 3.4 0.4 -1.6 0.4 -1 0.4 2.7 0.4 -1.9 0.4 -1.1 0.4 1.5 0.4 -3.3 0.4 5.2 0.4 -3.7 0.4 0.3 0.4 -3.5 0.4 3.9 0.4 2.3 0.4 -1.6 0.4 -0.4 0.4 0 0.4 -1.4 0.4 0.5 0.4 3.7 0.4 -0.6 0.4 -1.7 0.4 0.7 0.4 -4.1 0.4 -0.8 0.4 4.2 0.4 -2.3 0.4 -0.5 0.4 1 0.4 0.3 0.4 0.6 0.4 -1.2 0.4 -0.4 0.4 1.3 0.4 -0.8 0.4 2.3 0.4 -4 0.4 2.3 0.4 -1.6 0.4 -1.3 0.4 3.8 0.4 -4 0.4 0.9 0.4 -0.9 0.4 -0.5 0.4 2.2 0.4 2.2 0.4 -3.3 0.4 -1.9 0.4 -0.1 0.4 -2 0.4 3.6 0.4 1.7 0.4 -2.6 0.4 0.2 0.4 -0.8 0.4 0.1 0.4 0.7 0.4 -0.2 0.4 -2.7 0.4 3.6 0.4 1.9 0.4 -4.7 0.4 1.5 0.4 -0.5 0.4 2.8 0.4 -2 0.4 2.9 0.4 -2.8 0.4 -3.3 0.4 3.7 0.4 4.7 0.4 4.7 0.4 3.7 0.4 4.6 0.4 0.2 0.4 3.6 0.4 0.4 0.4 -4.4 0.4 2.8 0.4 0.2 0.4 -0.3 0.4 -6 0.4 4.4 0.4 3.4 0.4 -6 0.4 -1.9 0.4 4.4 0.4 -1.4 0.4 1.2 0.4 1 0.4 -4 0.4 1.4 0.4 -0.9 0.4 -0.1 0.4 1.6 0.4 -0.9 0.4 3.3 0.4 -1.3 0.4 1.4 0.4 -5.7 0.4 2.8 0.4 0 0.4 -0.8 0.4 0.3 0.4 -2 0.4 1 0.4 3.7 0.4 3.2 0.4 0.7 0.4 -4.9 0.4 -2.1 0.4 0.4 0.4 -1.3 0.4 3.4 0.4 -2 0.4 -2.2 0.4 3 0.4 -4.6 0.4 -0.5 0.4 1.8 0.4 -1.3 0.4 -1.7 0.4 0.4 0.4 -0.2 0.4 -0.2 0.4 0.9 0.4 2.5 0.4 -0.6 0.4 0.5 0.4 3.6 0.4 -3.5 0.4 3.5 0.4 -2.8 0.4 -0.1 0.4 0.2 0.4 -3.5 0.4 1.1 0.4 -2 0.4 1 0.4 2.8 0.4 -0.7 0.4 0.4 0.4 -1 0.4 -0.4 0.4 -0.5 0.4 -0.2 0.4 -1.5 0.4 1.5 0.4 -0.4 0.4 4.1 0.4 -2.2 0.4 -2 0.4 -0.7 0.4 0.6 0.4 3.7 0.4 -3 0.4 0.4 0.4 0.3 0.4 -1.3 0.4 -0.4 0.4 4.6 0.4 -3 0.4 2.4 0.4 -0.4 0.4 -2.9 0.4 1.8 0.4 -2.3 0.4 -2.2 0.4 0.2 0.4 2.7 0.4 1.5 0.4 -0.1 0.4 -0.7 0.4 -0.9 0.4 2.2 0.4 0.4 0.4 -0.8 0.4 -0.2 0.4 -4.8 0.4 2.8 0.4 0 0.4 0.5 0.4 2.3 0.4 -4.3 0.4 2.4 0.4 1.6 0.4 0.8 0.4 -3.4 0.4 1.7 0.4 0.8 0.4 -1.6 0.4 -2.1 0.4 2.5 0.4 -1.3 0.4 2 0.4 1.5 0.4 -0.4 0.4 -2.6 0.4 0.4 0.4 0.7 0.4 -4.4 0.4 3.1 0.4 0.7 0.4 -1.6 0.4 -1.3 0.4 1.9 0.4 -1.1 0.4 1.7 0.4 -3.1 0.4 3.6 0.4 4.7 0.4 -0.3 0.4 -3.1 0.4 -2.3 0.4 0.4 0.4 -0.7 0.4 1.5 0.4 0 0.4 -0.7 0.4 0.8 0.4 -1.2 0.4 -3.9 0.4 2.1 0.4 -0.8 0.4 2.5 0.4 1.7 0.4 1 0.4 1.9 0.4 2 0.4 3.1 0.4 -2.2 0.4 1.5 0.4 -1 0.4 1.5 0.4 7.2 0.4 1.8 0.4 0.4 0.4 -0.7 0.4 -3.2 0.4 1.1 0.4 -2.1 0.4 3.9 0.4 -6.2 0.4 5.4 0.4 -2.2 0.4 0 0.4 1.8 0.4 -3.5 0.4 5.6 0.4 -0.2 0.4 -3.9 0.4 6 0.4 -4.6 0.4 1.5 0.4 1.6 0.4 -3.9 0.4 1.5 0.4 -2.4 0.4 -0.3 0.4 3.5 0.4 -1.4 0.4 -2.1 0.4 3.3 0.4 -2.7 0.4 2.1 0.4 -2.2 0.4 -1.4 0.4 1.2 0.4 0.7 0.4 1.1 0.4 0.6 0.4 -0.4 0.4 3.1 0.4 -2.8 0.4 1.8 0.4 -3.1 0.4 0.3 0.4 -1 0.4 1.7 0.4 -1.1 0.4 2.3 0.4 0.2 0.4 -1.7 0.4 -1.7 0.4 1.5 0.4 -1.7 0.4 -0.8 0.4 -1.2 0.4 2.9 0.4 0.6 0.4 2.9 0.4 -0.9 0.4 -3.8 0.4 2.3 0.4 -0.8 0.4 -0.7 0.4 -0.9 0.4 2.2 0.4 -3.9 0.4 7.9 0.4 -1.7 0.4 -0.2 0.4 -3.4 0.4 -1 0.4 1.3 0.4 -2.8 0.4 -0.4 0.4 3.8 0.4 -3.4 0.4 4.8 0.4 0.7 0.4 -2.6 0.4 2.1 0.4 0.5 0.4 -1.4 0.4 0 0.4 0.1 0.4 -1.7 0.4 2.9 0.4 -1.7 0.4 0.1 0.4 -0.8 0.4 -1.8 0.4 1.3 0.4 -1.3 0.4 1 0.4 0.8 0.4 2.9 0.4 0 0.4 -3.7 0.4 1.1 0.4 -1.4 0.4 -1.4 0.4 4 0.4 -1.1 0.4 -1.6 0.4 -0.6 0.4 -0.7 0.4 1.9 0.4 3 0.4 -6.4 0.4 4.2 0.4 -4.9 0.4 3.5 0.4 -0.9 0.4 1.2 0.4 -4.7 0.4 6.2 0.4 -0.4 0.4 -2.5 0.4 -1.9 0.4 1.5 0.4 -0.7 0.4 -2.6 0.4 4.6 0.4 -1.4 0.4 0.4 0.4 0.2 0.4 -1.9 0.4 2.7 0.4 1.8 0.4 -2.9 0.4 -2.3 0.4 0.3 0.4 1.2 0.4 -1.8 0.4 1.1 0.4 -0.4 0.4 2.2 0.4 0.1 0.4 -0.5 0.4 1.4 0.4 -4.5 0.4 5.5 0.4 -1.3 0.4 -1.3 0.4 2.1 0.4 -2.8 0.4 -0.2 0.4 3 0.4 -2 0.4 -2.3 0.4 1.5 0.4 -0.2 0.4 1.6 0.4 1.8 0.4 -1.3 0.4 1 0.4 1.7 0.4 -1.6 0.4 -2.1 0.4 -0.9 0.4 4.4 0.4 -0.3 0.4 -3.2 0.4 1.6 0.4 -3.7 0.4 1.8 0.4 3.6 0.4 -3.3 0.4 1 0.4 1.5 0.4 0.1 0.4 -3.6 0.4 1.8 0.4 -1.9 0.4 0.9 0.4 2.8 0.4 0.8 0.4 -5.9 0.4 1.8 0.4 -2.5 0.4 1.7 0.4 -0.5 0.4 2.5 0.4 -0.7 0.4 0.4 0.4 3.2 0.4 -5.1 0.4 1.5 0.4 -0.5 0.4 1.9 0.4 -2.3 0.4 1 0.4 -0.6 0.4 3.4 0.4 -3.1 0.4 0.5 0.4 -0.2 0.4 2.7 0.4 -2.8 0.4 -0.8 0.4 1.2 0.4 -1 0.4 1.1 0.4 -2.5 0.4 0.6 0.4 0.1 0.4 -0.6 0.4 1.5 0.4 -1.1 0.4 0.5 0.4 1.7 0.4 0.7 0.4 2.5 0.4 -5.7 0.4 -1.3 0.4 0.7 0.4 3.1 0.4 0.9 0.4 -1 0.4 -0.1 0.4 2.4 0.4 -2.4 0.4 0.1 0.4 1.1 0.4 -4.4 0.4 3.9 0.4 1.7 0.4 -2.9 0.4 -0.6 0.4 2.6 0.4 -2.7 0.4 0.4 0.4 1.6 0.4 -1.6 0.4 1.1 0.4 -3.2 0.4 -3.6 0.4 5.3 0.4 0.7 0.4 -1.1 0.4 2.2 0.4 0.4 0.4 -0.5 0.4 -2 0.4 1.8 0.4 0.4 0.4 0.6 0.4 -0.4 0.4 -1.7 0.4 1 0.4 0.6 0.4 -0.5 0.4 -1.6 0.4 2.1 0.4 1.2 0.4 -2.5 0.4 -1 0.4 1.1 0.4 -0.7 0.4 3.7 0.4 -4.1 0.4 0.9 0.4 -1.1 0.4 -1.7 0.4 1.9 0.4 1 0.4 -0.5 0.4 -0.7 0.4 2.4 0.4 -1.7 0.4 -6 0.4 4.4 0.4 4.5 0.4 -3.9 0.4 1.4 0.4 -0.7 0.4 2.3 0.4 -3.8 0.4 1.5 0.4 2 0.4 -1 0.4 -1.3 0.4 -1.4 0.4 -0.1 0.4 3.8 0.4 -3.1 0.4 1.4 0.4 -2.1 0.4 -1 0.4 -5.5 0.4 -2.8 0.4 0.5 0.4 -0.1 0.4 -1 0.4 -0.6 0.4 -0.1 0.4 0.1 0.4 -5.1 0.4 1.1 0.4 3.8 0.4 -1.3 0.4 -0.4 0.4 -1.8 0.4 1.1 0.4 -1.1 0.4 1.7 0.4 -0.4 0.4 0.7 0.4 1.2 0.4 -2.6 0.4 -0.3 0.4 3 0.4 -1.4 0.4 1.9 0.4 -1.4 0.4 -0.3 0.4 -0.1 0.4 -1.8 0.4 1.2 0.4 -1.1 0.4 -0.3 0.4 1.3 0.4 2.3 0.4 -2.3 0.4 2.8 0.4 -2.8 0.4 -1.9 0.4 2.9 0.4 -1 0.4 -0.7 0.4 0.1 0.4 3 0.4 -2.3 0.4 0.1 0.4 1 0.4 -3.9 0.4 3 0.4 0.8 0.4 -3.3 0.4 -1.3 0.4 1 0.4 0.7 0.4 0.2 0.4 -0.8 0.4 -0.9 0.4 2.2 0.4 0.2 0.4 1.1 0.4 -1.1 0.4 1.1 0.4 -3.6 0.4 2.4 0.4 1.9 0.4 1.2 0.4 -1.7 0.4 -0.9 0.4 2.2 0.4 -1.5 0.4 1 0.4 -5.3 0.4 1.6 0.4 1.6 0.4 -0.5 0.4 1.5 0.4 -0.4 0.4 -2 0.4 0.8 0.4 0.9 0.4 0.3 0.4 -0.9 0.4 3.5 0.4 -3 0.4 -1 0.4 2.3 0.4 -0.1 0.4 -0.1 0.4 -0.5 0.4 -0.9 0.4 1 0.4 1.7 0.4 -0.6 0.4 -1.9 0.4 0.6 0.4 1.4 0.4 0.7 0.4 -5.1 0.4 3.7 0.4 -1 0.4 0.4 0.4 -2.2 0.4 1.7 0.4 1.5 0.4 -1.4 0.4 4.9 0.4 -0.3 0.4 -1.2 0.4 1.8 0.4 -5.2 0.4 -0.6 0.4 1.3 0.4 1.2 0.4 -0.6 0.4 0.3 0.4 2.4 0.4 -0.1 0.4 -0.9 0.4 0.4 0.4 -4.3 0.4 5.4 0.4 -2.7 0.4 6.2 0.4 -4.8 0.4 -2.9 0.4 3.2 0.4 -0.5 0.4 1.3 0.4 0 0.4 0 0.4 0.3 0.4 1.6 0.4 0.1 0.4 -0.3 0.4 0.6 0.4 -0.6 0.4 -3.8 0.4 1.8 0.4 0.5 0.4 0.6 0.4 2.6 0.4 -3.3 0.4 1.5 0.4 -4.7 0.4 5.4 0.4 0.3 0.4 1.2 0.4 -2.2 0.4 -0.4 0.4 -1 0.4 -5.1 0.4 -2.8 0.4 -4.5 0.4 -0.6 0.4 -2.7 0.4 1.2 0.4 1.1 0.4 -3.9 0.4 0.9 0.4 3.1 0.4 -0.9 0.4 -2.2 0.4 1.4 0.4 -0.9 0.4 3 0.4 0.2 0.4 -0.7 0.4 -2.5 0.4 -1.4 0.4 -2.2 0.4 4.7 0.4 -1 0.4 0.5 0.4 2.3 0.4 -2.2 0.4 4.1 0.4 -0.4 0.4 -0.4 0.4 -3.1 0.4 3.3 0.4 -0.3 0.4 0.9 0.4 -6 0.4 2.9 0.4 -0.3 0.4 -1.7 0.4 3.8 0.4 -1.1 0.4 0.3 0.4 0.2 0.4 -1.8 0.4 -1.6 0.4 5.1 0.4 -6.3 0.4 1.3 0.4 -0.2 0.4 3.4 0.4 -0.5 0.4 2.1 0.4 0.9 0.4 -1.2 0.4 -2.4 0.4 1 0.4 -0.7 0.4 0.8 0.4 -0.8 0.4 3.1 0.4 -3.6 0.4 2.4 0.4 -3.5 0.4 3.2 0.4 0.8 0.4 -3.1 0.4 -1.2 0.4 1.1 0.4 2.8 0.4 1.8 0.4 -5.3 0.4 3.2 0.4 -2.2 0.4 2.9 0.4 -1.9 0.4 0 0.4 0 0.4 -1.5 0.4 2.4 0.4 -3.2 0.4 1.1 0.4 0.4 0.4 0.8 0.4 1.4 0.4 -2.2 0.4 1.3 0.4 -0.6 0.4 -1.2 0.4 -0.2 0.4 2.2 0.4 0.1 0.4 -0.8 0.4 -0.8 0.4 2.6 0.4 -0.8 0.4 2.5 0.4 0.9 0.4 -1 0.4 3.2 0.4 -1.2 0.4 -1 0.4 -0.1 0.4 -1.7 0.4 1 0.4 -3.8 0.4 5.4 0.4 -0.8 0.4 -1.5 0.4 1.3 0.4 -0.5 0.4 2.5 0.4 0.3 0.4 -1.1 0.4 1.9 0.4 -2.8 0.4 2.6 0.4 -0.6 0.4 0.4 0.4 -1 0.4 -2.4 0.4 2.4 0.4 -1.4 0.4 2 0.4 -0.2 0.4 0.3 0.4 -1.9 0.4 -0.8 0.4 1.8 0.4 0.3 0.4 -1.1 0.4 4.2 0.4 -2.2 0.4 1.5 0.4 -2.5 0.4 1.4 0.4 1.8 0.4 -0.1 0.4 -2.1 0.4 0.9 0.4 4.3 0.4 -2.3 0.4 0.2 0.4 -1.2 0.4 -2 0.4 3.6 0.4 0.1 0.4 -3.8 0.4 2.5 0.4 3.7 0.4 -2.3 0.4 1.7 0.4 1.5 0.4 -3.8 0.4 -5 0.4 -3.4 0.4 -0.2 0.4 -6.1 0.4 -2.2 0.4 -0.7 0.4 2.2 0.4 -3.6 0.4 1.1 0.4 -0.8 0.4 -0.3 0.4 0 0.4 1.1 0.4 1.2 0.4 0.2 0.4 -1 0.4 1.3 0.4 -1.8 0.4 1.2 0.4 -2.3 0.4 1.8 0.4 1.1 0.4 0.3 0.4 -0.3 0.4 -2.2 0.4 -0.9 0.4 1 0.4 3.3 0.4 -2 0.4 0.5 0.4 3.5 0.4 -4.6 0.4 0.5 0.4 0.9 0.4 -0.4 0.4 -1.1 0.4 2.3 0.4 -2 0.4 0.6 0.4 3.1 0.4 -5.3 0.4 4.9 0.4 2.2 0.4 -7.2 0.4 3 0.4 2.7 0.4 -2 0.4 -2.1 0.4 2.1 0.4 -1.1 0.4 3.7 0.4 -3.2 0.4 -0.8 0.4 1.6 0.4 -0.9 0.4 2.8 0.4 -5.2 0.4 3.9 0.4 -0.1 0.4 -0.8 0.4 0.1 0.4 -1.6 0.4 2.6 0.4 -1.7 0.4 -0.7 0.4 -0.6 0.4 3.6 0.4 -1.8 0.4 -1.9 0.4 2 0.4 2 0.4 1.4 0.4 -0.1 0.4 -2.6 0.4 5.5 0.4 -3.1 0.4 1.6 0.4 -4.4 0.4 3 0.4 1.8 0.4 0.4 0.4 -2.8 0.4 0.1 0.4 3.1 0.4 -4.8 0.4 2.3 0.4 -0.9 0.4 -2.7 0.4 2.3 0.4 2.2 0.4 -0.9 0.4 -0.8 0.4 3 0.4 -4.8 0.4 4 0.4 2.9 0.4 -2.9 0.4 0.9 0.4 -1.9 0.4 0.6 0.4 -0.1 0.4 1.7 0.4 -0.4 0.4 -1.1 0.4 -0.2 0.4 -1 0.4 0.5 0.4 3.1 0.4 -0.6 0.4 -4.7 0.4 5.6 0.4 -0.7 0.4 -3.1 0.4 0 0.4 4.2 0.4 -4.2 0.4 2.4 0.4 1.9 0.4 -3.3 0.4 0.4 0.4 -1 0.4 0.4 0.4 2.3 0.4 0.6 0.4 0.7 0.4 -1.3 0.4 1.3 0.4 0.3 0.4 0.5 0.4 -0.2 0.4 -0.3 0.4 -0.2 0.4 -3.1 0.4 1.9 0.4 -2.9 0.4 0.5 0.4 0.7 0.4 2.6 0.4 1.4 0.4 -0.8 0.4 0.2 0.4 -0.3 0.4 0.3 0.4 1.2 0.4 0 0.4 -2 0.4 3.1 0.4 -1.3 0.4 -2.8 0.4 -0.7 0.4 -5.1 0.4 -2.2 0.4 -3.4 0.4 -4.1 0.4 0.1 0.4 0.3 0.4 0.3 0.4 0.3 0.4 1.1 0.4 -0.4 0.4 0 0.4 0.9 0.4 -3.2 0.4 -1.3 0.4 0.4 0.4 -0.9 0.4 0 0.4 4.1 0.4 -1 0.4 0.6 0.4 1 0.4 -3.8 0.4 1.8 0.4 -2.2 0.4 3.1 0.4 1.9 0.4 -4.7 0.4 -0.5 0.4 1.9 0.4 2.7 0.4 -2.4 0.4 -0.3 0.4 1.1 0.4 0.7 0.4 -0.6 0.4 -2.2 0.4 3 0.4 -2.3 0.4 0.1 0.4 0 0.4 2.8 0.4 -3.1 0.4 3.3 0.4 -0.1 0.4 -2.1 0.4 6 0.4 -4.2 0.4 -3.8 0.4 -0.8 0.4 0.9 0.4 1.2 0.4 -1.3 0.4 0.7 0.4 1.6 0.4 -0.3 0.4 0.2 0.4 -2.5 0.4 3.3 0.4 -4.6 0.4 6.4 0.4 -4.9 0.4 2.7 0.4 -3.1 0.4 4 0.4 -1.1 0.4 -0.5 0.4 -3 0.4 3.4 0.4 -0.6 0.4 -0.4 0.4 4.3 0.4 -4.5 0.4 4.4 0.4 -2 0.4 -3.7 0.4 1.3 0.4 1.7 0.4 -1.6 0.4 1.5 0.4 0.6 0.4 0.9 0.4 0.6 0.4 3.8 0.4 -1.7 0.4 2.5 0.4 -5.3 0.4 0.7 0.4 -1.2 0.4 1.2 0.4 3.5 0.4 -3 0.4 -2.3 0.4 0.9 0.4 3.9 0.4 -2.5 0.4 3.5 0.4 -2.5 0.4 0.1 0.4 1.1 0.4 1.7 0.4 -5.8 0.4 1.8 0.4 0.7 0.4 -2.3 0.4 3.7 0.4 1.3 0.4 0 0.4 1.8 0.4 -0.6 0.4 -1.5 0.4 0.1 0.4 2.3 0.4 -0.7 0.4 -2 0.4 -1.3 0.4 2.7 0.4 0.5 0.4 -2 0.4 0.4 0.4 1.2 0.4 0.1 0.4 -0.2 0.4 -0.8 0.4 -0.8 0.4 2.6 0.4 -1.1 0.4 2.1 0.4 1.9 0.4 -4 0.4 0.9 0.4 -1.9 0.4 -1.8 0.4 4.5 0.4 0.5 0.4 0.3 0.4 -0.1 0.4 -1 0.4 2 0.4 0 0.4 -2.8 0.4 2.9 0.4 -0.6 0.4 1.2 0.4 0.9 0.4 -4.3 0.4 5.3 0.4 -4.5 0.4 -0.6 0.4 -5.2 0.4 -1.8 0.4 -5.2 0.4 -0.8 0.4 -3.8 0.4 4.9 0.4 -0.2 0.4 -2.7 0.4 0.7 0.4 3.3 0.4 -3.9 0.4 2.2 0.4 0.2 0.4 -0.1 0.4 3.3 0.4 -2.4 0.4 3.3 0.4 -2.5 0.4 -2.7 0.4 2.5 0.4 0.1 0.4 -2.8 0.4 0.4 0.4 -1 0.4 1.8 0.4 -0.1 0.4 -2.1 0.4 2.1 0.4 2 0.4 0.2 0.4 0.3 0.4 -3 0.4 -0.7 0.4 -0.9 0.4 5.3 0.4 -5.8 0.4 2.6 0.4 2.2 0.4 -3.7 0.4 2.3 0.4 -1 0.4 -3 0.4 2.4 0.4 4.1 0.4 -1.6 0.4 1.1 0.4 0.4 0.4 -1.5 0.4 -1.2 0.4 -2.3 0.4 0.4 0.4 3.9 0.4 -0.1 0.4 -0.2 0.4 -1.8 0.4 0.3 0.4 -1.5 0.4 2.3 0.4 -0.5 0.4 -1.1 0.4 2.4 0.4 2.2 0.4 -2.9 0.4 -1.5 0.4 1.2 0.4 1 0.4 1.2 0.4 -1.1 0.4 2.2 0.4 -1.6 0.4 0.4 0.4 0.9 0.4 -5.5 0.4 4.5 0.4 0 0.4 1.7 0.4 0.3 0.4 0.2 0.4 -1.4 0.4 -0.5 0.4 -0.9 0.4 1.3 0.4 -3.8 0.4 -2.5 0.4 2.6 0.4 1.7 0.4 1.2 0.4 0.6 0.4 -2.4 0.4 6.3 0.4 -1.6 0.4 2.3 0.4 -3.6 0.4 2.5 0.4 -0.3 0.4 0 0.4 -5.5 0.4 3.1 0.4 -0.2 0.4 -0.2 0.4 -0.5 0.4 1.3 0.4 -1.2 0.4 4.6 0.4 -2.6 0.4 2.4 0.4 -2.1 0.4 0 0.4 0.1 0.4 0.9 0.4 -3.9 0.4 4.2 0.4 3 0.4 -5.3 0.4 -1 0.4 4.5 0.4 -2.1 0.4 1.3 0.4 -4.9 0.4 2.3 0.4 -0.9 0.4 -0.9 0.4 1 0.4 3.5 0.4 -2 0.4 3 0.4 -1.8 0.4 1 0.4 -2.2 0.4 2.3 0.4 0.6 0.4 -3.1 0.4 5.6 0.4 -4 0.4 -3.3 0.4 4.6 0.4 -3.7 0.4 2.3 0.4 -1.1 0.4 1 0.4 0.8 0.4 -1 0.4 2.8 0.4 0.3 0.4 -0.1" fill="none" stroke="#99cc00" stroke-width="1.7" stroke-linejoin="round"/>
<path d="M64.4 356.6l0.4 -1.2 0.4 1.6 0.4 -0.8 0.4 2.7 0.4 -3 0.4 1.2 0.4 1.3 0.4 -2 0.4 -0.1 0.4 0.6 0.4 -1.5 0.4 1.5 0.4 -0.6 0.4 -1.2 0.4 -2.8 0.4 8 0.4 -2.8 0.4 -0.5 0.4 1.3 0.4 -0.4 0.4 0.5 0.4 -2.5 0.4 0.9 0.4 -2.9 0.4 2.9 0.4 -2.6 0.4 -0.6 0.4 1.6 0.4 -0.8 0.4 0 0.4 2.5 0.4 -7.4 0.4 6.9 0.4 0.3 0.4 -2 0.4 4.1 0.4 -5.2 0.4 4.1 0.4 -2.7 0.4 3.7 0.4 -2 0.4 -1.6 0.4 6.1 0.4 -2.6 0.4 -0.1 0.4 1 0.4 -4 0.4 1.2 0.4 1.7 0.4 -4.7 0.4 2.8 0.4 -3.2 0.4 2.4 0.4 -0.6 0.4 5.1 0.4 -1.5 0.4 -2.4 0.4 -2.7 0.4 1.2 0.4 1.7 0.4 -1.9 0.4 3.2 0.4 -0.2 0.4 -0.8 0.4 -1.1 0.4 1.5 0.4 -2.9 0.4 0.5 0.4 -0.3 0.4 1.6 0.4 -2.3 0.4 0.9 0.4 1.5 0.4 -0.7 0.4 1 0.4 -0.7 0.4 1.9 0.4 -5.1 0.4 2.6 0.4 -0.7 0.4 -0.2 0.4 1.9 0.4 -2.1 0.4 1.4 0.4 0 0.4 0.6 0.4 1.1 0.4 0.2 0.4 -1.2 0.4 1.8 0.4 1.3 0.4 1.4 0.4 -1.8 0.4 0.7 0.4 1.1 0.4 5.3 0.4 5.2 0.4 -3 0.4 8.2 0.4 3.1 0.4 -1.6 0.4 1.8 0.4 -0.1 0.4 1.2 0.4 -2.6 0.4 0.1 0.4 -1.5 0.4 -2.8 0.4 0.8 0.4 1.8 0.4 -0.7 0.4 1.6 0.4 0.9 0.4 -3.3 0.4 -0.2 0.4 1.7 0.4 -1 0.4 3.5 0.4 -1.2 0.4 -3.7 0.4 -0.1 0.4 2.7 0.4 -0.2 0.4 3.5 0.4 -2.8 0.4 0.5 0.4 -2.7 0.4 3.6 0.4 -4.7 0.4 3.5 0.4 -3.2 0.4 0.7 0.4 0 0.4 -1.5 0.4 -0.1 0.4 1.5 0.4 2.8 0.4 -1.7 0.4 -0.5 0.4 -1 0.4 0.9 0.4 -0.1 0.4 0 0.4 2.9 0.4 -3.1 0.4 0 0.4 0.1 0.4 3.2 0.4 -1 0.4 -1.4 0.4 0.4 0.4 0.6 0.4 -2.1 0.4 1.1 0.4 0.4 0.4 -6.6 0.4 2.3 0.4 4.8 0.4 -5.2 0.4 2.5 0.4 0.5 0.4 -1.3 0.4 1.8 0.4 -1.5 0.4 -1.1 0.4 2.3 0.4 0.4 0.4 -0.5 0.4 1.5 0.4 0 0.4 -2.3 0.4 -0.8 0.4 0.6 0.4 0.3 0.4 -0.4 0.4 2.5 0.4 -0.8 0.4 -0.7 0.4 1.2 0.4 -2.5 0.4 1.2 0.4 -1 0.4 1.4 0.4 0.2 0.4 3.4 0.4 -0.9 0.4 -3.7 0.4 -1.8 0.4 1.2 0.4 -0.2 0.4 0.8 0.4 -2.6 0.4 2.9 0.4 0.1 0.4 -0.3 0.4 1 0.4 -1.7 0.4 -4.1 0.4 3.4 0.4 -0.5 0.4 -1.1 0.4 2.5 0.4 -0.5 0.4 3.2 0.4 -1.2 0.4 0.5 0.4 -0.3 0.4 1.3 0.4 -4.1 0.4 1.6 0.4 -0.8 0.4 -3.2 0.4 3.3 0.4 0.4 0.4 2.2 0.4 -0.3 0.4 -2.5 0.4 -2.8 0.4 4.3 0.4 -0.5 0.4 -1.5 0.4 2.7 0.4 0.2 0.4 -2.1 0.4 1 0.4 -1.7 0.4 -1 0.4 1.8 0.4 -0.6 0.4 1.3 0.4 0.7 0.4 -4.3 0.4 -0.6 0.4 4.3 0.4 -1.1 0.4 -1.9 0.4 -0.7 0.4 3 0.4 -1.9 0.4 -1 0.4 3 0.4 -0.9 0.4 -2.4 0.4 -0.9 0.4 0.6 0.4 2.6 0.4 -0.7 0.4 3 0.4 -1.6 0.4 -0.2 0.4 1.9 0.4 -4 0.4 -0.4 0.4 1.2 0.4 5.6 0.4 4.4 0.4 -0.5 0.4 3.8 0.4 3 0.4 -2.1 0.4 6.8 0.4 -2.7 0.4 1.1 0.4 -0.8 0.4 -0.2 0.4 3.1 0.4 -7.3 0.4 2.7 0.4 0.4 0.4 1.6 0.4 0.4 0.4 -1.6 0.4 -0.7 0.4 -0.3 0.4 3.2 0.4 1.3 0.4 -1.1 0.4 1.7 0.4 -2.7 0.4 1.4 0.4 -0.5 0.4 -1.9 0.4 -0.8 0.4 1.8 0.4 -0.2 0.4 0.9 0.4 -2.8 0.4 5.4 0.4 -2.8 0.4 -0.9 0.4 2.1 0.4 -0.2 0.4 0.4 0.4 -2.7 0.4 1.7 0.4 2.3 0.4 0.7 0.4 -3.6 0.4 1.5 0.4 0.7 0.4 -2.9 0.4 3.1 0.4 -1.5 0.4 3 0.4 -2.2 0.4 -0.2 0.4 -1.8 0.4 3.5 0.4 -3.5 0.4 2.5 0.4 3.6 0.4 -4.8 0.4 2.6 0.4 1.5 0.4 -6.2 0.4 2.6 0.4 -2.3 0.4 -1.6 0.4 0.9 0.4 2.5 0.4 0.8 0.4 4.5 0.4 -2.3 0.4 -0.4 0.4 -0.8 0.4 3.1 0.4 -3.1 0.4 3.8 0.4 -2.5 0.4 -1.2 0.4 -2.2 0.4 2.7 0.4 -3 0.4 2.6 0.4 2 0.4 -0.3 0.4 1.5 0.4 -3.5 0.4 1.6 0.4 -1.4 0.4 -1 0.4 4.1 0.4 2.2 0.4 -5.8 0.4 1.1 0.4 -3.5 0.4 4 0.4 -1.5 0.4 -1.6 0.4 0.4 0.4 2.3 0.4 -2.2 0.4 2.5 0.4 -1 0.4 0.4 0.4 2.9 0.4 -1.3 0.4 -1.3 0.4 2.6 0.4 -2.1 0.4 -2.8 0.4 0.4 0.4 -1.6 0.4 1.2 0.4 0.8 0.4 0.9 0.4 0.1 0.4 -1.3 0.4 1.7 0.4 1.2 0.4 -2.6 0.4 0.6 0.4 -3.5 0.4 -0.4 0.4 2.4 0.4 -1.9 0.4 2.4 0.4 -0.9 0.4 2.9 0.4 -5.4 0.4 2.7 0.4 1.6 0.4 0.2 0.4 -0.5 0.4 -1.3 0.4 -1 0.4 0 0.4 0.2 0.4 1.4 0.4 1.2 0.4 -1.8 0.4 0.6 0.4 0.5 0.4 -3.2 0.4 3.3 0.4 0.7 0.4 -1.6 0.4 0.5 0.4 1 0.4 -1.7 0.4 0.6 0.4 0 0.4 3.8 0.4 -1.8 0.4 0.1 0.4 -3.5 0.4 3.3 0.4 -1.9 0.4 0.6 0.4 -1.6 0.4 2.5 0.4 -1 0.4 3.3 0.4 5.7 0.4 -2.8 0.4 2.6 0.4 8 0.4 2.7 0.4 -2.4 0.4 1.1 0.4 0.1 0.4 0.9 0.4 1 0.4 -2.1 0.4 0.6 0.4 -2 0.4 -0.4 0.4 1.1 0.4 -3.3 0.4 2.6 0.4 2.8 0.4 -3.7 0.4 6.5 0.4 -2 0.4 -2.4 0.4 0.7 0.4 -3.2 0.4 3.5 0.4 -4.2 0.4 5.7 0.4 -6 0.4 1.2 0.4 -3 0.4 5.3 0.4 3.5 0.4 -2.6 0.4 0.8 0.4 -0.9 0.4 -0.8 0.4 1.5 0.4 -3.1 0.4 -3.1 0.4 4 0.4 0.9 0.4 4.3 0.4 -4.5 0.4 0.7 0.4 -1.5 0.4 0.9 0.4 2.8 0.4 -5.9 0.4 2.4 0.4 -1.6 0.4 0.6 0.4 3.5 0.4 0 0.4 -2.5 0.4 0.7 0.4 1.5 0.4 -2.3 0.4 0.5 0.4 0.4 0.4 -0.3 0.4 -0.8 0.4 -0.7 0.4 1.2 0.4 1.5 0.4 -0.7 0.4 2.4 0.4 -1.2 0.4 1 0.4 -1.9 0.4 1.1 0.4 -2.8 0.4 4 0.4 -1.6 0.4 -0.8 0.4 1.9 0.4 -3.6 0.4 1 0.4 0.4 0.4 -2.7 0.4 1.3 0.4 0.8 0.4 2.5 0.4 -2.4 0.4 -0.1 0.4 1.9 0.4 -1.9 0.4 -1.3 0.4 1.8 0.4 -1.5 0.4 4.5 0.4 -4.1 0.4 -2.3 0.4 -1.9 0.4 4.3 0.4 3.6 0.4 -2.3 0.4 -1.7 0.4 0.9 0.4 0.3 0.4 0.2 0.4 2.9 0.4 1 0.4 -1.8 0.4 0.9 0.4 -3.9 0.4 -3.3 0.4 5.5 0.4 -1.7 0.4 0.9 0.4 -0.3 0.4 -0.4 0.4 0.9 0.4 -0.6 0.4 -0.4 0.4 -0.1 0.4 -1.2 0.4 3.5 0.4 -3 0.4 2.5 0.4 -3.1 0.4 -0.6 0.4 3.7 0.4 -3.9 0.4 0.3 0.4 -0.2 0.4 -0.7 0.4 0.8 0.4 3.5 0.4 -1.8 0.4 -2.9 0.4 0.4 0.4 -2 0.4 3.6 0.4 0.8 0.4 -0.3 0.4 -1.2 0.4 0.3 0.4 -0.8 0.4 -0.1 0.4 -0.3 0.4 -1.3 0.4 2.8 0.4 1.1 0.4 -4.9 0.4 3 0.4 -2.1 0.4 2.4 0.4 -0.2 0.4 1.4 0.4 -1.7 0.4 -1.8 0.4 4.1 0.4 2.2 0.4 6.5 0.4 3 0.4 7.7 0.4 -0.8 0.4 5.4 0.4 -1.3 0.4 -1.8 0.4 -0.2 0.4 1.7 0.4 -1 0.4 -4.1 0.4 2.9 0.4 2.1 0.4 -4.4 0.4 -1.7 0.4 4.4 0.4 -1.7 0.4 1.7 0.4 0.7 0.4 -2.3 0.4 0.6 0.4 -2.1 0.4 0.6 0.4 2.1 0.4 -2.2 0.4 4.3 0.4 -2.2 0.4 1.7 0.4 -3.4 0.4 1.1 0.4 0.8 0.4 -0.4 0.4 0.3 0.4 -2.1 0.4 0.9 0.4 4.9 0.4 1 0.4 1.5 0.4 -4.9 0.4 -2.3 0.4 1 0.4 0.1 0.4 1.3 0.4 -1.9 0.4 -1.7 0.4 5.8 0.4 -7.3 0.4 1 0.4 2.4 0.4 -2.4 0.4 -1.8 0.4 1 0.4 -0.1 0.4 1.3 0.4 0.7 0.4 1.9 0.4 -2.3 0.4 1.1 0.4 3.7 0.4 -3.4 0.4 2.8 0.4 -2.5 0.4 -0.5 0.4 1.3 0.4 -5.2 0.4 2 0.4 -0.8 0.4 0.5 0.4 3.3 0.4 -0.8 0.4 0.8 0.4 -0.4 0.4 0.5 0.4 -2.6 0.4 -0.4 0.4 -1.2 0.4 1.9 0.4 0.9 0.4 3.5 0.4 -0.8 0.4 -2.2 0.4 -0.7 0.4 0.1 0.4 3.1 0.4 -2.2 0.4 0.1 0.4 0 0.4 -2.4 0.4 -0.6 0.4 5.7 0.4 -4.2 0.4 1.8 0.4 0.7 0.4 -1.9 0.4 0.5 0.4 -2.8 0.4 -0.1 0.4 0.7 0.4 1.6 0.4 0.9 0.4 0.5 0.4 -1 0.4 1 0.4 -0.6 0.4 1.5 0.4 -2.1 0.4 0.9 0.4 -3.5 0.4 2.1 0.4 -0.2 0.4 0 0.4 2.9 0.4 -5.4 0.4 4.4 0.4 1.7 0.4 -0.6 0.4 -2.2 0.4 1.3 0.4 0.6 0.4 -1.1 0.4 -3.9 0.4 1.3 0.4 -1.6 0.4 4.1 0.4 0.7 0.4 1.4 0.4 -3.9 0.4 0.3 0.4 1.4 0.4 -4.3 0.4 3.4 0.4 -0.7 0.4 -1.5 0.4 0.6 0.4 3.2 0.4 -1 0.4 0.3 0.4 -2 0.4 2 0.4 3.8 0.4 0.5 0.4 -4.8 0.4 0.1 0.4 0.4 0.4 -1.9 0.4 1 0.4 2.4 0.4 -2.3 0.4 0.2 0.4 -0.1 0.4 -2.9 0.4 2.4 0.4 -2.5 0.4 2 0.4 2.3 0.4 -0.5 0.4 4.8 0.4 1.5 0.4 3.1 0.4 -2.6 0.4 3.1 0.4 -1.4 0.4 0.7 0.4 7.8 0.4 2.3 0.4 1.4 0.4 -1.4 0.4 -4.1 0.4 1.2 0.4 -2.3 0.4 4.9 0.4 -6.1 0.4 4.2 0.4 -3.6 0.4 3.6 0.4 1.6 0.4 -2.4 0.4 3.2 0.4 0.2 0.4 -3.7 0.4 6.2 0.4 -4.7 0.4 0.1 0.4 3.4 0.4 -3.2 0.4 -0.4 0.4 -1.6 0.4 0.5 0.4 3.3 0.4 0.9 0.4 -4.6 0.4 3.8 0.4 -2.8 0.4 0.4 0.4 -0.5 0.4 -2.4 0.4 1 0.4 0.3 0.4 2.1 0.4 -0.3 0.4 0 0.4 1.9 0.4 -1.5 0.4 2.1 0.4 -2.8 0.4 0.7 0.4 -0.1 0.4 1.2 0.4 -0.8 0.4 0.9 0.4 1.4 0.4 -2.4 0.4 -2.8 0.4 3.5 0.4 -2.4 0.4 -0.7 0.4 1.2 0.4 -0.5 0.4 0.8 0.4 2.3 0.4 -1 0.4 -1 0.4 0.1 0.4 0.8 0.4 -1.3 0.4 -0.1 0.4 0.7 0.4 -3.3 0.4 7.3 0.4 -1.3 0.4 -0.6 0.4 -2 0.4 0.3 0.4 0.5 0.4 -2.3 0.4 -1.8 0.4 4.1 0.4 -3.6 0.4 5.1 0.4 0.3 0.4 -3.2 0.4 2.9 0.4 0.5 0.4 -2.8 0.4 0.8 0.4 0.3 0.4 -2.3 0.4 5 0.4 -3 0.4 -0.4 0.4 0 0.4 -3.2 0.4 2 0.4 -2.1 0.4 2.5 0.4 -0.4 0.4 3.2 0.4 0.4 0.4 -4.6 0.4 2.4 0.4 -1.4 0.4 -1.1 0.4 3 0.4 -1 0.4 -1.6 0.4 -0.3 0.4 0 0.4 1.5 0.4 2.3 0.4 -6.4 0.4 4.3 0.4 -4.6 0.4 3.3 0.4 -1.5 0.4 1 0.4 -3 0.4 4.4 0.4 -0.2 0.4 -2.4 0.4 -1 0.4 1.1 0.4 1.6 0.4 -4.1 0.4 3.9 0.4 2.1 0.4 -2.3 0.4 0.1 0.4 -1.7 0.4 2.5 0.4 0.6 0.4 -2.2 0.4 -1.4 0.4 0.5 0.4 1.1 0.4 -1.3 0.4 1.6 0.4 -2.7 0.4 3 0.4 0.7 0.4 0.1 0.4 -0.6 0.4 -2.5 0.4 5.7 0.4 -1.9 0.4 -1.5 0.4 1.8 0.4 -2.8 0.4 -1.7 0.4 3.9 0.4 -0.5 0.4 -3.7 0.4 2 0.4 -0.9 0.4 1.9 0.4 1.3 0.4 -1 0.4 0.9 0.4 2.7 0.4 -2.7 0.4 -1.7 0.4 -0.7 0.4 5 0.4 0.2 0.4 -3.5 0.4 1 0.4 -2.9 0.4 0.6 0.4 3.3 0.4 -2.2 0.4 1.4 0.4 -0.2 0.4 -0.8 0.4 -1.1 0.4 0.7 0.4 -0.5 0.4 -0.5 0.4 3.5 0.4 0.7 0.4 -6.5 0.4 2.5 0.4 -2.1 0.4 0.9 0.4 -1 0.4 0.9 0.4 0.2 0.4 0.4 0.4 3.2 0.4 -4.7 0.4 -0.1 0.4 1.1 0.4 1 0.4 -1.7 0.4 0.5 0.4 0.3 0.4 2.8 0.4 -2.2 0.4 -0.3 0.4 -1.5 0.4 4.2 0.4 -2.4 0.4 0.3 0.4 -1.3 0.4 0.5 0.4 1.6 0.4 -2.8 0.4 0.1 0.4 1.6 0.4 -1.8 0.4 0.9 0.4 -0.1 0.4 0.2 0.4 0.2 0.4 2.8 0.4 -0.2 0.4 -3.2 0.4 -0.7 0.4 0.6 0.4 2 0.4 0 0.4 -1.2 0.4 -0.2 0.4 2.5 0.4 -2.6 0.4 1.1 0.4 0.6 0.4 -5.3 0.4 5 0.4 0.6 0.4 -2.6 0.4 -1.7 0.4 3.5 0.4 -3.6 0.4 1.4 0.4 1.9 0.4 -0.8 0.4 0.8 0.4 -4 0.4 -2.6 0.4 5 0.4 -0.7 0.4 0.8 0.4 0.6 0.4 -0.4 0.4 2.3 0.4 -3.2 0.4 2.7 0.4 -2 0.4 2.5 0.4 -2 0.4 -0.1 0.4 1 0.4 0.3 0.4 0.4 0.4 -1.6 0.4 0 0.4 0.3 0.4 -0.9 0.4 -0.9 0.4 0.2 0.4 -0.3 0.4 3.2 0.4 -1.9 0.4 -1.8 0.4 1 0.4 -2.8 0.4 4.5 0.4 0.8 0.4 -2.3 0.4 -0.7 0.4 1 0.4 -0.6 0.4 -6.5 0.4 3.7 0.4 4.3 0.4 -1.2 0.4 -2.2 0.4 1.1 0.4 1.8 0.4 -3.2 0.4 2.3 0.4 1.6 0.4 -0.9 0.4 -1.5 0.4 -1.4 0.4 -0.3 0.4 2.8 0.4 -3.2 0.4 1.2 0.4 -2.2 0.4 -0.8 0.4 -5.3 0.4 -4.6 0.4 -1.8 0.4 1.3 0.4 -2 0.4 1.7 0.4 -1.9 0.4 0.1 0.4 -3.3 0.4 -0.3 0.4 4 0.4 -0.7 0.4 0.1 0.4 -2 0.4 1.8 0.4 -1 0.4 0.6 0.4 1.4 0.4 -0.7 0.4 -0.1 0.4 -0.6 0.4 -0.4 0.4 1.3 0.4 1.3 0.4 0.7 0.4 -1.5 0.4 -0.2 0.4 -0.3 0.4 -1.3 0.4 1.8 0.4 -3.1 0.4 -0.5 0.4 2.3 0.4 1.4 0.4 -3.3 0.4 4.1 0.4 -1.9 0.4 -0.8 0.4 1.7 0.4 0.8 0.4 -2.3 0.4 -0.3 0.4 3.3 0.4 -3.1 0.4 -0.5 0.4 1.6 0.4 -5 0.4 4.6 0.4 -0.3 0.4 -4.3 0.4 1.4 0.4 -1.7 0.4 2 0.4 -0.2 0.4 1 0.4 -2.9 0.4 3.7 0.4 0.8 0.4 -1.6 0.4 -0.4 0.4 3.2 0.4 -4.9 0.4 3.5 0.4 0.7 0.4 1 0.4 -2.1 0.4 1.7 0.4 0.9 0.4 -0.7 0.4 1.1 0.4 -4.3 0.4 -0.2 0.4 2.3 0.4 -1.5 0.4 2.1 0.4 0.4 0.4 -1.8 0.4 -0.4 0.4 1.1 0.4 0.5 0.4 -1.8 0.4 3.3 0.4 -1.9 0.4 -1.2 0.4 1.5 0.4 0.5 0.4 -0.8 0.4 -0.5 0.4 0 0.4 -0.1 0.4 2.2 0.4 -1.7 0.4 -1.2 0.4 -1 0.4 2.8 0.4 0 0.4 -2.5 0.4 1.1 0.4 0 0.4 -0.3 0.4 -1.2 0.4 0.9 0.4 1.5 0.4 -1 0.4 1.3 0.4 0.4 0.4 -1.3 0.4 2.3 0.4 -6.1 0.4 1.7 0.4 -0.3 0.4 2.7 0.4 -1 0.4 -0.6 0.4 2.3 0.4 1.1 0.4 -1.5 0.4 0.2 0.4 -3.8 0.4 3.9 0.4 -0.4 0.4 3.7 0.4 -4.4 0.4 -2.2 0.4 2.9 0.4 0.6 0.4 0.1 0.4 0.1 0.4 -0.5 0.4 -1.4 0.4 2.9 0.4 0.3 0.4 -0.2 0.4 -0.4 0.4 -0.7 0.4 -3.3 0.4 2.2 0.4 0 0.4 0.4 0.4 1.4 0.4 -2.6 0.4 0.5 0.4 -3.7 0.4 6.1 0.4 -1.3 0.4 1.7 0.4 -3.6 0.4 0.1 0.4 0.3 0.4 -6.2 0.4 -2.3 0.4 -3.9 0.4 -1.7 0.4 -1 0.4 -1.3 0.4 0.5 0.4 -1.4 0.4 -1.4 0.4 1.7 0.4 2.8 0.4 -4 0.4 0.7 0.4 1.4 0.4 1.4 0.4 -0.6 0.4 0.1 0.4 -3.8 0.4 1.5 0.4 -3.8 0.4 4.8 0.4 0 0.4 -3 0.4 5.1 0.4 -2.4 0.4 3.3 0.4 -0.5 0.4 -1.4 0.4 -2.4 0.4 3.3 0.4 1 0.4 1.6 0.4 -7.3 0.4 2.5 0.4 0.8 0.4 -3.3 0.4 5.3 0.4 -2.7 0.4 1.1 0.4 0.2 0.4 -1.5 0.4 -1.5 0.4 5.7 0.4 -6.4 0.4 0.9 0.4 -0.6 0.4 3.2 0.4 -1 0.4 1.7 0.4 0.9 0.4 -0.4 0.4 -3.9 0.4 1.2 0.4 -0.9 0.4 2 0.4 -2 0.4 1.7 0.4 0.2 0.4 0.6 0.4 -3.3 0.4 2.4 0.4 -0.2 0.4 -2.3 0.4 -0.3 0.4 0.8 0.4 2 0.4 1.6 0.4 -3.1 0.4 1.5 0.4 -2.6 0.4 3.8 0.4 -1.5 0.4 -1.3 0.4 0.5 0.4 -0.5 0.4 2.5 0.4 -2.8 0.4 -0.3 0.4 2 0.4 -1 0.4 3.2 0.4 -3.3 0.4 0 0.4 0.5 0.4 -0.4 0.4 -1.3 0.4 0.8 0.4 1.5 0.4 -0.3 0.4 -1.3 0.4 1.9 0.4 0.8 0.4 1.4 0.4 0.6 0.4 -0.2 0.4 1.9 0.4 0.1 0.4 -3.6 0.4 1.6 0.4 -0.9 0.4 0.2 0.4 -4.5 0.4 4.3 0.4 -0.3 0.4 -0.6 0.4 2.9 0.4 -1.4 0.4 2.6 0.4 -2.2 0.4 0 0.4 2 0.4 -2.5 0.4 1.9 0.4 -2.3 0.4 1.7 0.4 -1.2 0.4 -1.7 0.4 0.9 0.4 0 0.4 2.1 0.4 -1.1 0.4 0.1 0.4 -2 0.4 0.7 0.4 0.7 0.4 0.6 0.4 -1.3 0.4 4.1 0.4 -1 0.4 -0.1 0.4 -0.3 0.4 0.6 0.4 0.2 0.4 0.6 0.4 -2.5 0.4 2.7 0.4 2.4 0.4 -3.3 0.4 0.6 0.4 -1.7 0.4 -1 0.4 1.1 0.4 1.2 0.4 -4.1 0.4 2.7 0.4 4.5 0.4 -2 0.4 1.7 0.4 0.1 0.4 -2.3 0.4 -6.8 0.4 -5.1 0.4 1.7 0.4 -6.9 0.4 -4.4 0.4 -2 0.4 3.3 0.4 -4.5 0.4 2.6 0.4 0 0.4 -0.1 0.4 -1 0.4 0.7 0.4 0.2 0.4 0.8 0.4 -2.1 0.4 2.7 0.4 -2.7 0.4 1 0.4 -0.6 0.4 0.6 0.4 1.5 0.4 0.4 0.4 0 0.4 -2 0.4 -1.2 0.4 1.1 0.4 2.6 0.4 -3.1 0.4 1.9 0.4 2.3 0.4 -4.4 0.4 -0.3 0.4 0.8 0.4 1.5 0.4 -1 0.4 -0.4 0.4 -0.9 0.4 1.3 0.4 2.3 0.4 -3.7 0.4 4.3 0.4 3 0.4 -6.4 0.4 2 0.4 1.5 0.4 -0.4 0.4 -2.6 0.4 3.2 0.4 -2.1 0.4 1.5 0.4 -2.4 0.4 -1.3 0.4 2.1 0.4 -0.2 0.4 0.9 0.4 -2.6 0.4 3.1 0.4 -0.3 0.4 -2.6 0.4 1.4 0.4 -0.7 0.4 2.9 0.4 -2.1 0.4 0.3 0.4 -0.8 0.4 4.7 0.4 -3.3 0.4 -1.2 0.4 0.9 0.4 2.3 0.4 0.7 0.4 -0.1 0.4 -3 0.4 5.5 0.4 -3.9 0.4 2 0.4 -3.1 0.4 0.8 0.4 3.1 0.4 0 0.4 -2.7 0.4 0.6 0.4 1.2 0.4 -2 0.4 0 0.4 -0.2 0.4 -3.6 0.4 3.6 0.4 2.1 0.4 -1.3 0.4 -0.6 0.4 3.1 0.4 -4.7 0.4 3.2 0.4 2.7 0.4 -2.2 0.4 0.2 0.4 -1.6 0.4 1.1 0.4 -0.6 0.4 2.3 0.4 -1.2 0.4 -3.1 0.4 0.7 0.4 0.2 0.4 -0.6 0.4 4 0.4 -0.5 0.4 -6.1 0.4 6.2 0.4 -0.5 0.4 -5.2 0.4 1.4 0.4 3.6 0.4 -4.2 0.4 2.8 0.4 0 0.4 -1.1 0.4 0.6 0.4 -1.8 0.4 0 0.4 2.6 0.4 0.2 0.4 -0.5 0.4 -0.9 0.4 2.1 0.4 1.5 0.4 -2 0.4 3.4 0.4 -3.6 0.4 0.7 0.4 -2.9 0.4 1.7 0.4 -2.7 0.4 0.2 0.4 1.7 0.4 0.6 0.4 4.3 0.4 -1.9 0.4 -0.1 0.4 -0.8 0.4 -0.2 0.4 1.8 0.4 -0.4 0.4 -4.1 0.4 4.1 0.4 -1.4 0.4 -2.4 0.4 -0.7 0.4 -4.9 0.4 -2.6 0.4 -3.7 0.4 -4.1 0.4 -0.8 0.4 1.6 0.4 0 0.4 0 0.4 0.7 0.4 0.9 0.4 -1.2 0.4 0.7 0.4 -1.4 0.4 -2.2 0.4 0.5 0.4 -2.6 0.4 0.7 0.4 4.5 0.4 -1.2 0.4 1.1 0.4 1.8 0.4 -4.4 0.4 1.7 0.4 -2.1 0.4 2.3 0.4 2.3 0.4 -4.1 0.4 -0.5 0.4 0.2 0.4 2.8 0.4 -1.2 0.4 -2.1 0.4 1.3 0.4 0.3 0.4 -0.9 0.4 -0.7 0.4 1.4 0.4 -0.9 0.4 1.5 0.4 -1.9 0.4 1.4 0.4 -1.4 0.4 3.1 0.4 0.2 0.4 -2.4 0.4 5.9 0.4 -2.8 0.4 -2.5 0.4 -2.7 0.4 1.9 0.4 -0.2 0.4 0.6 0.4 -0.8 0.4 1.8 0.4 -0.4 0.4 -1.6 0.4 -0.6 0.4 1.7 0.4 -3.9 0.4 5.5 0.4 -3.4 0.4 0.9 0.4 -2 0.4 3.7 0.4 -1.9 0.4 -0.5 0.4 -2 0.4 3.8 0.4 -0.5 0.4 0.5 0.4 2.3 0.4 -4.6 0.4 3.5 0.4 -2.6 0.4 -3.2 0.4 2.2 0.4 1.1 0.4 -1.7 0.4 0.8 0.4 0.8 0.4 0.9 0.4 0.4 0.4 2.8 0.4 -1.5 0.4 2.4 0.4 -5.1 0.4 1.2 0.4 -1.7 0.4 2.1 0.4 1.9 0.4 -2.6 0.4 -1.2 0.4 2.1 0.4 1.8 0.4 -1.4 0.4 2.3 0.4 -1.8 0.4 -0.2 0.4 0.2 0.4 0.5 0.4 -5.1 0.4 1.2 0.4 2.2 0.4 -3.2 0.4 3.3 0.4 2 0.4 1.8 0.4 0.7 0.4 -0.7 0.4 -1.6 0.4 -2.6 0.4 5.9 0.4 -2.3 0.4 -2.2 0.4 -1.2 0.4 1.8 0.4 0 0.4 -2.3 0.4 0.3 0.4 2.3 0.4 1.6 0.4 -1.6 0.4 -1.6 0.4 -0.6 0.4 2.9 0.4 -1.6 0.4 2.4 0.4 0.7 0.4 -2.3 0.4 -0.7 0.4 -0.6 0.4 -1.1 0.4 5.7 0.4 -2.5 0.4 0.5 0.4 0.5 0.4 -3.1 0.4 2.8 0.4 -0.1 0.4 -2 0.4 3.4 0.4 -0.5 0.4 1.5 0.4 1.1 0.4 -6.1 0.4 4.6 0.4 -3.6 0.4 -0.5 0.4 -5 0.4 -3.2 0.4 -5.8 0.4 0.9 0.4 -4 0.4 3.8 0.4 -0.4 0.4 -3.3 0.4 0.7 0.4 3.9 0.4 -5.1 0.4 2.3 0.4 0.7 0.4 -1.9 0.4 4 0.4 -2.2 0.4 2.4 0.4 -2.2 0.4 -1.2 0.4 1.4 0.4 0.5 0.4 -4 0.4 -0.3 0.4 0.8 0.4 1.5 0.4 -0.2 0.4 -1.6 0.4 0.8 0.4 2.1 0.4 -0.2 0.4 0.3 0.4 -1.8 0.4 -1.4 0.4 -1.9 0.4 6.1 0.4 -6.8 0.4 4.1 0.4 1.2 0.4 -2.6 0.4 2.2 0.4 -1.2 0.4 -2 0.4 0.3 0.4 3.3 0.4 -1.5 0.4 2.6 0.4 0.3 0.4 -3.5 0.4 0.7 0.4 -3.7 0.4 0.7 0.4 4.1 0.4 0.2 0.4 0.3 0.4 -1.2 0.4 -0.3 0.4 -0.9 0.4 1.3 0.4 -1.6 0.4 -0.9 0.4 3.7 0.4 2.8 0.4 -5.1 0.4 0.8 0.4 -0.4 0.4 -0.2 0.4 1.8 0.4 -0.6 0.4 1.8 0.4 -2 0.4 0.5 0.4 0.7 0.4 -3.6 0.4 2.2 0.4 1.2 0.4 0.8 0.4 0.4 0.4 -0.2 0.4 0 0.4 -1.2 0.4 -2.3 0.4 2.3 0.4 -2 0.4 -3.5 0.4 3.3 0.4 -2.1 0.4 4.8 0.4 -0.1 0.4 -1.6 0.4 3.6 0.4 -1.6 0.4 2.5 0.4 -2.2 0.4 0.8 0.4 0.3 0.4 0.7 0.4 -6.9 0.4 3.3 0.4 0 0.4 -1.9 0.4 1.1 0.4 0.2 0.4 0.4 0.4 3.7 0.4 -1.9 0.4 1.7 0.4 -0.8 0.4 -1 0.4 -1.1 0.4 1.5 0.4 -3 0.4 1.3 0.4 4.7 0.4 -5 0.4 -3.5 0.4 5.9 0.4 -3.2 0.4 1.8 0.4 -3.7 0.4 1.6 0.4 -0.9 0.4 -2 0.4 1.7 0.4 2.1 0.4 -1.5 0.4 4.6 0.4 -1.5 0.4 0.5 0.4 -4.1 0.4 3.8 0.4 1 0.4 -3.8 0.4 5.1 0.4 -2.4 0.4 -4 0.4 4.9 0.4 -3.9 0.4 0.9 0.4 -1.1 0.4 1 0.4 1.2 0.4 -1.5 0.4 3.5 0.4 -0.5 0.4 0.8" fill="none" stroke="#00aa1a" stroke-width="1.7" stroke-linejoin="round"/>
<path d="M65 976.8l0.5 1.5 0.5 -2.2 0.5 2.8 0.5 -1.5 0.5 6.2 0.5 -3.6 0.5 -2.2 0.5 -0.5 0.5 0.9 0.5 0.3 0.5 -0.6 0.5 0.6 0.5 -2.1 0.5 1 0.5 0.1 0.5 -0.8 0.5 -0.8 0.5 -0.5 0.5 1.8 0.5 -0.2 0.5 -3.4 0.5 2.9 0.5 -1.9 0.5 2.3 0.5 0.3 0.5 0.7 0.5 -2.4 0.5 0.7 0.5 -1.9 0.5 1.5 0.5 -2.3 0.5 1.3 0.5 5.3 0.5 -6.3 0.5 6.5 0.5 -2.8 0.5 -0.4 0.5 0.9 0.5 0.8 0.5 0.1 0.5 -2 0.5 -0.9 0.5 -0.2 0.5 -0.7 0.5 1.1 0.5 -0.6 0.5 2.9 0.5 -3.2 0.5 1.1 0.5 0.4 0.5 -1.5 0.5 4.8 0.5 -12.8 0.5 10.1 0.5 -0.4 0.5 3.2 0.5 -5 0.5 3.8 0.5 -2.7 0.5 0.4 0.5 -0.8 0.5 1.3 0.5 -1.8 0.5 0 0.5 2.8 0.5 2.2 0.5 -7.5 0.5 6.7 0.5 -0.6 0.5 -2 0.5 0.6 0.5 -1 0.5 2.8 0.5 -2.1 0.5 -0.8 0.5 0.3 0.5 0 0.5 -0.1 0.5 -0.7 0.5 3.8 0.5 -5 0.5 -2.2 0.5 4.6 0.5 -0.1 0.5 0.2 0.5 -0.3 0.5 -1 0.5 1.1 0.5 1 0.5 -1.1 0.5 0.3 0.5 2.6 0.5 -1.3 0.5 -2.3 0.5 4.7 0.5 -2.7 0.5 -1.6 0.5 -3.1 0.5 4.4 0.5 -1.4 0.5 -0.6 0.5 0 0.5 1.1 0.5 2.2 0.5 -1.7 0.5 -1.5 0.5 4.7 0.5 -11.7 0.5 9.6 0.5 0.1 0.5 -1.8 0.5 0 0.5 0 0.5 -1.8 0.5 2.5 0.5 1.1 0.5 -1.6 0.5 -0.8 0.5 0 0.5 -0.3 0.5 0.2 0.5 0.6 0.5 2.3 0.5 -2.4 0.5 -1.6 0.5 2.1 0.5 -0.4 0.5 -1.6 0.5 -1 0.5 3.1 0.5 1.8 0.5 -2.2 0.5 -0.1 0.5 -0.2 0.5 1.3 0.5 -2.4 0.5 2.3 0.5 -1.5 0.5 1.8 0.5 -0.9 0.5 -0.2 0.5 -1.5 0.5 1.2 0.5 0.4 0.5 1.1 0.5 -0.6 0.5 -1.5 0.5 1.9 0.5 0.6 0.5 -1.3 0.5 -0.4 0.5 -0.3 0.5 1.8 0.5 -0.9 0.5 -6.1 0.5 5.8 0.5 -1.2 0.5 0 0.5 2.9 0.5 -0.4 0.5 -2.3 0.5 1.1 0.5 1.1 0.5 -1.5 0.5 -5.9 0.5 6.9 0.5 -2.9 0.5 3.1 0.5 0.1 0.5 -0.6 0.5 -2.3 0.5 2.5 0.5 -1.6 0.5 1.6 0.5 0.3 0.5 -0.3 0.5 -1.3 0.5 -0.2 0.5 2.1 0.5 -2.3 0.5 1.8 0.5 0.2 0.5 -0.9 0.5 4.2 0.5 -3.2 0.5 2.9 0.5 -5.3 0.5 -0.6 0.5 3.7 0.5 -1 0.5 -1.3 0.5 0 0.5 -2.2 0.5 1.7 0.5 -0.1 0.5 1.2 0.5 1.7 0.5 -0.6 0.5 -0.2 0.5 -1.6 0.5 0.3 0.5 0.6 0.5 -0.9 0.5 1.6 0.5 -2.6 0.5 3.9 0.5 -3.8 0.5 2.3 0.5 -1.7 0.5 3.8 0.5 -2.2 0.5 0 0.5 0.2 0.5 -1 0.5 -1.2 0.5 -1.6 0.5 4.6 0.5 -2.2 0.5 0.4 0.5 0.4 0.5 2.9 0.5 -4.8 0.5 2.3 0.5 -0.9 0.5 0.9 0.5 -3.1 0.5 1.6 0.5 1.5 0.5 0.8 0.5 0 0.5 -2.8 0.5 0.9 0.5 0.2 0.5 -1.9 0.5 0.1 0.5 3.2 0.5 -0.8 0.5 -0.4 0.5 1.4 0.5 -2.7 0.5 2 0.5 -1 0.5 -0.4 0.5 1.1 0.5 -0.2 0.5 0.1 0.5 -0.2 0.5 2.4 0.5 -2.5 0.5 1.5 0.5 -0.5 0.5 -1.6 0.5 2 0.5 -2.4 0.5 1.5 0.5 -1.5 0.5 1.4 0.5 0.4 0.5 0.4 0.5 0.1 0.5 -0.2 0.5 -1.8 0.5 -0.9 0.5 2.1 0.5 -0.5 0.5 -1.4 0.5 2.7 0.5 -0.5 0.5 -1.7 0.5 1.8 0.5 -2.1 0.5 0.2 0.5 1.4 0.5 -2.4 0.5 2 0.5 -1.7 0.5 2.5 0.5 -1.4 0.5 1.3 0.5 -2.3 0.5 1.8 0.5 1 0.5 -1.1 0.5 -3.2 0.5 0.2 0.5 3.4 0.5 -1 0.5 2.3 0.5 -3 0.5 1.6 0.5 1.6 0.5 0.6 0.5 -0.6 0.5 -2.6 0.5 -1.1 0.5 -2.5 0.5 11.3 0.5 -7.8 0.5 -1.2 0.5 2.9 0.5 -0.3 0.5 0 0.5 -0.2 0.5 0.1 0.5 -0.3 0.5 0.6 0.5 -0.2 0.5 2.1 0.5 -3.1 0.5 2.8 0.5 -2.6 0.5 1.7 0.5 0.1 0.5 -2.9 0.5 -1.5 0.5 4 0.5 -1.9 0.5 0.5 0.5 -0.8 0.5 0.4 0.5 -1.2 0.5 1.7 0.5 -0.2 0.5 0.7 0.5 -3 0.5 4.2 0.5 -1.1 0.5 -2.9 0.5 1 0.5 1.6 0.5 0.8 0.5 -0.8 0.5 2 0.5 -1.9 0.5 -1.4 0.5 0.2 0.5 3.1 0.5 -3.2 0.5 2.4 0.5 0.5 0.5 -0.2 0.5 0.3 0.5 -2.2 0.5 0.3 0.5 -1.3 0.5 -0.1 0.5 -1.5 0.5 1.5 0.5 -4.8 0.5 4.9 0.5 1.8 0.5 0.3 0.5 -1.1 0.5 2.4 0.5 -0.7 0.5 -0.3 0.5 -1.7 0.5 -1.1 0.5 2.6 0.5 -1.1 0.5 0 0.5 -0.3 0.5 2.8 0.5 -3.8 0.5 1.6 0.5 -1.7 0.5 -1.3 0.5 2.3 0.5 2.6 0.5 -4.3 0.5 3.6 0.5 2 0.5 -3.9 0.5 0.9 0.5 -1.6 0.5 0.5 0.5 0.8 0.5 0.4 0.5 0.9 0.5 -2.6 0.5 3.1 0.5 -1.1 0.5 2.7 0.5 -4.9 0.5 1.8 0.5 -2.5 0.5 3.3 0.5 -0.2 0.5 -2.2 0.5 -0.5 0.5 2.7 0.5 0.6 0.5 -2.4 0.5 0.7 0.5 -3.2 0.5 2.2 0.5 0.8 0.5 -0.2 0.5 2.1 0.5 -9.5 0.5 5.1 0.5 3.4 0.5 -1.2 0.5 1.4 0.5 0.6 0.5 0 0.5 1 0.5 -0.2 0.5 -4.6 0.5 2.2 0.5 2.8 0.5 -3.6 0.5 2.3 0.5 -1 0.5 -0.2 0.5 2.3 0.5 -0.8 0.5 -1.4 0.5 -1.5 0.5 -0.5 0.5 1.1 0.5 2.2 0.5 -1.4 0.5 -1.6 0.5 2 0.5 -0.3 0.5 1 0.5 -0.7 0.5 -1.1 0.5 -0.2 0.5 0.4 0.5 -0.1 0.5 2.3 0.5 0.3 0.5 -0.5 0.5 -1 0.5 -0.8 0.5 1.4 0.5 -2 0.5 0.9 0.5 -2.5 0.5 1.5 0.5 2.1 0.5 -2.8 0.5 -1.8 0.5 2.9 0.5 2.2 0.5 -0.7 0.5 -2.1 0.5 -0.5 0.5 1.1 0.5 -0.8 0.5 1.4 0.5 -0.2 0.5 -1.5 0.5 1 0.5 -0.3 0.5 -1.1 0.5 -0.4 0.5 8 0.5 -5.9 0.5 -0.7 0.5 -0.1 0.5 0.9 0.5 -0.8 0.5 1.8 0.5 0.6 0.5 -2.9 0.5 0.4 0.5 0.5 0.5 -0.1 0.5 0.6 0.5 1.3 0.5 1 0.5 -1.4 0.5 -0.9 0.5 -1.6 0.5 1.4 0.5 -1.3 0.5 0.8 0.5 1.9 0.5 4.8 0.5 -6.8 0.5 -0.5 0.5 0.8 0.5 0.2 0.5 -1.4 0.5 0.7 0.5 1.6 0.5 -3.4 0.5 1.8 0.5 -1.2 0.5 3.4 0.5 -1.1 0.5 0.4 0.5 1.9 0.5 -2.1 0.5 0.2 0.5 -2.6 0.5 2.4 0.5 0 0.5 -2.8 0.5 2.7 0.5 -0.1 0.5 -2.7 0.5 1.3 0.5 0.6 0.5 -0.3 0.5 1.1 0.5 -1.9 0.5 1.3 0.5 0.9 0.5 0.6 0.5 -0.9 0.5 -0.5 0.5 1.1 0.5 -3.5 0.5 3.4 0.5 -1.8 0.5 -0.8 0.5 1 0.5 -2.2 0.5 -0.2 0.5 2.9 0.5 -0.8 0.5 1.9 0.5 -1.7 0.5 0.2 0.5 0.8 0.5 3.3 0.5 -14.2 0.5 10.7 0.5 -0.6 0.5 -0.7 0.5 0.8 0.5 1.1 0.5 1.1 0.5 -1.2 0.5 0.2 0.5 -1.2 0.5 0.1 0.5 -2 0.5 1.7 0.5 1.7 0.5 -1.3 0.5 0.9 0.5 -2.1 0.5 2.8 0.5 -0.8 0.5 0 0.5 0.6 0.5 -3.6 0.5 1.9 0.5 -0.3 0.5 3.6 0.5 -2.7 0.5 0.1 0.5 2 0.5 -2.1 0.5 3.1 0.5 -3.1 0.5 0.7 0.5 -1.7 0.5 2 0.5 -3.7 0.5 3.7 0.5 -1.9 0.5 1.3 0.5 -1.8 0.5 2 0.5 -0.4 0.5 0.2 0.5 -0.7 0.5 0.2 0.5 1.9 0.5 -2.9 0.5 -0.7 0.5 0.1 0.5 2.7 0.5 -1.3 0.5 2.1 0.5 7.3 0.5 -3.8 0.5 -4.3 0.5 1.5 0.5 -2.7 0.5 -1 0.5 -13 0.5 15.7 0.5 -1.5 0.5 0.4 0.5 1.6 0.5 -0.6 0.5 0.1 0.5 -1 0.5 -0.7 0.5 1.5 0.5 -0.5 0.5 0.4 0.5 -3.6 0.5 3.8 0.5 0 0.5 -1 0.5 0.8 0.5 0.9 0.5 -1.2 0.5 -0.5 0.5 -1.4 0.5 1.7 0.5 -0.4 0.5 -0.8 0.5 -0.5 0.5 1.7 0.5 2.7 0.5 -2.8 0.5 -0.4 0.5 0.3 0.5 -1.9 0.5 -1.6 0.5 2.3 0.5 0 0.5 0.9 0.5 0.5 0.5 0.2 0.5 1.2 0.5 -1 0.5 -1.3 0.5 2.7 0.5 -1.7 0.5 -0.4 0.5 1.5 0.5 -0.2 0.5 -2.8 0.5 1.2 0.5 1 0.5 -2.2 0.5 -1.7 0.5 3 0.5 0.1 0.5 -2.5 0.5 2.4 0.5 0.2 0.5 -9 0.5 11.4 0.5 -2.6 0.5 0.1 0.5 -1.2 0.5 2.2 0.5 -1.3 0.5 1.6 0.5 -3.7 0.5 3 0.5 -0.1 0.5 -0.9 0.5 2 0.5 -1.2 0.5 -0.7 0.5 -0.8 0.5 3.2 0.5 -1.4 0.5 0 0.5 -1.5 0.5 2.5 0.5 -0.9 0.5 -1.2 0.5 0.2 0.5 -1.9 0.5 2.6 0.5 -2.2 0.5 2.5 0.5 -1.6 0.5 -5.4 0.5 6.6 0.5 -0.4 0.5 -1.3 0.5 1.1 0.5 0.9 0.5 -1.3 0.5 0.2 0.5 0.1 0.5 -0.9 0.5 0.4 0.5 0.7 0.5 0.2 0.5 -1.2 0.5 0.5 0.5 0.9 0.5 -0.4 0.5 -0.3 0.5 0.5 0.5 2.2 0.5 -4.1 0.5 -0.7 0.5 3.2 0.5 -2.1 0.5 2.5 0.5 -3.2 0.5 0.3 0.5 2.4 0.5 -0.2 0.5 -0.5 0.5 0.1 0.5 -0.6 0.5 -4 0.5 3.8 0.5 2.2 0.5 -0.7 0.5 -0.7 0.5 1 0.5 1 0.5 0.3 0.5 -1.7 0.5 0.1 0.5 0.6 0.5 2.6 0.5 -3.8 0.5 1.1 0.5 -8 0.5 6.9 0.5 -2.9 0.5 0 0.5 0.7 0.5 1.9 0.5 0.7 0.5 0.5 0.5 -0.5 0.5 -0.4 0.5 3.6 0.5 -3.2 0.5 0.3 0.5 1.8 0.5 -1.1 0.5 -0.7 0.5 -0.3 0.5 2.1 0.5 -3.8 0.5 0.3 0.5 1.6 0.5 -2.6 0.5 1.4 0.5 2.5 0.5 -2.1 0.5 0.9 0.5 1.4 0.5 -3.6 0.5 2 0.5 -1.5 0.5 -0.4 0.5 1 0.5 0.3 0.5 -0.5 0.5 0 0.5 2.6 0.5 -0.2 0.5 -1 0.5 -1 0.5 -1.3 0.5 -0.3 0.5 -4.9 0.5 6.5 0.5 0.7 0.5 0.1 0.5 -1.4 0.5 0 0.5 0.8 0.5 0.2 0.5 1 0.5 -0.8 0.5 1.5 0.5 1.4 0.5 -5.5 0.5 0 0.5 0.2 0.5 -0.9 0.5 2.9 0.5 3.2 0.5 -3.5 0.5 2 0.5 -2 0.5 0.4 0.5 -1.6 0.5 3.9 0.5 -0.6 0.5 -2.7 0.5 3.9 0.5 -2.6 0.5 0 0.5 -0.6 0.5 -0.9 0.5 -0.8 0.5 -6 0.5 9.6 0.5 -1.3 0.5 -0.5 0.5 1.7 0.5 -2.5 0.5 3.4 0.5 -4.5 0.5 1.6 0.5 1.5 0.5 -0.4 0.5 -1.3 0.5 0.8 0.5 0.6 0.5 1 0.5 -3.1 0.5 -2.2 0.5 6 0.5 -2.9 0.5 0.2 0.5 1 0.5 -1 0.5 2 0.5 -3 0.5 1.2 0.5 -1.7 0.5 3.5 0.5 -6.2 0.5 4.8 0.5 0.4 0.5 -3.1 0.5 1.3 0.5 1.2 0.5 4.8 0.5 -5.3 0.5 5.7 0.5 -3.9 0.5 -1.8 0.5 0.8 0.5 1.1 0.5 -0.8 0.5 -0.7 0.5 -4.3 0.5 6 0.5 -2.9 0.5 0.9 0.5 -0.1 0.5 0 0.5 0.4 0.5 -1.4 0.5 2.1 0.5 0.6 0.5 -6.5 0.5 6.4 0.5 -0.4 0.5 -0.5 0.5 1.7 0.5 -2.9 0.5 1.2 0.5 -0.1 0.5 -0.2 0.5 -1.7 0.5 0.3 0.5 3.4 0.5 -4.7 0.5 6.7 0.5 -3 0.5 -3.7 0.5 0.6 0.5 -0.5 0.5 2.3 0.5 -1.1 0.5 0.7 0.5 0.5 0.5 2.6 0.5 -4.2 0.5 -0.7 0.5 3.6 0.5 -2.1 0.5 -1.7 0.5 -0.3 0.5 3.2 0.5 -2.5 0.5 0.5 0.5 2.5 0.5 -0.1 0.5 0.5 0.5 -2.4 0.5 -2.1 0.5 2 0.5 0.5 0.5 -0.7 0.5 1.5 0.5 -1 0.5 -1.4 0.5 2.1 0.5 -0.7 0.5 -0.3 0.5 3.1 0.5 -3.6 0.5 3.4 0.5 0.2 0.5 -4.3 0.5 2.1 0.5 0.2 0.5 -1.4 0.5 1 0.5 -0.2 0.5 1.1 0.5 -1 0.5 -2.1 0.5 4.3 0.5 -0.8 0.5 -2.2 0.5 2.5 0.5 2.3 0.5 -4.7 0.5 1.3 0.5 -0.1 0.5 1.4 0.5 -1.2 0.5 -1.9 0.5 3.5 0.5 -1.9 0.5 1.4 0.5 2.2 0.5 -3.9 0.5 0.5 0.5 1.8 0.5 -1.6 0.5 0.7 0.5 -1.1 0.5 3.5 0.5 -2.9 0.5 -0.4 0.5 0.2 0.5 0.4 0.5 -2.9 0.5 2.5 0.5 1.4 0.5 -5.6 0.5 4.3 0.5 0.1 0.5 -0.8 0.5 3.8 0.5 -2.4 0.5 -0.2 0.5 -2 0.5 0.7 0.5 -0.4 0.5 0.5 0.5 0 0.5 2.6 0.5 -1.1 0.5 0.5 0.5 -0.3 0.5 11.7 0.5 -14.6 0.5 -0.6 0.5 2.1 0.5 0.4 0.5 -0.8 0.5 -0.4 0.5 1.6 0.5 1.4 0.5 -2.2 0.5 -0.6 0.5 1.9 0.5 -2.2 0.5 0.3 0.5 1 0.5 -3.1 0.5 5.1 0.5 -2.2 0.5 -1.9 0.5 1.8 0.5 -0.3 0.5 -2.5 0.5 4.5 0.5 -1.7 0.5 -0.4 0.5 4 0.5 -5.6 0.5 2.9 0.5 -1.7 0.5 -1.9 0.5 4.5 0.5 -4.3 0.5 2.5 0.5 -0.7 0.5 0.4 0.5 -1.4 0.5 2.8 0.5 -1.7 0.5 -1.9 0.5 0.1 0.5 2.3 0.5 -2 0.5 2.8 0.5 -2.9 0.5 1.3 0.5 -1.6 0.5 1 0.5 2 0.5 -1.5 0.5 3.1 0.5 -3 0.5 1.3 0.5 0.4 0.5 -0.6 0.5 0.5 0.5 1.1 0.5 -1.2 0.5 0.6 0.5 -0.8 0.5 2.8 0.5 -2.7 0.5 6.1 0.5 -10.3 0.5 3.1 0.5 -1.2 0.5 2 0.5 -0.6 0.5 -0.6 0.5 1 0.5 1.2 0.5 0.5 0.5 -2.4 0.5 2.2 0.5 -2.1 0.5 1.6 0.5 -1.8 0.5 2.7 0.5 -1.3 0.5 -0.6 0.5 1.8 0.5 -3.4 0.5 0.9 0.5 0.1 0.5 0.4 0.5 1.2 0.5 -3.1 0.5 1.9 0.5 -0.9 0.5 2.8 0.5 -2.1 0.5 4.1 0.5 -4.4 0.5 2 0.5 -3.1 0.5 1.9 0.5 1.8 0.5 -2.2 0.5 -2 0.5 1.8 0.5 0.7 0.5 -0.6 0.5 1.3 0.5 -3 0.5 4.4 0.5 -1 0.5 -3.2 0.5 4.8 0.5 -3.4 0.5 1 0.5 -3.2 0.5 1.6 0.5 0.9 0.5 0.9 0.5 -1.4 0.5 -0.4 0.5 0.4 0.5 1.9 0.5 -2.5 0.5 1.7 0.5 -2.2 0.5 -0.5 0.5 2.2 0.5 0.3 0.5 0.8 0.5 0.8 0.5 -1.9 0.5 -0.2 0.5 1.2 0.5 -0.6 0.5 -0.7 0.5 1.3 0.5 -4.3 0.5 2.4 0.5 -1.6 0.5 1.5 0.5 2 0.5 -3.6 0.5 4 0.5 -2.3 0.5 0.6 0.5 -0.1 0.5 1.2 0.5 -1.8 0.5 -1.9 0.5 3.1 0.5 -0.5 0.5 1.2 0.5 -0.1 0.5 -2.3 0.5 2.1 0.5 0.2 0.5 0 0.5 0.1 0.5 0.4 0.5 -1.5 0.5 -0.4 0.5 1.3 0.5 3.4 0.5 -5.3 0.5 -1.3 0.5 0.2 0.5 -2.5 0.5 4.6 0.5 1.7 0.5 -2 0.5 1.8 0.5 -0.6 0.5 -0.7 0.5 -3.4 0.5 4 0.5 1.1 0.5 -2.5 0.5 1.2 0.5 1.7 0.5 -3.8 0.5 0.7 0.5 2 0.5 -3.7 0.5 1 0.5 1.7 0.5 0.6 0.5 -1.1 0.5 1.1 0.5 1.8 0.5 -1.9 0.5 -2.2 0.5 1.5 0.5 1.3 0.5 -0.5 0.5 -2.8 0.5 3 0.5 -0.9 0.5 0.9 0.5 1.8 0.5 -2.1 0.5 -0.9 0.5 0.9 0.5 -0.9 0.5 3.6 0.5 -1.3 0.5 0.1 0.5 -2 0.5 -0.6 0.5 1.1 0.5 -3.6 0.5 3.6 0.5 -2.5 0.5 1.6 0.5 0.5 0.5 -1.8 0.5 1.5 0.5 1.2 0.5 1.3 0.5 -1.7 0.5 1.8 0.5 1.2 0.5 -3.3 0.5 1.1 0.5 -1.7 0.5 0.8 0.5 0.7 0.5 0.5 0.5 0.3 0.5 -5.2 0.5 4.6 0.5 -1.4 0.5 -0.8 0.5 -0.3 0.5 1.4 0.5 0.1 0.5 0.7 0.5 -1.6 0.5 2 0.5 -2.4 0.5 1.3 0.5 -0.4 0.5 1.1 0.5 -1.8 0.5 0.8 0.5 0.1 0.5 -3.1 0.5 2.7 0.5 -1.4 0.5 2.6 0.5 1.1 0.5 -2.9 0.5 2.3 0.5 -2.7 0.5 0.1 0.5 0.8 0.5 0.4 0.5 0.5 0.5 -3.2 0.5 1.2 0.5 2.2 0.5 -0.5 0.5 2.7 0.5 2.8 0.5 -6.7 0.5 2.5 0.5 -5.3 0.5 1.3 0.5 6.5 0.5 -4.2 0.5 -2.3 0.5 2.8 0.5 -1.1 0.5 0.2 0.5 -1.8 0.5 3 0.5 -0.8 0.5 0.1 0.5 -3.4 0.5 0.5 0.5 1.6 0.5 -0.6 0.5 2.2 0.5 -2.7 0.5 1.1 0.5 1.3 0.5 0.7 0.5 -0.6 0.5 -1.8 0.5 0.6 0.5 3.4 0.5 -1.5 0.5 -2.1 0.5 3.6 0.5 -3 0.5 0.4 0.5 -1 0.5 3.7 0.5 -2.1 0.5 -0.1 0.5 -0.7 0.5 -0.2 0.5 2.1 0.5 -0.8 0.5 2.2 0.5 -3.3 0.5 0.8 0.5 6.4 0.5 -5.6 0.5 -1.6 0.5 2.4 0.5 -1.1 0.5 -0.1 0.5 -0.4 0.5 0.8 0.5 -1.8 0.5 0.4 0.5 1.7 0.5 -0.8 0.5 0 0.5 1 0.5 -1.2 0.5 0.3 0.5 -3.6 0.5 2.6 0.5 -1.4 0.5 0.6 0.5 0.7 0.5 0.7 0.5 -0.4 0.5 1.1 0.5 -0.5 0.5 -0.9 0.5 1.5 0.5 -1.9 0.5 -0.6 0.5 0.9 0.5 0.4 0.5 -1.1 0.5 -1.2 0.5 0.8 0.5 -0.2 0.5 2.7 0.5 1.4 0.5 -2.6 0.5 0.1 0.5 -4.1 0.5 5.9 0.5 -0.8 0.5 -0.4 0.5 -0.9 0.5 -2.5 0.5 4.4 0.5 -2.3 0.5 3.4 0.5 -1.3 0.5 0.9 0.5 -2.2 0.5 -0.4 0.5 -0.9 0.5 3.5 0.5 -2.2 0.5 -1.8 0.5 1.1 0.5 -0.5 0.5 1.4 0.5 -1.1 0.5 -0.7 0.5 1.4 0.5 0.2 0.5 0.1 0.5 0.7 0.5 0.6 0.5 -1 0.5 1.8 0.5 -5.1 0.5 3.5 0.5 1.2 0.5 -2.8 0.5 1.5 0.5 0.3 0.5 -2.5 0.5 1.2 0.5 1.5 0.5 -1.3 0.5 2.8 0.5 6.7 0.5 -9.1 0.5 -1.2 0.5 -7.6 0.5 8.3 0.5 -1.2 0.5 1.7 0.5 -0.3 0.5 -0.1 0.5 1.9 0.5 0.2 0.5 -0.9 0.5 -0.7 0.5 1.1 0.5 -0.2 0.5 0 0.5 -1.9 0.5 -3.2 0.5 5.1 0.5 -2.1 0.5 -0.1 0.5 0.8 0.5 -0.3 0.5 -0.1 0.5 0.4 0.5 0.4 0.5 0 0.5 0.8 0.5 -0.7 0.5 0.5 0.5 -0.8 0.5 0.7 0.5 -2.1 0.5 2 0.5 -1.7 0.5 1.3 0.5 -0.6 0.5 1.1 0.5 1.4 0.5 -1.1 0.5 -1.8 0.5 1.2 0.5 1.3 0.5 -0.4 0.5 -0.3 0.5 -11.3 0.5 10 0.5 -0.3 0.5 0.2 0.5 0.9 0.5 0.1 0.5 -0.7 0.5 1 0.5 -1.7 0.5 0.5 0.5 0.5 0.5 -2 0.5 0.5 0.5 -0.1 0.5 0.2 0.5 1.1 0.5 0 0.5 0.6 0.5 0.2 0.5 -2.2 0.5 3.8 0.5 -0.6 0.5 -3.2 0.5 0.7 0.5 0.2 0.5 0.6 0.5 0.6 0.5 -0.6 0.5 -3.5 0.5 7.2 0.5 -2.8 0.5 0.2 0.5 -1.9 0.5 1 0.5 1.1" fill="none" stroke="#000000" stroke-width="1.8" stroke-linejoin="round"/>
<path d="M65 953.6l0.4 -1.4 0.4 1.2 0.4 0.9 0.4 0.1 0.4 -1.1 0.4 0.4 0.4 0.1 0.4 -1.3 0.4 -0.5 0.4 1.7 0.4 -5.3 0.4 5.4 0.4 -5.2 0.4 3.8 0.4 2.4 0.4 -3.5 0.4 1.9 0.4 0 0.4 -1.4 0.4 2.9 0.4 -2 0.4 0.5 0.4 -0.3 0.4 -2.9 0.4 -0.9 0.4 3.7 0.4 -1.5 0.4 -2.2 0.4 2.3 0.4 0.3 0.4 -2.3 0.4 3.7 0.4 0 0.4 -0.4 0.4 -1.5 0.4 0 0.4 1.6 0.4 -3.2 0.4 1.5 0.4 -0.4 0.4 1.2 0.4 -4.6 0.4 4.5 0.4 -1.3 0.4 0 0.4 1.8 0.4 -3.8 0.4 3.4 0.4 0 0.4 0.6 0.4 -0.7 0.4 -1.9 0.4 1.1 0.4 -2.3 0.4 0.5 0.4 -0.5 0.4 2.9 0.4 -0.5 0.4 -2.4 0.4 3 0.4 -3.3 0.4 3.5 0.4 -0.8 0.4 1.3 0.4 -0.2 0.4 -4.1 0.4 -4.2 0.4 4.7 0.4 -1.6 0.4 3.3 0.4 -4.6 0.4 0.2 0.4 -0.3 0.4 2.7 0.4 -2 0.4 0.8 0.4 -0.8 0.4 -1.7 0.4 -0.3 0.4 -0.8 0.4 -1 0.4 -0.1 0.4 -0.4 0.4 1.9 0.4 0.2 0.4 1.4 0.4 -2.6 0.4 0.9 0.4 -3.5 0.4 0.5 0.4 -2.6 0.4 2 0.4 0.5 0.4 1 0.4 0.2 0.4 -1.2 0.4 -1 0.4 -0.9 0.4 -0.6 0.4 -1.8 0.4 1.1 0.4 0.2 0.4 -0.5 0.4 -0.4 0.4 -2.4 0.4 -0.3 0.4 -0.3 0.4 2.4 0.4 -1.9 0.4 -1.4 0.4 3.4 0.4 -3.1 0.4 -1.1 0.4 -1.1 0.4 1.7 0.4 -1.2 0.4 1.1 0.4 -3.1 0.4 3.8 0.4 -3.2 0.4 -0.1 0.4 0.1 0.4 -0.6 0.4 3.6 0.4 -1.6 0.4 -2 0.4 0.2 0.4 2.3 0.4 -1.8 0.4 1.3 0.4 -0.7 0.4 2.4 0.4 -3.7 0.4 1.2 0.4 1.9 0.4 -0.1 0.4 -1.7 0.4 -2.4 0.4 3.6 0.4 0.1 0.4 -2.4 0.4 0.5 0.4 3.9 0.4 -5.3 0.4 3.3 0.4 -1.7 0.4 -0.5 0.4 0.4 0.4 -0.5 0.4 0.9 0.4 -0.1 0.4 -0.8 0.4 1.5 0.4 -2.3 0.4 1.5 0.4 -0.8 0.4 1.5 0.4 -1.9 0.4 -0.3 0.4 2.6 0.4 -3.4 0.4 -2.7 0.4 5.4 0.4 -1 0.4 -1.5 0.4 -1.5 0.4 1 0.4 -1.1 0.4 0.7 0.4 2.1 0.4 -0.8 0.4 -1.5 0.4 -1.9 0.4 5.4 0.4 1.4 0.4 -4.8 0.4 1 0.4 -1.4 0.4 1.7 0.4 -3.5 0.4 0.8 0.4 1.6 0.4 0.8 0.4 0.2 0.4 -2.4 0.4 2.7 0.4 -2.2 0.4 1.3 0.4 2 0.4 -1.4 0.4 -1.9 0.4 0 0.4 -1 0.4 1.1 0.4 0.3 0.4 0.1 0.4 -1.1 0.4 -2.9 0.4 3.9 0.4 -1.9 0.4 1 0.4 -0.4 0.4 -0.8 0.4 -0.5 0.4 -0.1 0.4 -1.2 0.4 1.7 0.4 -0.9 0.4 -0.3 0.4 0.5 0.4 1 0.4 -1.4 0.4 0.4 0.4 0.2 0.4 -3 0.4 2.4 0.4 -2.4 0.4 4.8 0.4 -1.7 0.4 -2.4 0.4 1.1 0.4 -2.3 0.4 3.7 0.4 -2.3 0.4 1.3 0.4 -2.4 0.4 3.2 0.4 -1.2 0.4 -1.1 0.4 0.2 0.4 -0.2 0.4 -0.6 0.4 1.6 0.4 -1 0.4 -1.6 0.4 1.6 0.4 -2.5 0.4 2.7 0.4 -0.6 0.4 -2.4 0.4 3.2 0.4 -0.7 0.4 -1.8 0.4 -2.1 0.4 -1.5 0.4 1.5 0.4 2 0.4 -4.2 0.4 -2.3 0.4 5.1 0.4 -3.3 0.4 0.3 0.4 1.9 0.4 -3 0.4 -0.6 0.4 -1 0.4 3.1 0.4 -3.1 0.4 -2 0.4 1.7 0.4 -1.5 0.4 1.6 0.4 0.4 0.4 -2 0.4 -1.1 0.4 -1.4 0.4 0.7 0.4 0.5 0.4 0.8 0.4 1.2 0.4 -1.6 0.4 -4.4 0.4 2.1 0.4 3.6 0.4 -1 0.4 -3.7 0.4 0.8 0.4 3.2 0.4 -3.7 0.4 3.1 0.4 -2.8 0.4 -1.8 0.4 6.5 0.4 -5.5 0.4 3.6 0.4 -1.4 0.4 2.3 0.4 -5.9 0.4 3 0.4 -0.5 0.4 1.5 0.4 -2.4 0.4 2.8 0.4 -3 0.4 0.7 0.4 -0.8 0.4 -2.3 0.4 5.1 0.4 -2.5 0.4 1.6 0.4 -2.4 0.4 0.7 0.4 2.5 0.4 -1.7 0.4 2.7 0.4 -3.8 0.4 0.7 0.4 -1.2 0.4 3.5 0.4 -3.2 0.4 0.8 0.4 0.6 0.4 -2.1 0.4 2.1 0.4 0.3 0.4 -1.3 0.4 0.1 0.4 -1.1 0.4 2.1 0.4 -3.1 0.4 1.8 0.4 -0.9 0.4 1.9 0.4 -1.8 0.4 -0.9 0.4 0.6 0.4 3.5 0.4 -1.9 0.4 -1.5 0.4 0.9 0.4 0.9 0.4 -0.7 0.4 -2 0.4 1 0.4 -1.2 0.4 0.6 0.4 2.7 0.4 -1.6 0.4 -2.5 0.4 2.1 0.4 0.5 0.4 -0.4 0.4 -2.9 0.4 3.3 0.4 -1.1 0.4 1.6 0.4 0.4 0.4 -1.4 0.4 -2.5 0.4 -1 0.4 3.7 0.4 -1.1 0.4 0.9 0.4 -0.6 0.4 0.5 0.4 -0.8 0.4 -1 0.4 0 0.4 2.1 0.4 -2.5 0.4 2.7 0.4 -2.8 0.4 -1.1 0.4 3 0.4 1.8 0.4 -1.6 0.4 -4 0.4 1.3 0.4 -0.5 0.4 1.4 0.4 -2 0.4 3.6 0.4 -3.8 0.4 3.5 0.4 -0.7 0.4 -0.1 0.4 -0.6 0.4 0.8 0.4 -1.5 0.4 -0.1 0.4 -0.3 0.4 0.6 0.4 -2.2 0.4 0.8 0.4 0.5 0.4 1.9 0.4 1.5 0.4 -0.8 0.4 -1.2 0.4 0.2 0.4 -4.4 0.4 2.2 0.4 -0.8 0.4 1.3 0.4 3.4 0.4 -5.6 0.4 5.3 0.4 -1.9 0.4 -1.7 0.4 0.2 0.4 -2.5 0.4 2 0.4 -1 0.4 1.4 0.4 0.2 0.4 1.9 0.4 -0.6 0.4 -5.3 0.4 2.1 0.4 -1.7 0.4 4 0.4 -0.6 0.4 -2.1 0.4 2.6 0.4 -1.9 0.4 -0.8 0.4 -2.5 0.4 -0.8 0.4 2.3 0.4 -0.5 0.4 0.1 0.4 0.6 0.4 -1.3 0.4 -1.8 0.4 1.8 0.4 -1 0.4 1.4 0.4 -2 0.4 0.8 0.4 0.5 0.4 -2.3 0.4 0.7 0.4 -1.5 0.4 -0.5 0.4 0.1 0.4 -0.6 0.4 2.2 0.4 1.9 0.4 -4.3 0.4 -1.6 0.4 0.8 0.4 -4.3 0.4 0.7 0.4 2.3 0.4 -0.6 0.4 -0.3 0.4 -1.6 0.4 1.9 0.4 -0.8 0.4 -1 0.4 -1.9 0.4 2.3 0.4 -1.4 0.4 1 0.4 -2.3 0.4 -0.3 0.4 1.4 0.4 -1 0.4 1.1 0.4 -0.9 0.4 -2.8 0.4 -0.8 0.4 1.5 0.4 2.5 0.4 -1.7 0.4 -0.3 0.4 3.1 0.4 -1.6 0.4 -2 0.4 -1.5 0.4 3.3 0.4 0.6 0.4 -3.7 0.4 0.3 0.4 0.9 0.4 -1.3 0.4 1.5 0.4 0.3 0.4 -0.3 0.4 -2.1 0.4 2.3 0.4 -2 0.4 -0.5 0.4 2.4 0.4 -0.4 0.4 -0.7 0.4 0.5 0.4 -0.1 0.4 0.1 0.4 -2.7 0.4 5 0.4 -3.3 0.4 -1.8 0.4 1.5 0.4 -0.3 0.4 1.7 0.4 -1.7 0.4 -0.4 0.4 1.3 0.4 -0.9 0.4 2.4 0.4 -3 0.4 -0.6 0.4 0.4 0.4 2.7 0.4 -4.1 0.4 1.5 0.4 1.9 0.4 -0.7 0.4 -1.8 0.4 3.5 0.4 -0.1 0.4 -4.5 0.4 2.7 0.4 -0.9 0.4 2.3 0.4 -3.7 0.4 2.1 0.4 -4.5 0.4 2.5 0.4 -0.7 0.4 2.1 0.4 -0.4 0.4 -0.7 0.4 0.7 0.4 -3.6 0.4 2.8 0.4 -1.5 0.4 3.3 0.4 -3.1 0.4 3.2 0.4 -1.6 0.4 -0.6 0.4 2.1 0.4 -0.4 0.4 -2.2 0.4 3.2 0.4 -2.2 0.4 -0.6 0.4 -2.1 0.4 3.7 0.4 -0.2 0.4 -1 0.4 -0.9 0.4 -0.1 0.4 1.2 0.4 -0.3 0.4 0.1 0.4 0.5 0.4 0.1 0.4 0.3 0.4 -0.7 0.4 0 0.4 0.9 0.4 0 0.4 -0.1 0.4 0.8 0.4 -1.1 0.4 0 0.4 -1.6 0.4 0.8 0.4 1.6 0.4 -1.8 0.4 1.3 0.4 0.4 0.4 -1.3 0.4 1.2 0.4 0 0.4 -4.4 0.4 5.2 0.4 -4.2 0.4 -0.8 0.4 4.5 0.4 -4.4 0.4 -0.6 0.4 1.8 0.4 0.7 0.4 -1.9 0.4 4.8 0.4 -0.8 0.4 -2.3 0.4 1.4 0.4 -0.6 0.4 -1 0.4 0.5 0.4 -2.4 0.4 0.6 0.4 1.3 0.4 0.2 0.4 -2.5 0.4 -1.2 0.4 2.7 0.4 -2.8 0.4 2.4 0.4 2.6 0.4 -1 0.4 -0.5 0.4 -0.6 0.4 0.1 0.4 -1.9 0.4 0.6 0.4 -0.7 0.4 0.6 0.4 4.6 0.4 -5.3 0.4 0.6 0.4 0.8 0.4 -1.8 0.4 2.1 0.4 -1.3 0.4 1.5 0.4 -3.7 0.4 3.2 0.4 0.4 0.4 -2.7 0.4 1.7 0.4 -0.6 0.4 0.8 0.4 1.7 0.4 -4.7 0.4 1.3 0.4 1.6 0.4 -0.1 0.4 -1.7 0.4 1.2 0.4 -0.9 0.4 0.7 0.4 -3.9 0.4 5.3 0.4 -4.5 0.4 4.5 0.4 -1.4 0.4 1.9 0.4 -1.4 0.4 0.2 0.4 -0.6 0.4 -2.6 0.4 2 0.4 -0.4 0.4 1.9 0.4 -1.5 0.4 -0.2 0.4 1.3 0.4 -2.1 0.4 0.2 0.4 0.2 0.4 0.8 0.4 -1.7 0.4 0.1 0.4 2.1 0.4 -2.8 0.4 1.8 0.4 -2.2 0.4 1.1 0.4 -1.3 0.4 4.8 0.4 -2.4 0.4 1.6 0.4 -2.6 0.4 -0.9 0.4 -1.5 0.4 2.1 0.4 -1.7 0.4 2.4 0.4 -2 0.4 1.7 0.4 1.4 0.4 -1.9 0.4 0.1 0.4 -0.4 0.4 0.9 0.4 2.5 0.4 -1.9 0.4 -1.4 0.4 1.8 0.4 -0.4 0.4 -1.2 0.4 1.6 0.4 -1.2 0.4 1.8 0.4 -3.3 0.4 2 0.4 -2.8 0.4 0 0.4 1.5 0.4 -0.4 0.4 0.1 0.4 -2 0.4 2.7 0.4 -1.6 0.4 1.2 0.4 -0.2 0.4 2.3 0.4 -3.4 0.4 0.1 0.4 1 0.4 -0.5 0.4 -1 0.4 -0.6 0.4 0.2 0.4 2 0.4 -1.5 0.4 -2.4 0.4 -0.3 0.4 3.8 0.4 0 0.4 -1.9 0.4 0.4 0.4 1.6 0.4 -1.8 0.4 -0.5 0.4 -1.3 0.4 0.7 0.4 1.4 0.4 -0.6 0.4 -0.1 0.4 -0.6 0.4 0.9 0.4 0 0.4 -0.8 0.4 0.1 0.4 0.2 0.4 -0.1 0.4 -2.9 0.4 2.8 0.4 -3.1 0.4 5.8 0.4 -4.8 0.4 0.2 0.4 1.4 0.4 -0.7 0.4 -3.2 0.4 0.1 0.4 -2 0.4 0.9 0.4 0.9 0.4 -1.7 0.4 1.6 0.4 -1.7 0.4 0.5 0.4 2 0.4 -2.2 0.4 -0.5 0.4 0.1 0.4 2.6 0.4 -2.7 0.4 0.9 0.4 -1.4 0.4 0.2 0.4 0.1 0.4 -0.2 0.4 -0.6 0.4 0.4 0.4 0.6 0.4 0.8 0.4 -1.4 0.4 -1.2 0.4 2.9 0.4 0.1 0.4 -3 0.4 -0.5 0.4 1.3 0.4 3.6 0.4 -4.1 0.4 -0.8 0.4 2.6 0.4 -2.3 0.4 0.2 0.4 -0.8 0.4 0.6 0.4 0.1 0.4 -1.6 0.4 2.7 0.4 3.4 0.4 -4.7 0.4 1.9 0.4 -3.1 0.4 1.8 0.4 -0.8 0.4 0.6 0.4 1.6 0.4 -0.6 0.4 -1.4 0.4 1.3 0.4 -0.8 0.4 0.6 0.4 -0.9 0.4 0.4 0.4 -0.8 0.4 0.8 0.4 2.1 0.4 -2.5 0.4 0.5 0.4 -1.4 0.4 0.8 0.4 -1.1 0.4 -0.3 0.4 2 0.4 -0.3 0.4 0.1 0.4 -1.9 0.4 0.1 0.4 3 0.4 -2.7 0.4 0.3 0.4 -1.9 0.4 2.2 0.4 0.4 0.4 -0.1 0.4 -3.9 0.4 3.5 0.4 1.4 0.4 -4.9 0.4 3.6 0.4 -0.1 0.4 -1.3 0.4 1.7 0.4 0.7 0.4 -1 0.4 -2 0.4 -0.9 0.4 1.3 0.4 2 0.4 -2.9 0.4 0.3 0.4 1.5 0.4 -1.5 0.4 1 0.4 -0.1 0.4 1.2 0.4 -1.1 0.4 0.1 0.4 2.1 0.4 0.4 0.4 -2.9 0.4 0.6 0.4 0.4 0.4 -1.4 0.4 1.7 0.4 0.1 0.4 0.4 0.4 -3.1 0.4 2.6 0.4 -2.1 0.4 0.7 0.4 2 0.4 2.1 0.4 -3.8 0.4 -0.4 0.4 1.8 0.4 -1.1 0.4 0.4 0.4 -1.1 0.4 1.4 0.4 -1.3 0.4 -1.3 0.4 2.3 0.4 -1.2 0.4 1.7 0.4 2.3 0.4 -3.4 0.4 1 0.4 0.2 0.4 0.3 0.4 -2.5 0.4 2.7 0.4 -2.4 0.4 -0.3 0.4 -0.5 0.4 3.8 0.4 0.3 0.4 -0.7 0.4 -1.6 0.4 2.8 0.4 -5.5 0.4 5.8 0.4 -3.1 0.4 1.1 0.4 -0.1 0.4 -3.7 0.4 3.8 0.4 0.5 0.4 -0.6 0.4 -0.5 0.4 -0.4 0.4 -1.4 0.4 1.7 0.4 -1.2 0.4 4.1 0.4 -1.5 0.4 -2.4 0.4 0 0.4 0.7 0.4 0.3 0.4 0.9 0.4 0.6 0.4 -1.1 0.4 0.3 0.4 1.4 0.4 -1.5 0.4 2.6 0.4 -1.4 0.4 -2.7 0.4 0.7 0.4 0.7 0.4 0.8 0.4 0.1 0.4 1.2 0.4 -4.8 0.4 1.9 0.4 -0.5 0.4 1.6 0.4 0.4 0.4 1.1 0.4 0 0.4 -0.1 0.4 -0.2 0.4 -0.4 0.4 0.8 0.4 -2 0.4 2.3 0.4 -0.7 0.4 -1 0.4 -0.1 0.4 1.6 0.4 -1.3 0.4 -1.6 0.4 3.6 0.4 -4.1 0.4 5 0.4 -1.8 0.4 1.9 0.4 -3.4 0.4 -0.3 0.4 1.1 0.4 -1.6 0.4 -0.5 0.4 3.1 0.4 1.1 0.4 -1.5 0.4 -0.1 0.4 0.4 0.4 1.9 0.4 -3.3 0.4 -0.4 0.4 1 0.4 -1.1 0.4 -1.7 0.4 4.7 0.4 -1.8 0.4 3.2 0.4 -3.1 0.4 0.1 0.4 1.3 0.4 0.6 0.4 -0.8 0.4 -2.3 0.4 -1.6 0.4 2.7 0.4 3.4 0.4 -4.9 0.4 5.8 0.4 -5.3 0.4 3.1 0.4 2.2 0.4 -4.1 0.4 2.9 0.4 1.4 0.4 1.7 0.4 1.7 0.4 -2.7 0.4 -1.5 0.4 0.4 0.4 0 0.4 1.9 0.4 -1 0.4 0.3 0.4 -0.2 0.4 1.1 0.4 2.5 0.4 -1.9 0.4 0.5 0.4 0.3 0.4 -1.6 0.4 3.3 0.4 -0.5 0.4 2.1 0.4 -2.4 0.4 0.6 0.4 -1.9 0.4 1.4 0.4 1.1 0.4 -1.1 0.4 1.7 0.4 -1.4 0.4 1 0.4 -0.4 0.4 -1.1 0.4 -0.4 0.4 1.5 0.4 -1.1 0.4 1.7 0.4 -1.9 0.4 -2.6 0.4 4 0.4 -1.1 0.4 -0.4 0.4 -1 0.4 2.5 0.4 -1 0.4 3.1 0.4 -1.3 0.4 2.5 0.4 -2.7 0.4 -1.4 0.4 -0.2 0.4 1.4 0.4 1.5 0.4 -0.1 0.4 -2.1 0.4 2.4 0.4 -3.8 0.4 2.9 0.4 0.2 0.4 -0.4 0.4 0.8 0.4 0.8 0.4 3.1 0.4 -4 0.4 -2.8 0.4 5 0.4 -4.5 0.4 -0.6 0.4 3.3 0.4 -0.3 0.4 1.1 0.4 1.3 0.4 -3.2 0.4 1 0.4 0 0.4 -2.1 0.4 3.8 0.4 -2.5 0.4 0.9 0.4 2.9 0.4 -0.8 0.4 -2.1 0.4 -0.3 0.4 -3.1 0.4 4.5 0.4 1 0.4 -0.4 0.4 0.1 0.4 -0.9 0.4 1.9 0.4 -1.4 0.4 -1.6 0.4 2.2 0.4 -4.7 0.4 3.7 0.4 1.2 0.4 -1 0.4 0.8 0.4 -0.4 0.4 1.3 0.4 -1.2 0.4 -1.1 0.4 1.4 0.4 -1 0.4 0.6 0.4 1.1 0.4 0.1 0.4 0.5 0.4 -4.2 0.4 1.9 0.4 3.3 0.4 -1.3 0.4 1.8 0.4 -0.7 0.4 -3 0.4 -0.4 0.4 -1.9 0.4 3.5 0.4 -1.7 0.4 1 0.4 1.6 0.4 -1.6 0.4 0.6 0.4 -1 0.4 -1.2 0.4 2.1 0.4 -1.2 0.4 1.5 0.4 1.3 0.4 -4.3 0.4 3.1 0.4 1.3 0.4 -3.4 0.4 2.3 0.4 3.6 0.4 -2.5 0.4 -0.2 0.4 -0.4 0.4 0.7 0.4 -2.6 0.4 -0.1 0.4 1.9 0.4 -1.6 0.4 3.4 0.4 -3.9 0.4 3.5 0.4 -0.1 0.4 0.7 0.4 0.1 0.4 -1.8 0.4 2.6 0.4 -2.5 0.4 1.7 0.4 -3.7 0.4 4.3 0.4 -3.4 0.4 2.7 0.4 -2.2 0.4 -2 0.4 7.5 0.4 -6.2 0.4 2.8 0.4 2.7 0.4 -3.7 0.4 2.6 0.4 -0.3 0.4 -2.3 0.4 0.7 0.4 -0.4 0.4 -0.9 0.4 -0.2 0.4 2.2 0.4 -1 0.4 1.5 0.4 -1.1 0.4 0.9 0.4 -2.3 0.4 1.9 0.4 -2.5 0.4 4 0.4 0 0.4 0.4 0.4 -2.1 0.4 0 0.4 1.5 0.4 -3 0.4 2.5 0.4 0.9 0.4 -2.7 0.4 4.3 0.4 -4.7 0.4 0 0.4 0.5 0.4 1.4 0.4 0 0.4 -0.3 0.4 1.3 0.4 -1.6 0.4 3.4 0.4 -4.3 0.4 2.5 0.4 -1.9 0.4 -0.4 0.4 1.8 0.4 0.1 0.4 -0.2 0.4 0 0.4 0 0.4 -4.3 0.4 4.4 0.4 -1.4 0.4 -0.5 0.4 1 0.4 0.9 0.4 0.4 0.4 -2.1 0.4 -0.3 0.4 0.5 0.4 -0.8 0.4 0.9 0.4 1.2 0.4 -3.1 0.4 2 0.4 -0.2 0.4 -0.5 0.4 0.7 0.4 -0.3 0.4 0.2 0.4 1.3 0.4 -1.4 0.4 2.9 0.4 -3.2 0.4 1.9 0.4 2.2 0.4 -2.8 0.4 -1.7 0.4 -0.5 0.4 0.8 0.4 1.2 0.4 0.5 0.4 0.1 0.4 2.5 0.4 -2.6 0.4 0.4 0.4 1.2 0.4 1 0.4 -1.2 0.4 0.6 0.4 -3.1 0.4 2 0.4 0.7 0.4 2.4 0.4 -0.6 0.4 -1.2 0.4 1.1 0.4 -0.4 0.4 0.5 0.4 -0.5 0.4 2.5 0.4 -1.7 0.4 -3.1 0.4 1.4 0.4 1.2 0.4 1.5 0.4 -1.4 0.4 -2.9 0.4 0.7 0.4 2.7 0.4 2 0.4 -1.1 0.4 0.2 0.4 -1.5 0.4 1 0.4 0 0.4 -2.7 0.4 4 0.4 -2.2 0.4 1.7 0.4 1.4 0.4 0.5 0.4 -2.8 0.4 0.7 0.4 1.1 0.4 -0.8 0.4 -0.6 0.4 2.6 0.4 -1.2 0.4 -1 0.4 2.5 0.4 -1.9 0.4 2.2 0.4 0.8 0.4 -2.5 0.4 1.4 0.4 -2.2 0.4 2.8 0.4 1.2 0.4 -2.2 0.4 1.5 0.4 -0.3 0.4 0.9 0.4 2 0.4 -3.1 0.4 3.9 0.4 0.7 0.4 -1.5 0.4 0.1 0.4 -1.7 0.4 2.2 0.4 -1.1 0.4 -0.2 0.4 1.6 0.4 2.9 0.4 -0.7 0.4 -1.4 0.4 0.9 0.4 2.3 0.4 -3.2 0.4 3.8 0.4 -1.2 0.4 -1.1 0.4 3.5 0.4 0.8 0.4 -1.9 0.4 -0.1 0.4 3.4 0.4 -1.6 0.4 -2.9 0.4 0.9 0.4 0.9 0.4 0.1 0.4 -1.6 0.4 2.7 0.4 -0.5 0.4 3.5 0.4 -4.9 0.4 -1.1 0.4 5.5 0.4 -1.4 0.4 -1.1 0.4 1.8 0.4 0.1 0.4 -4.5 0.4 2.4 0.4 -0.7 0.4 -0.4 0.4 2.1 0.4 -2.1 0.4 2.2 0.4 1.1 0.4 -2 0.4 3.5 0.4 -3.5 0.4 2.3 0.4 -2.6 0.4 0.3 0.4 2.2 0.4 -0.2 0.4 -3.6 0.4 2.9 0.4 1.5 0.4 -1.5 0.4 2.5 0.4 -1.8 0.4 -0.7 0.4 0.3 0.4 -3.7 0.4 4.3 0.4 0.9 0.4 -0.8 0.4 0.5 0.4 -0.9 0.4 -0.3 0.4 0.6 0.4 -2.5 0.4 2.8 0.4 -0.7 0.4 2.5 0.4 -3.2 0.4 3 0.4 -1.2 0.4 -1 0.4 -1 0.4 3.2 0.4 -2.5 0.4 1.5 0.4 0.2 0.4 1.1 0.4 -2 0.4 2.6 0.4 -1.5 0.4 0.5 0.4 0.4 0.4 -1.8 0.4 -0.8 0.4 -1 0.4 3.5 0.4 -0.8 0.4 0.7 0.4 0.5 0.4 0.2 0.4 -0.8 0.4 -0.3 0.4 -0.9 0.4 1.2 0.4 -0.6 0.4 1.7 0.4 2.4 0.4 -3.8 0.4 -1.7 0.4 2.3 0.4 -0.8 0.4 -1.2 0.4 -1 0.4 2.4 0.4 -0.6 0.4 3.6 0.4 -0.3 0.4 -5 0.4 3.4 0.4 -2.6 0.4 5.2 0.4 -1.1 0.4 -0.1 0.4 -2.1 0.4 1 0.4 0.2 0.4 -0.5 0.4 0.9 0.4 -0.9 0.4 2.4 0.4 0.4 0.4 -1.6 0.4 1.4 0.4 -1.9 0.4 2.2 0.4 -3.1 0.4 1.5 0.4 -0.4 0.4 1.3 0.4 -2.3 0.4 1.2 0.4 -0.3 0.4 0.4 0.4 1.6 0.4 0.3 0.4 -1.6 0.4 -2.2 0.4 4.7 0.4 -3.6 0.4 0.5 0.4 2.5 0.4 -3.2 0.4 2.7 0.4 -2.1 0.4 1.3 0.4 -2.1 0.4 1.5 0.4 2.4 0.4 1.4 0.4 -2.8 0.4 -1.2 0.4 1.8 0.4 -2.6 0.4 3 0.4 -1.3 0.4 0.7 0.4 -0.2 0.4 2.3 0.4 -1.2 0.4 1.4 0.4 -0.2 0.4 2.2 0.4 -2.4 0.4 -0.5 0.4 1.6 0.4 1.5 0.4 -4 0.4 0.5 0.4 2.9 0.4 0.8 0.4 -1.5 0.4 -2.9 0.4 3.9 0.4 -0.5 0.4 0.3 0.4 1.5 0.4 -1.6 0.4 1.6 0.4 2.6 0.4 -4.9 0.4 0.7 0.4 0.9 0.4 -1 0.4 1.7 0.4 1.6 0.4 -0.5 0.4 0.9 0.4 -0.6 0.4 -1.5 0.4 2.1 0.4 -3.2 0.4 6 0.4 -3 0.4 0.1 0.4 2 0.4 1.6 0.4 -0.8 0.4 0.8 0.4 0.5 0.4 1.3 0.4 1.5 0.4 -3.4 0.4 1.2 0.4 0.6 0.4 -1 0.4 2.9 0.4 -0.6 0.4 -1 0.4 1.5 0.4 0 0.4 0.8 0.4 -0.4 0.4 0.6 0.4 0.7 0.4 1.8 0.4 -5.7 0.4 1.7 0.4 3.1 0.4 0.8 0.4 -4.3 0.4 1.7 0.4 0.4 0.4 0.8 0.4 -2.4 0.4 -2.7 0.4 3.7 0.4 2 0.4 -2.2 0.4 1.1 0.4 0.8 0.4 0 0.4 -2.9 0.4 3.8 0.4 -3.8 0.4 1.7 0.4 3.5 0.4 -1.6 0.4 0.9 0.4 -2 0.4 -0.7 0.4 1.7 0.4 -0.5 0.4 3.9 0.4 -5.3 0.4 2.1 0.4 -0.3 0.4 2.4 0.4 -0.2 0.4 0.6 0.4 -2.6 0.4 -0.9 0.4 0.4 0.4 -0.7 0.4 -0.4 0.4 3.4 0.4 -1.1 0.4 2.3 0.4 -3.1 0.4 -0.2 0.4 2.1 0.4 2 0.4 -2.4 0.4 2 0.4 -1.9 0.4 -1.3 0.4 2.8 0.4 -2.7 0.4 3.9 0.4 -3.3 0.4 1 0.4 -0.7 0.4 3.8 0.4 -2.8 0.4 2.9 0.4 -1.2 0.4 0.4 0.4 -0.6 0.4 2.7 0.4 -2 0.4 0.9 0.4 -0.6 0.4 -0.6 0.4 -0.2 0.4 -0.1 0.4 -1 0.4 0.8 0.4 -2.5 0.4 3.3 0.4 -1.9 0.4 4.8 0.4 -2.4 0.4 2 0.4 -1.4 0.4 0.9 0.4 -2.3 0.4 0.4 0.4 0.4 0.4 -0.5 0.4 2.2 0.4 -1.7 0.4 -1.4 0.4 1.8 0.4 0 0.4 2.1 0.4 -1.1 0.4 -0.1 0.4 0.6 0.4 -0.6 0.4 0.5 0.4 -1 0.4 2.2 0.4 -0.7 0.4 -0.1 0.4 3.1 0.4 -0.8 0.4 -2.6 0.4 1.2 0.4 0.6 0.4 -0.4 0.4 0.3 0.4 -0.4 0.4 -1.1 0.4 0.4 0.4 -1.1 0.4 0.6 0.4 0.3 0.4 -0.4 0.4 0.5 0.4 3.1 0.4 -4.8 0.4 3.3 0.4 1.7 0.4 0 0.4 0.3 0.4 -4.4 0.4 4 0.4 -1.6 0.4 2.9 0.4 -3.1 0.4 0.2 0.4 0.5 0.4 -2.9 0.4 2.5 0.4 1.2 0.4 1.3 0.4 -1.4 0.4 0 0.4 1 0.4 -1.2 0.4 1.5 0.4 1.2 0.4 -1.8 0.4 1.6 0.4 1.4 0.4 -1.8 0.4 -0.5 0.4 0.8 0.4 -1.1 0.4 -0.2 0.4 1.2 0.4 -1.9 0.4 2 0.4 -1 0.4 2.2 0.4 -1.2 0.4 1.1 0.4 -1.2 0.4 1.3 0.4 -0.8 0.4 -0.4 0.4 1.5 0.4 -0.4 0.4 0.3 0.4 0.6 0.4 3.5 0.4 0.6 0.4 -1.3 0.4 2.3 0.4 1.3 0.4 -1.7 0.4 -0.5 0.4 0.9 0.4 0 0.4 -1.1 0.4 2.2 0.4 -5.2 0.4 5.3 0.4 0.4 0.4 0.1 0.4 -1.3 0.4 -2 0.4 1.8 0.4 -1 0.4 4.1 0.4 0.1 0.4 -1.4 0.4 0.2 0.4 -0.5 0.4 3 0.4 -4.4 0.4 1.6 0.4 1.2 0.4 -0.4 0.4 -1.6 0.4 2 0.4 -0.6 0.4 -0.2 0.4 -0.5 0.4 2.6 0.4 -0.9 0.4 1.2 0.4 -0.6 0.4 0.7 0.4 -1.7 0.4 1.7 0.4 1 0.4 -3.4 0.4 2.5 0.4 -1 0.4 0 0.4 0.3 0.4 0.6 0.4 -0.3 0.4 -1.9 0.4 4.6 0.4 -1.4 0.4 -4.6 0.4 2.8 0.4 0.4 0.4 0.1 0.4 3.3 0.4 -0.4 0.4 -1.4 0.4 -2.5 0.4 2.5 0.4 -2.1 0.4 1.9 0.4 0.5 0.4 -0.8 0.4 2.7 0.4 -1 0.4 -0.7 0.4 1.5 0.4 0.3 0.4 -2.4 0.4 2.7 0.4 -2.2 0.4 0.3 0.4 -0.2 0.4 -1.2 0.4 5 0.4 -2.4 0.4 -0.1 0.4 -1.7 0.4 -0.6 0.4 1.9 0.4 0.6 0.4 1.6 0.4 0.4 0.4 0 0.4 0.2 0.4 -4.4 0.4 3.4 0.4 -1.9 0.4 3.7 0.4 -2.1 0.4 1.4 0.4 -0.1 0.4 -0.9 0.4 2.9 0.4 -3.5 0.4 3.9 0.4 -3.4 0.4 2.9 0.4 -1.4 0.4 -5.3 0.4 5.2 0.4 -1.1 0.4 2.9 0.4 -2.6 0.4 2.6 0.4 -2.6 0.4 1.3" fill="none" stroke="#dd0033" stroke-width="1.7" stroke-linejoin="round"/>
<path d="M65 920.7l0.6 -0.3 0.6 -0.3 0.6 -0.3 0.6 -0.3 0.6 -0.3 0.6 -0.2 0.7 -0.3 0.6 -0.2 0.6 -0.3 0.6 -0.2 0.6 -0.3 0.6 -0.2 0.6 -0.2 0.6 -0.2 0.6 -0.2 0.6 -0.2 0.6 -0.2 0.6 -0.2 0.7 -0.2 0.6 -0.2 0.6 -0.2 0.6 -0.2 0.6 -0.1 0.6 -0.2 0.6 -0.2 0.6 -0.1 0.6 -0.2 0.6 -0.2 0.6 -0.1 0.6 -0.2 0.6 -0.1 0.7 -0.2 0.6 -0.1 0.6 -0.2 0.6 -0.1 0.6 -0.1 0.6 -0.2 0.6 -0.1 0.6 -0.1 0.6 -0.2 0.6 -0.1 0.6 -0.1 0.6 -0.2 0.7 -0.1 0.6 -0.1 0.6 -0.2 0.6 -0.1 0.6 -0.1 0.6 -0.2 0.6 -0.1 0.6 -0.1 0.6 -0.1 0.6 -0.2 0.6 -0.1 0.6 -0.1 0.7 -0.1 0.6 -0.2 0.6 -0.1 0.6 -0.1 0.6 -0.1 0.6 -0.2 0.6 -0.1 0.6 -0.4 0.6 -0.3 0.6 -0.4 0.6 -0.3 0.6 -0.4 0.6 -0.3 0.6 -0.3 0.6 -0.3 0.6 -0.4 0.6 -0.3 0.6 -0.3 0.6 -0.3 0.6 -0.3 0.7 -0.3 0.6 -0.2 0.6 -0.3 0.6 -0.3 0.6 -0.3 0.6 -0.2 0.6 -0.3 0.6 -0.3 0.6 -0.2 0.6 -0.3 0.6 -0.2 0.6 -0.3 0.6 -0.2 0.6 -0.3 0.6 -0.2 0.6 -0.2 0.6 -0.3 0.6 -0.2 0.6 -0.2 0.6 -0.2 0.6 -0.2 0.6 -0.3 0.6 -0.2 0.6 -0.2 0.6 -0.2 0.6 -0.2 0.7 -0.2 0.6 -0.2 0.6 -0.2 0.6 -0.2 0.6 -0.2 0.6 -0.1 0.6 -0.2 0.6 -0.2 0.6 -0.2 0.6 -0.2 0.6 -0.2 0.6 -0.1 0.6 -0.2 0.6 -0.2 0.6 -0.2 0.6 -0.1 0.6 -0.2 0.6 -0.2 0.6 -0.1 0.6 -0.2 0.6 -0.2 0.6 -0.1 0.6 -0.2 0.6 -0.2 0.6 -0.1 0.6 -0.2 0.7 -0.1 0.6 -0.2 0.6 -0.2 0.6 -0.1 0.6 -0.2 0.6 -0.1 0.6 -0.2 0.6 -0.1 0.6 -0.2 0.6 -0.1 0.6 -0.2 0.6 -0.1 0.6 -0.2 0.6 -0.1 0.6 -0.2 0.6 -0.1 0.6 -0.2 0.6 -0.1 0.6 -0.2 0.6 -0.1 0.6 -0.2 0.6 -0.1 0.6 -0.2 0.6 -0.1 0.6 -0.2 0.6 -0.1 0.7 -0.2 0.6 -0.1 0.6 -0.2 0.6 -0.1 0.6 -0.2 0.6 -0.1 0.6 -0.2 0.6 -0.1 0.6 -0.2 0.6 -0.1 0.6 -0.2 0.6 -0.1 0.6 -0.2 0.6 -0.1 0.6 -0.3 0.6 -0.3 0.6 -0.3 0.6 -0.4 0.6 -0.3 0.6 -0.2 0.6 -0.3 0.6 -0.3 0.6 -0.3 0.6 -0.3 0.6 -0.3 0.6 -0.2 0.6 -0.3 0.7 -0.2 0.6 -0.3 0.6 -0.2 0.6 -0.3 0.6 -0.2 0.6 -0.3 0.6 -0.2 0.6 -0.2 0.6 -0.3 0.6 -0.2 0.6 -0.2 0.6 -0.2 0.6 -0.2 0.6 -0.3 0.6 -0.2 0.6 -0.2 0.6 -0.2 0.6 -0.2 0.6 -0.2 0.6 -0.2 0.6 -0.2 0.6 -0.1 0.6 -0.2 0.6 -0.2 0.6 -0.2 0.6 -0.2 0.7 -0.2 0.6 -0.1 0.6 -0.2 0.6 -0.2 0.6 -0.1 0.6 -0.2 0.6 -0.2 0.6 -0.1 0.6 -0.2 0.6 -0.2 0.6 -0.1 0.6 -0.2 0.6 -0.1 0.6 -0.2 0.6 -0.2 0.6 -0.1 0.6 -0.2 0.6 -0.1 0.6 -0.2 0.6 -0.1 0.6 -0.1 0.6 -0.2 0.6 -0.1 0.6 -0.2 0.6 -0.1 0.6 -0.2 0.7 -0.1 0.6 -0.1 0.6 -0.2 0.6 -0.1 0.6 -0.2 0.6 -0.1 0.6 -0.1 0.6 -0.2 0.6 -0.1 0.6 -0.1 0.6 -0.2 0.6 -0.1 0.6 -0.1 0.6 -0.2 0.6 -0.1 0.6 -0.1 0.6 -0.2 0.6 -0.1 0.6 -0.1 0.6 -0.2 0.6 -0.1 0.6 -0.1 0.6 -0.2 0.6 -0.1 0.6 -0.1 0.6 -0.2 0.7 -0.1 0.6 -0.1 0.6 -0.2 0.6 -0.1 0.6 -0.1 0.6 -0.2 0.6 -0.1 0.6 -0.1 0.6 -0.1 0.6 -0.2 0.6 -0.1 0.6 -0.1 0.6 -0.2 0.6 -0.1 0.6 -0.3 0.6 -0.3 0.6 -0.4 0.6 -0.3 0.6 -0.3 0.6 -0.3 0.6 -0.3 0.6 -0.3 0.6 -0.3 0.6 -0.2 0.6 -0.3 0.6 -0.3 0.6 -0.2 0.6 -0.3 0.6 -0.3 0.6 -0.2 0.6 -0.3 0.6 -0.2 0.6 -0.3 0.6 -0.2 0.6 -0.2 0.6 -0.3 0.6 -0.2 0.6 -0.2 0.6 -0.2 0.7 -0.3 0.6 -0.2 0.6 -0.2 0.6 -0.2 0.6 -0.2 0.6 -0.2 0.6 -0.2 0.6 -0.2 0.6 -0.2 0.6 -0.2 0.6 -0.2 0.6 -0.2 0.6 -0.1 0.6 -0.2 0.6 -0.2 0.6 -0.2 0.6 -0.1 0.6 -0.2 0.6 -0.2 0.6 -0.2 0.6 -0.1 0.6 -0.2 0.6 -0.2 0.6 -0.1 0.6 -0.2 0.6 -0.1 0.6 -0.2 0.6 -0.2 0.6 -0.1 0.6 -0.2 0.6 -0.1 0.6 -0.2 0.6 -0.1 0.6 -0.2 0.6 -0.1 0.6 -0.2 0.6 -0.1 0.6 -0.2 0.6 -0.1 0.6 -0.1 0.6 -0.2 0.6 -0.1 0.6 -0.2 0.6 -0.1 0.6 -0.1 0.6 -0.2 0.6 -0.1 0.6 -0.2 0.6 -0.1 0.6 -0.1 0.6 -0.2 0.6 -0.1 0.7 -0.2 0.6 -0.1 0.6 -0.1 0.6 -0.2 0.6 -0.1 0.6 -0.1 0.6 -0.2 0.6 -0.1 0.6 -0.1 0.6 -0.2 0.6 -0.1 0.6 -0.1 0.6 -0.2 0.6 -0.1 0.6 -0.1 0.6 -0.2 0.6 -0.1 0.6 -0.1 0.6 -0.2 0.6 -0.1 0.6 -0.1 0.6 -0.2 0.6 -0.1 0.6 -0.1 0.6 -0.2 0.6 -0.1 0.6 -0.2 0.6 -0.3 0.6 -0.2 0.6 -0.2 0.6 -0.3 0.6 -0.2 0.6 -0.2 0.6 -0.2 0.6 -0.2 0.6 -0.3 0.6 -0.2 0.6 -0.2 0.6 -0.2 0.6 -0.2 0.6 -0.1 0.6 -0.2 0.6 -0.2 0.6 -0.2 0.6 -0.2 0.6 -0.2 0.6 -0.1 0.6 -0.2 0.6 -0.2 0.6 -0.1 0.6 -0.2 0.6 -0.2 0.6 -0.1 0.6 -0.2 0.6 -0.1 0.6 -0.2 0.6 -0.1 0.6 -0.2 0.6 -0.1 0.6 -0.2 0.6 -0.1 0.6 -0.2 0.6 -0.1 0.6 -0.1 0.6 -0.2 0.6 -0.1 0.6 -0.2 0.6 -0.1 0.6 -0.1 0.6 -0.1 0.6 -0.2 0.6 -0.1 0.6 -0.1 0.6 -0.1 0.6 -0.2 0.6 -0.1 0.6 -0.1 0.6 -0.1 0.7 -0.1 0.6 -0.2 0.6 -0.1 0.6 -0.1 0.6 -0.1 0.6 -0.1 0.6 -0.1 0.6 -0.1 0.6 -0.1 0.6 -0.1 0.6 -0.2 0.6 -0.1 0.6 -0.1 0.6 -0.1 0.6 -0.1 0.6 -0.1 0.6 -0.1 0.6 -0.1 0.6 -0.1 0.6 -0.1 0.6 -0.1 0.6 -0.1 0.6 -0.1 0.6 -0.1 0.6 -0.1 0.6 -0.1 0.6 -0.1 0.6 -0.1 0.6 -0.1 0.6 -0.1 0.6 -0.1 0.6 -0.1 0.6 -0.1 0.6 -0.1 0.6 -0.1 0.6 -0.1 0.6 -0.1 0.6 -0.1 0.6 -0.1 0.6 -0.1 0.6 -0.1 0.6 -0.1 0.6 -0.1 0.6 -0.1 0.6 -0.1 0.6 -0.1 0.6 -0.1 0.6 -0.1 0.6 -0.1 0.6 -0.1 0.6 -0.1 0.6 -0.1 0.6 -0.1 0.6 -0.1 0.6 -0.2 0.6 -0.1 0.6 -0.1 0.6 -0.1 0.6 -0.2 0.6 -0.1 0.6 -0.1 0.6 -0.1 0.6 -0.1 0.6 -0.1 0.6 -0.1 0.6 -0.2 0.6 -0.1 0.6 -0.1 0.6 -0.1 0.6 -0.1 0.6 -0.1 0.6 -0.1 0.6 -0.1 0.6 -0.1 0.6 -0.1 0.6 -0.1 0.6 -0.1 0.6 -0.1 0.6 0 0.6 -0.1 0.6 -0.1 0.6 -0.1 0.6 -0.1 0.6 -0.1 0.6 0 0.6 -0.1 0.6 -0.1 0.6 -0.1 0.6 -0.1 0.6 0 0.6 -0.1 0.6 -0.1 0.6 0 0.6 -0.1 0.6 -0.1 0.6 0 0.6 -0.1 0.6 -0.1 0.6 0 0.6 -0.1 0.6 0 0.6 -0.1 0.6 0 0.6 -0.1 0.6 0 0.6 -0.1 0.6 0 0.6 -0.1 0.6 0 0.6 -0.1 0.6 0 0.6 -0.1 0.6 0 0.6 0 0.6 -0.1 0.6 0 0.6 0 0.6 -0.1 0.6 0 0.6 0 0.6 0 0.6 -0.1 0.6 0 0.6 0 0.6 0 0.6 -0.1 0.6 0 0.6 0 0.6 0 0.6 0 0.6 0 0.6 -0.1 0.6 0 0.6 0 0.6 0 0.6 0 0.6 0 0.6 0 0.6 0 0.6 0 0.6 0 0.6 0 0.6 0 0.6 0 0.6 0 0.6 0 0.6 0 0.6 0 0.6 0 0.7 0.1 0.6 0 0.6 0 0.6 0 0.6 0 0.6 0 0.6 0 0.6 0.1 0.6 0 0.6 0 0.6 0 0.6 0 0.6 0.1 0.6 0 0.6 0 0.6 0.1 0.6 0 0.6 0 0.6 0 0.6 0.1 0.6 0 0.6 0.1 0.6 0 0.6 0 0.6 0.1 0.6 0 0.6 0.1 0.6 0 0.6 0 0.6 0.1 0.6 0 0.6 0.1 0.6 0 0.6 0.1 0.6 0.1 0.6 0 0.6 0.1 0.6 0 0.6 0.1 0.6 0 0.6 0.1 0.6 0.1 0.6 0 0.6 0.1 0.6 0.1 0.6 0.1 0.6 0 0.6 0.1 0.6 0.1 0.6 0.1 0.6 0 0.6 0.1 0.6 0.1 0.6 0.1 0.6 0.1 0.6 0 0.6 0.1 0.6 0.1 0.6 0.1 0.6 0.1 0.6 0.1 0.6 0.1 0.6 0.1 0.6 0.1 0.6 0.1 0.6 0.1 0.6 0.1 0.6 0.1 0.6 0.1 0.6 0.1 0.6 0.1 0.6 0.1 0.6 0.1 0.6 0.2 0.6 0.1 0.6 0.1 0.6 0.1 0.6 0.1 0.6 0.1 0.6 0.2 0.6 0.1 0.6 0.1 0.6 0.1 0.6 0.2 0.6 0.1 0.6 0.1 0.6 0.2 0.6 0.1 0.6 0.1 0.6 0.2 0.6 0.1 0.6 0.2 0.6 0.1 0.6 0.2 0.6 0.1 0.6 0.2 0.6 0.1 0.6 0.1 0.6 0.1 0.6 0.1 0.6 0.1 0.6 0.1 0.6 0.1 0.6 0.1 0.6 0.1 0.6 0.1 0.6 0.1 0.6 0.1 0.6 0.1 0.7 0.1 0.6 0.1 0.6 0.1 0.6 0.1 0.6 0.1 0.6 0.1 0.6 0.1 0.6 0.1 0.6 0.1 0.6 0.1 0.6 0.1 0.6 0.1 0.6 0.1 0.6 0.1 0.6 0.1 0.6 0.1 0.6 0.1 0.6 0.1 0.6 0.1 0.6 0.1 0.6 0.1 0.6 0.1 0.6 0.1 0.6 0.1 0.6 0.1 0.7 0.1 0.6 0.1 0.6 0.1 0.6 0.1 0.6 0.1 0.6 0.1 0.6 0.2 0.6 0.1 0.6 0.1 0.6 0.1 0.6 0.1 0.6 0.1 0.6 0.1 0.6 0.2 0.6 0.1 0.6 0.1 0.6 0.1 0.6 0.1 0.6 0.2 0.6 0.1 0.6 0.1 0.6 0.1 0.6 0.2 0.6 0.1 0.6 0.1 0.6 0.1 0.7 0.2 0.6 0.1 0.6 0.2 0.6 0.1 0.6 0.1 0.6 0.2 0.6 0.1 0.6 0.2 0.6 0.1 0.6 0.2 0.6 0.1 0.6 0.2 0.6 0.1 0.6 0.2 0.6 0.2 0.6 0.1 0.6 0.2 0.6 0.2 0.6 0.2 0.6 0.1 0.6 0.2 0.6 0.2 0.6 0.2 0.6 0.2 0.6 0.2 0.7 0.2 0.6 0.2 0.6 0.2 0.6 0.2 0.6 0.2 0.6 0.2 0.6 0.2 0.6 0.2 0.6 0.3 0.6 0.2 0.6 0.2 0.6 0.3 0.6 0.2 0.6 0.1 0.6 0.1 0.6 0.2 0.6 0.1 0.6 0.1 0.6 0.1 0.6 0.1 0.6 0.2 0.6 0.1 0.6 0.1 0.6 0.1 0.6 0.2 0.6 0.1 0.6 0.1 0.6 0.1 0.6 0.1 0.6 0.2 0.6 0.1 0.6 0.1 0.6 0.1 0.6 0.1 0.6 0.2 0.6 0.1 0.6 0.1 0.6 0.1 0.6 0.2 0.6 0.1 0.6 0.1 0.6 0.1 0.6 0.2 0.6 0.1 0.6 0.1 0.6 0.1 0.6 0.2 0.6 0.1 0.6 0.1 0.6 0.2 0.6 0.1 0.6 0.1 0.6 0.2 0.6 0.1 0.6 0.1 0.6 0.2 0.6 0.1 0.6 0.1 0.6 0.2 0.6 0.1 0.6 0.1 0.6 0.2 0.7 0.1 0.6 0.2 0.6 0.1 0.6 0.2 0.6 0.1 0.6 0.2 0.6 0.1 0.6 0.2 0.6 0.1 0.6 0.2 0.6 0.2 0.6 0.1 0.6 0.2 0.6 0.1 0.6 0.2 0.6 0.2 0.6 0.2 0.6 0.1 0.6 0.2 0.6 0.2 0.6 0.2 0.6 0.2 0.6 0.1 0.6 0.2 0.6 0.2 0.6 0.2 0.6 0.2 0.6 0.2 0.6 0.2 0.6 0.2 0.6 0.3 0.6 0.2 0.6 0.2 0.6 0.2 0.6 0.3 0.6 0.2 0.6 0.2 0.6 0.3 0.6 0.2 0.6 0.3 0.6 0.2 0.6 0.3 0.6 0.2 0.6 0.3 0.6 0.3 0.6 0.2 0.6 0.3 0.6 0.3 0.6 0.3 0.6 0.3 0.6 0.1 0.6 0.2 0.6 0.1 0.6 0.2 0.6 0.1 0.6 0.1 0.6 0.2 0.6 0.1 0.6 0.1 0.6 0.2 0.7 0.1 0.6 0.2 0.6 0.1 0.6 0.1 0.6 0.2 0.6 0.1 0.6 0.2 0.6 0.1 0.6 0.1 0.6 0.2 0.6 0.1 0.6 0.2 0.6 0.1 0.6 0.1 0.6 0.2 0.6 0.1 0.6 0.2 0.6 0.1 0.6 0.2 0.7 0.1 0.6 0.1 0.6 0.2 0.6 0.1 0.6 0.2 0.6 0.1 0.6 0.2 0.6 0.1 0.6 0.2 0.6 0.1 0.6 0.2 0.6 0.1 0.6 0.2 0.6 0.1 0.6 0.2 0.6 0.2 0.6 0.1 0.6 0.2 0.6 0.1 0.6 0.2 0.6 0.2 0.7 0.1 0.6 0.2 0.6 0.2 0.6 0.1 0.6 0.2 0.6 0.2 0.6 0.1 0.6 0.2 0.6 0.2 0.6 0.2 0.6 0.2 0.6 0.2 0.6 0.1 0.6 0.2 0.6 0.2 0.6 0.2 0.6 0.2 0.6 0.2 0.6 0.2 0.7 0.2 0.6 0.3 0.6 0.2 0.6 0.2 0.6 0.2 0.6 0.2 0.6 0.3 0.6 0.2 0.6 0.2 0.6 0.3 0.6 0.2 0.6 0.2 0.6 0.3 0.6 0.2 0.6 0.3 0.6 0.3 0.6 0.2 0.6 0.3 0.6 0.3 0.6 0.3 0.6 0.2 0.7 0.3 0.6 0.3 0.6 0.3 0.6 0.3 0.6 0.4 0.6 0.3 0.6 0.3 0.6 0.3 0.6 0.4 0.6 0.3 0.6 0.2 0.6 0.1 0.6 0.2 0.6 0.1 0.6 0.2 0.6 0.1 0.6 0.2 0.6 0.1 0.6 0.2 0.6 0.1 0.6 0.2 0.6 0.1 0.6 0.2 0.6 0.1 0.6 0.2 0.6 0.1 0.7 0.2 0.6 0.1 0.6 0.2 0.6 0.2 0.6 0.1 0.6 0.2 0.6 0.1 0.6 0.2 0.6 0.1 0.6 0.2 0.6 0.1 0.6 0.2 0.6 0.2 0.6 0.1 0.6 0.2 0.6 0.1 0.6 0.2 0.6 0.2 0.6 0.1 0.6 0.2 0.6 0.1 0.6 0.2 0.6 0.2 0.6 0.1 0.6 0.2 0.6 0.2 0.6 0.1 0.6 0.2 0.6 0.2 0.6 0.2 0.6 0.1 0.6 0.2 0.7 0.2 0.6 0.2 0.6 0.2 0.6 0.2 0.6 0.1 0.6 0.2 0.6 0.2 0.6 0.2 0.6 0.2 0.6 0.2 0.6 0.2 0.6 0.2 0.6 0.2 0.6 0.2 0.6 0.2 0.6 0.3 0.6 0.2 0.6 0.2 0.6 0.2 0.6 0.3 0.6 0.2 0.6 0.2 0.6 0.3 0.6 0.2 0.6 0.2 0.6 0.3 0.6 0.3 0.6 0.2 0.6 0.3 0.6 0.2 0.6 0.3 0.6 0.3 0.7 0.3 0.6 0.3 0.6 0.2 0.6 0.3 0.6 0.3 0.6 0.3 0.6 0.4 0.6 0.3 0.6 0.3 0.6 0.3 0.6 0.4 0.6 0.3 0.6 0.3 0.6 0.4 0.6 0.4 0.6 0.3 0.6 0.4 0.6 0.1 0.6 0.2 0.6 0.1 0.6 0.2 0.6 0.1 0.6 0.2 0.6 0.1 0.6 0.2 0.6 0.1 0.6 0.2 0.6 0.1 0.6 0.2 0.6 0.1 0.6 0.2 0.6 0.1 0.6 0.2 0.6 0.1 0.6 0.2 0.6 0.1 0.6 0.2 0.6 0.1 0.6 0.2 0.6 0.1 0.6 0.2 0.6 0.1 0.6 0.2 0.6 0.2 0.6 0.1 0.6 0.2 0.6 0.1 0.6 0.2 0.6 0.1 0.6 0.2 0.6 0.1 0.6 0.2 0.6 0.2 0.6 0.1 0.6 0.2 0.6 0.2 0.6 0.1 0.6 0.2 0.6 0.1 0.6 0.2 0.6 0.2 0.6 0.2 0.6 0.1 0.6 0.2 0.6 0.2 0.6 0.1 0.6 0.2 0.6 0.2 0.6 0.2 0.6 0.2 0.6 0.2 0.6 0.1 0.6 0.2 0.6 0.2 0.6 0.2 0.6 0.2 0.6 0.2 0.6 0.2 0.6 0.2 0.6 0.2 0.6 0.2 0.6 0.3 0.6 0.2 0.6 0.2 0.6 0.2 0.6 0.3 0.6 0.2 0.6 0.2 0.6 0.3 0.6 0.2 0.6 0.2 0.6 0.3 0.6 0.2 0.6 0.3 0.6 0.3 0.6 0.2 0.6 0.3 0.6 0.3 0.6 0.2 0.6 0.3 0.6 0.3 0.6 0.3 0.6 0.3 0.6 0.3 0.6 0.3 0.6 0.4 0.6 0.3 0.6 0.3 0.6 0.3 0.6 0.4 0.6 0.3 0.6 0.4 0.6 0.3 0.6 0.4" fill="none" stroke="#dd5500" stroke-width="2.0" stroke-linejoin="round"/>
<path d="M65 889.8l0.6 -0.3 0.6 -0.3 0.6 -0.3 0.6 -0.3 0.6 -0.3 0.6 -0.3 0.7 -0.2 0.6 -0.3 0.6 -0.2 0.6 -0.3 0.6 -0.2 0.6 -0.3 0.6 -0.2 0.6 -0.2 0.6 -0.2 0.6 -0.2 0.6 -0.2 0.6 -0.2 0.7 -0.2 0.6 -0.2 0.6 -0.2 0.6 -0.2 0.6 -0.2 0.6 -0.2 0.6 -0.1 0.6 -0.2 0.6 -0.2 0.6 -0.1 0.6 -0.2 0.6 -0.1 0.6 -0.2 0.7 -0.2 0.6 -0.1 0.6 -0.2 0.6 -0.1 0.6 -0.1 0.6 -0.2 0.6 -0.1 0.6 -0.2 0.6 -0.1 0.6 -0.1 0.6 -0.2 0.6 -0.1 0.7 -0.1 0.6 -0.2 0.6 -0.1 0.6 -0.1 0.6 -0.2 0.6 -0.1 0.6 -0.1 0.6 -0.2 0.6 -0.1 0.6 -0.1 0.6 -0.2 0.6 -0.1 0.7 -0.1 0.6 -0.2 0.6 -0.1 0.6 -0.1 0.6 -0.1 0.6 -0.2 0.6 -0.1 0.6 -0.4 0.6 -0.3 0.6 -0.3 0.6 -0.4 0.6 -0.3 0.6 -0.3 0.6 -0.3 0.6 -0.4 0.6 -0.3 0.6 -0.3 0.6 -0.3 0.6 -0.3 0.6 -0.3 0.6 -0.2 0.6 -0.3 0.6 -0.3 0.6 -0.3 0.6 -0.2 0.6 -0.3 0.6 -0.2 0.6 -0.3 0.6 -0.3 0.6 -0.2 0.6 -0.2 0.6 -0.3 0.6 -0.2 0.7 -0.3 0.6 -0.2 0.6 -0.2 0.6 -0.2 0.6 -0.2 0.6 -0.3 0.6 -0.2 0.6 -0.2 0.6 -0.2 0.6 -0.2 0.6 -0.2 0.6 -0.2 0.6 -0.2 0.6 -0.2 0.6 -0.2 0.6 -0.2 0.6 -0.2 0.6 -0.2 0.6 -0.1 0.6 -0.2 0.6 -0.2 0.6 -0.2 0.6 -0.2 0.6 -0.1 0.6 -0.2 0.6 -0.2 0.6 -0.2 0.6 -0.1 0.6 -0.2 0.6 -0.2 0.6 -0.1 0.6 -0.2 0.6 -0.2 0.6 -0.1 0.6 -0.2 0.6 -0.1 0.6 -0.2 0.6 -0.1 0.6 -0.2 0.6 -0.2 0.6 -0.1 0.6 -0.2 0.6 -0.1 0.6 -0.2 0.6 -0.1 0.6 -0.2 0.6 -0.1 0.6 -0.2 0.6 -0.1 0.6 -0.2 0.6 -0.1 0.6 -0.2 0.6 -0.1 0.7 -0.2 0.6 -0.1 0.6 -0.1 0.6 -0.2 0.6 -0.1 0.6 -0.2 0.6 -0.1 0.6 -0.2 0.6 -0.1 0.6 -0.2 0.6 -0.1 0.6 -0.1 0.6 -0.2 0.6 -0.1 0.6 -0.2 0.6 -0.1 0.6 -0.2 0.6 -0.1 0.6 -0.2 0.6 -0.1 0.6 -0.1 0.6 -0.2 0.6 -0.1 0.6 -0.2 0.6 -0.1 0.6 -0.2 0.6 -0.1 0.6 -0.3 0.6 -0.4 0.6 -0.3 0.6 -0.3 0.6 -0.3 0.6 -0.3 0.6 -0.3 0.6 -0.3 0.6 -0.3 0.6 -0.3 0.6 -0.3 0.6 -0.3 0.6 -0.2 0.6 -0.3 0.6 -0.3 0.6 -0.2 0.6 -0.3 0.6 -0.2 0.6 -0.3 0.6 -0.2 0.6 -0.3 0.6 -0.2 0.6 -0.2 0.6 -0.3 0.6 -0.2 0.6 -0.2 0.6 -0.2 0.6 -0.2 0.6 -0.3 0.6 -0.2 0.6 -0.2 0.6 -0.2 0.6 -0.2 0.6 -0.2 0.6 -0.2 0.6 -0.2 0.6 -0.2 0.6 -0.1 0.6 -0.2 0.6 -0.2 0.6 -0.2 0.6 -0.2 0.6 -0.2 0.6 -0.1 0.6 -0.2 0.6 -0.2 0.6 -0.1 0.6 -0.2 0.6 -0.2 0.6 -0.1 0.6 -0.2 0.6 -0.2 0.6 -0.1 0.6 -0.2 0.6 -0.2 0.6 -0.1 0.6 -0.2 0.6 -0.1 0.6 -0.2 0.6 -0.1 0.6 -0.2 0.6 -0.1 0.6 -0.2 0.6 -0.1 0.6 -0.2 0.6 -0.1 0.6 -0.2 0.6 -0.1 0.6 -0.1 0.6 -0.2 0.6 -0.1 0.6 -0.2 0.6 -0.1 0.6 -0.2 0.6 -0.1 0.6 -0.1 0.6 -0.2 0.6 -0.1 0.6 -0.2 0.6 -0.1 0.6 -0.1 0.6 -0.2 0.6 -0.1 0.6 -0.1 0.6 -0.2 0.6 -0.1 0.6 -0.2 0.6 -0.1 0.6 -0.1 0.6 -0.2 0.6 -0.1 0.6 -0.1 0.6 -0.2 0.6 -0.1 0.6 -0.1 0.6 -0.2 0.6 -0.1 0.6 -0.2 0.6 -0.1 0.6 -0.1 0.6 -0.2 0.6 -0.1 0.6 -0.1 0.6 -0.2 0.6 -0.1 0.6 -0.3 0.6 -0.3 0.6 -0.3 0.6 -0.3 0.6 -0.3 0.6 -0.3 0.6 -0.3 0.6 -0.3 0.6 -0.3 0.6 -0.2 0.6 -0.3 0.6 -0.3 0.6 -0.2 0.6 -0.3 0.6 -0.2 0.6 -0.3 0.6 -0.2 0.6 -0.3 0.6 -0.2 0.6 -0.2 0.6 -0.2 0.6 -0.3 0.6 -0.2 0.6 -0.2 0.6 -0.2 0.7 -0.2 0.6 -0.2 0.6 -0.2 0.6 -0.2 0.6 -0.2 0.6 -0.2 0.6 -0.2 0.6 -0.2 0.6 -0.2 0.6 -0.2 0.6 -0.2 0.6 -0.2 0.6 -0.1 0.6 -0.2 0.6 -0.2 0.6 -0.2 0.6 -0.1 0.6 -0.2 0.6 -0.2 0.6 -0.1 0.6 -0.2 0.6 -0.1 0.6 -0.2 0.6 -0.2 0.6 -0.1 0.6 -0.2 0.6 -0.1 0.6 -0.2 0.6 -0.1 0.6 -0.2 0.6 -0.1 0.6 -0.2 0.6 -0.1 0.6 -0.2 0.6 -0.1 0.6 -0.1 0.6 -0.2 0.6 -0.1 0.6 -0.2 0.6 -0.1 0.6 -0.1 0.6 -0.2 0.6 -0.1 0.6 -0.2 0.6 -0.1 0.6 -0.1 0.6 -0.2 0.6 -0.1 0.6 -0.1 0.6 -0.2 0.6 -0.1 0.6 -0.1 0.7 -0.2 0.6 -0.1 0.6 -0.1 0.6 -0.2 0.6 -0.1 0.6 -0.1 0.6 -0.1 0.6 -0.2 0.6 -0.1 0.6 -0.1 0.6 -0.2 0.6 -0.1 0.6 -0.1 0.6 -0.2 0.6 -0.1 0.6 -0.1 0.6 -0.1 0.6 -0.2 0.6 -0.1 0.6 -0.1 0.6 -0.2 0.6 -0.1 0.6 -0.1 0.6 -0.1 0.6 -0.2 0.6 -0.1 0.6 -0.3 0.6 -0.2 0.6 -0.2 0.6 -0.3 0.6 -0.2 0.6 -0.3 0.6 -0.2 0.6 -0.2 0.6 -0.2 0.6 -0.2 0.6 -0.3 0.6 -0.2 0.6 -0.2 0.6 -0.2 0.6 -0.2 0.6 -0.2 0.6 -0.2 0.6 -0.2 0.6 -0.2 0.6 -0.1 0.6 -0.2 0.6 -0.2 0.6 -0.2 0.6 -0.2 0.6 -0.1 0.6 -0.2 0.6 -0.2 0.6 -0.1 0.6 -0.2 0.6 -0.1 0.6 -0.2 0.6 -0.2 0.6 -0.1 0.6 -0.2 0.6 -0.1 0.6 -0.2 0.6 -0.1 0.6 -0.1 0.6 -0.2 0.6 -0.1 0.6 -0.2 0.6 -0.1 0.6 -0.1 0.6 -0.2 0.6 -0.1 0.6 -0.1 0.6 -0.2 0.6 -0.1 0.6 -0.1 0.6 -0.1 0.6 -0.2 0.6 -0.1 0.7 -0.1 0.6 -0.1 0.6 -0.1 0.6 -0.2 0.6 -0.1 0.6 -0.1 0.6 -0.1 0.6 -0.1 0.6 -0.1 0.6 -0.2 0.6 -0.1 0.6 -0.1 0.6 -0.1 0.6 -0.1 0.6 -0.1 0.6 -0.1 0.6 -0.1 0.6 -0.1 0.6 -0.2 0.6 -0.1 0.6 -0.1 0.6 -0.1 0.6 -0.1 0.6 -0.1 0.6 -0.1 0.6 -0.1 0.6 -0.1 0.6 -0.1 0.6 -0.1 0.6 -0.1 0.6 -0.1 0.6 -0.1 0.6 -0.1 0.6 -0.1 0.6 -0.1 0.6 -0.1 0.6 -0.2 0.6 -0.1 0.6 -0.1 0.6 -0.1 0.6 -0.1 0.6 -0.1 0.6 -0.1 0.6 -0.1 0.6 -0.1 0.6 -0.1 0.6 -0.1 0.6 -0.1 0.6 -0.1 0.6 -0.1 0.6 -0.1 0.6 -0.1 0.6 -0.1 0.6 -0.1 0.6 -0.2 0.6 -0.1 0.6 -0.1 0.6 -0.1 0.6 -0.2 0.6 -0.1 0.6 -0.1 0.6 -0.1 0.6 -0.1 0.6 -0.1 0.6 -0.2 0.6 -0.1 0.6 -0.1 0.6 -0.1 0.6 -0.1 0.6 -0.1 0.6 -0.1 0.6 -0.1 0.6 -0.1 0.6 -0.1 0.6 -0.1 0.6 -0.1 0.6 -0.1 0.6 -0.1 0.6 -0.1 0.6 -0.1 0.6 0 0.6 -0.1 0.6 -0.1 0.6 -0.1 0.6 -0.1 0.6 -0.1 0.6 0 0.6 -0.1 0.6 -0.1 0.6 -0.1 0.6 0 0.6 -0.1 0.6 -0.1 0.6 0 0.6 -0.1 0.6 -0.1 0.6 0 0.6 -0.1 0.6 -0.1 0.6 0 0.6 -0.1 0.6 0 0.6 -0.1 0.6 0 0.6 -0.1 0.6 0 0.6 -0.1 0.6 0 0.6 -0.1 0.6 0 0.6 -0.1 0.6 0 0.6 -0.1 0.6 0 0.6 0 0.6 -0.1 0.6 0 0.6 0 0.6 -0.1 0.6 0 0.6 0 0.6 0 0.6 -0.1 0.6 0 0.6 0 0.6 0 0.6 -0.1 0.6 0 0.6 0 0.6 0 0.6 0 0.6 0 0.6 0 0.6 -0.1 0.6 0 0.6 0 0.6 0 0.6 0 0.6 0 0.6 0 0.6 0 0.6 0 0.6 0 0.6 0 0.6 0 0.6 0 0.6 0 0.6 0 0.6 0 0.7 0.1 0.6 0 0.6 0 0.6 0 0.6 0 0.6 0 0.6 0 0.6 0.1 0.6 0 0.6 0 0.6 0 0.6 0 0.6 0.1 0.6 0 0.6 0 0.6 0 0.6 0.1 0.6 0 0.6 0 0.6 0.1 0.6 0 0.6 0 0.6 0.1 0.6 0 0.6 0 0.6 0.1 0.6 0 0.6 0.1 0.6 0 0.6 0.1 0.6 0 0.6 0.1 0.6 0 0.6 0.1 0.6 0 0.6 0.1 0.6 0 0.6 0.1 0.6 0 0.6 0.1 0.6 0.1 0.6 0 0.6 0.1 0.6 0.1 0.6 0 0.6 0.1 0.6 0.1 0.6 0.1 0.6 0 0.6 0.1 0.6 0.1 0.6 0.1 0.6 0 0.6 0.1 0.6 0.1 0.6 0.1 0.6 0.1 0.6 0.1 0.6 0.1 0.6 0 0.6 0.1 0.6 0.1 0.6 0.1 0.6 0.1 0.6 0.1 0.6 0.1 0.6 0.1 0.6 0.1 0.6 0.1 0.6 0.1 0.6 0.1 0.6 0.2 0.6 0.1 0.6 0.1 0.6 0.1 0.6 0.1 0.6 0.1 0.6 0.1 0.6 0.2 0.6 0.1 0.6 0.1 0.6 0.1 0.6 0.2 0.6 0.1 0.6 0.1 0.6 0.2 0.6 0.1 0.6 0.1 0.6 0.2 0.6 0.1 0.6 0.1 0.6 0.2 0.6 0.1 0.6 0.2 0.6 0.1 0.6 0.2 0.6 0.1 0.6 0.1 0.6 0.1 0.6 0.1 0.6 0.1 0.6 0.1 0.6 0.1 0.6 0.1 0.6 0.2 0.6 0.1 0.6 0.1 0.6 0.1 0.6 0.1 0.7 0.1 0.6 0.1 0.6 0.1 0.6 0.1 0.6 0.1 0.6 0.1 0.6 0.1 0.6 0.1 0.6 0.1 0.6 0.1 0.6 0.2 0.6 0.1 0.6 0.1 0.6 0.1 0.6 0.1 0.6 0.1 0.6 0.1 0.6 0.1 0.6 0.1 0.6 0.1 0.6 0.2 0.6 0.1 0.6 0.1 0.6 0.1 0.6 0.1 0.7 0.1 0.6 0.1 0.6 0.1 0.6 0.2 0.6 0.1 0.6 0.1 0.6 0.1 0.6 0.1 0.6 0.2 0.6 0.1 0.6 0.1 0.6 0.1 0.6 0.2 0.6 0.1 0.6 0.1 0.6 0.1 0.6 0.2 0.6 0.1 0.6 0.1 0.6 0.2 0.6 0.1 0.6 0.1 0.6 0.2 0.6 0.1 0.6 0.2 0.6 0.1 0.7 0.1 0.6 0.2 0.6 0.1 0.6 0.2 0.6 0.1 0.6 0.2 0.6 0.2 0.6 0.1 0.6 0.2 0.6 0.1 0.6 0.2 0.6 0.2 0.6 0.1 0.6 0.2 0.6 0.2 0.6 0.2 0.6 0.2 0.6 0.1 0.6 0.2 0.6 0.2 0.6 0.2 0.6 0.2 0.6 0.2 0.6 0.2 0.6 0.2 0.7 0.2 0.6 0.3 0.6 0.2 0.6 0.2 0.6 0.2 0.6 0.3 0.6 0.2 0.6 0.2 0.6 0.3 0.6 0.2 0.6 0.3 0.6 0.2 0.6 0.3 0.6 0.1 0.6 0.1 0.6 0.2 0.6 0.1 0.6 0.1 0.6 0.1 0.6 0.2 0.6 0.1 0.6 0.1 0.6 0.1 0.6 0.1 0.6 0.2 0.6 0.1 0.6 0.1 0.6 0.1 0.6 0.1 0.6 0.2 0.6 0.1 0.6 0.1 0.6 0.1 0.6 0.2 0.6 0.1 0.6 0.1 0.6 0.1 0.6 0.2 0.6 0.1 0.6 0.1 0.6 0.1 0.6 0.2 0.6 0.1 0.6 0.1 0.6 0.1 0.6 0.2 0.6 0.1 0.6 0.1 0.6 0.2 0.6 0.1 0.6 0.1 0.6 0.2 0.6 0.1 0.6 0.1 0.6 0.2 0.6 0.1 0.6 0.1 0.6 0.2 0.6 0.1 0.6 0.1 0.6 0.2 0.6 0.1 0.7 0.2 0.6 0.1 0.6 0.2 0.6 0.1 0.6 0.2 0.6 0.1 0.6 0.2 0.6 0.1 0.6 0.2 0.6 0.1 0.6 0.2 0.6 0.2 0.6 0.1 0.6 0.2 0.6 0.2 0.6 0.1 0.6 0.2 0.6 0.2 0.6 0.2 0.6 0.1 0.6 0.2 0.6 0.2 0.6 0.2 0.6 0.2 0.6 0.2 0.6 0.2 0.6 0.2 0.6 0.2 0.6 0.2 0.6 0.2 0.6 0.2 0.6 0.3 0.6 0.2 0.6 0.2 0.6 0.2 0.6 0.3 0.6 0.2 0.6 0.2 0.6 0.3 0.6 0.2 0.6 0.3 0.6 0.3 0.6 0.2 0.6 0.3 0.6 0.3 0.6 0.2 0.6 0.3 0.6 0.3 0.6 0.3 0.6 0.3 0.6 0.1 0.6 0.2 0.6 0.1 0.6 0.1 0.6 0.2 0.6 0.1 0.6 0.1 0.6 0.2 0.6 0.1 0.6 0.2 0.7 0.1 0.6 0.1 0.6 0.2 0.6 0.1 0.6 0.1 0.6 0.2 0.6 0.1 0.6 0.1 0.6 0.2 0.6 0.1 0.6 0.1 0.6 0.2 0.6 0.1 0.6 0.2 0.6 0.1 0.6 0.1 0.6 0.2 0.6 0.1 0.6 0.2 0.7 0.1 0.6 0.1 0.6 0.2 0.6 0.1 0.6 0.2 0.6 0.1 0.6 0.1 0.6 0.2 0.6 0.1 0.6 0.2 0.6 0.1 0.6 0.2 0.6 0.1 0.6 0.2 0.6 0.1 0.6 0.2 0.6 0.1 0.6 0.2 0.6 0.1 0.6 0.2 0.6 0.2 0.7 0.1 0.6 0.2 0.6 0.2 0.6 0.1 0.6 0.2 0.6 0.2 0.6 0.1 0.6 0.2 0.6 0.2 0.6 0.2 0.6 0.1 0.6 0.2 0.6 0.2 0.6 0.2 0.6 0.2 0.6 0.2 0.6 0.2 0.6 0.2 0.6 0.2 0.7 0.2 0.6 0.2 0.6 0.2 0.6 0.2 0.6 0.2 0.6 0.2 0.6 0.2 0.6 0.3 0.6 0.2 0.6 0.2 0.6 0.2 0.6 0.3 0.6 0.2 0.6 0.3 0.6 0.2 0.6 0.3 0.6 0.2 0.6 0.3 0.6 0.3 0.6 0.3 0.6 0.2 0.7 0.3 0.6 0.3 0.6 0.3 0.6 0.3 0.6 0.3 0.6 0.3 0.6 0.3 0.6 0.3 0.6 0.4 0.6 0.3 0.6 0.2 0.6 0.1 0.6 0.2 0.6 0.1 0.6 0.2 0.6 0.1 0.6 0.2 0.6 0.1 0.6 0.2 0.6 0.1 0.6 0.2 0.6 0.2 0.6 0.1 0.6 0.2 0.6 0.1 0.6 0.2 0.7 0.1 0.6 0.2 0.6 0.1 0.6 0.2 0.6 0.2 0.6 0.1 0.6 0.2 0.6 0.1 0.6 0.2 0.6 0.1 0.6 0.2 0.6 0.2 0.6 0.1 0.6 0.2 0.6 0.1 0.6 0.2 0.6 0.2 0.6 0.1 0.6 0.2 0.6 0.2 0.6 0.1 0.6 0.2 0.6 0.2 0.6 0.1 0.6 0.2 0.6 0.2 0.6 0.1 0.6 0.2 0.6 0.2 0.6 0.2 0.6 0.2 0.6 0.1 0.7 0.2 0.6 0.2 0.6 0.2 0.6 0.2 0.6 0.2 0.6 0.2 0.6 0.2 0.6 0.2 0.6 0.2 0.6 0.2 0.6 0.2 0.6 0.2 0.6 0.2 0.6 0.2 0.6 0.2 0.6 0.2 0.6 0.2 0.6 0.3 0.6 0.2 0.6 0.2 0.6 0.3 0.6 0.2 0.6 0.2 0.6 0.3 0.6 0.2 0.6 0.3 0.6 0.2 0.6 0.3 0.6 0.3 0.6 0.2 0.6 0.3 0.6 0.3 0.7 0.3 0.6 0.3 0.6 0.3 0.6 0.3 0.6 0.3 0.6 0.3 0.6 0.3 0.6 0.3 0.6 0.4 0.6 0.3 0.6 0.3 0.6 0.4 0.6 0.3 0.6 0.4 0.6 0.3 0.6 0.4 0.6 0.4 0.6 0.1 0.6 0.2 0.6 0.1 0.6 0.2 0.6 0.1 0.6 0.2 0.6 0.1 0.6 0.2 0.6 0.1 0.6 0.2 0.6 0.1 0.6 0.2 0.6 0.1 0.6 0.2 0.6 0.1 0.6 0.2 0.6 0.1 0.6 0.2 0.6 0.1 0.6 0.2 0.6 0.1 0.6 0.2 0.6 0.1 0.6 0.2 0.6 0.1 0.6 0.2 0.6 0.1 0.6 0.2 0.6 0.1 0.6 0.2 0.6 0.2 0.6 0.1 0.6 0.2 0.6 0.1 0.6 0.2 0.6 0.1 0.6 0.2 0.6 0.2 0.6 0.1 0.6 0.2 0.6 0.1 0.6 0.2 0.6 0.2 0.6 0.1 0.6 0.2 0.6 0.2 0.6 0.2 0.6 0.1 0.6 0.2 0.6 0.2 0.6 0.2 0.6 0.1 0.6 0.2 0.6 0.2 0.6 0.2 0.6 0.2 0.6 0.2 0.6 0.2 0.6 0.2 0.6 0.2 0.6 0.2 0.6 0.2 0.6 0.2 0.6 0.2 0.6 0.2 0.6 0.2 0.6 0.2 0.6 0.3 0.6 0.2 0.6 0.2 0.6 0.3 0.6 0.2 0.6 0.2 0.6 0.3 0.6 0.2 0.6 0.3 0.6 0.2 0.6 0.3 0.6 0.3 0.6 0.2 0.6 0.3 0.6 0.3 0.6 0.3 0.6 0.2 0.6 0.3 0.6 0.3 0.6 0.3 0.6 0.3 0.6 0.4 0.6 0.3 0.6 0.3 0.6 0.3 0.6 0.4 0.6 0.3 0.6 0.4 0.6 0.3 0.6 0.4" fill="none" stroke="#dd9900" stroke-width="2.0" stroke-linejoin="round"/>
<path d="M65 846.8l0.6 1.3 0.6 -0.4 0.6 -0.3 0.6 -0.2 0.6 -1 0.6 1.2 0.6 -0.2 0.6 0.1 0.6 -1.3 0.6 0.7 0.6 -0.4 0.6 -0.4 0.6 -0.2 0.6 -0.7 0.6 0.4 0.6 -0.1 0.6 -0.3 0.6 0.4 0.6 0.3 0.6 -1.7 0.6 0.8 0.6 -0.5 0.6 -0.4 0.6 0.3 0.6 -0.1 0.6 0 0.6 -0.5 0.6 0.2 0.6 0.4 0.6 -0.8 0.6 -0.8 0.6 1.5 0.6 -0.8 0.6 0.1 0.6 -0.8 0.6 0.4 0.6 -0.5 0.6 0.5 0.6 0 0.6 -0.4 0.6 -0.1 0.6 -1 0.6 0.7 0.6 -0.6 0.6 0.3 0.6 -0.8 0.6 0.6 0.6 -0.7 0.6 0.2 0.6 0 0.6 -0.8 0.6 0.2 0.6 0.5 0.6 -0.2 0.6 -0.2 0.6 0.2 0.6 -0.7 0.6 0.3 0.6 -0.4 0.6 -1.5 0.6 -0.7 0.6 1.3 0.6 -1 0.6 -0.9 0.6 -0.2 0.6 -1.1 0.6 0.5 0.6 -1.7 0.6 -0.6 0.6 -0.1 0.6 -0.1 0.6 -0.2 0.6 -0.3 0.6 -0.6 0.6 0 0.6 -0.7 0.6 -0.2 0.6 -1.5 0.6 1.2 0.6 -0.5 0.6 0.2 0.6 -1.1 0.6 1.1 0.6 -0.8 0.6 0.1 0.6 -0.3 0.6 -1.6 0.6 1.5 0.6 -0.9 0.6 0 0.6 0.8 0.6 -2.4 0.6 0.7 0.6 0.1 0.6 -0.2 0.6 -0.3 0.6 0.5 0.6 -1 0.6 -0.3 0.6 0.2 0.6 -0.2 0.6 0.1 0.6 -1.1 0.6 -0.5 0.6 0.1 0.6 0.3 0.6 -0.7 0.6 -0.6 0.6 2 0.6 -2.3 0.6 0.4 0.6 0.6 0.6 -0.5 0.6 -0.1 0.6 -0.8 0.6 -0.3 0.6 -0.4 0.6 -0.4 0.6 -0.3 0.6 -0.1 0.6 0.6 0.6 0 0.6 -1.4 0.6 -0.4 0.6 0.5 0.6 0.6 0.6 -0.3 0.6 -1.5 0.6 0.7 0.6 -0.4 0.6 -1 0.6 0.4 0.6 0.5 0.6 -1 0.6 -0.2 0.6 1 0.6 -0.7 0.6 -0.9 0.6 0.1 0.6 -0.7 0.6 0.2 0.6 -0.5 0.6 0.3 0.6 -0.1 0.6 -0.9 0.6 0.6 0.6 0 0.6 -0.2 0.6 -0.7 0.6 0.3 0.6 0.4 0.6 -0.1 0.6 -0.5 0.6 1.5 0.6 -0.5 0.6 -0.9 0.6 1 0.6 -0.9 0.6 0.4 0.6 0.9 0.6 0 0.6 -0.5 0.6 0.2 0.6 1 0.6 -0.7 0.6 0.5 0.6 -0.2 0.6 0 0.6 -0.7 0.6 -0.9 0.6 -0.4 0.6 -0.1 0.6 -1.4 0.6 -0.4 0.6 -0.3 0.6 -0.8 0.6 -0.7 0.6 0.5 0.6 -1.4 0.6 0.2 0.6 0 0.6 -0.6 0.6 -0.3 0.6 -0.8 0.6 1.1 0.6 0 0.6 -1 0.6 0.3 0.6 -1.3 0.6 0.6 0.6 0.6 0.6 0 0.6 -1 0.6 -0.5 0.6 0.5 0.6 0.3 0.6 -0.5 0.6 0 0.6 -0.8 0.6 0.6 0.6 0.2 0.6 -0.7 0.6 0.6 0.6 -0.5 0.6 -0.8 0.6 -0.1 0.6 -0.3 0.6 0.4 0.6 -0.5 0.6 -0.2 0.6 -0.1 0.6 0.4 0.6 -1 0.6 -0.6 0.6 0.3 0.6 -0.2 0.6 -0.5 0.6 0.2 0.6 0.8 0.6 -1.6 0.6 0.8 0.6 0.3 0.6 -1.7 0.6 1 0.6 -0.6 0.6 0.7 0.6 -1.5 0.6 -0.4 0.6 -0.5 0.6 1.1 0.6 -1 0.6 -0.3 0.6 0.6 0.6 -0.2 0.6 0.1 0.6 -0.4 0.6 -0.6 0.6 -0.1 0.6 -0.4 0.6 0.5 0.6 0.1 0.6 -0.9 0.6 -0.2 0.6 1.2 0.6 -1.3 0.6 -0.7 0.6 0.9 0.6 -0.1 0.6 0 0.6 -0.4 0.6 -0.4 0.6 -0.2 0.6 0.7 0.6 -1.3 0.6 0.8 0.6 -0.9 0.6 -0.5 0.6 0.3 0.6 0.3 0.6 -0.4 0.6 0.3 0.6 -1.5 0.6 0.5 0.6 0.4 0.6 -0.9 0.6 -0.4 0.6 0.6 0.6 -0.7 0.6 0.2 0.6 0.6 0.6 -1.2 0.6 0.3 0.6 0.1 0.6 0.1 0.6 -1 0.6 -0.4 0.6 1.5 0.6 -0.6 0.6 -0.7 0.6 -0.7 0.6 0.1 0.6 0.5 0.6 -0.8 0.6 0.2 0.6 -0.9 0.6 0.3 0.6 0 0.6 -1.1 0.6 -1.2 0.6 1.8 0.6 -0.3 0.6 -0.3 0.6 -0.3 0.6 -0.2 0.6 -0.2 0.6 1.1 0.6 -1.3 0.6 -1.3 0.6 1.1 0.6 -0.1 0.6 -0.2 0.6 -0.5 0.6 -0.2 0.6 -0.6 0.6 -0.6 0.6 0.8 0.6 -0.3 0.6 -0.7 0.6 0.4 0.6 0 0.6 -1.2 0.6 0.1 0.6 0.2 0.6 -0.5 0.6 0.5 0.6 1.1 0.6 -0.6 0.6 0.3 0.6 0.1 0.6 -0.3 0.6 0.2 0.6 0.3 0.6 0.1 0.6 -0.2 0.6 0.4 0.6 -0.4 0.6 0.8 0.6 -0.4 0.6 0.9 0.6 0.1 0.6 -0.5 0.6 0.2 0.6 -0.4 0.6 -0.2 0.6 -1.4 0.6 0.9 0.6 -0.7 0.6 -0.7 0.6 0.1 0.6 1.2 0.6 -1.3 0.6 0.1 0.6 -0.4 0.6 0 0.6 -0.7 0.6 1.6 0.6 -2.2 0.6 0.3 0.6 -0.3 0.6 0.2 0.6 1.2 0.6 -1.4 0.6 1.2 0.6 -1.1 0.6 -1 0.6 1.1 0.6 -0.5 0.6 -0.2 0.6 -0.8 0.6 0.3 0.6 -0.3 0.6 0.5 0.6 0.8 0.6 -2.3 0.6 0.5 0.6 0.1 0.6 -0.4 0.6 0 0.6 -0.2 0.6 -0.2 0.6 0.9 0.6 -1.2 0.6 -0.4 0.6 0 0.6 -0.3 0.6 -0.1 0.6 -0.4 0.6 0.8 0.6 -1.3 0.6 -0.2 0.6 0.5 0.6 -0.1 0.6 0.2 0.6 -0.9 0.6 -0.4 0.6 0.3 0.6 1.3 0.6 -0.3 0.6 -0.6 0.6 0 0.6 -1 0.6 -0.1 0.6 -0.5 0.6 1.2 0.6 -1.1 0.6 -0.8 0.6 0.2 0.6 0.4 0.6 0.2 0.6 0.2 0.6 -0.5 0.6 -0.8 0.6 0.5 0.6 -0.8 0.6 0.5 0.6 -0.1 0.6 0.2 0.6 -0.6 0.6 0 0.6 -0.6 0.6 0.1 0.6 -0.8 0.6 0.6 0.6 1 0.6 -1.2 0.6 0.2 0.6 -0.6 0.6 -0.7 0.6 0.4 0.6 0.3 0.6 -0.2 0.6 -0.1 0.6 -0.2 0.6 0.5 0.6 0.5 0.6 -0.6 0.6 -0.8 0.6 0.7 0.6 -1.8 0.6 1.1 0.6 -0.5 0.6 -0.5 0.6 0.4 0.6 -1 0.6 1.5 0.6 -1.6 0.6 0.2 0.6 0 0.6 -0.2 0.6 -0.1 0.6 0.3 0.6 0.3 0.6 -0.3 0.6 0 0.6 0.3 0.6 -0.5 0.6 0 0.6 -0.1 0.6 -0.5 0.6 0.3 0.6 0 0.6 -0.7 0.6 0 0.6 0.5 0.6 -1 0.6 0.8 0.6 -0.6 0.6 -1.3 0.6 1.1 0.6 0 0.6 0 0.6 -0.8 0.6 -0.1 0.6 0.3 0.6 0.1 0.6 0.2 0.6 0.1 0.6 -0.4 0.6 -0.4 0.6 0.3 0.6 0.3 0.6 -0.4 0.6 0.9 0.6 -1.5 0.6 1.2 0.6 -0.6 0.6 0.4 0.6 -0.7 0.6 0.3 0.6 -0.9 0.6 0.7 0.6 0.2 0.6 -0.3 0.6 0.1 0.6 0.7 0.6 -0.5 0.6 -0.2 0.6 -0.5 0.6 0.3 0.6 0.5 0.6 -0.1 0.6 -0.8 0.6 0.2 0.6 0.7 0.6 0.1 0.6 -1.1 0.6 1.2 0.6 -0.7 0.6 -0.6 0.6 1.2 0.6 -0.4 0.6 -0.9 0.6 0.5 0.6 0.4 0.6 -0.3 0.6 -0.2 0.6 -0.3 0.6 0.8 0.6 -1 0.6 -0.4 0.6 0.7 0.6 0.4 0.6 -1 0.6 0.6 0.6 -0.1 0.6 -0.5 0.6 1.1 0.6 -0.2 0.6 -0.7 0.6 0.5 0.6 -0.9 0.6 1.4 0.6 -1.5 0.6 0.9 0.6 -0.4 0.6 0.9 0.6 -0.7 0.6 -0.3 0.6 1.1 0.6 -1.4 0.6 0.6 0.6 -0.3 0.6 0 0.6 1.2 0.6 -1.3 0.6 1.2 0.6 -1.6 0.6 0.5 0.6 1.4 0.6 -0.5 0.6 -0.9 0.6 -0.2 0.6 -0.6 0.6 0.7 0.6 -0.4 0.6 0.2 0.6 0.2 0.6 1.2 0.6 -1.5 0.6 0 0.6 -0.6 0.6 1.1 0.6 -0.3 0.6 -0.2 0.6 0.1 0.6 0.7 0.6 0 0.6 -1.2 0.6 1.6 0.6 -1.2 0.6 0.7 0.6 -1.1 0.6 0.5 0.6 -0.6 0.6 0.7 0.6 -0.4 0.6 0.5 0.6 0.2 0.6 0.1 0.6 -0.4 0.6 0.3 0.6 -0.4 0.6 -0.4 0.6 0.4 0.6 0.4 0.6 -2.2 0.6 0.9 0.6 -0.1 0.6 0.5 0.6 -1.7 0.6 -0.4 0.6 0.1 0.6 0.1 0.6 1.2 0.6 -1.1 0.6 -0.1 0.6 -0.4 0.6 0.5 0.6 -0.3 0.6 -0.2 0.6 -1 0.6 0.7 0.6 -0.4 0.6 0.1 0.6 -1 0.6 -0.5 0.6 0.6 0.6 -1.2 0.6 0.7 0.6 -1.4 0.6 0.9 0.6 -0.3 0.6 0.6 0.6 -1.4 0.6 0.2 0.6 0 0.6 0.7 0.6 -0.3 0.6 -0.5 0.6 -0.2 0.6 -1 0.6 1.1 0.6 -1 0.6 -0.1 0.6 -0.5 0.6 0.4 0.6 -0.2 0.6 -0.9 0.6 0.5 0.6 -0.7 0.6 0 0.6 0.2 0.6 0.3 0.6 -0.5 0.6 -0.7 0.6 -0.3 0.6 0.3 0.6 -1.1 0.6 -0.2 0.6 0.8 0.6 0.4 0.6 -0.2 0.6 -0.8 0.6 -0.2 0.6 -0.2 0.6 -0.6 0.6 -0.2 0.6 0.8 0.6 -0.6 0.6 0.2 0.6 -0.1 0.6 0.1 0.6 1 0.6 -0.2 0.6 -0.5 0.6 0.4 0.6 1.3 0.6 -0.6 0.6 -0.8 0.6 1 0.6 0.5 0.6 -0.2 0.6 0.6 0.6 0.2 0.6 0.6 0.6 -0.2 0.6 -0.8 0.6 1.3 0.6 0 0.6 0.4 0.6 -0.4 0.6 0.3 0.6 -0.5 0.6 0.3 0.6 1.2 0.6 0.3 0.6 0.2 0.6 -0.8 0.6 0.8 0.6 0.7 0.6 0.5 0.6 -0.1 0.6 -0.4 0.6 0.4 0.6 -0.2 0.6 -0.1 0.6 0.8 0.6 -1 0.6 1.9 0.6 -0.4 0.6 0.7 0.6 -0.7 0.6 -0.2 0.6 0 0.6 -0.9 0.6 0.3 0.6 0.3 0.6 0.6 0.6 -0.1 0.6 0.8 0.6 -1.2 0.6 0.9 0.6 0.2 0.6 -0.3 0.6 -0.6 0.6 -0.2 0.6 1.3 0.6 -0.6 0.6 0.2 0.6 -0.3 0.6 0.1 0.6 -0.2 0.6 0.4 0.6 -0.5 0.6 1.3 0.6 -1.2 0.6 0.5 0.6 -1.1 0.6 0.4 0.6 0.2 0.6 -0.6 0.6 0.3 0.6 0.6 0.6 0.5 0.6 0.4 0.6 0.2 0.6 -0.3 0.6 0.1 0.6 1 0.6 -0.1 0.6 0.6 0.6 -0.2 0.6 0 0.6 0.3 0.6 0 0.6 -1.2 0.6 1.5 0.6 -0.4 0.6 1.6 0.6 -1.1 0.6 1.8 0.6 -0.9 0.6 0.5 0.6 -0.2 0.6 0.1 0.6 1.1 0.6 -0.1 0.6 -0.2 0.6 0.1 0.6 -0.7 0.6 0.4 0.6 1.3 0.6 -0.2 0.6 -0.4 0.6 0.6 0.6 -0.3 0.6 0.4 0.6 0 0.6 -0.1 0.6 1 0.6 -0.1 0.6 -0.4 0.6 0.1 0.6 0.8 0.6 0 0.6 0.5 0.6 -0.3 0.6 0.9 0.6 0 0.6 -0.2 0.6 0 0.6 -0.5 0.6 -0.2 0.6 1.1 0.6 -0.6 0.6 1.5 0.6 -1.4 0.6 0.8 0.6 -1.8 0.6 1.2 0.6 -0.9 0.6 2 0.6 -0.9 0.6 -0.7 0.6 0.4 0.6 1.6 0.6 -0.7 0.6 -0.6 0.6 -0.4 0.6 1.2 0.6 -0.8 0.6 1 0.6 -1.2 0.6 0.6 0.6 -0.7 0.6 0.5 0.6 1 0.6 0.1 0.6 -0.8 0.6 0.2 0.6 0.7 0.6 0.1 0.6 -0.2 0.6 -0.3 0.6 0.5 0.6 0.2 0.6 -0.2 0.6 0.1 0.6 1 0.6 -0.4 0.6 0.9 0.6 -0.1 0.6 0 0.6 0.4 0.6 0.2 0.6 0.1 0.6 0.4 0.6 0.1 0.6 0.1 0.6 1.5 0.6 -1.1 0.6 0.8 0.6 0.8 0.6 0.1 0.6 0 0.6 -0.1 0.6 -0.3 0.6 0.3 0.6 0.2 0.6 0.1 0.6 0.8 0.6 -0.2 0.6 1.3 0.6 -0.6 0.6 0.9 0.6 -0.3 0.6 0.4 0.6 0 0.6 0.3 0.6 0.8 0.6 -0.5 0.6 1 0.6 -1.3 0.6 0.9 0.6 0.8 0.6 -0.6 0.6 0.9 0.6 0.3 0.6 0.1 0.6 -0.2 0.6 0.5 0.6 0.1 0.6 0.1 0.6 0.1 0.6 0.5 0.6 0.5 0.6 0 0.6 0.8 0.6 0 0.6 0.6 0.6 -0.6 0.6 0.3 0.6 1.1 0.6 -1.5 0.6 1.2 0.6 0.9 0.6 -1.2 0.6 1.2 0.6 -0.3 0.6 1.6 0.6 -0.5 0.6 -0.4 0.6 0.5 0.6 -0.8 0.6 1.6 0.6 0.2 0.6 0.4 0.6 -0.6 0.6 1.1 0.6 0 0.6 0.4 0.6 -0.5 0.6 0.5 0.6 -0.1 0.6 0.2 0.6 0.8 0.6 -0.2 0.6 0.3 0.6 0.1 0.6 -0.1 0.6 -0.9 0.6 0 0.6 0 0.6 1.3 0.6 -0.2 0.6 0.6 0.6 -1.4 0.6 0.7 0.6 -0.7 0.6 0.8 0.6 -0.1 0.6 -1 0.6 0.7 0.6 -0.3 0.6 1.5 0.6 -1.5 0.6 0.1 0.6 0.9 0.6 -0.6 0.6 0.9 0.6 -1 0.6 -0.9 0.6 0.9 0.6 0 0.6 -0.8 0.6 1.5 0.6 -0.8 0.6 0.3 0.6 0.1 0.6 -0.9 0.6 0.7 0.6 -0.3 0.6 0.2 0.6 -0.5 0.6 -0.1 0.6 0.2 0.6 0.7 0.6 -0.2 0.6 0.2 0.6 -0.8 0.6 1.4 0.6 -0.6 0.6 1.1 0.6 0.1 0.6 0.9 0.6 0.6 0.6 0.1 0.6 1.3 0.6 0.7 0.6 -0.5 0.6 0.4 0.6 0.4 0.6 0.6 0.6 -1 0.6 1.5 0.6 -0.3 0.6 0.1 0.6 0 0.6 1 0.6 0.6 0.6 -1.2 0.6 0.8 0.6 0.6 0.6 -0.2 0.6 0.2 0.6 0.1 0.6 0.2 0.6 1.2 0.6 0 0.6 0 0.6 1.1 0.6 0.1 0.6 -0.1 0.6 0.1 0.6 -0.4 0.6 1 0.6 0.1 0.6 0.1 0.6 -0.1 0.6 0.8 0.6 0.5 0.6 0 0.6 -0.3 0.6 1 0.6 -0.7 0.6 1.4 0.6 -0.5 0.6 0.7 0.6 0.1 0.6 0.4 0.6 -0.5 0.6 1.8 0.6 -0.6 0.6 1.1 0.6 -0.6 0.6 1 0.6 0.6 0.6 -0.4 0.6 -0.1 0.6 1.9 0.6 -2.1 0.6 0.5 0.6 0.3 0.6 -1 0.6 2 0.6 -2 0.6 1.7 0.6 -1.1 0.6 0.4 0.6 0.1 0.6 0.3 0.6 -0.8 0.6 0.5 0.6 0.1 0.6 0.7 0.6 -0.7 0.6 0.4 0.6 -0.1 0.6 0 0.6 0.1 0.6 0 0.6 -0.3 0.6 1.8 0.6 -1.4 0.6 0.1 0.6 0.1 0.6 -0.6 0.6 0.3 0.6 0.3 0.6 0.3 0.6 0.7 0.6 -0.2 0.6 -0.9 0.6 0.1 0.6 0.4 0.6 0.4 0.6 -0.4 0.6 0.2 0.6 -0.7 0.6 1.6 0.6 -0.1 0.6 -0.1 0.6 0.5 0.6 0.6 0.6 0.6 0.6 -0.1 0.6 0 0.6 1 0.6 -0.1 0.6 0 0.6 -0.4 0.6 -0.5 0.6 1.4 0.6 -0.6 0.6 1 0.6 -0.5 0.6 0 0.6 -0.2 0.6 -0.5 0.6 0.6 0.6 0.7 0.6 -0.9 0.6 0 0.6 0.4 0.6 -0.2 0.6 1.1 0.6 -0.3 0.6 -0.5 0.6 1.4 0.6 0.6 0.6 -0.9 0.6 1.6 0.6 0.1 0.6 0 0.6 0.7 0.6 0 0.6 0.2 0.6 -0.1 0.6 1.1 0.6 0.3 0.6 1.2 0.6 -0.9 0.6 1.4 0.6 -0.7 0.6 0.7 0.6 0.2 0.6 0.5 0.6 0.9 0.6 0.2 0.6 0.6 0.6 0.3 0.6 -0.3 0.6 0 0.6 0 0.6 1.4 0.6 0.8 0.6 -0.3 0.6 1.3 0.6 -1 0.6 0.3 0.6 0.4 0.6 0.1 0.6 0.3 0.6 -0.1 0.6 0.1 0.6 0.5 0.6 -0.1 0.6 -0.5 0.6 1.6 0.6 -1 0.6 0 0.6 0.5 0.6 0.2 0.6 -0.3 0.6 0.8 0.6 -1.2 0.6 1.2 0.6 0 0.6 0.2 0.6 0.1 0.6 0.1 0.6 0 0.6 0.2 0.6 -0.2 0.6 0.9 0.6 0 0.6 0.2 0.6 0.2 0.6 0.3 0.6 0.2 0.6 -0.1 0.6 0 0.6 0.7 0.6 -0.1 0.6 0.6 0.6 0.4 0.6 -0.3 0.6 1.4 0.6 -0.7 0.6 0.4 0.6 -0.1 0.6 0.2 0.6 -1 0.6 1.6 0.6 0.7 0.6 0 0.6 -0.3 0.6 0 0.6 -0.2 0.6 2 0.6 -1 0.6 0.4 0.6 -0.3 0.6 0.4 0.6 1 0.6 -0.4 0.6 0.3 0.6 -0.2 0.6 0.2 0.6 0 0.6 0.1 0.6 0 0.6 1.6 0.6 -0.7 0.6 -0.8 0.6 0.1 0.6 1.4 0.6 0.4 0.6 -0.3 0.6 -0.1 0.6 0.4 0.6 0.1 0.6 1.1 0.6 -1.1 0.6 0.7 0.6 0.5 0.6 -0.6 0.6 1 0.6 -1.2 0.6 1.3 0.6 -0.6 0.6 1.2 0.6 -1.2 0.6 1.4 0.6 0.6 0.6 -0.1 0.6 -0.3 0.6 -0.6 0.6 0.8 0.6 -0.4 0.6 1.3 0.6 -0.1" fill="none" stroke="#cccc00" stroke-width="1.7" stroke-linejoin="round"/>
<path d="M65 807.2l0.6 -0.1 0.6 -0.5 0.6 0.4 0.6 -0.7 0.6 0.4 0.6 -0.2 0.6 -0.9 0.6 0.2 0.6 0.1 0.6 0.1 0.6 0 0.6 -0.1 0.6 -0.2 0.6 -0.8 0.6 0.7 0.6 -0.7 0.6 0.7 0.6 -0.3 0.6 -0.6 0.6 0.1 0.6 0.6 0.6 -0.4 0.6 -0.5 0.6 -0.5 0.6 0.9 0.6 0.1 0.6 -1.1 0.6 0.2 0.6 -0.5 0.6 0.5 0.6 -0.2 0.6 -0.5 0.6 -0.1 0.6 0.2 0.6 0.3 0.6 -0.7 0.6 0.2 0.6 0.5 0.6 -1.2 0.6 0.3 0.6 -1.2 0.6 0.6 0.6 0.7 0.6 -1.3 0.6 0.8 0.6 -0.6 0.6 0.3 0.6 -0.8 0.6 -0.2 0.6 -0.1 0.6 0.9 0.6 -0.9 0.6 0 0.6 0 0.6 0.6 0.6 -1.1 0.6 0.3 0.6 -0.7 0.6 0.3 0.6 -0.1 0.6 0 0.6 0.1 0.6 -0.5 0.6 -0.4 0.6 -0.2 0.6 0.2 0.6 -1.2 0.6 -0.8 0.6 0.5 0.6 -1 0.6 0.7 0.6 -1.3 0.6 -0.2 0.6 0.3 0.6 -0.1 0.6 -0.3 0.6 -0.2 0.6 -0.7 0.6 -0.6 0.6 0 0.6 0.8 0.6 -1.7 0.6 0.2 0.6 0.3 0.6 -0.7 0.6 1.1 0.6 -1.4 0.6 0.5 0.6 -1.1 0.6 1 0.6 -0.6 0.6 0.2 0.6 1.4 0.6 -2.3 0.6 1.5 0.6 -2.7 0.6 1.1 0.6 0 0.6 -0.1 0.6 0.4 0.6 -1.2 0.6 0.4 0.6 -0.4 0.6 -0.1 0.6 0.3 0.6 0.4 0.6 -0.6 0.6 0.2 0.6 -0.9 0.6 0.5 0.6 -0.3 0.6 0 0.6 0.2 0.6 -1.4 0.6 0 0.6 0.6 0.6 -0.8 0.6 -0.3 0.6 0.8 0.6 -1.3 0.6 0.2 0.6 -0.2 0.6 0.5 0.6 -0.1 0.6 -0.3 0.6 -0.4 0.6 -0.6 0.6 0.6 0.6 -0.8 0.6 0.2 0.6 -1.1 0.6 1.6 0.6 -0.5 0.6 -0.6 0.6 0.6 0.6 0.4 0.6 -1.7 0.6 0.1 0.6 -0.5 0.6 0.1 0.6 0.4 0.6 -1.4 0.6 0.3 0.6 1 0.6 -1.5 0.6 0.3 0.6 0.2 0.6 0 0.6 -0.6 0.6 0.3 0.6 -1.1 0.6 1.2 0.6 -0.1 0.6 -1.3 0.6 0.5 0.6 0.3 0.6 -1 0.6 0.2 0.6 -1 0.6 0.9 0.6 -0.6 0.6 -0.5 0.6 0.8 0.6 -1.4 0.6 1.1 0.6 -0.8 0.6 -0.1 0.6 0.7 0.6 -1.6 0.6 0.5 0.6 -0.4 0.6 0 0.6 0.9 0.6 -1.3 0.6 0.2 0.6 -0.2 0.6 -0.5 0.6 0.7 0.6 -0.6 0.6 -0.5 0.6 0.2 0.6 -0.6 0.6 0.3 0.6 -0.7 0.6 -0.3 0.6 0.3 0.6 -0.1 0.6 0.3 0.6 -0.6 0.6 -0.3 0.6 0.1 0.6 0.2 0.6 -0.2 0.6 -1.2 0.6 1.4 0.6 -0.9 0.6 -0.1 0.6 -0.5 0.6 -0.4 0.6 -0.4 0.6 0 0.6 0.1 0.6 0.3 0.6 -0.8 0.6 1.2 0.6 -1.3 0.6 0.2 0.6 0.2 0.6 -0.3 0.6 -0.4 0.6 0.4 0.6 -0.4 0.6 -0.4 0.6 0.5 0.6 -1 0.6 0.8 0.6 -0.8 0.6 0.2 0.6 -0.7 0.6 -0.9 0.6 1.3 0.6 0.2 0.6 -1.3 0.6 0.5 0.6 -0.6 0.6 -0.3 0.6 -0.2 0.6 0 0.6 0.6 0.6 -1.1 0.6 0.5 0.6 -1.1 0.6 0.1 0.6 0.3 0.6 -0.9 0.6 0.2 0.6 0.1 0.6 0.1 0.6 -0.5 0.6 -1 0.6 1.2 0.6 -0.9 0.6 0.5 0.6 -0.5 0.6 -0.6 0.6 0.9 0.6 -1 0.6 0.5 0.6 -1.1 0.6 0.5 0.6 -0.9 0.6 0.8 0.6 -0.6 0.6 -0.5 0.6 0.6 0.6 -0.2 0.6 0 0.6 -1.1 0.6 0.8 0.6 -0.3 0.6 0 0.6 -0.8 0.6 0.5 0.6 -0.3 0.6 -0.6 0.6 0.2 0.6 -0.4 0.6 -0.4 0.6 0.4 0.6 0 0.6 1.2 0.6 -0.9 0.6 -0.3 0.6 0.3 0.6 -0.8 0.6 -0.4 0.6 -0.5 0.6 0.7 0.6 -1.4 0.6 0.4 0.6 -0.5 0.6 1.3 0.6 -0.9 0.6 0.1 0.6 0.2 0.6 -0.5 0.6 0.8 0.6 -1.1 0.6 -0.2 0.6 0.1 0.6 -0.2 0.6 0.2 0.6 -1 0.6 0.7 0.6 0 0.6 -0.8 0.6 0.4 0.6 -1.4 0.6 1.7 0.6 -1 0.6 -0.4 0.6 1.1 0.6 -0.8 0.6 -0.3 0.6 0.3 0.6 -0.1 0.6 -0.1 0.6 -0.3 0.6 -0.6 0.6 0.3 0.6 0.3 0.6 -0.7 0.6 0.3 0.6 -0.3 0.6 0 0.6 -0.5 0.6 0.1 0.6 -0.6 0.6 0.9 0.6 -0.6 0.6 -1.3 0.6 0.6 0.6 0.4 0.6 -0.3 0.6 -0.1 0.6 0.8 0.6 -0.6 0.6 -0.6 0.6 0.3 0.6 0.4 0.6 -1.1 0.6 1.1 0.6 -1.3 0.6 1.1 0.6 -0.2 0.6 -1 0.6 0.6 0.6 -0.5 0.6 0.5 0.6 -1.2 0.6 0.7 0.6 -0.5 0.6 1.1 0.6 -1.1 0.6 -0.5 0.6 -0.3 0.6 0.4 0.6 -1.3 0.6 2.1 0.6 -1 0.6 0.1 0.6 0.1 0.6 -0.3 0.6 -1.3 0.6 0.6 0.6 0.5 0.6 -0.1 0.6 0.8 0.6 -1.8 0.6 1.2 0.6 -0.8 0.6 0.7 0.6 -1.6 0.6 1 0.6 -0.7 0.6 -1.1 0.6 0.8 0.6 -0.1 0.6 0.2 0.6 -0.5 0.6 0.3 0.6 -0.7 0.6 0.2 0.6 -1.3 0.6 -0.1 0.6 0.9 0.6 0 0.6 -0.7 0.6 -0.4 0.6 -0.3 0.6 -0.3 0.6 1.1 0.6 -0.5 0.6 -0.3 0.6 -0.3 0.6 -0.4 0.6 -0.8 0.6 -0.2 0.6 0.4 0.6 0 0.6 -0.4 0.6 0.2 0.6 -0.5 0.6 -0.4 0.6 -0.5 0.6 1.4 0.6 -0.8 0.6 -1.5 0.6 0.2 0.6 -0.3 0.6 -0.6 0.6 1.1 0.6 -0.7 0.6 -0.6 0.6 0.5 0.6 -1 0.6 1.1 0.6 -0.2 0.6 -1.2 0.6 0.5 0.6 0.1 0.6 -0.4 0.6 -0.6 0.6 -0.1 0.6 1 0.6 -0.8 0.6 0.3 0.6 -0.2 0.6 0.2 0.6 0.3 0.6 -0.2 0.6 -0.6 0.6 0.3 0.6 -0.4 0.6 -0.1 0.6 1 0.6 -0.8 0.6 -0.8 0.6 -0.3 0.6 0.5 0.6 -0.4 0.6 0.2 0.6 0.2 0.6 0.3 0.6 -0.1 0.6 0.3 0.6 -0.7 0.6 0.7 0.6 -0.8 0.6 0.1 0.6 -0.2 0.6 0 0.6 0 0.6 0.3 0.6 0.1 0.6 -0.1 0.6 -1.5 0.6 0 0.6 0.6 0.6 -0.3 0.6 0.3 0.6 0 0.6 0.3 0.6 -1.4 0.6 0.6 0.6 1 0.6 -1.4 0.6 0.2 0.6 -0.4 0.6 0.3 0.6 -0.2 0.6 0 0.6 0.5 0.6 0.2 0.6 -0.8 0.6 -0.7 0.6 -0.5 0.6 0.6 0.6 1.2 0.6 -0.5 0.6 0.7 0.6 -0.4 0.6 -0.5 0.6 0.1 0.6 -0.3 0.6 -0.2 0.6 1.4 0.6 -2.2 0.6 1.3 0.6 -0.4 0.6 0.8 0.6 -1.5 0.6 -0.2 0.6 0.8 0.6 0.2 0.6 0.6 0.6 0.1 0.6 -0.9 0.6 -0.2 0.6 -1 0.6 0.4 0.6 0.5 0.6 -0.2 0.6 -0.7 0.6 1.1 0.6 -0.5 0.6 0 0.6 0.4 0.6 -1.4 0.6 0.5 0.6 0.2 0.6 -0.4 0.6 0.3 0.6 0.6 0.6 -1.1 0.6 0.4 0.6 0.2 0.6 0.8 0.6 -0.5 0.6 -0.2 0.6 0.3 0.6 -0.1 0.6 -0.3 0.6 -0.1 0.6 0.1 0.6 -1.1 0.6 0.9 0.6 -0.9 0.6 0 0.6 -0.5 0.6 0.5 0.6 0 0.6 0 0.6 -1 0.6 0.2 0.6 0.6 0.6 -0.6 0.6 0.2 0.6 -0.1 0.6 1 0.6 -1 0.6 1 0.6 -0.5 0.6 -0.3 0.6 -0.3 0.6 0.8 0.6 0 0.6 -0.9 0.6 0.3 0.6 -0.3 0.6 0.1 0.6 -0.3 0.6 1.2 0.6 -1 0.6 0.6 0.6 -0.2 0.6 0.6 0.6 -2.4 0.6 1.4 0.6 0.5 0.6 -0.6 0.6 -0.1 0.6 -0.2 0.6 0.1 0.6 -0.8 0.6 -0.7 0.6 1.2 0.6 -1.3 0.6 2.1 0.6 -0.9 0.6 0.3 0.6 -1.1 0.6 1 0.6 -0.2 0.6 0 0.6 -0.2 0.6 -0.2 0.6 -0.2 0.6 0.4 0.6 -0.7 0.6 0.1 0.6 0.6 0.6 -0.7 0.6 0.5 0.6 0.6 0.6 -1.8 0.6 0.4 0.6 -0.3 0.6 -1 0.6 1.7 0.6 0.4 0.6 -1.3 0.6 0.1 0.6 0.3 0.6 -0.3 0.6 -0.9 0.6 0.3 0.6 -0.3 0.6 1.3 0.6 -0.8 0.6 2.2 0.6 -1.8 0.6 -0.8 0.6 0.6 0.6 0.5 0.6 -1.2 0.6 -0.5 0.6 1.5 0.6 -1 0.6 -1 0.6 0.7 0.6 0.6 0.6 -1.2 0.6 1 0.6 -0.4 0.6 0 0.6 0 0.6 -0.1 0.6 0.2 0.6 -0.2 0.6 -0.7 0.6 0.2 0.6 0.4 0.6 0.3 0.6 -0.6 0.6 0.4 0.6 -0.3 0.6 -0.1 0.6 0.1 0.6 -0.3 0.6 -0.4 0.6 0.2 0.6 0.7 0.6 -1.1 0.6 0.2 0.6 0.2 0.6 0 0.6 -0.1 0.6 -0.5 0.6 0 0.6 -0.4 0.6 1.1 0.6 -0.3 0.6 0.1 0.6 -0.2 0.6 -0.3 0.6 0.9 0.6 -0.2 0.6 -0.3 0.6 1.3 0.6 -0.3 0.6 -0.4 0.6 -0.4 0.6 0.7 0.6 0.3 0.6 0.3 0.6 -0.1 0.6 0.2 0.6 -0.4 0.6 0.6 0.6 0.6 0.6 -1.2 0.6 0.7 0.6 0.2 0.6 0.8 0.6 -0.5 0.6 0.7 0.6 -0.5 0.6 -0.2 0.6 0 0.6 1.2 0.6 -0.3 0.6 0.6 0.6 0 0.6 0 0.6 -0.2 0.6 -0.1 0.6 1.4 0.6 -1.2 0.6 -0.2 0.6 0.8 0.6 0.2 0.6 0.1 0.6 0.5 0.6 0 0.6 0.2 0.6 0.2 0.6 -0.7 0.6 1.1 0.6 -0.6 0.6 -0.6 0.6 0.6 0.6 1 0.6 -0.7 0.6 -0.2 0.6 0.8 0.6 -1.1 0.6 -0.4 0.6 1.8 0.6 -1.5 0.6 0.1 0.6 0.2 0.6 0 0.6 0.4 0.6 -0.7 0.6 -0.3 0.6 0.4 0.6 0.4 0.6 -0.5 0.6 0.3 0.6 -0.4 0.6 -0.1 0.6 0.5 0.6 -0.6 0.6 0.3 0.6 -0.4 0.6 0.2 0.6 0.5 0.6 -0.8 0.6 -0.1 0.6 -0.5 0.6 0.3 0.6 0.6 0.6 -0.7 0.6 -0.2 0.6 1 0.6 -0.1 0.6 -0.6 0.6 -0.6 0.6 1.4 0.6 -0.3 0.6 0.1 0.6 -0.4 0.6 0.1 0.6 0.1 0.6 0.2 0.6 -0.1 0.6 1.2 0.6 -0.3 0.6 0.1 0.6 0.5 0.6 -0.5 0.6 0.9 0.6 -0.9 0.6 1 0.6 -0.3 0.6 0.3 0.6 0 0.6 0 0.6 0.2 0.6 0 0.6 0.6 0.6 1.6 0.6 -1.3 0.6 -0.5 0.6 0.4 0.6 1 0.6 -0.3 0.6 0.3 0.6 1 0.6 -0.2 0.6 -0.1 0.6 -0.7 0.6 -0.5 0.6 1.1 0.6 -0.2 0.6 0.2 0.6 0.4 0.6 -0.3 0.6 0.9 0.6 -0.8 0.6 1.1 0.6 -0.7 0.6 0.5 0.6 0.2 0.6 1 0.6 -1.1 0.6 0.1 0.6 1.7 0.6 -0.7 0.6 -0.1 0.6 0 0.6 -0.1 0.6 0.4 0.6 -0.7 0.6 1.1 0.6 -0.2 0.6 0.2 0.6 0.6 0.6 -0.4 0.6 -0.2 0.6 0.9 0.6 0.2 0.6 -0.7 0.6 1.4 0.6 -0.2 0.6 -0.4 0.6 0.3 0.6 -0.4 0.6 0.7 0.6 0.7 0.6 -0.4 0.6 0.2 0.6 0.3 0.6 -0.1 0.6 1.1 0.6 -1.4 0.6 1 0.6 0.3 0.6 -0.4 0.6 0.7 0.6 0.5 0.6 -1 0.6 1.5 0.6 -0.5 0.6 0.1 0.6 -0.5 0.6 0 0.6 0.8 0.6 -0.3 0.6 0.6 0.6 0.5 0.6 -1.5 0.6 1.3 0.6 0.2 0.6 0 0.6 -0.2 0.6 1 0.6 0.5 0.6 0.2 0.6 -0.4 0.6 0.3 0.6 0.4 0.6 0.1 0.6 0 0.6 0.5 0.6 -0.3 0.6 -0.2 0.6 0.4 0.6 0.1 0.6 0.1 0.6 0.5 0.6 0.2 0.6 -1 0.6 1.2 0.6 0.3 0.6 1.5 0.6 -0.7 0.6 0.5 0.6 -0.2 0.6 0.8 0.6 1.1 0.6 -0.6 0.6 0.6 0.6 0.4 0.6 -0.6 0.6 -0.1 0.6 0.6 0.6 -0.6 0.6 0.9 0.6 -0.2 0.6 1.2 0.6 -0.2 0.6 0.6 0.6 0.1 0.6 0 0.6 1.4 0.6 -1.4 0.6 0.2 0.6 1 0.6 -0.2 0.6 0.1 0.6 0.4 0.6 0.2 0.6 0 0.6 0.7 0.6 0.6 0.6 -0.2 0.6 0.3 0.6 -0.1 0.6 0.3 0.6 0.1 0.6 0.4 0.6 0.5 0.6 0.2 0.6 -0.2 0.6 0.3 0.6 -0.1 0.6 1.2 0.6 0 0.6 -1.1 0.6 0.5 0.6 0 0.6 -0.1 0.6 1.7 0.6 -0.3 0.6 0.5 0.6 -1.3 0.6 1.7 0.6 -0.8 0.6 0.4 0.6 -0.2 0.6 0.1 0.6 0.4 0.6 -0.2 0.6 0.3 0.6 0.3 0.6 0.6 0.6 0.4 0.6 -0.9 0.6 0.5 0.6 0.5 0.6 0.1 0.6 -0.6 0.6 -0.2 0.6 0.3 0.6 0.8 0.6 -0.2 0.6 0.2 0.6 1.2 0.6 -0.3 0.6 -0.4 0.6 -0.8 0.6 0.6 0.6 0.2 0.6 0.3 0.6 0.4 0.6 1 0.6 -0.4 0.6 -0.9 0.6 1.2 0.6 -0.3 0.6 -0.1 0.6 0.7 0.6 -0.1 0.6 0.3 0.6 0.2 0.6 -0.6 0.6 0.7 0.6 -0.7 0.6 1.1 0.6 0 0.6 -0.1 0.6 0.5 0.6 1.6 0.6 -1.7 0.6 -0.3 0.6 1.2 0.6 -1.3 0.6 1.1 0.6 1.2 0.6 -1.2 0.6 0.4 0.6 0.5 0.6 -0.5 0.6 0.2 0.6 0.7 0.6 -0.9 0.6 0.8 0.6 -0.1 0.6 0.7 0.6 -0.9 0.6 0.4 0.6 0.8 0.6 0.3 0.6 -0.4 0.6 0.3 0.6 0.5 0.6 -0.2 0.6 -0.2 0.6 0.4 0.6 0.5 0.6 0 0.6 1.4 0.6 -0.6 0.6 -0.7 0.6 0.6 0.6 0.4 0.6 0.8 0.6 -0.9 0.6 0.4 0.6 0.6 0.6 -1.2 0.6 2.2 0.6 0.3 0.6 -0.5 0.6 -1.4 0.6 2.1 0.6 -0.1 0.6 0.6 0.6 0.2 0.6 -0.9 0.6 0.4 0.6 0.8 0.6 -0.3 0.6 0 0.6 0.8 0.6 0.1 0.6 0 0.6 -0.2 0.6 -1.3 0.6 2.1 0.6 0.3 0.6 -0.7 0.6 0.7 0.6 -0.1 0.6 -0.9 0.6 0.7 0.6 -0.4 0.6 0.8 0.6 0.1 0.6 -0.4 0.6 1.4 0.6 -0.9 0.6 0.9 0.6 -0.3 0.6 -0.5 0.6 0.9 0.6 0.5 0.6 -1.5 0.6 1.4 0.6 -0.4 0.6 0 0.6 0.5 0.6 0.6 0.6 -0.1 0.6 -0.1 0.6 0.4 0.6 0.6 0.6 -1 0.6 0.2 0.6 0.7 0.6 -0.6 0.6 0.6 0.6 0.1 0.6 -0.1 0.6 0.1 0.6 -0.2 0.6 0.2 0.6 0.4 0.6 0.6 0.6 -0.9 0.6 1 0.6 -0.7 0.6 -0.3 0.6 1 0.6 0.6 0.6 -0.3 0.6 -0.2 0.6 -0.8 0.6 1.4 0.6 0.4 0.6 -0.2 0.6 -0.2 0.6 0.2 0.6 0 0.6 -0.2 0.6 1.2 0.6 -0.3 0.6 0 0.6 0.7 0.6 0.6 0.6 -0.3 0.6 0.5 0.6 0.6 0.6 1.8 0.6 -0.6 0.6 -0.1 0.6 0.7 0.6 -0.3 0.6 -0.1 0.6 1 0.6 0.7 0.6 0.5 0.6 -0.6 0.6 0.9 0.6 -0.1 0.6 1.2 0.6 0.3 0.6 0 0.6 0.2 0.6 0.7 0.6 0.1 0.6 0.5 0.6 -0.5 0.6 0.7 0.6 0.2 0.6 -0.2 0.6 1.3 0.6 0.6 0.6 0.2 0.6 -0.6 0.6 0.6 0.6 -1.1 0.6 0.4 0.6 -0.1 0.6 -0.4 0.6 1.4 0.6 -1.7 0.6 1.7 0.6 -0.3 0.6 0 0.6 0.1 0.6 -0.4 0.6 1.3 0.6 0 0.6 -0.4 0.6 0 0.6 -0.6 0.6 1.3 0.6 0.1 0.6 0.5 0.6 -1.4 0.6 0.8 0.6 -1.3 0.6 0.9 0.6 0.4 0.6 0.1 0.6 -0.5 0.6 0.6 0.6 -0.4 0.6 1.2 0.6 0.2 0.6 0 0.6 0.3 0.6 -0.4 0.6 -0.3 0.6 -0.6 0.6 0.9 0.6 -0.3 0.6 0.4 0.6 -0.1 0.6 0.3 0.6 1 0.6 -0.6 0.6 0.1 0.6 -0.6 0.6 1.1 0.6 -0.4 0.6 0.1 0.6 0.2 0.6 0.9 0.6 -1 0.6 0.5 0.6 0.1 0.6 0.2 0.6 0.2 0.6 0 0.6 0.4 0.6 -0.2 0.6 0.4 0.6 1 0.6 0.6 0.6 -0.1 0.6 0.3 0.6 0.3 0.6 -0.1 0.6 0 0.6 0.9 0.6 -0.2 0.6 -0.2 0.6 0.1 0.6 0.7 0.6 -0.3 0.6 0.6 0.6 0.7 0.6 0 0.6 0.3 0.6 0.8 0.6 -0.7 0.6 1 0.6 -0.5 0.6 1 0.6 -0.4 0.6 -0.2 0.6 1.8 0.6 -0.6 0.6 -0.3 0.6 0.3 0.6 -0.2 0.6 0.8 0.6 0.2" fill="none" stroke="#99cc00" stroke-width="1.7" stroke-linejoin="round"/>
<path d="M65 723.9l0.6 -1.1 0.6 1.6 0.6 -0.7 0.6 0.1 0.6 0.2 0.6 0.2 0.6 -1.3 0.6 1 0.6 0.5 0.6 -0.1 0.6 -0.8 0.6 0.6 0.6 0.9 0.6 -2.2 0.6 0.7 0.6 1 0.6 -0.5 0.6 0.1 0.6 -0.2 0.6 0.6 0.6 0.5 0.6 -0.9 0.6 -0.5 0.6 0.2 0.6 0.6 0.6 0.6 0.6 -0.7 0.6 -0.8 0.6 1 0.6 -1 0.6 1 0.6 0 0.6 -0.5 0.6 -0.1 0.6 -0.3 0.6 1.6 0.6 -0.4 0.6 -0.8 0.6 1.2 0.6 -1.3 0.6 1.2 0.6 -0.3 0.6 -0.7 0.6 0.1 0.6 -0.1 0.6 -0.1 0.6 0.7 0.6 -1.1 0.6 0.9 0.6 -0.6 0.6 0 0.6 0.1 0.6 -0.4 0.6 0.8 0.6 -1.4 0.6 0.9 0.6 -0.9 0.6 -1.2 0.6 2 0.6 0.2 0.6 -0.4 0.6 -0.2 0.6 -0.7 0.6 0.6 0.6 -0.3 0.6 0.1 0.6 -0.2 0.6 0.7 0.6 -1.5 0.6 -0.6 0.6 1 0.6 0.1 0.6 0.4 0.6 0.1 0.6 -0.5 0.6 0.7 0.6 0.2 0.6 -0.8 0.6 0 0.6 -0.4 0.6 0.2 0.6 -0.1 0.6 0.5 0.6 -0.8 0.6 0.6 0.6 -1.9 0.6 1 0.6 1.2 0.6 -1.4 0.6 -0.8 0.6 2 0.6 -0.9 0.6 -1 0.6 -0.5 0.6 0.4 0.6 0 0.6 -0.6 0.6 1.6 0.6 -0.9 0.6 0 0.6 1.7 0.6 -1.9 0.6 0.7 0.6 0.2 0.6 -1.1 0.6 1.5 0.6 -2.1 0.6 0.6 0.6 -0.3 0.6 1.6 0.6 -2.2 0.6 0.5 0.6 -0.7 0.6 1.1 0.6 -0.4 0.6 0.3 0.6 -0.8 0.6 0.5 0.6 0.1 0.6 -0.2 0.6 0.1 0.6 0 0.6 -1.5 0.6 1.1 0.6 -0.2 0.6 -0.9 0.6 1.2 0.6 -0.8 0.6 0.3 0.6 -0.3 0.6 -0.3 0.6 -0.3 0.6 1.2 0.6 -0.1 0.6 -1.3 0.6 0.5 0.6 0.5 0.6 0.9 0.6 -0.7 0.6 -0.6 0.6 -0.7 0.6 0.1 0.6 -0.1 0.6 -0.3 0.6 0.4 0.6 0.3 0.6 -0.6 0.6 0.7 0.6 0 0.6 0.5 0.6 -1 0.6 0.1 0.6 0.9 0.6 -0.9 0.6 1.1 0.6 0 0.6 -1.8 0.6 2.6 0.6 -0.6 0.6 0.3 0.6 -0.1 0.6 -0.5 0.6 0.4 0.6 -0.2 0.6 0.4 0.6 -0.8 0.6 0.4 0.6 0.9 0.6 -1 0.6 0.7 0.6 0.2 0.6 -0.5 0.6 -0.3 0.6 0.3 0.6 0 0.6 0.4 0.6 0.9 0.6 -0.8 0.6 0.7 0.6 -1.3 0.6 0.2 0.6 1.6 0.6 -1.6 0.6 -0.6 0.6 0.8 0.6 0.7 0.6 0 0.6 -0.6 0.6 0.1 0.6 0.7 0.6 -0.2 0.6 -0.6 0.6 0.7 0.6 0.2 0.6 0.7 0.6 0.1 0.6 -0.8 0.6 0.8 0.6 -0.7 0.6 0.7 0.6 -1.1 0.6 1 0.6 0.8 0.6 0.3 0.6 -1.1 0.6 0.6 0.6 -0.2 0.6 0.7 0.6 -0.3 0.6 -0.2 0.6 0.1 0.6 -0.4 0.6 1.6 0.6 -2 0.6 1.5 0.6 -1 0.6 0 0.6 0.9 0.6 0 0.6 0.1 0.6 -0.8 0.6 0.8 0.6 -0.4 0.6 1.3 0.6 -1.7 0.6 1.1 0.6 -0.5 0.6 0.8 0.6 -0.9 0.6 0.6 0.6 -0.4 0.6 0.4 0.6 -0.4 0.6 -0.6 0.6 0.3 0.6 0.5 0.6 0.3 0.6 0.1 0.6 -1.1 0.6 -0.6 0.6 0.3 0.6 0 0.6 -0.6 0.6 1.6 0.6 -1 0.6 -0.2 0.6 0.1 0.6 0.4 0.6 -1.3 0.6 0.5 0.6 0.7 0.6 -0.4 0.6 -0.3 0.6 0.3 0.6 0.3 0.6 -1.2 0.6 0.5 0.6 -0.6 0.6 0 0.6 0.1 0.6 1.1 0.6 -1.9 0.6 0.8 0.6 0 0.6 0 0.6 -0.4 0.6 0.6 0.6 0.4 0.6 -0.1 0.6 -0.2 0.6 -0.2 0.6 -0.7 0.6 0.6 0.6 -0.9 0.6 0.7 0.6 0.3 0.6 -1.4 0.6 0.5 0.6 0.5 0.6 0.2 0.6 0.3 0.6 0.3 0.6 -0.3 0.6 -1.4 0.6 1.5 0.6 -0.4 0.6 -1 0.6 1.7 0.6 -0.3 0.6 -0.5 0.6 0.3 0.6 0.1 0.6 -0.2 0.6 -0.6 0.6 0.6 0.6 -0.4 0.6 -0.2 0.6 1.4 0.6 -0.4 0.6 -0.5 0.6 1.1 0.6 -0.4 0.6 -0.4 0.6 0.6 0.6 -0.1 0.6 -0.5 0.6 0.9 0.6 -0.8 0.6 0.5 0.6 0.3 0.6 -0.9 0.6 0.3 0.6 0.8 0.6 -1.2 0.6 1.2 0.6 -1.3 0.6 1.1 0.6 -0.4 0.6 0.9 0.6 -1.1 0.6 0.1 0.6 0.1 0.6 0.7 0.6 -1.3 0.6 0.5 0.6 0.9 0.6 -0.5 0.6 0.6 0.6 -1.2 0.6 0.4 0.6 -0.6 0.6 1.5 0.6 -1.1 0.6 1 0.6 -1.6 0.6 0.2 0.6 -0.5 0.6 1.6 0.6 -1 0.6 0.7 0.6 0.4 0.6 -1.1 0.6 -0.5 0.6 0.4 0.6 -0.5 0.6 -0.1 0.6 1.4 0.6 -1.1 0.6 -0.4 0.6 1.8 0.6 -0.5 0.6 0 0.6 0 0.6 -0.3 0.6 -0.2 0.6 0 0.6 -0.2 0.6 -0.5 0.6 0.5 0.6 -0.4 0.6 0.1 0.6 -0.1 0.6 0 0.6 -0.1 0.6 1 0.6 -1.6 0.6 1.6 0.6 -1.8 0.6 0.7 0.6 -1.1 0.6 0.8 0.6 0.6 0.6 0.5 0.6 -0.8 0.6 -0.6 0.6 0.8 0.6 -0.2 0.6 -0.6 0.6 0.7 0.6 -1.9 0.6 1.6 0.6 -1.3 0.6 1.3 0.6 -0.7 0.6 -0.4 0.6 -0.5 0.6 0.9 0.6 0.2 0.6 -1.6 0.6 1.7 0.6 -1 0.6 1.4 0.6 -0.6 0.6 -1.6 0.6 1.6 0.6 0.5 0.6 0 0.6 -0.8 0.6 1.2 0.6 0.3 0.6 -1.1 0.6 -1.1 0.6 2.2 0.6 0.1 0.6 0 0.6 -0.5 0.6 0.7 0.6 0.4 0.6 -1.3 0.6 0.3 0.6 0.1 0.6 -0.2 0.6 -0.1 0.6 0.4 0.6 -0.4 0.6 0.6 0.6 -0.4 0.6 0.5 0.6 1.7 0.6 -1.3 0.6 1.1 0.6 -0.7 0.6 0.7 0.6 -0.8 0.6 0.5 0.6 0.5 0.6 -1.6 0.6 1.5 0.6 -0.5 0.6 -0.4 0.6 0.7 0.6 -1.6 0.6 1.6 0.6 0.2 0.6 0.8 0.6 -1.4 0.6 0.4 0.6 -0.8 0.6 0.8 0.6 -1.4 0.6 0.7 0.6 0.8 0.6 -0.4 0.6 -0.2 0.6 1.2 0.6 -1 0.6 -0.3 0.6 -0.2 0.6 0.4 0.6 0.1 0.6 0.8 0.6 -1.2 0.6 0.2 0.6 0.4 0.6 -0.2 0.6 -0.3 0.6 -0.1 0.6 0.3 0.6 0.1 0.6 -0.1 0.6 0.7 0.6 -0.2 0.6 0.3 0.6 -0.6 0.6 1.2 0.6 -0.8 0.6 -0.8 0.6 0.5 0.6 0.4 0.6 -0.2 0.6 -0.2 0.6 -0.7 0.6 1.4 0.6 -1.9 0.6 1.9 0.6 -0.8 0.6 -0.9 0.6 0.2 0.6 0.7 0.6 0.5 0.6 -1.2 0.6 0.9 0.6 -1 0.6 1 0.6 0.1 0.6 -0.2 0.6 1.1 0.6 -2.2 0.6 1.1 0.6 0.2 0.6 -1.6 0.6 0 0.6 1 0.6 0.6 0.6 -0.2 0.6 -1 0.6 1.2 0.6 -0.2 0.6 0.3 0.6 1 0.6 -2 0.6 0.5 0.6 0.5 0.6 0 0.6 -0.1 0.6 -1.3 0.6 0.3 0.6 0.9 0.6 -0.5 0.6 -0.7 0.6 1.7 0.6 0.2 0.6 -0.3 0.6 -2.3 0.6 0.4 0.6 1.5 0.6 0.2 0.6 -1 0.6 0.2 0.6 1.6 0.6 -1.3 0.6 0.6 0.6 -0.8 0.6 0.1 0.6 -0.9 0.6 1.2 0.6 -0.2 0.6 -0.3 0.6 0.9 0.6 -0.1 0.6 -1.1 0.6 -1 0.6 1.6 0.6 -1.1 0.6 1.1 0.6 0.6 0.6 0.3 0.6 -0.6 0.6 -1.1 0.6 1.4 0.6 -0.5 0.6 0.3 0.6 -0.7 0.6 0 0.6 -0.1 0.6 0.7 0.6 -0.1 0.6 1.1 0.6 -1.5 0.6 0.1 0.6 0.1 0.6 -0.5 0.6 0.2 0.6 1.1 0.6 -1.2 0.6 0.7 0.6 -0.3 0.6 0.4 0.6 -1.8 0.6 2.8 0.6 -2.1 0.6 0.7 0.6 0.4 0.6 0.1 0.6 -0.1 0.6 -0.5 0.6 0.2 0.6 -1 0.6 -0.7 0.6 0.4 0.6 0.6 0.6 -0.5 0.6 -1 0.6 1.7 0.6 -0.2 0.6 -0.7 0.6 1 0.6 0.8 0.6 -0.8 0.6 -0.2 0.6 -1.4 0.6 0.4 0.6 0.1 0.6 0.3 0.6 0.4 0.6 0 0.6 -1 0.6 0.5 0.6 -0.3 0.6 -0.5 0.6 -0.7 0.6 0.6 0.6 0.1 0.6 -1.5 0.6 1.5 0.6 0.1 0.6 -0.4 0.6 -0.9 0.6 0 0.6 0.4 0.6 0.1 0.6 0 0.6 0 0.6 -0.9 0.6 0.9 0.6 -0.4 0.6 0.3 0.6 0.2 0.6 0.3 0.6 -0.9 0.6 -0.5 0.6 0.4 0.6 -0.6 0.6 0.5 0.6 -0.8 0.6 0.4 0.6 -0.9 0.6 0.2 0.6 0.3 0.6 0 0.6 -0.5 0.6 -0.1 0.6 -1 0.6 0.7 0.6 -0.6 0.6 0.3 0.6 0.5 0.6 0 0.6 0.3 0.6 0 0.6 -1.8 0.6 0.8 0.6 0.2 0.6 -0.8 0.6 0.8 0.6 0.6 0.6 -1.4 0.6 -0.2 0.6 1.9 0.6 -1 0.6 -0.2 0.6 -1.5 0.6 0.8 0.6 1.1 0.6 -0.2 0.6 -0.6 0.6 0.3 0.6 0.3 0.6 -0.6 0.6 0.3 0.6 1.6 0.6 -1.2 0.6 -0.4 0.6 0.4 0.6 0.1 0.6 0.6 0.6 -0.7 0.6 0.7 0.6 0.6 0.6 -0.7 0.6 0.3 0.6 -1.2 0.6 0.3 0.6 0.7 0.6 0.1 0.6 -0.2 0.6 -0.3 0.6 0.5 0.6 -0.7 0.6 0.9 0.6 -1.2 0.6 0.6 0.6 0.4 0.6 0.1 0.6 1.2 0.6 -1.9 0.6 -0.2 0.6 -0.2 0.6 -0.2 0.6 0.9 0.6 -0.9 0.6 1.2 0.6 -0.6 0.6 0 0.6 -0.5 0.6 0.6 0.6 -0.4 0.6 0.2 0.6 0.1 0.6 0.4 0.6 -1.4 0.6 0.5 0.6 0.9 0.6 -0.9 0.6 0.7 0.6 -0.3 0.6 -0.7 0.6 -0.2 0.6 -1.4 0.6 1.7 0.6 -0.5 0.6 0.7 0.6 -0.8 0.6 0.2 0.6 -0.4 0.6 0.3 0.6 -0.3 0.6 0.3 0.6 -0.8 0.6 -0.7 0.6 1.2 0.6 -0.3 0.6 0.3 0.6 -1.8 0.6 0.1 0.6 0.8 0.6 0.1 0.6 0 0.6 0.6 0.6 -0.6 0.6 -0.3 0.6 0.9 0.6 -0.9 0.6 -0.1 0.6 0 0.6 0.4 0.6 1.3 0.6 -0.9 0.6 -0.5 0.6 -0.2 0.6 -0.2 0.6 0.4 0.6 0.5 0.6 -0.9 0.6 0.8 0.6 -0.1 0.6 0.5 0.6 -1.2 0.6 0.9 0.6 -0.2 0.6 1.5 0.6 -0.7 0.6 -0.2 0.6 -0.1 0.6 0.3 0.6 1 0.6 -1.5 0.6 0.7 0.6 0.1 0.6 -0.1 0.6 -1.1 0.6 0.9 0.6 -0.3 0.6 0 0.6 0 0.6 -0.2 0.6 0.3 0.6 0 0.6 0.2 0.6 0 0.6 0.6 0.6 -1 0.6 0.7 0.6 0.5 0.6 0 0.6 -0.1 0.6 -2.4 0.6 1.5 0.6 0.4 0.6 -1.8 0.6 2.6 0.6 0.4 0.6 -0.8 0.6 0.3 0.6 -1.4 0.6 1.2 0.6 -0.9 0.6 1.2 0.6 -1.5 0.6 0.3 0.6 1.6 0.6 -0.2 0.6 -0.6 0.6 -0.7 0.6 1.2 0.6 1.2 0.6 -1.6 0.6 -0.4 0.6 0.9 0.6 -0.2 0.6 -0.2 0.6 0 0.6 -0.2 0.6 1 0.6 -0.2 0.6 0.2 0.6 -0.5 0.6 -0.1 0.6 0.9 0.6 0.2 0.6 -0.6 0.6 0.7 0.6 -0.9 0.6 0.7 0.6 -0.8 0.6 0.5 0.6 -0.3 0.6 0.8 0.6 -0.6 0.6 0.5 0.6 -0.1 0.6 -0.2 0.6 0.1 0.6 -0.4 0.6 0.6 0.6 -0.5 0.6 1.4 0.6 -0.5 0.6 0.1 0.6 -0.4 0.6 -0.4 0.6 0.1 0.6 0.8 0.6 -0.6 0.6 1.4 0.6 -0.1 0.6 0 0.6 0.2 0.6 -0.4 0.6 -0.4 0.6 0.6 0.6 0 0.6 -0.2 0.6 1.2 0.6 -0.8 0.6 -0.3 0.6 0.3 0.6 -0.4 0.6 0.6 0.6 0.1 0.6 -0.4 0.6 1.9 0.6 0.1 0.6 -0.8 0.6 -0.7 0.6 0.1 0.6 0.1 0.6 0.8 0.6 0.2 0.6 -0.2 0.6 -0.6 0.6 0.8 0.6 0.1 0.6 -0.8 0.6 0.1 0.6 0.4 0.6 0.2 0.6 -0.2 0.6 0.6 0.6 -0.3 0.6 0.3 0.6 0.7 0.6 -0.8 0.6 0.4 0.6 0.6 0.6 -0.1 0.6 0.1 0.6 0.1 0.6 -0.5 0.6 0.6 0.6 0.4 0.6 -0.7 0.6 2.2 0.6 -1.2 0.6 -1 0.6 1.2 0.6 0.6 0.6 -1.4 0.6 0.1 0.6 0.9 0.6 -0.5 0.6 1.2 0.6 -1.1 0.6 -0.2 0.6 -0.3 0.6 0.8 0.6 0 0.6 0.3 0.6 -0.3 0.6 -1.1 0.6 -0.1 0.6 0.6 0.6 0.1 0.6 -0.6 0.6 0.2 0.6 -1.1 0.6 1.1 0.6 0.5 0.6 -0.4 0.6 0.6 0.6 -1.2 0.6 0.3 0.6 0.2 0.6 0.1 0.6 -1 0.6 0.9 0.6 -1.1 0.6 2.1 0.6 -1 0.6 -0.5 0.6 0 0.6 0.1 0.6 0.4 0.6 -0.6 0.6 0.9 0.6 0 0.6 0 0.6 -1.7 0.6 2.1 0.6 -1 0.6 0.9 0.6 1.3 0.6 -1.5 0.6 -0.3 0.6 1.1 0.6 -1 0.6 0.4 0.6 0 0.6 -0.3 0.6 0.1 0.6 -0.4 0.6 0.9 0.6 -1.2 0.6 1.4 0.6 -0.6 0.6 -0.4 0.6 0.7 0.6 -0.4 0.6 0.8 0.6 1 0.6 -0.8 0.6 1 0.6 -1.3 0.6 0.2 0.6 -1.3 0.6 1 0.6 -0.2 0.6 1.3 0.6 -1.7 0.6 -0.4 0.6 1 0.6 -0.5 0.6 1.2 0.6 0.1 0.6 -0.8 0.6 -0.3 0.6 1 0.6 -0.7 0.6 0.5 0.6 -0.5 0.6 1.8 0.6 -1.1 0.6 0.2 0.6 0.5 0.6 -1.2 0.6 0.8 0.6 -0.8 0.6 -0.3 0.6 0.9 0.6 0.2 0.6 0.3 0.6 0 0.6 -0.3 0.6 0 0.6 -0.9 0.6 1.4 0.6 0.6 0.6 0.6 0.6 -0.6 0.6 0 0.6 0 0.6 0.1 0.6 -0.5 0.6 -0.5 0.6 0.8 0.6 -0.3 0.6 0.4 0.6 -0.1 0.6 0.1 0.6 -0.4 0.6 0.8 0.6 0.4 0.6 -0.2 0.6 -0.1 0.6 -0.6 0.6 0.7 0.6 0.5 0.6 0.1 0.6 -0.4 0.6 -0.5 0.6 -0.5 0.6 -0.1 0.6 -0.1 0.6 0.5 0.6 0.7 0.6 0.8 0.6 -1.2 0.6 0.6 0.6 -0.4 0.6 0.4 0.6 -1.1 0.6 1.8 0.6 -1.2 0.6 1 0.6 0.7 0.6 -0.8 0.6 -0.4 0.6 -0.2 0.6 0.8 0.6 0.1 0.6 1.3 0.6 -1.3 0.6 0.1 0.6 0.4 0.6 0.8 0.6 -1.4 0.6 0.2 0.6 -0.2 0.6 -0.4 0.6 0.2 0.6 1.9 0.6 -1.5 0.6 0.7 0.6 -0.3 0.6 -0.2 0.6 0.3 0.6 1.3 0.6 -0.6 0.6 -1 0.6 1.9 0.6 -0.3 0.6 -1.1 0.6 0.8 0.6 -0.8 0.6 0.6 0.6 -0.7 0.6 1.1 0.6 -1.3 0.6 2.3 0.6 -2.5 0.6 0.9 0.6 0.6 0.6 -0.5 0.6 1.4 0.6 -0.4 0.6 -1 0.6 1.4 0.6 0.2 0.6 -0.8 0.6 -0.5 0.6 -0.1 0.6 0.6 0.6 -1.6 0.6 1.3 0.6 -0.1 0.6 0.7 0.6 1 0.6 -1.3 0.6 0.6 0.6 -0.2 0.6 1.3 0.6 -1.6 0.6 0.2 0.6 1.1 0.6 -0.2 0.6 -1.5 0.6 1.1 0.6 -0.8 0.6 0.7 0.6 0.2 0.6 -0.6 0.6 1.1 0.6 -0.6 0.6 0.4 0.6 0.5 0.6 -0.8 0.6 0.5 0.6 0.3 0.6 0.1 0.6 -0.6 0.6 -0.5 0.6 0.5 0.6 -0.2 0.6 0.4 0.6 -0.7 0.6 1.3 0.6 -0.2 0.6 0.2 0.6 0.4 0.6 -1.6 0.6 0.9 0.6 1 0.6 -0.2 0.6 -1.3 0.6 0.4 0.6 0.5 0.6 1.2 0.6 -1.6 0.6 0.3 0.6 -0.1 0.6 0 0.6 -0.7 0.6 0.8 0.6 -0.8 0.6 0.1 0.6 -0.2 0.6 -0.4 0.6 2.2 0.6 -1 0.6 -0.3 0.6 0.7 0.6 -0.5 0.6 1 0.6 -1.3 0.6 0.3 0.6 0.6 0.6 -0.7 0.6 0.4 0.6 1.1 0.6 -0.1 0.6 -1.2 0.6 -0.5 0.6 1.6 0.6 -0.8 0.6 1.2 0.6 -1.6 0.6 1.6 0.6 -1.7 0.6 1.5 0.6 -1.8 0.6 -0.3 0.6 1.9 0.6 -0.5 0.6 0.7 0.6 -0.4 0.6 0 0.6 0.1 0.6 -0.4 0.6 0.9 0.6 -0.2 0.6 0.9 0.6 -2.2 0.6 1 0.6 0.6 0.6 0.5 0.6 -1.3 0.6 -0.1 0.6 -0.1 0.6 0.2 0.6 -0.3 0.6 0.8 0.6 -0.8 0.6 1.1 0.6 0 0.6 -1 0.6 1.3 0.6 -0.3 0.6 0.5 0.6 -0.4 0.6 0.2 0.6 -1.2" fill="none" stroke="#00aa1a" stroke-width="1.7" stroke-linejoin="round"/>
<path d="M74.54 329.80V324.30M74.54 1.00V6.50M103.84 329.80V324.30M103.84 1.00V6.50M133.15 329.80V319.30M133.15 1.00V11.50M162.45 329.80V324.30M162.45 1.00V6.50M191.76 329.80V324.30M191.76 1.00V6.50M221.06 329.80V324.30M221.06 1.00V6.50M250.37 329.80V324.30M250.37 1.00V6.50M279.67 329.80V319.30M279.67 1.00V11.50M308.98 329.80V324.30M308.98 1.00V6.50M338.28 329.80V324.30M338.28 1.00V6.50M367.59 329.80V324.30M367.59 1.00V6.50M396.89 329.80V324.30M396.89 1.00V6.50M426.20 329.80V319.30M426.20 1.00V11.50M455.50 329.80V324.30M455.50 1.00V6.50M484.81 329.80V324.30M484.81 1.00V6.50M514.12 329.80V324.30M514.12 1.00V6.50M543.42 329.80V324.30M543.42 1.00V6.50M572.73 329.80V319.30M572.73 1.00V11.50M602.03 329.80V324.30M602.03 1.00V6.50M631.34 329.80V324.30M631.34 1.00V6.50M660.64 329.80V324.30M660.64 1.00V6.50M689.94 329.80V324.30M689.94 1.00V6.50M719.25 329.80V319.30M719.25 1.00V11.50M748.56 329.80V324.30M748.56 1.00V6.50M777.86 329.80V324.30M777.86 1.00V6.50M807.16 329.80V324.30M807.16 1.00V6.50M836.47 329.80V324.30M836.47 1.00V6.50M865.77 329.80V319.30M865.77 1.00V11.50M895.08 329.80V324.30M895.08 1.00V6.50M924.38 329.80V324.30M924.38 1.00V6.50M953.69 329.80V324.30M953.69 1.00V6.50M982.99 329.80V324.30M982.99 1.00V6.50M1012.30 329.80V319.30M1012.30 1.00V11.50M60.00 329.80H70.50M1012.00 329.80H1001.50M60.00 299.91H65.50M1012.00 299.91H1006.50M60.00 270.02H70.50M1012.00 270.02H1001.50M60.00 240.13H65.50M1012.00 240.13H1006.50M60.00 210.24H70.50M1012.00 210.24H1001.50M60.00 180.35H65.50M1012.00 180.35H1006.50M60.00 150.45H70.50M1012.00 150.45H1001.50M60.00 120.56H65.50M1012.00 120.56H1006.50M60.00 90.67H70.50M1012.00 90.67H1001.50M60.00 60.78H65.50M1012.00 60.78H1006.50M60.00 30.89H70.50M1012.00 30.89H1001.50M60.00 1.00H65.50M1012.00 1.00H1006.50M74.54 665.30V659.80M74.54 336.30V341.80M103.84 665.30V659.80M103.84 336.30V341.80M133.15 665.30V654.80M133.15 336.30V346.80M162.45 665.30V659.80M162.45 336.30V341.80M191.76 665.30V659.80M191.76 336.30V341.80M221.06 665.30V659.80M221.06 336.30V341.80M250.37 665.30V659.80M250.37 336.30V341.80M279.67 665.30V654.80M279.67 336.30V346.80M308.98 665.30V659.80M308.98 336.30V341.80M338.28 665.30V659.80M338.28 336.30V341.80M367.59 665.30V659.80M367.59 336.30V341.80M396.89 665.30V659.80M396.89 336.30V341.80M426.20 665.30V654.80M426.20 336.30V346.80M455.50 665.30V659.80M455.50 336.30V341.80M484.81 665.30V659.80M484.81 336.30V341.80M514.12 665.30V659.80M514.12 336.30V341.80M543.42 665.30V659.80M543.42 336.30V341.80M572.73 665.30V654.80M572.73 336.30V346.80M602.03 665.30V659.80M602.03 336.30V341.80M631.34 665.30V659.80M631.34 336.30V341.80M660.64 665.30V659.80M660.64 336.30V341.80M689.94 665.30V659.80M689.94 336.30V341.80M719.25 665.30V654.80M719.25 336.30V346.80M748.56 665.30V659.80M748.56 336.30V341.80M777.86 665.30V659.80M777.86 336.30V341.80M807.16 665.30V659.80M807.16 336.30V341.80M836.47 665.30V659.80M836.47 336.30V341.80M865.77 665.30V654.80M865.77 336.30V346.80M895.08 665.30V659.80M895.08 336.30V341.80M924.38 665.30V659.80M924.38 336.30V341.80M953.69 665.30V659.80M953.69 336.30V341.80M982.99 665.30V659.80M982.99 336.30V341.80M1012.30 665.30V654.80M1012.30 336.30V346.80M60.00 665.30H70.50M1012.00 665.30H1001.50M60.00 635.39H65.50M1012.00 635.39H1006.50M60.00 605.48H70.50M1012.00 605.48H1001.50M60.00 575.57H65.50M1012.00 575.57H1006.50M60.00 545.66H70.50M1012.00 545.66H1001.50M60.00 515.75H65.50M1012.00 515.75H1006.50M60.00 485.85H70.50M1012.00 485.85H1001.50M60.00 455.94H65.50M1012.00 455.94H1006.50M60.00 426.03H70.50M1012.00 426.03H1001.50M60.00 396.12H65.50M1012.00 396.12H1006.50M60.00 366.21H70.50M1012.00 366.21H1001.50M60.00 336.30H65.50M1012.00 336.30H1006.50M74.54 1000.60V995.10M74.54 672.00V677.50M103.84 1000.60V995.10M103.84 672.00V677.50M133.15 1000.60V990.10M133.15 672.00V682.50M162.45 1000.60V995.10M162.45 672.00V677.50M191.76 1000.60V995.10M191.76 672.00V677.50M221.06 1000.60V995.10M221.06 672.00V677.50M250.37 1000.60V995.10M250.37 672.00V677.50M279.67 1000.60V990.10M279.67 672.00V682.50M308.98 1000.60V995.10M308.98 672.00V677.50M338.28 1000.60V995.10M338.28 672.00V677.50M367.59 1000.60V995.10M367.59 672.00V677.50M396.89 1000.60V995.10M396.89 672.00V677.50M426.20 1000.60V990.10M426.20 672.00V682.50M455.50 1000.60V995.10M455.50 672.00V677.50M484.81 1000.60V995.10M484.81 672.00V677.50M514.12 1000.60V995.10M514.12 672.00V677.50M543.42 1000.60V995.10M543.42 672.00V677.50M572.73 1000.60V990.10M572.73 672.00V682.50M602.03 1000.60V995.10M602.03 672.00V677.50M631.34 1000.60V995.10M631.34 672.00V677.50M660.64 1000.60V995.10M660.64 672.00V677.50M689.94 1000.60V995.10M689.94 672.00V677.50M719.25 1000.60V990.10M719.25 672.00V682.50M748.56 1000.60V995.10M748.56 672.00V677.50M777.86 1000.60V995.10M777.86 672.00V677.50M807.16 1000.60V995.10M807.16 672.00V677.50M836.47 1000.60V995.10M836.47 672.00V677.50M865.77 1000.60V990.10M865.77 672.00V682.50M895.08 1000.60V995.10M895.08 672.00V677.50M924.38 1000.60V995.10M924.38 672.00V677.50M953.69 1000.60V995.10M953.69 672.00V677.50M982.99 1000.60V995.10M982.99 672.00V677.50M1012.30 1000.60V990.10M1012.30 672.00V682.50M60.00 1000.60H70.50M1012.00 1000.60H1001.50M60.00 961.94H65.50M1012.00 961.94H1006.50M60.00 923.28H70.50M1012.00 923.28H1001.50M60.00 884.62H65.50M1012.00 884.62H1006.50M60.00 845.96H70.50M1012.00 845.96H1001.50M60.00 807.31H65.50M1012.00 807.31H1006.50M60.00 768.65H70.50M1012.00 768.65H1001.50M60.00 729.99H65.50M1012.00 729.99H1006.50M60.00 691.33H70.50M1012.00 691.33H1001.50" stroke="#000" stroke-width="1.8" fill="none"/>
<rect x="60.0" y="1.0" width="952.00" height="328.80" fill="none" stroke="#000" stroke-width="2"/>
<rect x="60.0" y="336.3" width="952.00" height="329.00" fill="none" stroke="#000" stroke-width="2"/>
<rect x="60.0" y="672.0" width="952.00" height="328.60" fill="none" stroke="#000" stroke-width="2"/>
<g font-family="Liberation Sans, sans-serif" font-size="24.3" fill="#000" stroke="#000" stroke-width="0.3">
<text x="45.6" y="339.30" text-anchor="end">0</text>
<text x="45.6" y="279.52" text-anchor="end">1</text>
<text x="45.6" y="219.74" text-anchor="end">2</text>
<text x="45.6" y="159.95" text-anchor="end">3</text>
<text x="45.6" y="100.17" text-anchor="end">4</text>
<text x="45.6" y="40.39" text-anchor="end">5</text>
<text x="45.6" y="674.80" text-anchor="end">0</text>
<text x="45.6" y="614.98" text-anchor="end">1</text>
<text x="45.6" y="555.16" text-anchor="end">2</text>
<text x="45.6" y="495.35" text-anchor="end">3</text>
<text x="45.6" y="435.53" text-anchor="end">4</text>
<text x="45.6" y="375.71" text-anchor="end">5</text>
<text x="45.6" y="1010.10" text-anchor="end">0</text>
<text x="45.6" y="932.78" text-anchor="end">1</text>
<text x="45.6" y="855.46" text-anchor="end">2</text>
<text x="45.6" y="778.15" text-anchor="end">3</text>
<text x="45.6" y="700.83" text-anchor="end">4</text>
<text x="133.15" y="1037.0" text-anchor="middle">-10</text>
<text x="279.67" y="1037.0" text-anchor="middle">-5</text>
<text x="426.20" y="1037.0" text-anchor="middle">0</text>
<text x="572.73" y="1037.0" text-anchor="middle">5</text>
<text x="719.25" y="1037.0" text-anchor="middle">10</text>
<text x="865.77" y="1037.0" text-anchor="middle">15</text>
<text x="1012.30" y="1037.0" text-anchor="middle">20</text>
<text x="535.1" y="1067" text-anchor="middle">Coordinate along slow scanning axis [µm]</text>
<text transform="translate(18.0 165.4) rotate(-90)" text-anchor="middle">Surface height [nm]</text>
<text transform="translate(18.0 501.8) rotate(-90)" text-anchor="middle">Surface height [nm]</text>
<text transform="translate(18.0 837.5) rotate(-90)" text-anchor="middle">Difference from ideal shape [nm]</text>
<text transform="translate(891.8 845.5) rotate(-90)" text-anchor="middle">Mean square difference</text>
<text transform="translate(918.5 846.3) rotate(-90)" text-anchor="middle">from ideal shape</text>
<g font-weight="bold">
<text x="423.2" y="34.3" text-anchor="middle">Measured data – profiles</text>
<text x="422.7" y="369.3" text-anchor="middle">Artificial data – profiles</text>
<text x="423" y="699.2" text-anchor="middle">Artificial data – residuals</text>
</g>
<text x="781.2" y="39.4" fill="#00aa1a" stroke="#00aa1a" stroke-width="0.3">Tilt + masked MoD</text>
<text x="781.2" y="105.2" fill="#99cc00" stroke="#99cc00" stroke-width="0.3">Tilt + MoD</text>
<text x="781.2" y="153.3" fill="#cccc00" stroke="#cccc00" stroke-width="0.3">MoD</text>
<text x="781.2" y="188.6" fill="#dd9900" stroke="#dd9900" stroke-width="0.3">Tilt</text>
<text x="781.2" y="225" fill="#dd5500" stroke="#dd5500" stroke-width="0.3">Mean</text>
<text x="781.2" y="261.4" fill="#dd0033" stroke="#dd0033" stroke-width="0.3">Median</text>
<text x="781.2" y="299.8" fill="#000000" stroke="#000000" stroke-width="0.3">As measured</text>
<text x="781.2" y="375.4" fill="#00aa1a" stroke="#00aa1a" stroke-width="0.3">Tilt + masked MoD</text>
<text x="781.2" y="434.6" fill="#99cc00" stroke="#99cc00" stroke-width="0.3">Tilt + MoD</text>
<text x="781.2" y="464.4" fill="#cccc00" stroke="#cccc00" stroke-width="0.3">MoD</text>
<text x="781.2" y="494.4" fill="#dd9900" stroke="#dd9900" stroke-width="0.3">Tilt</text>
<text x="781.2" y="519.3" fill="#dd5500" stroke="#dd5500" stroke-width="0.3">Mean</text>
<text x="781.2" y="542.4" fill="#dd0033" stroke="#dd0033" stroke-width="0.3">Median</text>
<text x="781.2" y="565.6" fill="#000000" stroke="#000000" stroke-width="0.3">As generated</text>
<text x="859.8" y="738.4" fill="#00aa1a" stroke="#00aa1a" stroke-width="0.3" text-anchor="end">79 pm</text>
<text x="859.8" y="827.4" fill="#99cc00" stroke="#99cc00" stroke-width="0.3" text-anchor="end">300 pm</text>
<text x="859.8" y="858.2" fill="#cccc00" stroke="#cccc00" stroke-width="0.3" text-anchor="end">328 pm</text>
<text x="859.8" y="897.4" fill="#dd9900" stroke="#dd9900" stroke-width="0.3" text-anchor="end">373 pm</text>
<text x="859.8" y="931.8" fill="#dd5500" stroke="#dd5500" stroke-width="0.3" text-anchor="end">374 pm</text>
<text x="859.8" y="959" fill="#dd0033" stroke="#dd0033" stroke-width="0.3" text-anchor="end">375 pm</text>
<text x="859.8" y="987" fill="#000000" stroke="#000000" stroke-width="0.3" text-anchor="end">74 pm</text>
</g>
</svg></body></html>
